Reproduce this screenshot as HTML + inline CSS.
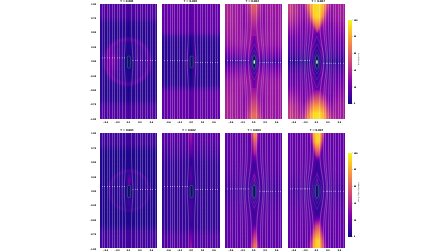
<!DOCTYPE html>
<html><head><meta charset="utf-8"><title>figure</title>
<style>
html,body{margin:0;padding:0;background:#fff}
body{width:448px;height:252px;position:relative;overflow:hidden}
.p{position:absolute;width:57.30px;height:115.30px;overflow:hidden}
.p>b{position:absolute;left:-2px;top:-2px;right:-2px;bottom:-2px;filter:blur(0.6px)}
.p i{position:absolute;left:0;width:100%;display:block}
svg{position:absolute;left:0;top:0}
.cb{position:absolute}
</style></head><body>

<div class="p" style="left:99.75px;top:4.20px"><b><i style="top:0.0px;height:7.05px;background:linear-gradient(90deg,#5002a2 0.0px,#5002a2 29.2px,#3c049b 30.8px,#4b03a1 31.5px,#5002a2 33.0px,#5002a2 60.8px)"></i><i style="top:7.0px;height:4.05px;background:linear-gradient(90deg,#5002a2 0.0px,#5002a2 29.2px,#48039f 30.0px,#3a049a 30.8px,#4b03a1 31.5px,#5002a2 33.0px,#5002a2 60.8px)"></i><i style="top:11.0px;height:1.05px;background:linear-gradient(90deg,#5002a2 0.0px,#4e02a2 29.2px,#3a049a 30.8px,#4b03a1 31.5px,#5002a2 33.0px,#5002a2 60.8px)"></i><i style="top:12.0px;height:1.05px;background:linear-gradient(90deg,#4e02a2 0.0px,#4e02a2 29.2px,#3a049a 30.8px,#4903a0 31.5px,#4e02a2 33.0px,#4e02a2 60.8px)"></i><i style="top:13.0px;height:1.05px;background:linear-gradient(90deg,#4e02a2 0.0px,#4c02a1 29.2px,#38049a 30.8px,#4903a0 31.5px,#4e02a2 33.0px,#4e02a2 60.8px)"></i><i style="top:14.0px;height:1.05px;background:linear-gradient(90deg,#4c02a1 0.0px,#4b03a1 29.2px,#370499 30.8px,#48039f 31.5px,#4c02a1 33.0px,#4c02a1 60.8px)"></i><i style="top:15.0px;height:1.05px;background:linear-gradient(90deg,#4903a0 0.0px,#4903a0 29.2px,#41049d 30.0px,#330597 30.8px,#44039e 31.5px,#4903a0 33.0px,#4903a0 60.8px)"></i><i style="top:16.0px;height:1.05px;background:linear-gradient(90deg,#46039f 0.0px,#44039e 29.2px,#2f0596 30.8px,#41049d 31.5px,#46039f 33.0px,#46039f 60.8px)"></i><i style="top:17.0px;height:1.05px;background:linear-gradient(90deg,#41049d 0.0px,#3f049c 29.2px,#2a0593 30.8px,#3c049b 31.5px,#41049d 32.2px,#41049d 60.8px)"></i><i style="top:18.0px;height:1.05px;background:linear-gradient(90deg,#3a049a 0.0px,#3a049a 29.2px,#240691 30.8px,#370499 31.5px,#3a049a 33.8px,#3a049a 60.8px)"></i><i style="top:19.0px;height:1.05px;background:linear-gradient(90deg,#350498 0.0px,#350498 29.2px,#2c0594 30.0px,#1d068e 30.8px,#2f0596 31.5px,#350498 32.2px,#350498 60.8px)"></i><i style="top:20.0px;height:1.05px;background:linear-gradient(90deg,#310597 0.0px,#310597 29.2px,#16078a 30.8px,#2c0594 31.5px,#310597 32.2px,#310597 60.8px)"></i><i style="top:21.0px;height:1.05px;background:linear-gradient(90deg,#2e0595 0.0px,#2e0595 29.2px,#240691 30.0px,#100788 30.8px,#280592 31.5px,#2e0595 32.2px,#2e0595 60.8px)"></i><i style="top:22.0px;height:1.05px;background:linear-gradient(90deg,#2c0594 0.0px,#2c0594 29.2px,#20068f 30.0px,#0d0887 30.8px,#260591 31.5px,#2c0594 32.2px,#2c0594 60.8px)"></i><i style="top:23.0px;height:1.05px;background:linear-gradient(90deg,#2a0593 0.0px,#2a0593 29.2px,#20068f 30.0px,#0d0887 30.8px,#240691 31.5px,#2a0593 32.2px,#2a0593 60.8px)"></i><i style="top:24.0px;height:1.05px;background:linear-gradient(90deg,#2a0593 0.0px,#280592 29.2px,#1d068e 30.0px,#0d0887 30.8px,#240691 31.5px,#2a0593 32.2px,#2a0593 60.8px)"></i><i style="top:25.0px;height:1.05px;background:linear-gradient(90deg,#280592 0.0px,#280592 29.2px,#1d068e 30.0px,#0d0887 30.8px,#240691 31.5px,#280592 33.0px,#280592 60.8px)"></i><i style="top:26.0px;height:6.05px;background:linear-gradient(90deg,#280592 0.0px,#280592 29.2px,#1d068e 30.0px,#0d0887 30.8px,#220690 31.5px,#280592 32.2px,#280592 60.8px)"></i><i style="top:32.0px;height:1.05px;background:linear-gradient(90deg,#280592 0.0px,#280592 29.2px,#1d068e 30.0px,#0d0887 30.8px,#240691 31.5px,#280592 33.0px,#280592 60.8px)"></i><i style="top:33.0px;height:1.05px;background:linear-gradient(90deg,#280592 0.0px,#2a0593 29.2px,#20068f 30.0px,#0d0887 30.8px,#240691 31.5px,#2a0593 32.2px,#280592 60.8px)"></i><i style="top:34.0px;height:1.05px;background:linear-gradient(90deg,#280592 0.0px,#2c0594 24.8px,#2f0596 29.2px,#260591 30.0px,#16078a 30.8px,#2a0593 31.5px,#2e0595 33.0px,#280592 43.5px,#280592 60.8px)"></i><i style="top:35.0px;height:1.05px;background:linear-gradient(90deg,#280592 0.0px,#2c0594 21.0px,#3c049b 28.5px,#3c049b 29.2px,#350498 30.0px,#280592 30.8px,#370499 31.5px,#3a049a 32.2px,#2a0593 39.0px,#280592 60.8px)"></i><i style="top:36.0px;height:1.05px;background:linear-gradient(90deg,#280592 0.0px,#2e0595 18.8px,#4b03a1 27.0px,#4e02a2 29.2px,#3e049c 30.8px,#4903a0 31.5px,#48039f 33.8px,#2c0594 40.5px,#280592 51.0px,#280592 60.8px)"></i><i style="top:37.0px;height:1.05px;background:linear-gradient(90deg,#280592 0.0px,#2c0594 14.2px,#2f0596 17.2px,#5302a3 24.0px,#5502a4 27.8px,#5002a2 29.2px,#3c049b 30.8px,#4903a0 31.5px,#5102a3 33.0px,#4e02a2 36.0px,#2f0596 41.2px,#280592 46.5px,#280592 60.8px)"></i><i style="top:38.0px;height:1.05px;background:linear-gradient(90deg,#280592 0.0px,#2c0594 12.0px,#350498 16.5px,#5302a3 21.0px,#5801a4 24.0px,#48039f 29.2px,#370499 30.8px,#44039e 31.5px,#5102a3 33.8px,#5601a4 36.8px,#48039f 39.8px,#310597 42.8px,#280592 46.5px,#280592 60.8px)"></i><i style="top:39.0px;height:1.05px;background:linear-gradient(90deg,#280592 0.0px,#2a0593 8.2px,#330597 14.2px,#4903a0 17.2px,#5801a4 19.5px,#5901a5 21.0px,#38049a 29.2px,#280592 30.8px,#350498 31.5px,#4903a0 34.5px,#5601a4 37.5px,#5801a4 39.0px,#4b03a1 41.2px,#310597 44.2px,#280592 48.0px,#280592 60.8px)"></i><i style="top:40.0px;height:1.05px;background:linear-gradient(90deg,#280592 0.0px,#2c0594 9.0px,#330597 12.8px,#5801a4 17.2px,#5b01a5 18.8px,#3f049c 24.8px,#2e0595 29.2px,#1d068e 30.8px,#2a0593 31.5px,#44039e 36.0px,#5801a4 39.8px,#5302a3 42.0px,#2f0596 45.8px,#280592 48.8px,#280592 60.8px)"></i><i style="top:41.0px;height:1.05px;background:linear-gradient(90deg,#280592 0.0px,#2c0594 8.2px,#330597 11.2px,#43039e 13.5px,#5b01a5 15.8px,#5e01a6 17.2px,#41049d 21.8px,#2f0596 27.8px,#220690 30.0px,#19068c 30.8px,#240691 31.5px,#3e049c 36.8px,#5801a4 41.2px,#5801a4 42.8px,#310597 46.5px,#2a0593 48.8px,#280592 60.8px)"></i><i style="top:42.0px;height:1.05px;background:linear-gradient(90deg,#280592 0.0px,#2c0594 7.5px,#330597 10.5px,#48039f 12.8px,#5b01a5 14.2px,#6100a7 15.8px,#5302a3 18.0px,#41049d 20.2px,#2e0595 27.8px,#1b068d 30.8px,#2c0594 33.0px,#38049a 36.8px,#44039e 39.8px,#5901a5 42.8px,#5601a4 44.2px,#330597 47.2px,#2a0593 49.5px,#280592 60.8px)"></i><i style="top:43.0px;height:1.05px;background:linear-gradient(90deg,#280592 0.0px,#2c0594 7.5px,#3a049a 10.5px,#6001a6 13.5px,#6400a7 14.2px,#5e01a6 15.8px,#44039e 18.8px,#3a049a 21.8px,#330597 26.2px,#1b068d 30.8px,#310597 34.5px,#44039e 41.2px,#5601a4 43.5px,#5801a4 45.0px,#350498 48.0px,#2a0593 50.2px,#280592 60.8px)"></i><i style="top:44.0px;height:1.05px;background:linear-gradient(90deg,#280592 0.0px,#2c0594 6.8px,#3a049a 9.8px,#6300a7 12.8px,#6700a8 13.5px,#6001a6 15.0px,#4b03a1 17.2px,#3e049c 20.2px,#2f0596 27.0px,#1d068e 30.8px,#350498 36.0px,#3f049c 41.2px,#5901a5 45.0px,#5901a5 45.8px,#3f049c 48.0px,#2f0596 49.5px,#280592 52.5px,#280592 60.8px)"></i><i style="top:45.0px;height:1.05px;background:linear-gradient(90deg,#280592 0.0px,#2c0594 6.0px,#330597 8.2px,#44039e 9.8px,#6600a7 12.0px,#6700a8 13.5px,#4c02a1 16.5px,#3c049b 21.0px,#2e0595 27.0px,#1d068e 30.8px,#370499 36.8px,#41049d 42.8px,#5801a4 45.8px,#5901a5 46.5px,#4b03a1 48.0px,#350498 49.5px,#2a0593 51.8px,#280592 60.8px)"></i><i style="top:46.0px;height:1.05px;background:linear-gradient(90deg,#280592 0.0px,#2c0594 6.0px,#38049a 8.2px,#6600a7 11.2px,#6a00a8 12.0px,#6300a7 13.5px,#4903a0 17.2px,#2f0596 26.2px,#20068f 30.0px,#20068f 31.5px,#370499 36.8px,#41049d 43.5px,#5801a4 46.5px,#5901a5 47.2px,#5502a4 48.0px,#350498 50.2px,#2a0593 51.8px,#280592 60.8px)"></i><i style="top:47.0px;height:1.05px;background:linear-gradient(90deg,#280592 0.0px,#2c0594 5.2px,#370499 7.5px,#4c02a1 9.0px,#6600a7 10.5px,#6c00a8 11.2px,#6600a7 12.8px,#5502a4 15.0px,#3a049a 22.5px,#2f0596 26.2px,#1d068e 30.0px,#280592 33.8px,#38049a 37.5px,#41049d 44.2px,#5801a4 47.2px,#5302a3 48.8px,#330597 51.0px,#280592 53.2px,#280592 60.8px)"></i><i style="top:48.0px;height:1.05px;background:linear-gradient(90deg,#280592 0.0px,#2c0594 5.2px,#330597 6.8px,#48039f 8.2px,#6400a7 9.8px,#6c00a8 10.5px,#6700a8 12.0px,#5901a5 14.2px,#4903a0 18.8px,#2e0595 26.2px,#1d068e 30.0px,#20068f 32.2px,#38049a 37.5px,#3f049c 42.8px,#41049d 45.0px,#4b03a1 46.5px,#5801a4 48.0px,#5801a4 48.8px,#38049a 51.0px,#2c0594 52.5px,#280592 56.2px,#280592 60.8px)"></i><i style="top:49.0px;height:1.05px;background:linear-gradient(90deg,#280592 0.0px,#2e0595 5.2px,#38049a 6.8px,#5102a3 8.2px,#6a00a8 9.8px,#6e00a8 10.5px,#5c01a6 14.2px,#5302a3 17.2px,#3e049c 21.8px,#2e0595 26.2px,#1d068e 30.0px,#20068f 32.2px,#38049a 37.5px,#41049d 42.8px,#41049d 45.8px,#4b03a1 47.2px,#5801a4 48.8px,#5601a4 49.5px,#350498 51.8px,#2a0593 53.2px,#280592 60.8px)"></i><i style="top:50.0px;height:1.05px;background:linear-gradient(90deg,#280592 0.0px,#2c0594 4.5px,#330597 6.0px,#5901a5 8.2px,#6700a8 9.0px,#6e00a8 9.8px,#6100a7 13.5px,#5901a5 16.5px,#3e049c 21.8px,#280592 27.0px,#1d068e 30.8px,#260591 33.8px,#3e049c 39.0px,#41049d 43.5px,#41049d 46.5px,#5601a4 48.8px,#5801a4 49.5px,#5302a3 50.2px,#310597 52.5px,#280592 54.8px,#280592 60.8px)"></i><i style="top:51.0px;height:1.05px;background:linear-gradient(90deg,#280592 0.0px,#2c0594 4.5px,#370499 6.0px,#6100a7 8.2px,#6a00a8 9.0px,#6e00a8 9.8px,#6400a7 12.0px,#6100a7 15.8px,#3c049b 22.5px,#1d068e 29.2px,#1d068e 31.5px,#3e049c 39.0px,#43039e 42.8px,#3f049c 46.5px,#4903a0 48.0px,#5801a4 49.5px,#5801a4 50.2px,#2e0595 53.2px,#280592 56.2px,#280592 60.8px)"></i><i style="top:52.0px;height:1.05px;background:linear-gradient(90deg,#280592 0.0px,#2e0595 4.5px,#3c049b 6.0px,#6600a7 8.2px,#6e00a8 9.0px,#6600a7 12.0px,#6700a8 15.0px,#5601a4 18.0px,#3c049b 22.5px,#1d068e 29.2px,#1d068e 31.5px,#280592 34.5px,#41049d 39.8px,#44039e 42.8px,#3e049c 46.5px,#44039e 48.0px,#5502a4 49.5px,#5801a4 50.2px,#5302a3 51.0px,#310597 53.2px,#280592 55.5px,#280592 60.8px)"></i><i style="top:53.0px;height:1.05px;background:linear-gradient(90deg,#280592 0.0px,#2c0594 3.8px,#350498 5.2px,#4e02a2 6.8px,#5e01a6 7.5px,#6900a8 8.2px,#6e00a8 9.0px,#6600a7 11.2px,#6c00a8 14.2px,#6400a7 16.5px,#3c049b 22.5px,#260591 27.0px,#1b068d 30.8px,#240691 33.8px,#3f049c 39.0px,#46039f 42.0px,#3e049c 47.2px,#48039f 48.8px,#5801a4 50.2px,#5601a4 51.0px,#350498 53.2px,#2a0593 54.8px,#280592 60.8px)"></i><i style="top:54.0px;height:1.05px;background:linear-gradient(90deg,#280592 0.0px,#2c0594 3.8px,#370499 5.2px,#5302a3 6.8px,#6300a7 7.5px,#6c00a8 8.2px,#6700a8 11.2px,#7100a8 14.2px,#6700a8 16.5px,#44039e 21.0px,#20068f 28.5px,#1b068d 30.8px,#240691 33.8px,#43039e 39.8px,#46039f 43.5px,#3e049c 47.2px,#44039e 48.8px,#5601a4 50.2px,#5801a4 51.0px,#5102a3 51.8px,#370499 53.2px,#2a0593 54.8px,#280592 60.8px)"></i><i style="top:55.0px;height:1.05px;background:linear-gradient(90deg,#280592 0.0px,#2c0594 3.8px,#3a049a 5.2px,#6600a7 7.5px,#6c00a8 8.2px,#6700a8 10.5px,#7401a8 14.2px,#6a00a8 16.5px,#41049d 21.8px,#20068f 28.5px,#1b068d 30.8px,#240691 33.8px,#41049d 39.0px,#48039f 42.8px,#3e049c 48.0px,#4b03a1 49.5px,#5502a4 50.2px,#5801a4 51.0px,#5302a3 51.8px,#310597 54.0px,#280592 56.2px,#280592 60.8px)"></i><i style="top:56.0px;height:1.05px;background:linear-gradient(90deg,#280592 0.0px,#2a0593 3.0px,#310597 4.5px,#4903a0 6.0px,#5b01a5 6.8px,#6700a8 7.5px,#6c00a8 8.2px,#6700a8 10.5px,#7501a8 13.5px,#7100a8 15.8px,#41049d 21.8px,#20068f 28.5px,#1b068d 30.8px,#260591 34.5px,#41049d 39.0px,#48039f 42.0px,#43039e 45.0px,#3e049c 48.0px,#48039f 49.5px,#5801a4 51.0px,#5502a4 51.8px,#310597 54.0px,#280592 56.2px,#280592 60.8px)"></i><i style="top:57.0px;height:1.05px;background:linear-gradient(90deg,#280592 0.0px,#2a0593 3.0px,#330597 4.5px,#4c02a1 6.0px,#6900a8 7.5px,#6c00a8 8.2px,#6700a8 10.5px,#7701a8 13.5px,#7701a8 15.0px,#6100a7 18.0px,#43039e 21.8px,#20068f 28.5px,#1b068d 30.8px,#260591 34.5px,#41049d 39.0px,#4903a0 42.8px,#3e049c 48.0px,#46039f 49.5px,#5801a4 51.0px,#5601a4 51.8px,#330597 54.0px,#280592 56.2px,#280592 60.8px)"></i><i style="top:58.0px;height:1.05px;background:linear-gradient(90deg,#280592 0.0px,#2e0595 3.8px,#3e049c 5.2px,#5e01a6 6.8px,#6900a8 7.5px,#6c00a8 8.2px,#6700a8 9.8px,#7801a8 13.5px,#7701a8 15.0px,#6900a8 17.2px,#48039f 21.0px,#220690 27.8px,#1b068d 30.8px,#260591 34.5px,#41049d 39.0px,#4903a0 42.8px,#3e049c 48.0px,#46039f 49.5px,#5601a4 51.0px,#5601a4 51.8px,#4e02a2 52.5px,#350498 54.0px,#2a0593 55.5px,#280592 60.8px)"></i><i style="top:59.0px;height:1.05px;background:linear-gradient(90deg,#280592 0.0px,#2e0595 3.8px,#330597 4.5px,#5e01a6 6.8px,#6900a8 7.5px,#6c00a8 8.2px,#6700a8 9.8px,#7a02a8 13.5px,#7801a8 15.0px,#6100a7 18.0px,#43039e 21.8px,#220690 27.8px,#1b068d 30.8px,#260591 34.5px,#41049d 39.0px,#4903a0 42.0px,#3e049c 48.0px,#46039f 49.5px,#5601a4 51.0px,#5601a4 51.8px,#4e02a2 52.5px,#350498 54.0px,#2a0593 55.5px,#280592 60.8px)"></i><i style="top:60.0px;height:1.05px;background:linear-gradient(90deg,#280592 0.0px,#2e0595 3.8px,#3e049c 5.2px,#5e01a6 6.8px,#6900a8 7.5px,#6c00a8 8.2px,#6700a8 9.8px,#7801a8 13.5px,#7801a8 15.0px,#6100a7 18.0px,#43039e 21.8px,#220690 27.8px,#1b068d 30.8px,#260591 34.5px,#41049d 39.0px,#4903a0 42.0px,#3e049c 48.0px,#46039f 49.5px,#5601a4 51.0px,#5601a4 51.8px,#4e02a2 52.5px,#350498 54.0px,#2a0593 55.5px,#280592 60.8px)"></i><i style="top:61.0px;height:1.05px;background:linear-gradient(90deg,#280592 0.0px,#2e0595 3.8px,#3e049c 5.2px,#6900a8 7.5px,#6c00a8 8.2px,#6700a8 9.8px,#7801a8 13.5px,#7401a8 15.8px,#43039e 21.8px,#20068f 28.5px,#1b068d 30.8px,#260591 34.5px,#41049d 39.0px,#4903a0 42.8px,#3e049c 48.0px,#46039f 49.5px,#5801a4 51.0px,#5601a4 51.8px,#330597 54.0px,#280592 56.2px,#280592 60.8px)"></i><i style="top:62.0px;height:1.05px;background:linear-gradient(90deg,#280592 0.0px,#2a0593 3.0px,#330597 4.5px,#3c049b 5.2px,#6700a8 7.5px,#6c00a8 8.2px,#6700a8 10.5px,#7701a8 13.5px,#7201a8 15.8px,#46039f 21.0px,#20068f 28.5px,#1b068d 30.8px,#260591 34.5px,#41049d 39.0px,#48039f 42.0px,#43039e 45.0px,#3e049c 48.0px,#48039f 49.5px,#5801a4 51.0px,#5601a4 51.8px,#330597 54.0px,#2c0594 54.8px,#280592 58.5px,#280592 60.8px)"></i><i style="top:63.0px;height:1.05px;background:linear-gradient(90deg,#280592 0.0px,#2c0594 3.8px,#3a049a 5.2px,#6600a7 7.5px,#6c00a8 8.2px,#6700a8 10.5px,#7401a8 13.5px,#6f00a8 15.8px,#41049d 21.8px,#20068f 28.5px,#1b068d 30.8px,#240691 33.8px,#41049d 39.0px,#48039f 42.0px,#3e049c 48.0px,#4903a0 49.5px,#5801a4 51.0px,#5502a4 51.8px,#310597 54.0px,#280592 56.2px,#280592 60.8px)"></i><i style="top:64.0px;height:1.05px;background:linear-gradient(90deg,#280592 0.0px,#2c0594 3.8px,#2f0596 4.5px,#44039e 6.0px,#6400a7 7.5px,#6c00a8 8.2px,#6700a8 11.2px,#7100a8 13.5px,#6c00a8 15.8px,#41049d 21.8px,#20068f 28.5px,#1b068d 30.8px,#240691 33.8px,#43039e 39.8px,#46039f 43.5px,#3e049c 47.2px,#44039e 48.8px,#5502a4 50.2px,#5801a4 51.0px,#5102a3 51.8px,#2f0596 54.0px,#280592 57.0px,#280592 60.8px)"></i><i style="top:65.0px;height:1.05px;background:linear-gradient(90deg,#280592 0.0px,#2c0594 3.8px,#350498 5.2px,#6001a6 7.5px,#6a00a8 8.2px,#6a00a8 9.8px,#6600a7 11.2px,#6e00a8 14.2px,#6001a6 17.2px,#41049d 21.8px,#20068f 28.5px,#1b068d 30.8px,#240691 33.8px,#3f049c 39.0px,#46039f 42.8px,#3e049c 47.2px,#48039f 48.8px,#5801a4 50.2px,#5601a4 51.0px,#4e02a2 51.8px,#350498 53.2px,#2a0593 54.8px,#280592 60.8px)"></i><i style="top:66.0px;height:1.05px;background:linear-gradient(90deg,#280592 0.0px,#2e0595 4.5px,#3c049b 6.0px,#6700a8 8.2px,#6e00a8 9.0px,#6600a7 12.0px,#6900a8 15.0px,#3c049b 22.5px,#1d068e 29.2px,#1d068e 31.5px,#2c0594 35.2px,#41049d 39.8px,#44039e 42.8px,#3e049c 46.5px,#43039e 48.0px,#5801a4 50.2px,#5502a4 51.0px,#310597 53.2px,#280592 55.5px,#280592 60.8px)"></i><i style="top:67.0px;height:1.05px;background:linear-gradient(90deg,#280592 0.0px,#2a0593 3.8px,#38049a 6.0px,#6300a7 8.2px,#6c00a8 9.0px,#6e00a8 9.8px,#6400a7 12.0px,#6400a7 15.0px,#38049a 23.2px,#1d068e 29.2px,#1d068e 31.5px,#280592 34.5px,#3e049c 39.0px,#43039e 42.8px,#3f049c 46.5px,#48039f 48.0px,#5601a4 49.5px,#5801a4 50.2px,#2f0596 53.2px,#280592 56.2px,#280592 60.8px)"></i><i style="top:68.0px;height:1.05px;background:linear-gradient(90deg,#280592 0.0px,#2c0594 4.5px,#350498 6.0px,#4c02a1 7.5px,#6900a8 9.0px,#6e00a8 9.8px,#6300a7 12.0px,#5b01a5 16.5px,#3f049c 21.8px,#20068f 29.2px,#1b068d 30.8px,#2a0593 34.5px,#3e049c 39.0px,#41049d 42.8px,#41049d 46.5px,#4c02a1 48.0px,#5801a4 49.5px,#5502a4 50.2px,#330597 52.5px,#280592 54.8px,#280592 60.8px)"></i><i style="top:69.0px;height:1.05px;background:linear-gradient(90deg,#280592 0.0px,#2e0595 5.2px,#38049a 6.8px,#6300a7 9.0px,#6c00a8 9.8px,#6e00a8 10.5px,#5e01a6 13.5px,#5801a4 16.5px,#38049a 23.2px,#260591 27.8px,#1d068e 30.8px,#260591 33.8px,#38049a 37.5px,#41049d 42.8px,#3f049c 45.8px,#4903a0 47.2px,#5801a4 48.8px,#5801a4 49.5px,#5002a2 50.2px,#370499 51.8px,#2c0594 53.2px,#280592 57.0px,#280592 60.8px)"></i><i style="top:70.0px;height:1.05px;background:linear-gradient(90deg,#280592 0.0px,#2c0594 5.2px,#350498 6.8px,#4b03a1 8.2px,#6600a7 9.8px,#6c00a8 10.5px,#6700a8 12.0px,#5c01a6 13.5px,#370499 24.0px,#1d068e 30.0px,#20068f 32.2px,#38049a 37.5px,#3f049c 42.8px,#3f049c 45.0px,#5601a4 48.0px,#5801a4 48.8px,#5302a3 49.5px,#310597 51.8px,#280592 54.0px,#280592 60.8px)"></i><i style="top:71.0px;height:1.05px;background:linear-gradient(90deg,#280592 0.0px,#2c0594 5.2px,#310597 6.8px,#43039e 8.2px,#6900a8 10.5px,#6a00a8 12.0px,#5601a4 15.0px,#38049a 23.2px,#280592 27.8px,#1d068e 30.0px,#280592 33.8px,#38049a 37.5px,#43039e 45.0px,#5901a5 48.0px,#4b03a1 49.5px,#2e0595 51.8px,#280592 54.8px,#280592 60.8px)"></i><i style="top:72.0px;height:1.05px;background:linear-gradient(90deg,#280592 0.0px,#2c0594 6.0px,#3a049a 8.2px,#6900a8 11.2px,#6c00a8 12.0px,#5102a3 15.8px,#3c049b 21.8px,#2f0596 26.2px,#20068f 30.0px,#20068f 31.5px,#38049a 37.5px,#3f049c 43.5px,#48039f 45.0px,#5601a4 46.5px,#5901a5 47.2px,#5601a4 48.0px,#2f0596 51.0px,#280592 54.0px,#280592 60.8px)"></i><i style="top:73.0px;height:1.05px;background:linear-gradient(90deg,#280592 0.0px,#2c0594 6.0px,#350498 8.2px,#46039f 9.8px,#6001a6 11.2px,#6a00a8 12.8px,#4c02a1 16.5px,#3e049c 21.0px,#2e0595 27.0px,#1d068e 30.8px,#370499 36.8px,#3f049c 42.8px,#5901a5 46.5px,#4e02a2 48.0px,#2f0596 50.2px,#280592 53.2px,#280592 60.8px)"></i><i style="top:74.0px;height:1.05px;background:linear-gradient(90deg,#280592 0.0px,#2c0594 6.8px,#370499 9.0px,#48039f 10.5px,#6600a7 12.8px,#6400a7 14.2px,#4903a0 17.2px,#3a049a 21.8px,#310597 26.2px,#1d068e 30.8px,#350498 36.0px,#41049d 42.0px,#5801a4 45.0px,#5601a4 46.5px,#310597 49.5px,#280592 51.8px,#280592 60.8px)"></i><i style="top:75.0px;height:1.05px;background:linear-gradient(90deg,#280592 0.0px,#2c0594 6.8px,#310597 9.0px,#3c049b 10.5px,#6300a7 13.5px,#6600a7 14.2px,#5c01a6 15.8px,#43039e 18.8px,#38049a 23.2px,#2f0596 27.0px,#1b068d 30.8px,#310597 34.5px,#3f049c 40.5px,#5901a5 44.2px,#5502a4 45.8px,#310597 48.8px,#2a0593 50.2px,#280592 60.8px)"></i><i style="top:76.0px;height:1.05px;background:linear-gradient(90deg,#280592 0.0px,#2c0594 7.5px,#350498 10.5px,#4c02a1 12.8px,#5e01a6 14.2px,#6100a7 15.8px,#3f049c 20.2px,#2e0595 27.8px,#1b068d 30.8px,#2c0594 33.0px,#41049d 39.8px,#5801a4 42.8px,#5801a4 44.2px,#2f0596 48.0px,#280592 51.0px,#280592 60.8px)"></i><i style="top:77.0px;height:1.05px;background:linear-gradient(90deg,#280592 0.0px,#2c0594 8.2px,#38049a 12.0px,#5e01a6 15.8px,#5c01a6 17.2px,#3f049c 21.8px,#2f0596 27.8px,#220690 30.0px,#19068c 30.8px,#240691 31.5px,#370499 35.2px,#46039f 39.0px,#5901a5 42.0px,#5502a4 43.5px,#2f0596 47.2px,#280592 50.2px,#280592 60.8px)"></i><i style="top:78.0px;height:1.05px;background:linear-gradient(90deg,#280592 0.0px,#2c0594 9.0px,#330597 12.0px,#41049d 14.2px,#5b01a5 17.2px,#5b01a5 18.8px,#41049d 23.2px,#2f0596 28.5px,#240691 30.0px,#1b068d 30.8px,#280592 31.5px,#41049d 36.0px,#5801a4 40.5px,#5601a4 42.0px,#310597 45.8px,#280592 49.5px,#280592 60.8px)"></i><i style="top:79.0px;height:1.05px;background:linear-gradient(90deg,#280592 0.0px,#2c0594 9.8px,#370499 14.2px,#5801a4 18.8px,#5801a4 21.0px,#350498 29.2px,#240691 30.8px,#310597 31.5px,#4903a0 35.2px,#5601a4 38.2px,#5801a4 39.8px,#4903a0 42.0px,#330597 44.2px,#2a0593 46.5px,#280592 60.8px)"></i><i style="top:80.0px;height:1.05px;background:linear-gradient(90deg,#280592 0.0px,#2c0594 11.2px,#350498 15.8px,#5302a3 20.2px,#5801a4 23.2px,#46039f 28.5px,#3c049b 30.0px,#310597 30.8px,#3f049c 31.5px,#4e02a2 33.8px,#5801a4 36.8px,#4c02a1 39.8px,#2f0596 43.5px,#2a0593 45.8px,#280592 60.8px)"></i><i style="top:81.0px;height:1.05px;background:linear-gradient(90deg,#280592 0.0px,#2c0594 13.5px,#2f0596 16.5px,#5102a3 22.5px,#5601a4 25.5px,#4e02a2 29.2px,#3c049b 30.8px,#4903a0 31.5px,#5302a3 33.0px,#5102a3 36.0px,#41049d 39.0px,#2c0594 42.8px,#280592 51.0px,#280592 60.8px)"></i><i style="top:82.0px;height:1.05px;background:linear-gradient(90deg,#280592 0.0px,#2e0595 18.0px,#3c049b 21.8px,#4c02a1 25.5px,#4c02a1 28.5px,#4b03a1 29.2px,#350498 30.8px,#44039e 31.5px,#4903a0 33.0px,#43039e 36.0px,#2e0595 40.5px,#280592 46.5px,#280592 60.8px)"></i><i style="top:83.0px;height:1.05px;background:linear-gradient(90deg,#280592 0.0px,#2c0594 19.5px,#41049d 28.5px,#41049d 29.2px,#2f0596 30.8px,#3c049b 31.5px,#3a049a 33.8px,#2a0593 40.5px,#280592 60.8px)"></i><i style="top:84.0px;height:1.05px;background:linear-gradient(90deg,#280592 0.0px,#2c0594 23.2px,#310597 29.2px,#2a0593 30.0px,#1b068d 30.8px,#2c0594 31.5px,#310597 32.2px,#280592 41.2px,#280592 60.8px)"></i><i style="top:85.0px;height:1.05px;background:linear-gradient(90deg,#280592 0.0px,#2a0593 27.8px,#2a0593 29.2px,#20068f 30.0px,#0d0887 30.8px,#260591 31.5px,#2a0593 33.0px,#280592 60.8px)"></i><i style="top:86.0px;height:1.05px;background:linear-gradient(90deg,#280592 0.0px,#280592 29.2px,#1d068e 30.0px,#0d0887 30.8px,#240691 31.5px,#280592 33.0px,#280592 60.8px)"></i><i style="top:87.0px;height:6.05px;background:linear-gradient(90deg,#280592 0.0px,#280592 29.2px,#1d068e 30.0px,#0d0887 30.8px,#220690 31.5px,#280592 32.2px,#280592 60.8px)"></i><i style="top:93.0px;height:1.05px;background:linear-gradient(90deg,#280592 0.0px,#280592 29.2px,#1d068e 30.0px,#0d0887 30.8px,#240691 31.5px,#280592 33.0px,#280592 60.8px)"></i><i style="top:94.0px;height:1.05px;background:linear-gradient(90deg,#2a0593 0.0px,#280592 29.2px,#1d068e 30.0px,#0d0887 30.8px,#240691 31.5px,#2a0593 33.8px,#2a0593 60.8px)"></i><i style="top:95.0px;height:1.05px;background:linear-gradient(90deg,#2a0593 0.0px,#2a0593 29.2px,#20068f 30.0px,#0d0887 30.8px,#240691 31.5px,#2a0593 32.2px,#2a0593 60.8px)"></i><i style="top:96.0px;height:1.05px;background:linear-gradient(90deg,#2a0593 0.0px,#2a0593 29.2px,#20068f 30.0px,#0d0887 30.8px,#260591 31.5px,#2a0593 33.0px,#2a0593 60.8px)"></i><i style="top:97.0px;height:1.05px;background:linear-gradient(90deg,#2e0595 0.0px,#2c0594 29.2px,#220690 30.0px,#100788 30.8px,#280592 31.5px,#2e0595 34.5px,#2e0595 60.8px)"></i><i style="top:98.0px;height:1.05px;background:linear-gradient(90deg,#2f0596 0.0px,#2f0596 29.2px,#260591 30.0px,#16078a 30.8px,#2a0593 31.5px,#2f0596 32.2px,#2f0596 60.8px)"></i><i style="top:99.0px;height:1.05px;background:linear-gradient(90deg,#330597 0.0px,#330597 29.2px,#2a0593 30.0px,#1b068d 30.8px,#2f0596 31.5px,#330597 33.8px,#330597 60.8px)"></i><i style="top:100.0px;height:1.05px;background:linear-gradient(90deg,#38049a 0.0px,#38049a 29.2px,#220690 30.8px,#350498 31.5px,#38049a 33.8px,#38049a 60.8px)"></i><i style="top:101.0px;height:1.05px;background:linear-gradient(90deg,#3f049c 0.0px,#3e049c 29.2px,#280592 30.8px,#3a049a 31.5px,#3f049c 32.2px,#3f049c 60.8px)"></i><i style="top:102.0px;height:1.05px;background:linear-gradient(90deg,#44039e 0.0px,#44039e 29.2px,#3c049b 30.0px,#2e0595 30.8px,#3f049c 31.5px,#44039e 32.2px,#44039e 60.8px)"></i><i style="top:103.0px;height:1.05px;background:linear-gradient(90deg,#48039f 0.0px,#48039f 29.2px,#330597 30.8px,#44039e 31.5px,#48039f 34.5px,#48039f 60.8px)"></i><i style="top:104.0px;height:1.05px;background:linear-gradient(90deg,#4b03a1 0.0px,#4b03a1 29.2px,#370499 30.8px,#46039f 31.5px,#4b03a1 33.0px,#4b03a1 60.8px)"></i><i style="top:105.0px;height:1.05px;background:linear-gradient(90deg,#4c02a1 0.0px,#4c02a1 29.2px,#38049a 30.8px,#4903a0 31.5px,#4c02a1 34.5px,#4c02a1 60.8px)"></i><i style="top:106.0px;height:1.05px;background:linear-gradient(90deg,#4e02a2 0.0px,#4e02a2 29.2px,#3a049a 30.8px,#4903a0 31.5px,#4e02a2 33.0px,#4e02a2 60.8px)"></i><i style="top:107.0px;height:1.05px;background:linear-gradient(90deg,#4e02a2 0.0px,#4e02a2 29.2px,#3a049a 30.8px,#4b03a1 31.5px,#4e02a2 34.5px,#4e02a2 60.8px)"></i><i style="top:108.0px;height:1.05px;background:linear-gradient(90deg,#5002a2 0.0px,#5002a2 29.2px,#3a049a 30.8px,#4b03a1 31.5px,#5002a2 33.0px,#5002a2 60.8px)"></i><i style="top:109.0px;height:4.05px;background:linear-gradient(90deg,#5002a2 0.0px,#5002a2 29.2px,#48039f 30.0px,#3a049a 30.8px,#4b03a1 31.5px,#5002a2 33.0px,#5002a2 60.8px)"></i><i style="top:113.0px;height:6.35px;background:linear-gradient(90deg,#5002a2 0.0px,#5002a2 29.2px,#3c049b 30.8px,#4b03a1 31.5px,#5002a2 33.0px,#5002a2 60.8px)"></i></b></div>
<div class="p" style="left:162.43px;top:4.20px"><b><i style="top:0.0px;height:21.05px;background:linear-gradient(90deg,#6400a7 0.0px,#6400a7 29.2px,#4c02a1 30.8px,#6001a6 31.5px,#6400a7 33.0px,#6400a7 60.8px)"></i><i style="top:21.0px;height:4.05px;background:linear-gradient(90deg,#6400a7 0.0px,#6400a7 29.2px,#4c02a1 30.8px,#5e01a6 31.5px,#6400a7 32.2px,#6400a7 60.8px)"></i><i style="top:25.0px;height:1.05px;background:linear-gradient(90deg,#6300a7 0.0px,#6300a7 29.2px,#5901a5 30.0px,#4b03a1 30.8px,#5e01a6 31.5px,#6400a7 33.0px,#6300a7 60.8px)"></i><i style="top:26.0px;height:1.05px;background:linear-gradient(90deg,#6300a7 0.0px,#6300a7 29.2px,#5901a5 30.0px,#4b03a1 30.8px,#5e01a6 31.5px,#6300a7 33.0px,#6300a7 60.8px)"></i><i style="top:27.0px;height:1.05px;background:linear-gradient(90deg,#6100a7 0.0px,#6100a7 29.2px,#5801a4 30.0px,#4903a0 30.8px,#5c01a6 31.5px,#6300a7 33.0px,#6100a7 60.8px)"></i><i style="top:28.0px;height:1.05px;background:linear-gradient(90deg,#6001a6 0.0px,#6001a6 29.2px,#5601a4 30.0px,#48039f 30.8px,#5b01a5 31.5px,#6100a7 33.0px,#6001a6 60.8px)"></i><i style="top:29.0px;height:1.05px;background:linear-gradient(90deg,#5c01a6 0.0px,#5e01a6 27.0px,#5e01a6 29.2px,#44039e 30.8px,#5801a4 31.5px,#5e01a6 33.0px,#5c01a6 60.8px)"></i><i style="top:30.0px;height:1.05px;background:linear-gradient(90deg,#5901a5 0.0px,#5901a5 29.2px,#5002a2 30.0px,#41049d 30.8px,#5302a3 31.5px,#5901a5 32.2px,#5901a5 60.8px)"></i><i style="top:31.0px;height:1.05px;background:linear-gradient(90deg,#5302a3 0.0px,#5502a4 27.0px,#5302a3 29.2px,#4903a0 30.0px,#3a049a 30.8px,#4c02a1 31.5px,#5502a4 33.0px,#5302a3 60.8px)"></i><i style="top:32.0px;height:1.05px;background:linear-gradient(90deg,#4b03a1 0.0px,#4c02a1 26.2px,#4c02a1 29.2px,#310597 30.8px,#46039f 31.5px,#4e02a2 33.8px,#4b03a1 46.5px,#4b03a1 60.8px)"></i><i style="top:33.0px;height:1.05px;background:linear-gradient(90deg,#43039e 0.0px,#44039e 26.2px,#46039f 28.5px,#44039e 29.2px,#280592 30.8px,#3e049c 31.5px,#46039f 33.8px,#43039e 48.8px,#43039e 60.8px)"></i><i style="top:34.0px;height:1.05px;background:linear-gradient(90deg,#3c049b 0.0px,#3e049c 26.2px,#3f049c 28.5px,#3e049c 29.2px,#310597 30.0px,#20068f 30.8px,#350498 31.5px,#3c049b 32.2px,#41049d 34.5px,#3c049b 38.2px,#3c049b 60.8px)"></i><i style="top:35.0px;height:1.05px;background:linear-gradient(90deg,#350498 0.0px,#370499 25.5px,#3c049b 27.8px,#38049a 29.2px,#2c0594 30.0px,#16078a 30.8px,#2f0596 31.5px,#370499 32.2px,#3c049b 34.5px,#350498 39.0px,#350498 60.8px)"></i><i style="top:36.0px;height:1.05px;background:linear-gradient(90deg,#310597 0.0px,#330597 25.5px,#38049a 27.8px,#350498 29.2px,#260591 30.0px,#100788 30.8px,#2c0594 31.5px,#330597 32.2px,#38049a 35.2px,#310597 38.2px,#310597 60.8px)"></i><i style="top:37.0px;height:1.05px;background:linear-gradient(90deg,#2e0595 0.0px,#2f0596 25.5px,#370499 27.8px,#310597 29.2px,#240691 30.0px,#0d0887 30.8px,#280592 31.5px,#330597 33.0px,#370499 35.2px,#2f0596 37.5px,#2e0595 60.8px)"></i><i style="top:38.0px;height:1.05px;background:linear-gradient(90deg,#2e0595 0.0px,#2f0596 25.5px,#370499 27.8px,#310597 29.2px,#220690 30.0px,#0d0887 30.8px,#260591 31.5px,#310597 33.0px,#370499 34.5px,#2e0595 38.2px,#2e0595 60.8px)"></i><i style="top:39.0px;height:1.05px;background:linear-gradient(90deg,#2c0594 0.0px,#2e0595 25.5px,#38049a 27.8px,#310597 29.2px,#220690 30.0px,#0d0887 30.8px,#260591 31.5px,#310597 33.0px,#38049a 34.5px,#2c0594 37.5px,#2c0594 60.8px)"></i><i style="top:40.0px;height:1.05px;background:linear-gradient(90deg,#2c0594 0.0px,#2e0595 25.5px,#38049a 27.8px,#310597 29.2px,#220690 30.0px,#0d0887 30.8px,#260591 31.5px,#370499 33.8px,#370499 35.2px,#2c0594 37.5px,#2c0594 60.8px)"></i><i style="top:41.0px;height:1.05px;background:linear-gradient(90deg,#2c0594 0.0px,#2e0595 25.5px,#3a049a 27.8px,#310597 29.2px,#220690 30.0px,#0d0887 30.8px,#260591 31.5px,#370499 33.8px,#3a049a 34.5px,#2c0594 37.5px,#2c0594 60.8px)"></i><i style="top:42.0px;height:1.05px;background:linear-gradient(90deg,#2a0593 0.0px,#2c0594 24.8px,#330597 26.2px,#3a049a 27.0px,#3c049b 27.8px,#38049a 28.5px,#2f0596 29.2px,#1b068d 30.0px,#0d0887 30.8px,#20068f 31.5px,#2c0594 32.2px,#3c049b 34.5px,#3a049a 35.2px,#2e0595 36.8px,#2a0593 42.8px,#2a0593 60.8px)"></i><i style="top:43.0px;height:1.05px;background:linear-gradient(90deg,#2a0593 0.0px,#2c0594 24.8px,#3e049c 27.8px,#2f0596 29.2px,#19068c 30.0px,#0d0887 30.8px,#2c0594 32.2px,#3a049a 33.8px,#3e049c 34.5px,#2e0595 36.8px,#2a0593 40.5px,#2a0593 60.8px)"></i><i style="top:44.0px;height:1.05px;background:linear-gradient(90deg,#2a0593 0.0px,#2c0594 24.8px,#3f049c 27.8px,#3a049a 28.5px,#2f0596 29.2px,#16078a 30.0px,#0d0887 30.8px,#2a0593 32.2px,#3c049b 33.8px,#3f049c 34.5px,#2c0594 37.5px,#2a0593 60.8px)"></i><i style="top:45.0px;height:1.05px;background:linear-gradient(90deg,#2a0593 0.0px,#2c0594 24.8px,#41049d 27.8px,#3c049b 28.5px,#2f0596 29.2px,#16078a 30.0px,#0d0887 30.8px,#2a0593 32.2px,#3e049c 33.8px,#41049d 34.5px,#2c0594 37.5px,#2a0593 60.8px)"></i><i style="top:46.0px;height:1.05px;background:linear-gradient(90deg,#2a0593 0.0px,#2c0594 24.8px,#370499 26.2px,#3f049c 27.0px,#43039e 27.8px,#3c049b 28.5px,#2f0596 29.2px,#130789 30.0px,#0d0887 30.8px,#19068c 31.5px,#2a0593 32.2px,#44039e 34.5px,#2c0594 37.5px,#2a0593 60.8px)"></i><i style="top:47.0px;height:1.05px;background:linear-gradient(90deg,#2a0593 0.0px,#2c0594 24.8px,#2f0596 25.5px,#41049d 27.0px,#44039e 27.8px,#3e049c 28.5px,#2f0596 29.2px,#130789 30.0px,#0d0887 30.8px,#16078a 31.5px,#350498 33.0px,#46039f 34.5px,#2f0596 36.8px,#2a0593 39.0px,#2a0593 60.8px)"></i><i style="top:48.0px;height:1.05px;background:linear-gradient(90deg,#2a0593 0.0px,#2c0594 24.8px,#43039e 27.0px,#46039f 27.8px,#3e049c 28.5px,#2e0595 29.2px,#100788 30.0px,#0d0887 30.8px,#16078a 31.5px,#350498 33.0px,#41049d 33.8px,#48039f 34.5px,#44039e 35.2px,#310597 36.8px,#2a0593 38.2px,#2a0593 60.8px)"></i><i style="top:49.0px;height:1.05px;background:linear-gradient(90deg,#2a0593 0.0px,#2c0594 24.8px,#3a049a 26.2px,#44039e 27.0px,#48039f 27.8px,#3f049c 28.5px,#2e0595 29.2px,#100788 30.0px,#0d0887 30.8px,#130789 31.5px,#280592 32.2px,#43039e 33.8px,#4903a0 34.5px,#46039f 35.2px,#310597 36.8px,#2a0593 38.2px,#2a0593 60.8px)"></i><i style="top:50.0px;height:1.05px;background:linear-gradient(90deg,#2a0593 0.0px,#2c0594 24.8px,#3c049b 26.2px,#46039f 27.0px,#4903a0 27.8px,#3f049c 28.5px,#2e0595 29.2px,#100788 30.0px,#0d0887 30.8px,#130789 31.5px,#44039e 33.8px,#4b03a1 34.5px,#48039f 35.2px,#310597 36.8px,#2a0593 38.2px,#2a0593 60.8px)"></i><i style="top:51.0px;height:1.05px;background:linear-gradient(90deg,#2a0593 0.0px,#2c0594 24.8px,#3c049b 26.2px,#48039f 27.0px,#4b03a1 27.8px,#41049d 28.5px,#2e0595 29.2px,#100788 30.0px,#0d0887 30.8px,#130789 31.5px,#46039f 33.8px,#4c02a1 34.5px,#48039f 35.2px,#310597 36.8px,#2a0593 38.2px,#2a0593 60.8px)"></i><i style="top:52.0px;height:1.05px;background:linear-gradient(90deg,#2a0593 0.0px,#2c0594 24.8px,#4903a0 27.0px,#4c02a1 27.8px,#41049d 28.5px,#2e0595 29.2px,#100788 30.0px,#0d0887 30.8px,#100788 31.5px,#260591 32.2px,#46039f 33.8px,#4e02a2 34.5px,#4903a0 35.2px,#310597 36.8px,#2c0594 37.5px,#2a0593 60.8px)"></i><i style="top:53.0px;height:1.05px;background:linear-gradient(90deg,#2a0593 0.0px,#2c0594 24.0px,#330597 25.5px,#4b03a1 27.0px,#4e02a2 27.8px,#43039e 28.5px,#2f0596 29.2px,#100788 30.0px,#0d0887 30.8px,#100788 31.5px,#48039f 33.8px,#5002a2 34.5px,#4b03a1 35.2px,#330597 36.8px,#2c0594 37.5px,#2a0593 60.8px)"></i><i style="top:54.0px;height:1.05px;background:linear-gradient(90deg,#2a0593 0.0px,#2c0594 24.0px,#330597 25.5px,#4b03a1 27.0px,#4e02a2 27.8px,#43039e 28.5px,#2f0596 29.2px,#100788 30.0px,#0d0887 30.8px,#100788 31.5px,#48039f 33.8px,#5102a3 34.5px,#4c02a1 35.2px,#330597 36.8px,#2a0593 39.0px,#2a0593 60.8px)"></i><i style="top:55.0px;height:1.05px;background:linear-gradient(90deg,#2a0593 0.0px,#2c0594 24.0px,#330597 25.5px,#4c02a1 27.0px,#5002a2 27.8px,#43039e 28.5px,#2f0596 29.2px,#100788 30.0px,#0d0887 30.8px,#100788 31.5px,#4903a0 33.8px,#5302a3 34.5px,#4c02a1 35.2px,#330597 36.8px,#2a0593 39.0px,#2a0593 60.8px)"></i><i style="top:56.0px;height:1.05px;background:linear-gradient(90deg,#2a0593 0.0px,#2c0594 24.0px,#330597 25.5px,#4c02a1 27.0px,#5002a2 27.8px,#44039e 28.5px,#2f0596 29.2px,#100788 30.0px,#0d0887 30.8px,#100788 31.5px,#4903a0 33.8px,#5302a3 34.5px,#4e02a2 35.2px,#330597 36.8px,#2a0593 39.0px,#2a0593 60.8px)"></i><i style="top:57.0px;height:1.05px;background:linear-gradient(90deg,#2a0593 0.0px,#2c0594 24.0px,#330597 25.5px,#4e02a2 27.0px,#5102a3 27.8px,#44039e 28.5px,#2f0596 29.2px,#100788 30.0px,#0d0887 30.8px,#100788 31.5px,#4903a0 33.8px,#5502a4 34.5px,#4e02a2 35.2px,#330597 36.8px,#2a0593 39.0px,#2a0593 60.8px)"></i><i style="top:58.0px;height:1.05px;background:linear-gradient(90deg,#2a0593 0.0px,#2c0594 24.0px,#330597 25.5px,#4e02a2 27.0px,#5102a3 27.8px,#44039e 28.5px,#2f0596 29.2px,#100788 30.0px,#0d0887 30.8px,#100788 31.5px,#4903a0 33.8px,#5502a4 34.5px,#5002a2 35.2px,#330597 36.8px,#2a0593 39.0px,#2a0593 60.8px)"></i><i style="top:59.0px;height:2.05px;background:linear-gradient(90deg,#2a0593 0.0px,#2c0594 24.0px,#330597 25.5px,#4e02a2 27.0px,#5102a3 27.8px,#44039e 28.5px,#2f0596 29.2px,#100788 30.0px,#0d0887 30.8px,#100788 31.5px,#4b03a1 33.8px,#5502a4 34.5px,#5002a2 35.2px,#330597 36.8px,#2a0593 39.0px,#2a0593 60.8px)"></i><i style="top:61.0px;height:1.05px;background:linear-gradient(90deg,#2a0593 0.0px,#2c0594 24.0px,#330597 25.5px,#4e02a2 27.0px,#5102a3 27.8px,#44039e 28.5px,#2f0596 29.2px,#100788 30.0px,#0d0887 30.8px,#100788 31.5px,#4903a0 33.8px,#5502a4 34.5px,#4e02a2 35.2px,#330597 36.8px,#2a0593 39.0px,#2a0593 60.8px)"></i><i style="top:62.0px;height:1.05px;background:linear-gradient(90deg,#2a0593 0.0px,#2c0594 24.0px,#330597 25.5px,#4e02a2 27.0px,#5002a2 27.8px,#44039e 28.5px,#2f0596 29.2px,#100788 30.0px,#0d0887 30.8px,#100788 31.5px,#4903a0 33.8px,#5302a3 34.5px,#4e02a2 35.2px,#330597 36.8px,#2a0593 39.0px,#2a0593 60.8px)"></i><i style="top:63.0px;height:1.05px;background:linear-gradient(90deg,#2a0593 0.0px,#2c0594 24.0px,#330597 25.5px,#4c02a1 27.0px,#5002a2 27.8px,#43039e 28.5px,#2f0596 29.2px,#100788 30.0px,#0d0887 30.8px,#100788 31.5px,#4903a0 33.8px,#5302a3 34.5px,#4e02a2 35.2px,#330597 36.8px,#2a0593 39.0px,#2a0593 60.8px)"></i><i style="top:64.0px;height:1.05px;background:linear-gradient(90deg,#2a0593 0.0px,#2c0594 24.0px,#330597 25.5px,#4c02a1 27.0px,#4e02a2 27.8px,#43039e 28.5px,#2f0596 29.2px,#100788 30.0px,#0d0887 30.8px,#100788 31.5px,#48039f 33.8px,#5102a3 34.5px,#4c02a1 35.2px,#330597 36.8px,#2a0593 39.0px,#2a0593 60.8px)"></i><i style="top:65.0px;height:1.05px;background:linear-gradient(90deg,#2a0593 0.0px,#2c0594 24.0px,#330597 25.5px,#4b03a1 27.0px,#4e02a2 27.8px,#43039e 28.5px,#2f0596 29.2px,#100788 30.0px,#0d0887 30.8px,#100788 31.5px,#48039f 33.8px,#5002a2 34.5px,#4b03a1 35.2px,#330597 36.8px,#2c0594 37.5px,#2a0593 60.8px)"></i><i style="top:66.0px;height:1.05px;background:linear-gradient(90deg,#2a0593 0.0px,#2c0594 24.8px,#4903a0 27.0px,#4c02a1 27.8px,#41049d 28.5px,#2e0595 29.2px,#100788 30.0px,#0d0887 30.8px,#100788 31.5px,#260591 32.2px,#46039f 33.8px,#5002a2 34.5px,#4b03a1 35.2px,#330597 36.8px,#2c0594 37.5px,#2a0593 60.8px)"></i><i style="top:67.0px;height:1.05px;background:linear-gradient(90deg,#2a0593 0.0px,#2c0594 24.8px,#310597 25.5px,#4903a0 27.0px,#4b03a1 27.8px,#41049d 28.5px,#2e0595 29.2px,#100788 30.0px,#0d0887 30.8px,#130789 31.5px,#46039f 33.8px,#4e02a2 34.5px,#4903a0 35.2px,#310597 36.8px,#2a0593 38.2px,#2a0593 60.8px)"></i><i style="top:68.0px;height:1.05px;background:linear-gradient(90deg,#2a0593 0.0px,#2c0594 24.8px,#3c049b 26.2px,#48039f 27.0px,#4903a0 27.8px,#3f049c 28.5px,#2e0595 29.2px,#100788 30.0px,#0d0887 30.8px,#130789 31.5px,#44039e 33.8px,#4c02a1 34.5px,#48039f 35.2px,#310597 36.8px,#2a0593 38.2px,#2a0593 60.8px)"></i><i style="top:69.0px;height:1.05px;background:linear-gradient(90deg,#2a0593 0.0px,#2c0594 24.8px,#3a049a 26.2px,#46039f 27.0px,#4903a0 27.8px,#3f049c 28.5px,#2e0595 29.2px,#100788 30.0px,#0d0887 30.8px,#130789 31.5px,#350498 33.0px,#43039e 33.8px,#4903a0 34.5px,#46039f 35.2px,#310597 36.8px,#2a0593 38.2px,#2a0593 60.8px)"></i><i style="top:70.0px;height:1.05px;background:linear-gradient(90deg,#2a0593 0.0px,#2c0594 24.8px,#3a049a 26.2px,#44039e 27.0px,#48039f 27.8px,#3e049c 28.5px,#2e0595 29.2px,#100788 30.0px,#0d0887 30.8px,#16078a 31.5px,#350498 33.0px,#41049d 33.8px,#48039f 34.5px,#44039e 35.2px,#310597 36.8px,#2a0593 38.2px,#2a0593 60.8px)"></i><i style="top:71.0px;height:1.05px;background:linear-gradient(90deg,#2a0593 0.0px,#2c0594 24.8px,#38049a 26.2px,#43039e 27.0px,#44039e 27.8px,#3e049c 28.5px,#2f0596 29.2px,#100788 30.0px,#0d0887 30.8px,#16078a 31.5px,#350498 33.0px,#41049d 33.8px,#46039f 34.5px,#43039e 35.2px,#2f0596 36.8px,#2a0593 39.0px,#2a0593 60.8px)"></i><i style="top:72.0px;height:1.05px;background:linear-gradient(90deg,#2a0593 0.0px,#2c0594 24.8px,#2f0596 25.5px,#41049d 27.0px,#43039e 27.8px,#3c049b 28.5px,#2f0596 29.2px,#130789 30.0px,#0d0887 30.8px,#19068c 31.5px,#2a0593 32.2px,#3f049c 33.8px,#44039e 34.5px,#41049d 35.2px,#2f0596 36.8px,#2a0593 39.0px,#2a0593 60.8px)"></i><i style="top:73.0px;height:1.05px;background:linear-gradient(90deg,#2a0593 0.0px,#2c0594 24.8px,#370499 26.2px,#3f049c 27.0px,#41049d 27.8px,#3c049b 28.5px,#2f0596 29.2px,#130789 30.0px,#0d0887 30.8px,#2a0593 32.2px,#3e049c 33.8px,#43039e 34.5px,#3f049c 35.2px,#2f0596 36.8px,#2a0593 39.0px,#2a0593 60.8px)"></i><i style="top:74.0px;height:1.05px;background:linear-gradient(90deg,#2a0593 0.0px,#2c0594 24.8px,#350498 26.2px,#3e049c 27.0px,#3f049c 27.8px,#3a049a 28.5px,#2f0596 29.2px,#16078a 30.0px,#0d0887 30.8px,#2a0593 32.2px,#3c049b 33.8px,#3f049c 34.5px,#3e049c 35.2px,#2f0596 36.8px,#2a0593 39.0px,#2a0593 60.8px)"></i><i style="top:75.0px;height:1.05px;background:linear-gradient(90deg,#2a0593 0.0px,#2c0594 24.8px,#3c049b 27.0px,#3e049c 27.8px,#2f0596 29.2px,#19068c 30.0px,#0d0887 30.8px,#2c0594 32.2px,#3a049a 33.8px,#3e049c 34.5px,#3c049b 35.2px,#2e0595 36.8px,#2a0593 40.5px,#2a0593 60.8px)"></i><i style="top:76.0px;height:1.05px;background:linear-gradient(90deg,#2a0593 0.0px,#2c0594 24.8px,#330597 26.2px,#3a049a 27.0px,#3c049b 27.8px,#38049a 28.5px,#2f0596 29.2px,#19068c 30.0px,#0d0887 30.8px,#20068f 31.5px,#2c0594 32.2px,#3c049b 34.5px,#3a049a 35.2px,#2e0595 36.8px,#2a0593 42.8px,#2a0593 60.8px)"></i><i style="top:77.0px;height:1.05px;background:linear-gradient(90deg,#2a0593 0.0px,#2c0594 24.8px,#3a049a 27.8px,#310597 29.2px,#220690 30.0px,#0d0887 30.8px,#260591 31.5px,#38049a 33.8px,#38049a 35.2px,#2c0594 37.5px,#2a0593 60.8px)"></i><i style="top:78.0px;height:1.05px;background:linear-gradient(90deg,#2c0594 0.0px,#2e0595 25.5px,#38049a 27.8px,#310597 29.2px,#220690 30.0px,#0d0887 30.8px,#260591 31.5px,#370499 33.8px,#370499 35.2px,#2c0594 37.5px,#2c0594 60.8px)"></i><i style="top:79.0px;height:1.05px;background:linear-gradient(90deg,#2c0594 0.0px,#2e0595 25.5px,#38049a 27.8px,#310597 29.2px,#220690 30.0px,#0d0887 30.8px,#260591 31.5px,#310597 33.0px,#38049a 34.5px,#2c0594 37.5px,#2c0594 60.8px)"></i><i style="top:80.0px;height:1.05px;background:linear-gradient(90deg,#2c0594 0.0px,#2e0595 24.8px,#370499 27.8px,#310597 29.2px,#220690 30.0px,#0d0887 30.8px,#260591 31.5px,#310597 33.0px,#370499 34.5px,#2c0594 38.2px,#2c0594 60.8px)"></i><i style="top:81.0px;height:1.05px;background:linear-gradient(90deg,#2e0595 0.0px,#2f0596 25.5px,#370499 27.8px,#310597 29.2px,#240691 30.0px,#0d0887 30.8px,#280592 31.5px,#2f0596 32.2px,#370499 34.5px,#2e0595 38.2px,#2e0595 60.8px)"></i><i style="top:82.0px;height:1.05px;background:linear-gradient(90deg,#2f0596 0.0px,#310597 25.5px,#38049a 27.8px,#330597 29.2px,#260591 30.0px,#100788 30.8px,#2a0593 31.5px,#310597 32.2px,#38049a 34.5px,#2f0596 38.2px,#2f0596 60.8px)"></i><i style="top:83.0px;height:1.05px;background:linear-gradient(90deg,#330597 0.0px,#350498 25.5px,#3a049a 27.8px,#370499 29.2px,#2a0593 30.0px,#16078a 30.8px,#2e0595 31.5px,#350498 32.2px,#3a049a 34.5px,#330597 39.8px,#330597 60.8px)"></i><i style="top:84.0px;height:1.05px;background:linear-gradient(90deg,#3a049a 0.0px,#3c049b 26.2px,#3e049c 28.5px,#3c049b 29.2px,#2f0596 30.0px,#1d068e 30.8px,#330597 31.5px,#3a049a 32.2px,#3f049c 34.5px,#3a049a 38.2px,#3a049a 60.8px)"></i><i style="top:85.0px;height:1.05px;background:linear-gradient(90deg,#41049d 0.0px,#43039e 26.2px,#43039e 29.2px,#260591 30.8px,#3a049a 31.5px,#41049d 32.2px,#44039e 35.2px,#41049d 40.5px,#41049d 60.8px)"></i><i style="top:86.0px;height:1.05px;background:linear-gradient(90deg,#4903a0 0.0px,#4b03a1 27.0px,#4903a0 29.2px,#3f049c 30.0px,#2f0596 30.8px,#43039e 31.5px,#4b03a1 33.0px,#4903a0 60.8px)"></i><i style="top:87.0px;height:1.05px;background:linear-gradient(90deg,#5002a2 0.0px,#5102a3 26.2px,#5102a3 29.2px,#370499 30.8px,#4b03a1 31.5px,#5102a3 32.2px,#5102a3 36.8px,#5002a2 60.8px)"></i><i style="top:88.0px;height:1.05px;background:linear-gradient(90deg,#5801a4 0.0px,#5801a4 29.2px,#4e02a2 30.0px,#3f049c 30.8px,#5102a3 31.5px,#5801a4 32.2px,#5801a4 60.8px)"></i><i style="top:89.0px;height:1.05px;background:linear-gradient(90deg,#5c01a6 0.0px,#5c01a6 29.2px,#5302a3 30.0px,#44039e 30.8px,#5601a4 31.5px,#5c01a6 32.2px,#5c01a6 60.8px)"></i><i style="top:90.0px;height:1.05px;background:linear-gradient(90deg,#6001a6 0.0px,#6001a6 29.2px,#5601a4 30.0px,#48039f 30.8px,#5901a5 31.5px,#6001a6 32.2px,#6001a6 60.8px)"></i><i style="top:91.0px;height:1.05px;background:linear-gradient(90deg,#6100a7 0.0px,#6100a7 29.2px,#5801a4 30.0px,#4903a0 30.8px,#5c01a6 31.5px,#6100a7 33.0px,#6100a7 60.8px)"></i><i style="top:92.0px;height:1.05px;background:linear-gradient(90deg,#6300a7 0.0px,#6300a7 29.2px,#5901a5 30.0px,#4b03a1 30.8px,#5e01a6 31.5px,#6300a7 33.0px,#6300a7 60.8px)"></i><i style="top:93.0px;height:1.05px;background:linear-gradient(90deg,#6300a7 0.0px,#6300a7 29.2px,#5901a5 30.0px,#4b03a1 30.8px,#5e01a6 31.5px,#6400a7 33.0px,#6300a7 60.8px)"></i><i style="top:94.0px;height:1.05px;background:linear-gradient(90deg,#6400a7 0.0px,#6300a7 29.2px,#4c02a1 30.8px,#5e01a6 31.5px,#6400a7 32.2px,#6400a7 60.8px)"></i><i style="top:95.0px;height:3.05px;background:linear-gradient(90deg,#6400a7 0.0px,#6400a7 29.2px,#4c02a1 30.8px,#5e01a6 31.5px,#6400a7 32.2px,#6400a7 60.8px)"></i><i style="top:98.0px;height:21.35px;background:linear-gradient(90deg,#6400a7 0.0px,#6400a7 29.2px,#4c02a1 30.8px,#6001a6 31.5px,#6400a7 33.0px,#6400a7 60.8px)"></i></b></div>
<div class="p" style="left:225.11px;top:4.20px"><b><i style="top:0.0px;height:2.05px;background:linear-gradient(90deg,#aa2395 0.0px,#a72197 6.0px,#9c179e 14.2px,#9814a0 18.8px,#8b0aa5 21.0px,#920fa3 22.5px,#c43e7f 27.0px,#da5a6a 29.2px,#e16462 30.8px,#de6164 32.2px,#ce4b75 34.5px,#9613a1 39.0px,#8f0da4 39.8px,#9c179e 44.2px,#9613a1 60.8px)"></i><i style="top:2.0px;height:1.05px;background:linear-gradient(90deg,#aa2395 0.0px,#a72197 6.0px,#9c179e 14.2px,#9814a0 18.8px,#8b0aa5 21.0px,#920fa3 22.5px,#bc3587 26.2px,#da5a6a 29.2px,#e16462 30.8px,#de6164 32.2px,#c6417d 35.2px,#9511a1 39.0px,#8e0ca4 40.5px,#9a169f 43.5px,#9613a1 60.8px)"></i><i style="top:3.0px;height:1.05px;background:linear-gradient(90deg,#aa2395 0.0px,#a72197 6.0px,#9a169f 15.0px,#9814a0 18.8px,#8b0aa5 21.0px,#920fa3 22.5px,#bb3488 26.2px,#d9586a 29.2px,#e06363 30.8px,#de6164 32.2px,#cc4977 34.5px,#9e199d 38.2px,#8e0ca4 39.8px,#9511a1 42.0px,#9a169f 44.2px,#9613a1 60.8px)"></i><i style="top:4.0px;height:1.05px;background:linear-gradient(90deg,#aa2395 0.0px,#a72197 6.0px,#9a169f 15.0px,#9613a1 18.8px,#8a09a5 21.0px,#910ea3 22.5px,#b83289 26.2px,#d7566c 29.2px,#df6263 30.8px,#dd5e66 32.2px,#cb4679 34.5px,#9d189d 38.2px,#8e0ca4 39.8px,#8d0ba5 40.5px,#9a169f 43.5px,#9613a1 60.8px)"></i><i style="top:5.0px;height:1.05px;background:linear-gradient(90deg,#aa2395 0.0px,#a72197 6.0px,#9a169f 15.0px,#9613a1 18.8px,#8a09a5 21.0px,#910ea3 22.5px,#b6308b 26.2px,#da5b69 30.0px,#de5f65 31.5px,#d7566c 33.0px,#ae2892 36.8px,#920fa3 39.0px,#8d0ba5 39.8px,#910ea3 41.2px,#9a169f 44.2px,#9613a1 60.8px)"></i><i style="top:6.0px;height:1.05px;background:linear-gradient(90deg,#aa2395 0.0px,#a72197 6.0px,#9a169f 15.0px,#9613a1 18.8px,#8a09a5 21.0px,#8a09a5 21.8px,#ad2793 25.5px,#d9586a 30.0px,#dc5d67 31.5px,#d5536f 33.0px,#ad2793 36.8px,#910ea3 39.0px,#8d0ba5 40.5px,#99159f 43.5px,#9613a1 60.8px)"></i><i style="top:7.0px;height:1.05px;background:linear-gradient(90deg,#aa2395 0.0px,#a72197 6.0px,#9a169f 14.2px,#9613a1 18.8px,#8a09a5 21.0px,#8a09a5 21.8px,#ac2694 25.5px,#d6556d 30.0px,#da5a6a 31.5px,#d35171 33.0px,#99159f 38.2px,#8b0aa5 39.8px,#8f0da4 41.2px,#99159f 43.5px,#9613a1 60.8px)"></i><i style="top:8.0px;height:1.05px;background:linear-gradient(90deg,#aa2395 0.0px,#a72197 6.0px,#9a169f 14.2px,#9613a1 18.8px,#8808a6 21.0px,#8e0ca4 22.5px,#b83289 27.0px,#d5536f 30.0px,#d8576b 31.5px,#d14e72 33.0px,#a11b9b 37.5px,#8f0da4 39.0px,#8b0aa5 40.5px,#99159f 43.5px,#9613a1 60.8px)"></i><i style="top:9.0px;height:1.05px;background:linear-gradient(90deg,#aa2395 0.0px,#a72197 6.0px,#9a169f 14.2px,#9511a1 18.8px,#8808a6 21.0px,#8808a6 21.8px,#ae2892 26.2px,#d35171 30.0px,#d6556d 31.5px,#ce4b75 33.0px,#a01a9c 37.5px,#8e0ca4 39.0px,#8a09a5 40.5px,#99159f 43.5px,#9613a1 60.8px)"></i><i style="top:10.0px;height:1.05px;background:linear-gradient(90deg,#aa2395 0.0px,#a72197 6.0px,#9a169f 14.2px,#9511a1 18.8px,#8808a6 21.0px,#8d0ba5 22.5px,#b42e8d 27.0px,#d04d73 30.0px,#d45270 31.5px,#cc4977 33.0px,#a62098 36.8px,#8e0ca4 39.0px,#8a09a5 40.5px,#9814a0 43.5px,#9613a1 60.8px)"></i><i style="top:11.0px;height:1.05px;background:linear-gradient(90deg,#aa2395 0.0px,#a72197 6.0px,#99159f 15.0px,#9511a1 18.8px,#8707a6 21.0px,#8707a6 21.8px,#b12a90 27.0px,#ce4b75 30.0px,#d24f71 31.5px,#ca457a 33.0px,#a51f99 36.8px,#8d0ba5 39.0px,#8808a6 39.8px,#9814a0 43.5px,#9613a1 60.8px)"></i><i style="top:12.0px;height:1.05px;background:linear-gradient(90deg,#aa2395 0.0px,#a72197 6.0px,#99159f 15.0px,#9511a1 18.8px,#8707a6 21.0px,#8b0aa5 22.5px,#a31e9a 25.5px,#b6308b 27.8px,#cc4778 30.0px,#cf4c74 31.5px,#c7427c 33.0px,#a21d9a 36.8px,#8b0aa5 39.0px,#8808a6 40.5px,#9814a0 43.5px,#9613a1 60.8px)"></i><i style="top:13.0px;height:1.05px;background:linear-gradient(90deg,#aa2395 0.0px,#a72197 6.0px,#99159f 15.0px,#9410a2 18.8px,#8606a6 21.0px,#8606a6 21.8px,#a21d9a 25.5px,#b32c8e 27.8px,#c9447a 30.0px,#cc4977 31.5px,#c43e7f 33.0px,#a72197 36.0px,#8707a6 39.8px,#9814a0 43.5px,#9613a1 60.8px)"></i><i style="top:14.0px;height:1.05px;background:linear-gradient(90deg,#aa2395 0.0px,#a72197 6.0px,#99159f 15.0px,#9410a2 18.8px,#8606a6 21.0px,#8a09a5 22.5px,#a11b9b 25.5px,#b12a90 27.8px,#ca457a 30.8px,#c7427c 32.2px,#a51f99 36.0px,#8a09a5 39.0px,#8707a6 40.5px,#9613a1 43.5px,#9613a1 60.8px)"></i><i style="top:15.0px;height:1.05px;background:linear-gradient(90deg,#aa2395 0.0px,#a72197 6.0px,#99159f 15.0px,#9410a2 18.8px,#8606a6 21.0px,#8a09a5 22.5px,#a01a9c 25.5px,#ad2793 27.8px,#c33d80 30.0px,#c7427c 31.5px,#be3885 33.0px,#a31e9a 36.0px,#8606a6 39.8px,#9613a1 43.5px,#9613a1 60.8px)"></i><i style="top:16.0px;height:1.05px;background:linear-gradient(90deg,#aa2395 0.0px,#a72197 6.0px,#99159f 15.0px,#9410a2 18.8px,#8405a7 21.0px,#8808a6 22.5px,#9a169f 24.8px,#ab2494 27.8px,#c43e7f 30.8px,#c5407e 31.5px,#a11b9b 36.0px,#8808a6 39.0px,#8606a6 40.5px,#9613a1 43.5px,#9613a1 60.8px)"></i><i style="top:17.0px;height:1.05px;background:linear-gradient(90deg,#aa2395 0.0px,#a72197 6.0px,#99159f 15.0px,#9613a1 18.0px,#8405a7 21.0px,#8808a6 22.5px,#9a169f 24.8px,#a82296 27.8px,#c13b82 30.8px,#c23c81 31.5px,#a01a9c 36.0px,#8405a7 39.8px,#9613a1 43.5px,#9613a1 60.8px)"></i><i style="top:18.0px;height:1.05px;background:linear-gradient(90deg,#aa2395 0.0px,#a72197 6.0px,#99159f 15.0px,#9613a1 18.0px,#8405a7 21.0px,#8808a6 22.5px,#99159f 24.8px,#a62098 27.8px,#be3885 30.8px,#bc3587 32.2px,#a21d9a 35.2px,#8e0ca4 38.2px,#8405a7 39.8px,#9613a1 43.5px,#9613a1 60.8px)"></i><i style="top:19.0px;height:1.05px;background:linear-gradient(90deg,#aa2395 0.0px,#a62098 6.8px,#99159f 15.0px,#9511a1 18.0px,#8305a7 21.8px,#9c179e 25.5px,#a82296 28.5px,#bc3587 30.8px,#b83289 32.2px,#a51f99 34.5px,#9410a2 37.5px,#8405a7 39.8px,#8405a7 40.5px,#9410a2 42.8px,#9613a1 60.8px)"></i><i style="top:20.0px;height:1.05px;background:linear-gradient(90deg,#a82296 0.0px,#a72197 5.2px,#9814a0 16.5px,#8e0ca4 19.5px,#8305a7 21.0px,#8707a6 22.5px,#9814a0 24.8px,#a62098 28.5px,#b83289 30.8px,#b52f8c 32.2px,#a21d9a 34.5px,#9410a2 37.5px,#8606a6 39.0px,#8405a7 40.5px,#9410a2 42.8px,#9613a1 60.8px)"></i><i style="top:21.0px;height:1.05px;background:linear-gradient(90deg,#a82296 0.0px,#a51f99 6.8px,#9814a0 16.5px,#920fa3 18.8px,#8305a7 21.0px,#8707a6 22.5px,#99159f 25.5px,#a21d9a 28.5px,#b52f8c 30.8px,#b22b8f 32.2px,#a01a9c 34.5px,#920fa3 37.5px,#8305a7 39.8px,#8e0ca4 42.0px,#9511a1 43.5px,#9613a1 60.8px)"></i><i style="top:22.0px;height:1.05px;background:linear-gradient(90deg,#a72197 0.0px,#a62098 5.2px,#9814a0 16.5px,#8e0ca4 19.5px,#8305a7 21.0px,#8707a6 22.5px,#99159f 25.5px,#a01a9c 28.5px,#b22b8f 30.8px,#b32c8e 31.5px,#a11b9b 33.8px,#920fa3 37.5px,#8305a7 39.8px,#8e0ca4 42.0px,#9511a1 43.5px,#9613a1 60.8px)"></i><i style="top:23.0px;height:1.05px;background:linear-gradient(90deg,#a72197 0.0px,#a31e9a 6.8px,#9511a1 18.0px,#8405a7 21.0px,#8707a6 22.5px,#99159f 25.5px,#9e199d 28.5px,#ae2892 30.8px,#b02991 31.5px,#9e199d 33.8px,#920fa3 37.5px,#8405a7 39.8px,#9511a1 43.5px,#9613a1 60.8px)"></i><i style="top:24.0px;height:1.05px;background:linear-gradient(90deg,#a62098 0.0px,#a31e9a 6.8px,#9814a0 16.5px,#8e0ca4 19.5px,#8405a7 21.8px,#9613a1 24.8px,#a01a9c 29.2px,#ab2494 30.8px,#ac2694 31.5px,#9d189d 33.8px,#920fa3 37.5px,#8405a7 39.8px,#9511a1 43.5px,#9613a1 60.8px)"></i><i style="top:25.0px;height:1.05px;background:linear-gradient(90deg,#a62098 0.0px,#a21d9a 6.8px,#9410a2 18.8px,#8707a6 21.0px,#8808a6 22.5px,#9814a0 25.5px,#a11b9b 30.0px,#a72197 30.8px,#a82296 31.5px,#9d189d 33.0px,#9613a1 36.8px,#8606a6 39.8px,#9511a1 43.5px,#9613a1 60.8px)"></i><i style="top:26.0px;height:1.05px;background:linear-gradient(90deg,#a51f99 0.0px,#a21d9a 6.8px,#9814a0 16.5px,#9410a2 18.8px,#8707a6 21.0px,#8e0ca4 23.2px,#99159f 26.2px,#9d189d 30.0px,#a31e9a 30.8px,#a51f99 31.5px,#9c179e 33.0px,#920fa3 37.5px,#8707a6 39.8px,#9613a1 43.5px,#9613a1 60.8px)"></i><i style="top:27.0px;height:1.05px;background:linear-gradient(90deg,#a51f99 0.0px,#a01a9c 8.2px,#9410a2 18.8px,#8808a6 21.0px,#920fa3 24.0px,#99159f 27.0px,#9d189d 30.8px,#a01a9c 31.5px,#99159f 34.5px,#920fa3 37.5px,#8808a6 39.8px,#9613a1 44.2px,#9613a1 60.8px)"></i><i style="top:28.0px;height:1.05px;background:linear-gradient(90deg,#a31e9a 0.0px,#a11b9b 6.8px,#9410a2 18.8px,#8a09a5 21.8px,#9814a0 25.5px,#99159f 35.2px,#8a09a5 39.8px,#9410a2 42.8px,#9613a1 51.8px,#9613a1 60.8px)"></i><i style="top:29.0px;height:1.05px;background:linear-gradient(90deg,#a31e9a 0.0px,#9e199d 8.2px,#9613a1 18.0px,#8b0aa5 21.8px,#9814a0 25.5px,#99159f 34.5px,#9410a2 37.5px,#8b0aa5 39.8px,#9613a1 44.2px,#9613a1 60.8px)"></i><i style="top:30.0px;height:1.05px;background:linear-gradient(90deg,#a21d9a 0.0px,#a01a9c 7.5px,#920fa3 19.5px,#8d0ba5 21.8px,#9814a0 26.2px,#9613a1 36.8px,#8b0aa5 39.8px,#9613a1 44.2px,#9613a1 60.8px)"></i><i style="top:31.0px;height:1.05px;background:linear-gradient(90deg,#a21d9a 0.0px,#9c179e 10.5px,#9511a1 18.8px,#8d0ba5 21.8px,#99159f 26.2px,#9613a1 36.8px,#8d0ba5 39.8px,#9613a1 44.2px,#9613a1 60.8px)"></i><i style="top:32.0px;height:1.05px;background:linear-gradient(90deg,#a11b9b 0.0px,#9c179e 9.8px,#9511a1 18.8px,#8e0ca4 21.8px,#99159f 27.0px,#9814a0 34.5px,#9613a1 36.8px,#8e0ca4 39.8px,#9613a1 45.0px,#9613a1 60.8px)"></i><i style="top:33.0px;height:1.05px;background:linear-gradient(90deg,#a11b9b 0.0px,#99159f 12.8px,#9410a2 19.5px,#8f0da4 21.8px,#99159f 27.0px,#9814a0 34.5px,#9814a0 36.8px,#8f0da4 40.5px,#9613a1 45.0px,#9613a1 60.8px)"></i><i style="top:34.0px;height:1.05px;background:linear-gradient(90deg,#a01a9c 0.0px,#9a169f 10.5px,#920fa3 20.2px,#9410a2 23.2px,#99159f 27.0px,#8d0ba5 29.2px,#8305a7 30.0px,#7201a8 30.8px,#7401a8 31.5px,#8d0ba5 33.0px,#99159f 35.2px,#910ea3 40.5px,#9613a1 45.8px,#9613a1 60.8px)"></i><i style="top:35.0px;height:1.05px;background:linear-gradient(90deg,#9e199d 0.0px,#9c179e 8.2px,#920fa3 22.5px,#99159f 27.0px,#8b0aa5 29.2px,#7100a8 30.8px,#7100a8 31.5px,#8104a7 32.2px,#920fa3 33.8px,#99159f 36.0px,#910ea3 39.8px,#9613a1 46.5px,#9613a1 60.8px)"></i><i style="top:36.0px;height:1.05px;background:linear-gradient(90deg,#9e199d 0.0px,#9410a2 23.2px,#99159f 27.0px,#8a09a5 29.2px,#6e00a8 30.8px,#6e00a8 31.5px,#8a09a5 33.0px,#99159f 35.2px,#920fa3 40.5px,#9613a1 49.5px,#9613a1 60.8px)"></i><i style="top:37.0px;height:1.05px;background:linear-gradient(90deg,#9d189d 0.0px,#9511a1 23.2px,#99159f 27.0px,#8808a6 29.2px,#7b02a8 30.0px,#6900a8 30.8px,#6a00a8 31.5px,#8808a6 33.0px,#9613a1 34.5px,#99159f 36.8px,#9410a2 40.5px,#9511a1 60.8px)"></i><i style="top:38.0px;height:1.05px;background:linear-gradient(90deg,#9c179e 0.0px,#9511a1 24.0px,#99159f 27.0px,#8f0da4 28.5px,#7801a8 30.0px,#6600a7 30.8px,#6700a8 31.5px,#8606a6 33.0px,#9511a1 34.5px,#9a169f 36.0px,#9410a2 40.5px,#9511a1 60.8px)"></i><i style="top:39.0px;height:1.05px;background:linear-gradient(90deg,#9a169f 0.0px,#9511a1 23.2px,#99159f 27.0px,#8d0ba5 28.5px,#7401a8 30.0px,#6300a7 30.8px,#6300a7 31.5px,#8405a7 33.0px,#9511a1 34.5px,#9a169f 36.0px,#9410a2 41.2px,#9410a2 60.8px)"></i><i style="top:40.0px;height:1.05px;background:linear-gradient(90deg,#99159f 0.0px,#9410a2 24.0px,#9a169f 26.2px,#9410a2 27.8px,#8004a8 29.2px,#5e01a6 30.8px,#5e01a6 31.5px,#8004a8 33.0px,#9410a2 34.5px,#9a169f 36.0px,#9410a2 39.0px,#9410a2 60.8px)"></i><i style="top:41.0px;height:1.05px;background:linear-gradient(90deg,#9613a1 0.0px,#9410a2 24.0px,#9a169f 26.2px,#920fa3 27.8px,#7b02a8 29.2px,#5901a5 30.8px,#5b01a5 31.5px,#7d03a8 33.0px,#920fa3 34.5px,#9a169f 36.0px,#920fa3 39.8px,#920fa3 60.8px)"></i><i style="top:42.0px;height:1.05px;background:linear-gradient(90deg,#9511a1 0.0px,#910ea3 23.2px,#99159f 26.2px,#9814a0 27.0px,#8606a6 28.5px,#6700a8 30.0px,#5601a4 30.8px,#5601a4 31.5px,#7801a8 33.0px,#910ea3 34.5px,#9814a0 35.2px,#9814a0 36.8px,#910ea3 39.8px,#910ea3 60.8px)"></i><i style="top:43.0px;height:1.05px;background:linear-gradient(90deg,#920fa3 0.0px,#910ea3 24.0px,#99159f 26.2px,#9613a1 27.0px,#8305a7 28.5px,#6100a7 30.0px,#5302a3 30.8px,#5302a3 31.5px,#7401a8 33.0px,#8e0ca4 34.5px,#9613a1 35.2px,#99159f 36.0px,#8f0da4 39.0px,#8f0da4 60.8px)"></i><i style="top:44.0px;height:1.05px;background:linear-gradient(90deg,#8f0da4 0.0px,#8e0ca4 24.0px,#9814a0 26.2px,#9511a1 27.0px,#7e03a8 28.5px,#5c01a6 30.0px,#4e02a2 30.8px,#5002a2 31.5px,#6f00a8 33.0px,#8d0ba5 34.5px,#9511a1 35.2px,#9814a0 36.0px,#8d0ba5 39.0px,#8d0ba5 60.8px)"></i><i style="top:45.0px;height:1.05px;background:linear-gradient(90deg,#8d0ba5 0.0px,#8b0aa5 24.0px,#9613a1 26.2px,#920fa3 27.0px,#7a02a8 28.5px,#5801a4 30.0px,#4b03a1 30.8px,#4b03a1 31.5px,#7b02a8 33.8px,#920fa3 35.2px,#9613a1 36.0px,#8b0aa5 38.2px,#8a09a5 60.8px)"></i><i style="top:46.0px;height:1.05px;background:linear-gradient(90deg,#8808a6 0.0px,#8808a6 24.0px,#9410a2 26.2px,#8f0da4 27.0px,#7501a8 28.5px,#5302a3 30.0px,#48039f 30.8px,#48039f 31.5px,#7501a8 33.8px,#910ea3 35.2px,#9410a2 36.0px,#8707a6 39.0px,#8707a6 60.8px)"></i><i style="top:47.0px;height:1.05px;background:linear-gradient(90deg,#8405a7 0.0px,#8606a6 24.0px,#920fa3 26.2px,#8d0ba5 27.0px,#6f00a8 28.5px,#5002a2 30.0px,#44039e 30.8px,#46039f 31.5px,#5e01a6 33.0px,#8104a7 34.5px,#8e0ca4 35.2px,#920fa3 36.0px,#8405a7 39.0px,#8405a7 60.8px)"></i><i style="top:48.0px;height:1.05px;background:linear-gradient(90deg,#8004a8 0.0px,#8104a7 23.2px,#8606a6 24.8px,#8f0da4 26.2px,#8a09a5 27.0px,#6900a8 28.5px,#4b03a1 30.0px,#43039e 30.8px,#43039e 31.5px,#4b03a1 32.2px,#7d03a8 34.5px,#8a09a5 35.2px,#8f0da4 36.0px,#8305a7 38.2px,#8004a8 48.0px,#8004a8 60.8px)"></i><i style="top:49.0px;height:1.05px;background:linear-gradient(90deg,#7d03a8 0.0px,#7e03a8 24.0px,#8b0aa5 26.2px,#8606a6 27.0px,#7701a8 27.8px,#5302a3 29.2px,#3f049c 30.8px,#3f049c 31.5px,#5302a3 33.0px,#7701a8 34.5px,#8606a6 35.2px,#8b0aa5 36.0px,#7d03a8 39.0px,#7d03a8 60.8px)"></i><i style="top:50.0px;height:1.05px;background:linear-gradient(90deg,#7801a8 0.0px,#7a02a8 24.0px,#8808a6 26.2px,#8104a7 27.0px,#5e01a6 28.5px,#43039e 30.0px,#3e049c 30.8px,#3e049c 31.5px,#4e02a2 33.0px,#7100a8 34.5px,#8104a7 35.2px,#8808a6 36.0px,#7a02a8 38.2px,#7801a8 60.8px)"></i><i style="top:51.0px;height:1.05px;background:linear-gradient(90deg,#7401a8 0.0px,#7501a8 24.0px,#8405a7 26.2px,#7d03a8 27.0px,#5801a4 28.5px,#3f049c 30.0px,#3c049b 31.5px,#4903a0 33.0px,#5801a4 33.8px,#7d03a8 35.2px,#8405a7 36.0px,#7501a8 38.2px,#7401a8 60.8px)"></i><i style="top:52.0px;height:1.05px;background:linear-gradient(90deg,#6f00a8 0.0px,#6f00a8 23.2px,#7701a8 24.8px,#8004a8 26.2px,#7701a8 27.0px,#5102a3 28.5px,#44039e 29.2px,#3a049a 30.8px,#3e049c 32.2px,#5302a3 33.8px,#7701a8 35.2px,#8004a8 36.0px,#7100a8 38.2px,#6f00a8 44.2px,#6f00a8 60.8px)"></i><i style="top:53.0px;height:1.05px;background:linear-gradient(90deg,#6900a8 0.0px,#6a00a8 23.2px,#7201a8 24.8px,#7b02a8 26.2px,#7100a8 27.0px,#4c02a1 28.5px,#3a049a 30.0px,#38049a 31.5px,#41049d 33.0px,#6001a6 34.5px,#7201a8 35.2px,#7b02a8 36.0px,#6c00a8 38.2px,#6900a8 45.8px,#6900a8 60.8px)"></i><i style="top:54.0px;height:1.05px;background:linear-gradient(90deg,#6400a7 0.0px,#6600a7 23.2px,#6e00a8 24.8px,#7701a8 26.2px,#6c00a8 27.0px,#48039f 28.5px,#38049a 30.0px,#38049a 32.2px,#3e049c 33.0px,#5901a5 34.5px,#6c00a8 35.2px,#7701a8 36.0px,#6700a8 38.2px,#6400a7 45.8px,#6400a7 60.8px)"></i><i style="top:55.0px;height:1.05px;background:linear-gradient(90deg,#6001a6 0.0px,#6001a6 23.2px,#6700a8 24.8px,#6f00a8 25.5px,#7100a8 26.2px,#6600a7 27.0px,#43039e 28.5px,#370499 30.0px,#370499 32.2px,#3a049a 33.0px,#5302a3 34.5px,#6600a7 35.2px,#7100a8 36.0px,#6f00a8 36.8px,#6100a7 38.2px,#6001a6 60.8px)"></i><i style="top:56.0px;height:1.05px;background:linear-gradient(90deg,#5901a5 0.0px,#5901a5 23.2px,#6100a7 24.8px,#6900a8 25.5px,#6900a8 26.2px,#5e01a6 27.0px,#3f049c 28.5px,#350498 30.0px,#350498 32.2px,#3f049c 33.8px,#5e01a6 35.2px,#6900a8 36.0px,#6100a7 37.5px,#5901a5 39.0px,#5901a5 60.8px)"></i><i style="top:57.0px;height:1.05px;background:linear-gradient(90deg,#5102a3 0.0px,#5102a3 23.2px,#5901a5 24.8px,#6100a7 25.5px,#6100a7 26.2px,#5601a4 27.0px,#3a049a 28.5px,#310597 30.8px,#350498 33.0px,#3a049a 33.8px,#6100a7 36.0px,#5901a5 37.5px,#5102a3 39.0px,#5102a3 60.8px)"></i><i style="top:58.0px;height:1.05px;background:linear-gradient(90deg,#4903a0 0.0px,#4903a0 23.2px,#5102a3 24.8px,#5901a5 25.5px,#5901a5 26.2px,#5002a2 27.0px,#370499 28.5px,#2f0596 31.5px,#370499 33.8px,#5901a5 36.0px,#5901a5 36.8px,#4c02a1 38.2px,#4903a0 41.2px,#4903a0 60.8px)"></i><i style="top:59.0px;height:1.05px;background:linear-gradient(90deg,#46039f 0.0px,#48039f 24.0px,#5502a4 25.5px,#5502a4 26.2px,#350498 28.5px,#2f0596 30.8px,#310597 33.0px,#350498 33.8px,#5502a4 36.0px,#5502a4 36.8px,#48039f 38.2px,#46039f 60.8px)"></i><i style="top:60.0px;height:1.05px;background:linear-gradient(90deg,#48039f 0.0px,#48039f 23.2px,#5002a2 24.8px,#5801a4 25.5px,#5801a4 26.2px,#4e02a2 27.0px,#3f049c 27.8px,#310597 29.2px,#310597 33.0px,#3f049c 34.5px,#4e02a2 35.2px,#5801a4 36.0px,#5801a4 36.8px,#4b03a1 38.2px,#48039f 41.2px,#48039f 60.8px)"></i><i style="top:61.0px;height:1.05px;background:linear-gradient(90deg,#4e02a2 0.0px,#4e02a2 23.2px,#5601a4 24.8px,#5e01a6 25.5px,#6001a6 26.2px,#5502a4 27.0px,#38049a 28.5px,#310597 30.0px,#310597 32.2px,#3a049a 33.8px,#44039e 34.5px,#5502a4 35.2px,#6001a6 36.0px,#5e01a6 36.8px,#5102a3 38.2px,#4e02a2 41.2px,#4e02a2 60.8px)"></i><i style="top:62.0px;height:1.05px;background:linear-gradient(90deg,#5601a4 0.0px,#5601a4 23.2px,#5e01a6 24.8px,#6600a7 25.5px,#6700a8 26.2px,#3e049c 28.5px,#330597 30.0px,#330597 32.2px,#3e049c 33.8px,#5c01a6 35.2px,#6700a8 36.0px,#6600a7 36.8px,#5901a5 38.2px,#5601a4 41.2px,#5601a4 60.8px)"></i><i style="top:63.0px;height:1.05px;background:linear-gradient(90deg,#5e01a6 0.0px,#6001a6 24.0px,#6e00a8 25.5px,#6f00a8 26.2px,#6300a7 27.0px,#43039e 28.5px,#370499 30.0px,#370499 32.2px,#43039e 33.8px,#6400a7 35.2px,#6f00a8 36.0px,#6e00a8 36.8px,#6001a6 38.2px,#5e01a6 60.8px)"></i><i style="top:64.0px;height:1.05px;background:linear-gradient(90deg,#6300a7 0.0px,#6400a7 23.2px,#6c00a8 24.8px,#7501a8 26.2px,#6a00a8 27.0px,#46039f 28.5px,#38049a 30.0px,#350498 30.8px,#3e049c 33.0px,#48039f 33.8px,#6a00a8 35.2px,#7501a8 36.0px,#6600a7 38.2px,#6300a7 45.8px,#6300a7 60.8px)"></i><i style="top:65.0px;height:1.05px;background:linear-gradient(90deg,#6900a8 0.0px,#6a00a8 24.0px,#7801a8 25.5px,#7a02a8 26.2px,#6f00a8 27.0px,#4b03a1 28.5px,#3a049a 30.0px,#370499 31.5px,#41049d 33.0px,#4c02a1 33.8px,#7100a8 35.2px,#7a02a8 36.0px,#6a00a8 38.2px,#6900a8 60.8px)"></i><i style="top:66.0px;height:1.05px;background:linear-gradient(90deg,#6e00a8 0.0px,#6f00a8 24.0px,#7e03a8 26.2px,#7501a8 27.0px,#5002a2 28.5px,#3c049b 30.0px,#38049a 31.5px,#44039e 33.0px,#5102a3 33.8px,#7501a8 35.2px,#7e03a8 36.0px,#6f00a8 38.2px,#6e00a8 60.8px)"></i><i style="top:67.0px;height:1.05px;background:linear-gradient(90deg,#7201a8 0.0px,#7401a8 24.0px,#8305a7 26.2px,#7b02a8 27.0px,#5601a4 28.5px,#48039f 29.2px,#3a049a 30.8px,#3a049a 31.5px,#48039f 33.0px,#6900a8 34.5px,#7b02a8 35.2px,#8305a7 36.0px,#7401a8 38.2px,#7201a8 60.8px)"></i><i style="top:68.0px;height:1.05px;background:linear-gradient(90deg,#7701a8 0.0px,#7801a8 24.0px,#8707a6 26.2px,#8004a8 27.0px,#5b01a5 28.5px,#43039e 30.0px,#3c049b 30.8px,#43039e 32.2px,#4c02a1 33.0px,#6f00a8 34.5px,#8004a8 35.2px,#8707a6 36.0px,#7801a8 38.2px,#7701a8 60.8px)"></i><i style="top:69.0px;height:1.05px;background:linear-gradient(90deg,#7b02a8 0.0px,#7d03a8 24.0px,#8b0aa5 26.2px,#8405a7 27.0px,#6100a7 28.5px,#46039f 30.0px,#3f049c 30.8px,#3f049c 31.5px,#5102a3 33.0px,#7501a8 34.5px,#8405a7 35.2px,#8b0aa5 36.0px,#7d03a8 38.2px,#7b02a8 60.8px)"></i><i style="top:70.0px;height:1.05px;background:linear-gradient(90deg,#8004a8 0.0px,#8104a7 24.0px,#8e0ca4 26.2px,#8808a6 27.0px,#6700a8 28.5px,#4903a0 30.0px,#41049d 30.8px,#41049d 31.5px,#4903a0 32.2px,#7b02a8 34.5px,#8808a6 35.2px,#8e0ca4 36.0px,#8004a8 39.0px,#8004a8 60.8px)"></i><i style="top:71.0px;height:1.05px;background:linear-gradient(90deg,#8305a7 0.0px,#8405a7 24.0px,#910ea3 26.2px,#8d0ba5 27.0px,#7e03a8 27.8px,#5c01a6 29.2px,#44039e 30.8px,#44039e 31.5px,#5c01a6 33.0px,#8004a8 34.5px,#8d0ba5 35.2px,#910ea3 36.0px,#8305a7 39.0px,#8305a7 60.8px)"></i><i style="top:72.0px;height:1.05px;background:linear-gradient(90deg,#8707a6 0.0px,#8808a6 24.0px,#9410a2 26.2px,#8f0da4 27.0px,#7401a8 28.5px,#5302a3 30.0px,#48039f 30.8px,#48039f 31.5px,#6300a7 33.0px,#8405a7 34.5px,#8f0da4 35.2px,#9410a2 36.0px,#8707a6 39.0px,#8707a6 60.8px)"></i><i style="top:73.0px;height:1.05px;background:linear-gradient(90deg,#8b0aa5 0.0px,#8b0aa5 24.0px,#9511a1 26.2px,#920fa3 27.0px,#7801a8 28.5px,#5601a4 30.0px,#4b03a1 30.8px,#4b03a1 31.5px,#6700a8 33.0px,#8808a6 34.5px,#920fa3 35.2px,#9511a1 36.0px,#8a09a5 39.0px,#8a09a5 60.8px)"></i><i style="top:74.0px;height:1.05px;background:linear-gradient(90deg,#8e0ca4 0.0px,#8e0ca4 24.0px,#9814a0 26.2px,#8b0aa5 27.8px,#6c00a8 29.2px,#4e02a2 30.8px,#4e02a2 31.5px,#6e00a8 33.0px,#8b0aa5 34.5px,#9814a0 36.0px,#8d0ba5 39.0px,#8d0ba5 60.8px)"></i><i style="top:75.0px;height:1.05px;background:linear-gradient(90deg,#910ea3 0.0px,#8f0da4 24.0px,#99159f 26.2px,#8e0ca4 27.8px,#7201a8 29.2px,#5102a3 30.8px,#5102a3 31.5px,#7201a8 33.0px,#8e0ca4 34.5px,#9613a1 35.2px,#9613a1 36.8px,#8e0ca4 39.0px,#8e0ca4 60.8px)"></i><i style="top:76.0px;height:1.05px;background:linear-gradient(90deg,#9410a2 0.0px,#910ea3 24.0px,#99159f 26.2px,#8f0da4 27.8px,#7701a8 29.2px,#5502a4 30.8px,#5601a4 31.5px,#7701a8 33.0px,#8f0da4 34.5px,#9814a0 35.2px,#9814a0 36.8px,#910ea3 39.0px,#910ea3 60.8px)"></i><i style="top:77.0px;height:1.05px;background:linear-gradient(90deg,#9613a1 0.0px,#920fa3 24.0px,#9a169f 26.2px,#910ea3 27.8px,#7b02a8 29.2px,#5901a5 30.8px,#5901a5 31.5px,#7b02a8 33.0px,#920fa3 34.5px,#9a169f 36.0px,#920fa3 39.0px,#920fa3 60.8px)"></i><i style="top:78.0px;height:1.05px;background:linear-gradient(90deg,#9814a0 0.0px,#9410a2 24.0px,#9a169f 26.2px,#9410a2 27.8px,#7e03a8 29.2px,#5c01a6 30.8px,#5e01a6 31.5px,#8004a8 33.0px,#9410a2 34.5px,#9a169f 36.0px,#9410a2 39.0px,#9410a2 60.8px)"></i><i style="top:79.0px;height:1.05px;background:linear-gradient(90deg,#9a169f 0.0px,#9410a2 23.2px,#99159f 27.0px,#8d0ba5 28.5px,#8305a7 29.2px,#6100a7 30.8px,#6100a7 31.5px,#8305a7 33.0px,#9511a1 34.5px,#9a169f 36.0px,#9410a2 40.5px,#9410a2 60.8px)"></i><i style="top:80.0px;height:1.05px;background:linear-gradient(90deg,#9c179e 0.0px,#9511a1 23.2px,#99159f 27.0px,#8e0ca4 28.5px,#7701a8 30.0px,#6400a7 30.8px,#6600a7 31.5px,#8606a6 33.0px,#99159f 35.2px,#9410a2 41.2px,#9511a1 60.8px)"></i><i style="top:81.0px;height:1.05px;background:linear-gradient(90deg,#9d189d 0.0px,#9511a1 23.2px,#99159f 27.0px,#8707a6 29.2px,#6900a8 30.8px,#6900a8 31.5px,#7b02a8 32.2px,#8f0da4 33.8px,#9a169f 36.0px,#9410a2 40.5px,#9511a1 60.8px)"></i><i style="top:82.0px;height:1.05px;background:linear-gradient(90deg,#9d189d 0.0px,#9a169f 9.0px,#9410a2 23.2px,#99159f 27.0px,#8a09a5 29.2px,#6c00a8 30.8px,#6c00a8 31.5px,#7e03a8 32.2px,#910ea3 33.8px,#9a169f 36.0px,#920fa3 39.8px,#9613a1 51.0px,#9613a1 60.8px)"></i><i style="top:83.0px;height:1.05px;background:linear-gradient(90deg,#9e199d 0.0px,#9a169f 9.8px,#920fa3 22.5px,#99159f 27.0px,#8b0aa5 29.2px,#6f00a8 30.8px,#7100a8 31.5px,#8b0aa5 33.0px,#99159f 35.2px,#920fa3 40.5px,#9613a1 48.0px,#9613a1 60.8px)"></i><i style="top:84.0px;height:1.05px;background:linear-gradient(90deg,#a01a9c 0.0px,#9a169f 10.5px,#920fa3 20.2px,#9511a1 24.0px,#99159f 27.0px,#8d0ba5 29.2px,#8305a7 30.0px,#7201a8 30.8px,#7201a8 31.5px,#8305a7 32.2px,#920fa3 33.8px,#99159f 36.0px,#910ea3 39.8px,#9613a1 46.5px,#9613a1 60.8px)"></i><i style="top:85.0px;height:1.05px;background:linear-gradient(90deg,#a01a9c 0.0px,#9d189d 8.2px,#9410a2 19.5px,#8f0da4 21.8px,#99159f 26.2px,#920fa3 28.5px,#8405a7 30.0px,#7401a8 30.8px,#7501a8 31.5px,#8e0ca4 33.0px,#9814a0 35.2px,#9511a1 37.5px,#910ea3 40.5px,#9613a1 45.8px,#9613a1 60.8px)"></i><i style="top:86.0px;height:1.05px;background:linear-gradient(90deg,#a11b9b 0.0px,#9d189d 8.2px,#9410a2 19.5px,#8f0da4 22.5px,#99159f 27.0px,#9814a0 34.5px,#9814a0 36.8px,#8e0ca4 39.8px,#9613a1 45.0px,#9613a1 60.8px)"></i><i style="top:87.0px;height:1.05px;background:linear-gradient(90deg,#a21d9a 0.0px,#9c179e 10.5px,#9511a1 18.8px,#8e0ca4 21.8px,#99159f 27.0px,#9613a1 36.8px,#8d0ba5 39.8px,#9613a1 44.2px,#9613a1 60.8px)"></i><i style="top:88.0px;height:1.05px;background:linear-gradient(90deg,#a21d9a 0.0px,#9e199d 8.2px,#920fa3 19.5px,#8d0ba5 21.8px,#99159f 26.2px,#99159f 30.0px,#9e199d 31.5px,#9814a0 33.8px,#9613a1 36.8px,#8d0ba5 40.5px,#9613a1 43.5px,#9613a1 60.8px)"></i><i style="top:89.0px;height:1.05px;background:linear-gradient(90deg,#a31e9a 0.0px,#9e199d 8.2px,#9511a1 18.8px,#8b0aa5 21.8px,#99159f 26.2px,#99159f 29.2px,#a21d9a 30.8px,#9e199d 32.2px,#99159f 34.5px,#9410a2 37.5px,#8b0aa5 39.8px,#9613a1 44.2px,#9613a1 60.8px)"></i><i style="top:90.0px;height:1.05px;background:linear-gradient(90deg,#a31e9a 0.0px,#a11b9b 6.8px,#9410a2 18.8px,#8a09a5 21.8px,#99159f 26.2px,#9c179e 29.2px,#a62098 30.8px,#a72197 31.5px,#9a169f 33.8px,#920fa3 37.5px,#8a09a5 39.8px,#9613a1 43.5px,#9613a1 60.8px)"></i><i style="top:91.0px;height:1.05px;background:linear-gradient(90deg,#a51f99 0.0px,#a01a9c 8.2px,#9410a2 18.8px,#8808a6 21.8px,#9814a0 25.5px,#a01a9c 29.2px,#ab2494 30.8px,#a72197 32.2px,#9c179e 33.8px,#920fa3 37.5px,#8808a6 39.8px,#9613a1 44.2px,#9613a1 60.8px)"></i><i style="top:92.0px;height:1.05px;background:linear-gradient(90deg,#a51f99 0.0px,#a21d9a 6.8px,#9814a0 16.5px,#9410a2 18.8px,#8707a6 21.8px,#9613a1 24.8px,#9e199d 28.5px,#ae2892 30.8px,#b02991 31.5px,#9c179e 34.5px,#920fa3 37.5px,#8707a6 39.8px,#9613a1 43.5px,#9613a1 60.8px)"></i><i style="top:93.0px;height:1.05px;background:linear-gradient(90deg,#a62098 0.0px,#a21d9a 6.8px,#9814a0 16.5px,#9410a2 18.8px,#8707a6 21.0px,#8e0ca4 23.2px,#9a169f 26.2px,#a11b9b 28.5px,#b22b8f 30.8px,#b02991 32.2px,#9e199d 34.5px,#8e0ca4 38.2px,#8707a6 39.8px,#9613a1 43.5px,#9613a1 60.8px)"></i><i style="top:94.0px;height:1.05px;background:linear-gradient(90deg,#a62098 0.0px,#a31e9a 6.8px,#9814a0 16.5px,#9410a2 18.8px,#8606a6 21.0px,#8808a6 22.5px,#9613a1 24.8px,#a31e9a 28.5px,#b6308b 30.8px,#b32c8e 32.2px,#a01a9c 34.5px,#8d0ba5 38.2px,#8606a6 39.8px,#9511a1 43.5px,#9613a1 60.8px)"></i><i style="top:95.0px;height:1.05px;background:linear-gradient(90deg,#a72197 0.0px,#a21d9a 7.5px,#9511a1 18.0px,#8405a7 21.8px,#9613a1 24.8px,#a11b9b 27.8px,#ba3388 30.8px,#b6308b 32.2px,#9e199d 35.2px,#8d0ba5 38.2px,#8405a7 39.8px,#9511a1 43.5px,#9613a1 60.8px)"></i><i style="top:96.0px;height:1.05px;background:linear-gradient(90deg,#a72197 0.0px,#a51f99 6.0px,#9814a0 16.5px,#8e0ca4 19.5px,#8405a7 21.0px,#8707a6 22.5px,#9814a0 24.8px,#a51f99 27.8px,#bd3786 30.8px,#be3885 31.5px,#9c179e 36.0px,#8405a7 39.8px,#9511a1 43.5px,#9613a1 60.8px)"></i><i style="top:97.0px;height:1.05px;background:linear-gradient(90deg,#a82296 0.0px,#a31e9a 7.5px,#9814a0 16.5px,#8e0ca4 19.5px,#8305a7 21.8px,#9c179e 25.5px,#a72197 27.8px,#c03a83 30.8px,#be3885 32.2px,#a21d9a 35.2px,#8305a7 39.8px,#8a09a5 41.2px,#9613a1 43.5px,#9613a1 60.8px)"></i><i style="top:98.0px;height:1.05px;background:linear-gradient(90deg,#a82296 0.0px,#a62098 6.0px,#99159f 15.0px,#9613a1 18.0px,#8405a7 21.0px,#8707a6 22.5px,#9d189d 25.5px,#b12a90 28.5px,#c03a83 30.0px,#c43e7f 31.5px,#bb3488 33.0px,#a01a9c 36.0px,#8707a6 39.0px,#8606a6 40.5px,#9613a1 43.5px,#9613a1 60.8px)"></i><i style="top:99.0px;height:1.05px;background:linear-gradient(90deg,#aa2395 0.0px,#a62098 6.8px,#99159f 15.0px,#9410a2 18.8px,#8405a7 21.0px,#8808a6 22.5px,#9e199d 25.5px,#b42e8d 28.5px,#c7427c 30.8px,#c43e7f 32.2px,#a21d9a 36.0px,#8808a6 39.0px,#8405a7 39.8px,#9613a1 43.5px,#9613a1 60.8px)"></i><i style="top:100.0px;height:1.05px;background:linear-gradient(90deg,#aa2395 0.0px,#a72197 6.0px,#99159f 15.0px,#9410a2 18.8px,#8405a7 21.0px,#8808a6 22.5px,#a01a9c 25.5px,#b12a90 27.8px,#c6417d 30.0px,#ca457a 31.5px,#c13b82 33.0px,#a51f99 36.0px,#8808a6 39.0px,#8606a6 40.5px,#9613a1 43.5px,#9613a1 60.8px)"></i><i style="top:101.0px;height:1.05px;background:linear-gradient(90deg,#aa2395 0.0px,#a72197 6.0px,#99159f 15.0px,#9410a2 18.8px,#8606a6 21.0px,#8a09a5 22.5px,#ac2694 27.0px,#c9447a 30.0px,#cc4977 31.5px,#c5407e 33.0px,#a62098 36.0px,#8606a6 39.8px,#9613a1 43.5px,#9613a1 60.8px)"></i><i style="top:102.0px;height:1.05px;background:linear-gradient(90deg,#aa2395 0.0px,#a72197 6.0px,#99159f 15.0px,#9410a2 18.8px,#8606a6 21.0px,#8a09a5 22.5px,#ae2892 27.0px,#cc4778 30.0px,#cf4c74 31.5px,#c13b82 33.8px,#9a169f 37.5px,#8a09a5 39.0px,#8707a6 40.5px,#9613a1 43.5px,#9613a1 60.8px)"></i><i style="top:103.0px;height:1.05px;background:linear-gradient(90deg,#aa2395 0.0px,#a72197 6.0px,#99159f 15.0px,#9410a2 18.8px,#8606a6 21.0px,#8606a6 21.8px,#ab2494 26.2px,#ce4b75 30.0px,#d24f71 31.5px,#c43e7f 33.8px,#a31e9a 36.8px,#8b0aa5 39.0px,#8707a6 39.8px,#9814a0 43.5px,#9613a1 60.8px)"></i><i style="top:104.0px;height:1.05px;background:linear-gradient(90deg,#aa2395 0.0px,#a72197 6.0px,#99159f 15.0px,#9511a1 18.8px,#8707a6 21.0px,#8b0aa5 22.5px,#ad2793 26.2px,#d14e72 30.0px,#d5536f 31.5px,#c7427c 33.8px,#9d189d 37.5px,#8d0ba5 39.0px,#8808a6 40.5px,#9814a0 43.5px,#9613a1 60.8px)"></i><i style="top:105.0px;height:1.05px;background:linear-gradient(90deg,#aa2395 0.0px,#a72197 6.0px,#9a169f 14.2px,#9511a1 18.8px,#8707a6 21.0px,#8707a6 21.8px,#a31e9a 24.8px,#b7318a 27.0px,#d45270 30.0px,#d7566c 31.5px,#ca457a 33.8px,#a01a9c 37.5px,#8808a6 39.8px,#920fa3 42.0px,#99159f 45.0px,#9613a1 60.8px)"></i><i style="top:106.0px;height:1.05px;background:linear-gradient(90deg,#aa2395 0.0px,#a72197 6.0px,#9a169f 14.2px,#9511a1 18.8px,#8808a6 21.0px,#8808a6 21.8px,#a51f99 24.8px,#d14e72 29.2px,#da5a6a 30.8px,#d7566c 32.2px,#c5407e 34.5px,#9814a0 38.2px,#8a09a5 39.8px,#8e0ca4 41.2px,#9814a0 43.5px,#9613a1 60.8px)"></i><i style="top:107.0px;height:1.05px;background:linear-gradient(90deg,#aa2395 0.0px,#a72197 6.0px,#9a169f 14.2px,#9511a1 18.8px,#8808a6 21.0px,#8e0ca4 22.5px,#bd3786 27.0px,#d45270 29.2px,#dc5d67 30.8px,#da5a6a 32.2px,#c8437b 34.5px,#99159f 38.2px,#8b0aa5 39.8px,#8e0ca4 41.2px,#99159f 43.5px,#9613a1 60.8px)"></i><i style="top:108.0px;height:1.05px;background:linear-gradient(90deg,#aa2395 0.0px,#a72197 6.0px,#9a169f 15.0px,#9613a1 18.8px,#8a09a5 21.0px,#8a09a5 21.8px,#a82296 24.8px,#d6556d 29.2px,#de6164 30.8px,#dc5d67 32.2px,#cb4679 34.5px,#9c179e 38.2px,#8d0ba5 39.8px,#9410a2 42.0px,#99159f 44.2px,#9613a1 60.8px)"></i><i style="top:109.0px;height:1.05px;background:linear-gradient(90deg,#aa2395 0.0px,#a72197 6.0px,#9a169f 15.0px,#9613a1 18.8px,#8a09a5 21.0px,#910ea3 22.5px,#bb3488 26.2px,#d9586a 29.2px,#e16462 30.8px,#de6164 32.2px,#cd4a76 34.5px,#a82296 37.5px,#9410a2 39.0px,#8d0ba5 40.5px,#99159f 43.5px,#9613a1 60.8px)"></i><i style="top:110.0px;height:1.05px;background:linear-gradient(90deg,#aa2395 0.0px,#a72197 6.0px,#9a169f 15.0px,#9613a1 18.8px,#8b0aa5 21.0px,#920fa3 22.5px,#be3885 26.2px,#db5c68 29.2px,#e3685f 30.8px,#e16462 32.2px,#d04d73 34.5px,#a01a9c 38.2px,#9511a1 39.0px,#8e0ca4 40.5px,#9a169f 43.5px,#9613a1 60.8px)"></i><i style="top:111.0px;height:1.05px;background:linear-gradient(90deg,#aa2395 0.0px,#a72197 6.0px,#9c179e 14.2px,#9814a0 18.8px,#8b0aa5 21.0px,#8d0ba5 21.8px,#a72197 24.0px,#de5f65 29.2px,#e56a5d 30.8px,#e3685f 32.2px,#d35171 34.5px,#9814a0 39.0px,#910ea3 39.8px,#920fa3 41.2px,#9a169f 43.5px,#9613a1 60.8px)"></i><i style="top:112.0px;height:1.05px;background:linear-gradient(90deg,#aa2395 0.0px,#a72197 6.0px,#9c179e 14.2px,#9814a0 18.8px,#8d0ba5 21.0px,#8e0ca4 21.8px,#a82296 24.0px,#da5a6a 28.5px,#e56a5d 30.0px,#e76e5b 31.5px,#e26561 33.0px,#c43e7f 36.0px,#99159f 39.0px,#920fa3 39.8px,#920fa3 41.2px,#9c179e 43.5px,#9613a1 60.8px)"></i><i style="top:113.0px;height:1.05px;background:linear-gradient(90deg,#aa2395 0.0px,#a72197 6.0px,#9c179e 14.2px,#9a169f 18.0px,#8d0ba5 21.0px,#9613a1 22.5px,#c43e7f 26.2px,#e26561 29.2px,#e87059 30.8px,#e76e5b 32.2px,#d6556d 34.5px,#b12a90 37.5px,#9a169f 39.0px,#910ea3 40.5px,#9c179e 43.5px,#9613a1 60.8px)"></i><i style="top:114.0px;height:1.05px;background:linear-gradient(90deg,#aa2395 0.0px,#a72197 6.0px,#9c179e 14.2px,#99159f 18.8px,#8e0ca4 21.0px,#8f0da4 21.8px,#ab2494 24.0px,#dc5d67 28.5px,#e66c5c 30.0px,#e87059 31.5px,#e3685f 33.0px,#c7427c 36.0px,#9c179e 39.0px,#9410a2 39.8px,#9511a1 41.2px,#9c179e 44.2px,#9613a1 60.8px)"></i><i style="top:115.0px;height:1.05px;background:linear-gradient(90deg,#aa2395 0.0px,#a72197 6.0px,#9c179e 14.2px,#99159f 18.8px,#8e0ca4 21.0px,#9814a0 22.5px,#c7427c 26.2px,#e26660 29.2px,#e87059 30.8px,#e76e5b 32.2px,#d8576b 34.5px,#b42e8d 37.5px,#9d189d 39.0px,#9511a1 39.8px,#9511a1 41.2px,#9c179e 43.5px,#9613a1 60.8px)"></i><i style="top:116.0px;height:1.05px;background:linear-gradient(90deg,#aa2395 0.0px,#a72197 6.0px,#9c179e 15.0px,#99159f 18.8px,#8f0da4 21.0px,#99159f 22.5px,#c8437b 26.2px,#e26660 29.2px,#e87059 30.8px,#e4695e 33.0px,#d14e72 35.2px,#b52f8c 37.5px,#9e199d 39.0px,#9613a1 39.8px,#9410a2 40.5px,#9d189d 44.2px,#9814a0 57.0px,#9613a1 60.8px)"></i><i style="top:117.0px;height:2.35px;background:linear-gradient(90deg,#aa2395 0.0px,#a72197 6.0px,#9c179e 15.0px,#99159f 18.8px,#8f0da4 21.0px,#920fa3 21.8px,#ae2892 24.0px,#d7566c 27.8px,#e66c5c 30.0px,#e87059 31.5px,#df6263 33.8px,#c13b82 36.8px,#a01a9c 39.0px,#9814a0 39.8px,#9613a1 41.2px,#9d189d 44.2px,#9814a0 57.8px,#9613a1 60.8px)"></i></b></div>
<div class="p" style="left:287.79px;top:4.20px"><b><i style="top:0.0px;height:2.05px;background:linear-gradient(90deg,#c33d80 0.0px,#c33d80 4.5px,#a21d9a 14.2px,#99159f 16.5px,#a21d9a 18.0px,#bb3488 19.5px,#e16462 21.8px,#f89540 24.0px,#febe2a 26.2px,#fcd025 27.8px,#f9dc24 30.8px,#fbd724 33.8px,#fdcb26 35.2px,#fca835 37.5px,#f48849 39.0px,#d45270 41.2px,#b7318a 42.8px,#a11b9b 44.2px,#9c179e 45.8px,#a11b9b 56.2px,#a21d9a 60.8px)"></i><i style="top:2.0px;height:1.05px;background:linear-gradient(90deg,#c33d80 0.0px,#c33d80 4.5px,#9e199d 15.0px,#9814a0 16.5px,#99159f 17.2px,#ab2494 18.8px,#df6263 21.8px,#f79342 24.0px,#febe2a 26.2px,#fcd025 27.8px,#f9dc24 30.8px,#fbd724 33.8px,#fdca26 35.2px,#fdb52e 36.8px,#f3854b 39.0px,#d24f71 41.2px,#b52f8c 42.8px,#a01a9c 44.2px,#9a169f 45.8px,#9e199d 49.5px,#a11b9b 56.2px,#a21d9a 60.8px)"></i><i style="top:3.0px;height:1.05px;background:linear-gradient(90deg,#c33d80 0.0px,#c33d80 4.5px,#a11b9b 14.2px,#9613a1 16.5px,#9613a1 17.2px,#a72197 18.8px,#db5c68 21.8px,#f68f44 24.0px,#febb2b 26.2px,#fbd524 28.5px,#f9dc24 31.5px,#fbd724 33.8px,#fdca26 35.2px,#fca338 37.5px,#f1814d 39.0px,#ce4b75 41.2px,#b12a90 42.8px,#9c179e 44.2px,#9a169f 46.5px,#a21d9a 60.0px,#a11b9b 60.8px)"></i><i style="top:4.0px;height:1.05px;background:linear-gradient(90deg,#c23c81 0.0px,#c43e7f 3.8px,#a51f99 13.5px,#9410a2 16.5px,#9a169f 18.0px,#b12a90 19.5px,#e3685f 22.5px,#f58b47 24.0px,#feba2c 26.2px,#fbd524 28.5px,#f9dc24 31.5px,#fcd025 34.5px,#febd2a 36.0px,#f68f44 38.2px,#e56a5d 39.8px,#bb3488 42.0px,#a11b9b 43.5px,#99159f 44.2px,#9613a1 45.8px,#9d189d 49.5px,#a01a9c 55.5px,#a11b9b 60.8px)"></i><i style="top:5.0px;height:1.05px;background:linear-gradient(90deg,#c23c81 0.0px,#c43e7f 3.8px,#a31e9a 13.5px,#920fa3 16.5px,#9613a1 18.0px,#ac2694 19.5px,#e06363 22.5px,#f9973f 24.8px,#feb72d 26.2px,#fccd25 27.8px,#fad824 29.2px,#f9dc24 31.5px,#fbd524 33.8px,#fdc627 35.2px,#fdac33 36.8px,#ec7754 39.0px,#c6417d 41.2px,#a82296 42.8px,#9511a1 44.2px,#9814a0 46.5px,#9c179e 50.2px,#a21d9a 60.0px,#a11b9b 60.8px)"></i><i style="top:6.0px;height:1.05px;background:linear-gradient(90deg,#c23c81 0.0px,#c43e7f 3.0px,#b12a90 9.8px,#a01a9c 14.2px,#910ea3 16.5px,#8f0da4 17.2px,#9410a2 18.0px,#a82296 19.5px,#dc5d67 22.5px,#f79342 24.8px,#fdc229 27.0px,#fbd324 28.5px,#f9dc24 30.8px,#fbd524 33.8px,#fdc527 35.2px,#fca835 36.8px,#f2844b 38.2px,#d04d73 40.5px,#a31e9a 42.8px,#920fa3 44.2px,#9410a2 45.8px,#9c179e 49.5px,#a01a9c 56.2px,#a11b9b 60.8px)"></i><i style="top:7.0px;height:1.05px;background:linear-gradient(90deg,#c23c81 0.0px,#c23c81 4.5px,#a31e9a 13.5px,#8f0da4 16.5px,#8e0ca4 17.2px,#99159f 18.8px,#bf3984 21.0px,#e4695e 23.2px,#f68d45 24.8px,#fec029 27.0px,#fbd324 28.5px,#f9dc24 30.8px,#fad824 33.0px,#fccd25 34.5px,#fdb52e 36.0px,#f79342 37.5px,#da5a6a 39.8px,#ad2793 42.0px,#9511a1 43.5px,#8f0da4 44.2px,#9a169f 48.8px,#a11b9b 60.8px)"></i><i style="top:8.0px;height:1.05px;background:linear-gradient(90deg,#c13b82 0.0px,#c13b82 4.5px,#9e199d 14.2px,#8e0ca4 16.5px,#8f0da4 18.0px,#a11b9b 19.5px,#c7427c 21.8px,#eb7556 24.0px,#fa9b3d 25.5px,#febd2a 27.0px,#fcd225 28.5px,#f9dc24 30.8px,#fad824 33.0px,#fdcb26 34.5px,#fdb22f 36.0px,#f68d45 37.5px,#d5546e 39.8px,#a82296 42.0px,#920fa3 43.5px,#8e0ca4 45.0px,#9a169f 48.8px,#9e199d 55.5px,#a11b9b 60.8px)"></i><i style="top:9.0px;height:1.05px;background:linear-gradient(90deg,#c03a83 0.0px,#c13b82 3.8px,#a51f99 12.8px,#8d0ba5 16.5px,#8e0ca4 18.0px,#9410a2 18.8px,#b52f8c 21.0px,#db5c68 23.2px,#f1834c 24.8px,#fca934 26.2px,#fdc827 27.8px,#fbd724 29.2px,#f9dc24 31.5px,#fbd324 33.8px,#febe2a 35.2px,#fa9b3d 36.8px,#e97257 38.2px,#b32c8e 41.2px,#9814a0 42.8px,#8b0aa5 44.2px,#99159f 48.8px,#9e199d 55.5px,#a11b9b 60.8px)"></i><i style="top:10.0px;height:1.05px;background:linear-gradient(90deg,#be3885 0.0px,#be3885 4.5px,#a11b9b 13.5px,#8a09a5 17.2px,#920fa3 18.8px,#b12a90 21.0px,#d6556d 23.2px,#ef7c51 24.8px,#fca537 26.2px,#fdc527 27.8px,#fbd724 29.2px,#f9dc24 31.5px,#fad824 33.0px,#fdc827 34.5px,#febb2b 35.2px,#f89540 36.8px,#e66c5c 38.2px,#bd3786 40.5px,#a11b9b 42.0px,#8d0ba5 43.5px,#8b0aa5 45.0px,#9814a0 48.0px,#a11b9b 60.8px)"></i><i style="top:11.0px;height:1.05px;background:linear-gradient(90deg,#bd3786 0.0px,#be3885 3.8px,#a01a9c 13.5px,#8808a6 17.2px,#910ea3 18.8px,#ad2793 21.0px,#c43e7f 22.5px,#eb7556 24.8px,#fba139 26.2px,#fdc328 27.8px,#fbd724 29.2px,#f9dc24 31.5px,#fcd225 33.8px,#feb82c 35.2px,#f79044 36.8px,#e26561 38.2px,#b7318a 40.5px,#9d189d 42.0px,#8b0aa5 43.5px,#8a09a5 45.0px,#99159f 48.8px,#9d189d 55.5px,#a11b9b 60.8px)"></i><i style="top:12.0px;height:1.05px;background:linear-gradient(90deg,#bc3587 0.0px,#ba3388 5.2px,#9e199d 13.5px,#8a09a5 16.5px,#8a09a5 18.0px,#9613a1 19.5px,#b32c8e 21.8px,#cc4778 23.2px,#f2844b 25.5px,#fdaf31 27.0px,#fccd25 28.5px,#fada24 30.0px,#fada24 32.2px,#fcd025 33.8px,#fdc527 34.5px,#fba139 36.0px,#ea7457 37.5px,#c03a83 39.8px,#a51f99 41.2px,#8f0da4 42.8px,#8707a6 44.2px,#9814a0 48.0px,#9e199d 56.2px,#a11b9b 60.8px)"></i><i style="top:13.0px;height:1.05px;background:linear-gradient(90deg,#ba3388 0.0px,#ba3388 4.5px,#9d189d 13.5px,#8707a6 17.2px,#8e0ca4 18.8px,#ae2892 21.8px,#c6417d 23.2px,#ef7c51 25.5px,#fdab33 27.0px,#fdcb26 28.5px,#fada24 30.0px,#fada24 32.2px,#fcce25 33.8px,#fdc229 34.5px,#f99a3e 36.0px,#e66c5c 37.5px,#c9447a 39.0px,#a11b9b 41.2px,#8808a6 43.5px,#8808a6 45.0px,#9814a0 48.8px,#9d189d 55.5px,#a11b9b 60.8px)"></i><i style="top:14.0px;height:1.05px;background:linear-gradient(90deg,#b83289 0.0px,#b6308b 5.2px,#99159f 14.2px,#8606a6 17.2px,#8d0ba5 18.8px,#ab2494 21.8px,#c03a83 23.2px,#dd5e66 24.8px,#f68d45 26.2px,#feba2c 27.8px,#fdca26 28.5px,#fad824 30.0px,#fada24 32.2px,#fccd25 33.8px,#febe2a 34.5px,#f89441 36.0px,#e16462 37.5px,#c33d80 39.0px,#a82296 40.5px,#8d0ba5 42.8px,#8606a6 44.2px,#9613a1 48.0px,#9e199d 56.2px,#a11b9b 60.8px)"></i><i style="top:15.0px;height:1.05px;background:linear-gradient(90deg,#b6308b 0.0px,#b6308b 4.5px,#9814a0 14.2px,#8707a6 16.5px,#8707a6 18.0px,#a62098 21.8px,#ba3388 23.2px,#d5546e 24.8px,#f1834c 26.2px,#fdb130 27.8px,#fdc229 28.5px,#fccd25 29.2px,#fbd324 30.8px,#fbd324 32.2px,#fdc527 33.8px,#fdb52e 34.5px,#f48948 36.0px,#da5a6a 37.5px,#bc3587 39.0px,#9a169f 41.2px,#8606a6 43.5px,#8707a6 45.0px,#9613a1 48.8px,#9d189d 55.5px,#a11b9b 60.8px)"></i><i style="top:16.0px;height:1.05px;background:linear-gradient(90deg,#b52f8c 0.0px,#b32c8e 5.2px,#9613a1 14.2px,#8606a6 16.5px,#8606a6 18.0px,#a21d9a 21.8px,#b22b8f 23.2px,#cc4977 24.8px,#eb7556 26.2px,#fca338 27.8px,#fdb52e 28.5px,#fdc229 29.2px,#fdca26 30.8px,#fdc827 32.2px,#feba2c 33.8px,#f89441 35.2px,#e16462 36.8px,#c13b82 38.2px,#a82296 39.8px,#8808a6 42.8px,#8305a7 44.2px,#9410a2 48.0px,#a11b9b 60.0px,#a01a9c 60.8px)"></i><i style="top:17.0px;height:1.05px;background:linear-gradient(90deg,#b22b8f 0.0px,#b22b8f 4.5px,#9814a0 13.5px,#8305a7 16.5px,#8104a7 18.0px,#a31e9a 22.5px,#b52f8c 24.0px,#d35171 25.5px,#f07f4f 27.0px,#fca934 28.5px,#fdb52e 29.2px,#febe2a 30.8px,#febd2a 32.2px,#feb82c 33.0px,#fdac33 33.8px,#f3854b 35.2px,#d7566c 36.8px,#b7318a 38.2px,#9a169f 40.5px,#8104a7 43.5px,#8305a7 45.0px,#920fa3 48.0px,#9e199d 57.8px,#9e199d 60.8px)"></i><i style="top:18.0px;height:1.05px;background:linear-gradient(90deg,#b02991 0.0px,#ad2793 5.2px,#9511a1 13.5px,#8004a8 16.5px,#7e03a8 18.0px,#9a169f 21.8px,#a31e9a 23.2px,#b83289 24.8px,#d9586a 26.2px,#f48849 27.8px,#fca934 29.2px,#fdb130 30.0px,#fdb130 32.2px,#fdac33 33.0px,#f68d45 34.5px,#ec7754 35.2px,#cc4977 36.8px,#bc3587 37.5px,#a51f99 39.0px,#8305a7 42.8px,#7d03a8 44.2px,#8f0da4 48.0px,#9e199d 59.2px,#9d189d 60.8px)"></i><i style="top:19.0px;height:1.05px;background:linear-gradient(90deg,#ac2694 0.0px,#ab2494 5.2px,#920fa3 13.5px,#7d03a8 16.5px,#7b02a8 18.0px,#9a169f 22.5px,#a31e9a 24.0px,#bd3786 25.5px,#ed7a52 27.8px,#f68f44 28.5px,#fa9c3c 29.2px,#fca537 30.0px,#fca636 32.2px,#fb9f3a 33.0px,#f79342 33.8px,#f07f4f 34.5px,#d35171 36.0px,#b12a90 37.5px,#9e199d 39.0px,#8004a8 42.8px,#7a02a8 44.2px,#8d0ba5 48.0px,#9c179e 59.2px,#9c179e 60.8px)"></i><i style="top:20.0px;height:1.05px;background:linear-gradient(90deg,#aa2395 0.0px,#a72197 5.2px,#910ea3 13.5px,#7b02a8 16.5px,#7801a8 18.0px,#9410a2 21.8px,#9d189d 24.0px,#b12a90 25.5px,#d5536f 27.0px,#e56b5d 27.8px,#f79143 29.2px,#f99a3e 30.0px,#fa9b3d 32.2px,#f89441 33.0px,#f3854b 33.8px,#e97158 34.5px,#c7427c 36.0px,#b52f8c 36.8px,#a72197 37.5px,#99159f 39.0px,#7d03a8 42.8px,#7701a8 44.2px,#8b0aa5 48.0px,#9a169f 60.0px,#99159f 60.8px)"></i><i style="top:21.0px;height:1.05px;background:linear-gradient(90deg,#a62098 0.0px,#a51f99 5.2px,#8e0ca4 13.5px,#7801a8 16.5px,#7501a8 18.0px,#910ea3 21.8px,#9d189d 24.8px,#a62098 25.5px,#b52f8c 26.2px,#db5c68 27.8px,#e97257 28.5px,#f2844b 29.2px,#f68d45 30.0px,#f79143 31.5px,#f48849 33.0px,#ec7754 33.8px,#cd4a76 35.2px,#aa2395 36.8px,#9e199d 37.5px,#8707a6 41.2px,#7501a8 43.5px,#7701a8 45.0px,#8b0aa5 48.8px,#99159f 60.0px,#9814a0 60.8px)"></i><i style="top:22.0px;height:1.05px;background:linear-gradient(90deg,#a31e9a 0.0px,#a01a9c 6.0px,#8b0aa5 13.5px,#7201a8 17.2px,#7e03a8 19.5px,#8d0ba5 21.8px,#9613a1 24.8px,#a82296 26.2px,#bb3488 27.0px,#e16462 28.5px,#ec7754 29.2px,#f1834c 30.0px,#f3874a 31.5px,#f2844b 32.2px,#ee7b51 33.0px,#e56a5d 33.8px,#c03a83 35.2px,#ad2793 36.0px,#a01a9c 36.8px,#9410a2 38.2px,#8405a7 41.2px,#7201a8 43.5px,#7501a8 45.0px,#8707a6 48.0px,#9814a0 60.0px,#9613a1 60.8px)"></i><i style="top:23.0px;height:1.05px;background:linear-gradient(90deg,#a01a9c 0.0px,#9e199d 5.2px,#8a09a5 13.5px,#7201a8 17.2px,#7701a8 18.8px,#8a09a5 21.8px,#9613a1 25.5px,#9d189d 26.2px,#ac2694 27.0px,#d6556d 28.5px,#e56a5d 29.2px,#ec7754 30.0px,#ee7b51 31.5px,#ed7953 32.2px,#e76f5a 33.0px,#da5b69 33.8px,#b22b8f 35.2px,#a11b9b 36.0px,#920fa3 37.5px,#8707a6 40.5px,#7100a8 43.5px,#7401a8 45.0px,#8606a6 48.0px,#9511a1 59.2px,#9511a1 60.8px)"></i><i style="top:24.0px;height:1.05px;background:linear-gradient(90deg,#9c179e 0.0px,#9a169f 5.2px,#8707a6 13.5px,#7100a8 17.2px,#7a02a8 19.5px,#8a09a5 22.5px,#9511a1 26.2px,#9e199d 27.0px,#b22b8f 27.8px,#db5c68 29.2px,#e56b5d 30.0px,#e87059 31.5px,#e76e5b 32.2px,#de6164 33.0px,#ce4b75 33.8px,#b7318a 34.5px,#a21d9a 35.2px,#9613a1 36.0px,#8d0ba5 38.2px,#8004a8 41.2px,#7100a8 43.5px,#7201a8 45.0px,#8104a7 47.2px,#9410a2 59.2px,#9410a2 60.8px)"></i><i style="top:25.0px;height:1.05px;background:linear-gradient(90deg,#99159f 0.0px,#9511a1 6.8px,#8606a6 13.5px,#7201a8 16.5px,#7100a8 18.0px,#8707a6 22.5px,#8f0da4 26.2px,#9410a2 27.0px,#a11b9b 27.8px,#b7318a 28.5px,#cf4c74 29.2px,#dd5e66 30.0px,#e26561 30.8px,#df6263 32.2px,#d45270 33.0px,#a62098 34.5px,#9613a1 35.2px,#8f0da4 36.0px,#8104a7 40.5px,#6f00a8 43.5px,#7201a8 45.0px,#8305a7 48.8px,#920fa3 60.0px,#910ea3 60.8px)"></i><i style="top:26.0px;height:1.05px;background:linear-gradient(90deg,#9511a1 0.0px,#9410a2 5.2px,#8405a7 13.5px,#6f00a8 17.2px,#7201a8 18.8px,#8305a7 21.8px,#8d0ba5 27.0px,#920fa3 27.8px,#a51f99 28.5px,#bf3984 29.2px,#d35171 30.0px,#da5a6a 30.8px,#da5b69 31.5px,#d6556d 32.2px,#c6417d 33.0px,#ab2494 33.8px,#9613a1 34.5px,#8e0ca4 35.2px,#8004a8 40.5px,#7100a8 42.8px,#7100a8 45.0px,#8104a7 48.8px,#910ea3 60.0px,#8f0da4 60.8px)"></i><i style="top:27.0px;height:1.05px;background:linear-gradient(90deg,#920fa3 0.0px,#8e0ca4 6.8px,#8104a7 13.5px,#6f00a8 17.2px,#7501a8 19.5px,#8305a7 23.2px,#8b0aa5 27.8px,#910ea3 28.5px,#aa2395 29.2px,#c6417d 30.0px,#d14e72 30.8px,#d14e72 31.5px,#cb4679 32.2px,#9613a1 33.8px,#8b0aa5 34.5px,#7d03a8 40.5px,#6e00a8 43.5px,#7401a8 45.8px,#8104a7 49.5px,#8f0da4 59.2px,#8e0ca4 60.8px)"></i><i style="top:28.0px;height:1.05px;background:linear-gradient(90deg,#8e0ca4 0.0px,#8b0aa5 6.8px,#7d03a8 14.2px,#6e00a8 17.2px,#8004a8 23.2px,#8808a6 28.5px,#910ea3 29.2px,#b12a90 30.0px,#c6417d 30.8px,#c7427c 31.5px,#ba3388 32.2px,#9814a0 33.0px,#8808a6 33.8px,#7b02a8 40.5px,#6e00a8 43.5px,#6f00a8 45.0px,#7e03a8 48.8px,#8808a6 55.5px,#8d0ba5 60.8px)"></i><i style="top:29.0px;height:1.05px;background:linear-gradient(90deg,#8a09a5 0.0px,#8808a6 6.0px,#7b02a8 14.2px,#6e00a8 17.2px,#7d03a8 22.5px,#8606a6 29.2px,#8f0da4 30.0px,#b6308b 30.8px,#bb3488 31.5px,#99159f 32.2px,#8606a6 33.0px,#7801a8 40.5px,#6e00a8 43.5px,#7201a8 45.8px,#7d03a8 48.8px,#8808a6 57.0px,#8a09a5 60.8px)"></i><i style="top:30.0px;height:1.05px;background:linear-gradient(90deg,#8707a6 0.0px,#8305a7 8.2px,#7801a8 14.2px,#6e00a8 17.2px,#7501a8 20.2px,#8104a7 28.5px,#8707a6 30.8px,#9d189d 31.5px,#8305a7 32.2px,#7701a8 40.5px,#6c00a8 43.5px,#7b02a8 49.5px,#8a09a5 60.0px,#8808a6 60.8px)"></i><i style="top:31.0px;height:1.05px;background:linear-gradient(90deg,#8305a7 0.0px,#8004a8 8.2px,#7701a8 14.2px,#6c00a8 17.2px,#7801a8 22.5px,#7b02a8 27.8px,#7501a8 29.2px,#6e00a8 30.0px,#6001a6 30.8px,#6100a7 31.5px,#7501a8 33.0px,#7d03a8 35.2px,#7100a8 42.0px,#6c00a8 44.2px,#7a02a8 49.5px,#8707a6 59.2px,#8707a6 60.8px)"></i><i style="top:32.0px;height:1.05px;background:linear-gradient(90deg,#7e03a8 0.0px,#7d03a8 8.2px,#7501a8 14.2px,#6c00a8 18.0px,#7701a8 23.2px,#7801a8 27.8px,#7100a8 29.2px,#6900a8 30.0px,#5b01a5 30.8px,#5c01a6 31.5px,#7100a8 33.0px,#7a02a8 35.2px,#7201a8 41.2px,#6c00a8 44.2px,#7801a8 50.2px,#8606a6 59.2px,#8606a6 60.8px)"></i><i style="top:33.0px;height:1.05px;background:linear-gradient(90deg,#7b02a8 0.0px,#7401a8 14.2px,#6c00a8 17.2px,#7801a8 26.2px,#7201a8 28.5px,#6400a7 30.0px,#5801a4 30.8px,#5801a4 31.5px,#6e00a8 33.0px,#7801a8 36.0px,#6a00a8 43.5px,#7701a8 51.0px,#8405a7 60.0px,#8305a7 60.8px)"></i><i style="top:34.0px;height:1.05px;background:linear-gradient(90deg,#7701a8 0.0px,#7201a8 13.5px,#6a00a8 18.0px,#7701a8 26.2px,#6900a8 29.2px,#5302a3 30.8px,#5302a3 31.5px,#6900a8 33.0px,#7501a8 35.2px,#7401a8 38.2px,#6a00a8 44.2px,#7401a8 50.2px,#8104a7 59.2px,#8104a7 60.8px)"></i><i style="top:35.0px;height:1.05px;background:linear-gradient(90deg,#7201a8 0.0px,#6f00a8 14.2px,#6a00a8 18.8px,#7501a8 26.2px,#6c00a8 28.5px,#5b01a5 30.0px,#4e02a2 30.8px,#5002a2 31.5px,#6600a7 33.0px,#7401a8 35.2px,#7501a8 36.8px,#6a00a8 44.2px,#7a02a8 55.5px,#8004a8 60.0px,#7e03a8 60.8px)"></i><i style="top:36.0px;height:1.05px;background:linear-gradient(90deg,#6e00a8 0.0px,#6c00a8 15.0px,#6a00a8 19.5px,#7100a8 24.8px,#7401a8 26.2px,#6900a8 28.5px,#5801a4 30.0px,#4b03a1 30.8px,#4b03a1 31.5px,#6300a7 33.0px,#7201a8 35.2px,#7401a8 36.8px,#6a00a8 42.0px,#6c00a8 46.5px,#7701a8 54.8px,#7e03a8 59.2px,#7d03a8 60.8px)"></i><i style="top:37.0px;height:1.05px;background:linear-gradient(90deg,#6c00a8 0.0px,#6a00a8 21.0px,#7201a8 26.2px,#6c00a8 27.8px,#5502a4 30.0px,#48039f 30.8px,#48039f 31.5px,#6001a6 33.0px,#7100a8 35.2px,#7201a8 36.8px,#6900a8 42.0px,#7100a8 53.2px,#7b02a8 60.0px,#7a02a8 60.8px)"></i><i style="top:38.0px;height:1.05px;background:linear-gradient(90deg,#6900a8 0.0px,#6900a8 23.2px,#7100a8 26.2px,#6900a8 27.8px,#5b01a5 29.2px,#44039e 30.8px,#44039e 31.5px,#5b01a5 33.0px,#6f00a8 35.2px,#7100a8 36.8px,#6900a8 39.8px,#6a00a8 51.0px,#7801a8 59.2px,#7801a8 60.8px)"></i><i style="top:39.0px;height:1.05px;background:linear-gradient(90deg,#6600a7 0.0px,#6700a8 23.2px,#6f00a8 26.2px,#6700a8 27.8px,#4c02a1 30.0px,#41049d 30.8px,#41049d 31.5px,#6001a6 33.8px,#6e00a8 35.2px,#6f00a8 36.8px,#6600a7 39.8px,#6a00a8 52.5px,#7701a8 60.0px,#7501a8 60.8px)"></i><i style="top:40.0px;height:1.05px;background:linear-gradient(90deg,#6600a7 0.0px,#6700a8 24.0px,#7100a8 26.2px,#5e01a6 28.5px,#3f049c 30.8px,#3f049c 31.5px,#6600a7 34.5px,#7100a8 36.0px,#6600a7 39.0px,#6700a8 51.0px,#7501a8 59.2px,#7401a8 60.8px)"></i><i style="top:41.0px;height:1.05px;background:linear-gradient(90deg,#6400a7 0.0px,#6400a7 23.2px,#7100a8 26.2px,#5c01a6 28.5px,#3c049b 30.8px,#3e049c 31.5px,#6600a7 34.5px,#7100a8 36.0px,#6400a7 39.0px,#6700a8 51.8px,#7401a8 59.2px,#7401a8 60.8px)"></i><i style="top:42.0px;height:1.05px;background:linear-gradient(90deg,#6300a7 0.0px,#6400a7 23.2px,#7100a8 26.2px,#6400a7 27.8px,#3a049a 30.8px,#3a049a 31.5px,#6400a7 34.5px,#7100a8 36.0px,#6300a7 39.8px,#6600a7 51.8px,#7201a8 59.2px,#7201a8 60.8px)"></i><i style="top:43.0px;height:1.05px;background:linear-gradient(90deg,#6100a7 0.0px,#6300a7 23.2px,#6900a8 24.8px,#7100a8 26.2px,#5801a4 28.5px,#38049a 30.8px,#38049a 31.5px,#6c00a8 35.2px,#7100a8 36.0px,#6300a7 39.0px,#6300a7 51.0px,#7100a8 58.5px,#7100a8 60.8px)"></i><i style="top:44.0px;height:1.05px;background:linear-gradient(90deg,#6001a6 0.0px,#6001a6 23.2px,#6f00a8 26.2px,#6a00a8 27.0px,#3e049c 30.0px,#370499 30.8px,#370499 31.5px,#6a00a8 35.2px,#7100a8 36.0px,#6001a6 39.0px,#6100a7 51.0px,#6f00a8 59.2px,#6f00a8 60.8px)"></i><i style="top:45.0px;height:1.05px;background:linear-gradient(90deg,#5e01a6 0.0px,#5e01a6 23.2px,#6e00a8 25.5px,#6f00a8 26.2px,#5e01a6 27.8px,#3c049b 30.0px,#350498 30.8px,#350498 31.5px,#46039f 33.0px,#6900a8 35.2px,#6f00a8 36.0px,#6e00a8 36.8px,#6100a7 38.2px,#5e01a6 41.2px,#6001a6 51.8px,#6e00a8 59.2px,#6c00a8 60.8px)"></i><i style="top:46.0px;height:1.05px;background:linear-gradient(90deg,#5b01a5 0.0px,#5c01a6 23.2px,#6f00a8 26.2px,#5b01a5 27.8px,#38049a 30.0px,#330597 30.8px,#330597 31.5px,#43039e 33.0px,#6700a8 35.2px,#6f00a8 36.0px,#6400a7 37.5px,#5c01a6 39.0px,#5c01a6 51.0px,#6a00a8 58.5px,#6a00a8 60.8px)"></i><i style="top:47.0px;height:1.05px;background:linear-gradient(90deg,#5801a4 0.0px,#5901a5 23.2px,#6300a7 24.8px,#6c00a8 25.5px,#6e00a8 26.2px,#6600a7 27.0px,#3f049c 29.2px,#310597 30.8px,#310597 31.5px,#3f049c 33.0px,#6600a7 35.2px,#6e00a8 36.0px,#6300a7 37.5px,#5901a5 39.0px,#5b01a5 51.8px,#6900a8 60.0px,#6700a8 60.8px)"></i><i style="top:48.0px;height:1.05px;background:linear-gradient(90deg,#5601a4 0.0px,#5601a4 23.2px,#6100a7 24.8px,#6a00a8 25.5px,#6c00a8 26.2px,#6400a7 27.0px,#46039f 28.5px,#350498 30.0px,#2f0596 30.8px,#2f0596 31.5px,#3c049b 33.0px,#6400a7 35.2px,#6c00a8 36.0px,#6100a7 37.5px,#5601a4 39.0px,#5801a4 51.0px,#6600a7 60.0px,#6400a7 60.8px)"></i><i style="top:49.0px;height:1.05px;background:linear-gradient(90deg,#5302a3 0.0px,#5502a4 23.2px,#6001a6 24.8px,#6900a8 25.5px,#6a00a8 26.2px,#6100a7 27.0px,#43039e 28.5px,#310597 30.0px,#2e0595 31.5px,#38049a 33.0px,#6100a7 35.2px,#6a00a8 36.0px,#6001a6 37.5px,#5502a4 39.0px,#5502a4 51.0px,#6300a7 59.2px,#6100a7 60.8px)"></i><i style="top:50.0px;height:1.05px;background:linear-gradient(90deg,#5002a2 0.0px,#5102a3 23.2px,#5502a4 24.0px,#6700a8 25.5px,#6900a8 26.2px,#5e01a6 27.0px,#3f049c 28.5px,#2f0596 30.0px,#2e0595 31.5px,#370499 33.0px,#4e02a2 34.5px,#6001a6 35.2px,#6900a8 36.0px,#6600a7 36.8px,#5502a4 38.2px,#5002a2 41.2px,#5302a3 52.5px,#6001a6 58.5px,#6001a6 60.8px)"></i><i style="top:51.0px;height:1.05px;background:linear-gradient(90deg,#4c02a1 0.0px,#4e02a2 23.2px,#5b01a5 24.8px,#6400a7 25.5px,#6700a8 26.2px,#5c01a6 27.0px,#3c049b 28.5px,#330597 29.2px,#2c0594 31.5px,#330597 33.0px,#4b03a1 34.5px,#5c01a6 35.2px,#6700a8 36.0px,#6400a7 36.8px,#5102a3 38.2px,#4c02a1 41.2px,#5002a2 51.8px,#5c01a6 58.5px,#5c01a6 60.8px)"></i><i style="top:52.0px;height:1.05px;background:linear-gradient(90deg,#4903a0 0.0px,#4b03a1 23.2px,#5901a5 24.8px,#6300a7 25.5px,#6400a7 26.2px,#5901a5 27.0px,#38049a 28.5px,#2e0595 30.0px,#2e0595 32.2px,#310597 33.0px,#48039f 34.5px,#5901a5 35.2px,#6400a7 36.0px,#6300a7 36.8px,#5002a2 38.2px,#4903a0 39.8px,#4c02a1 51.8px,#5901a5 58.5px,#5901a5 60.8px)"></i><i style="top:53.0px;height:1.05px;background:linear-gradient(90deg,#46039f 0.0px,#48039f 23.2px,#5601a4 24.8px,#6100a7 25.5px,#6300a7 26.2px,#5601a4 27.0px,#370499 28.5px,#2c0594 30.0px,#2c0594 32.2px,#370499 33.8px,#6300a7 36.0px,#6100a7 36.8px,#4c02a1 38.2px,#46039f 39.8px,#4903a0 51.8px,#5801a4 59.2px,#5601a4 60.8px)"></i><i style="top:54.0px;height:1.05px;background:linear-gradient(90deg,#43039e 0.0px,#44039e 23.2px,#4903a0 24.0px,#5e01a6 25.5px,#6001a6 26.2px,#330597 28.5px,#2a0593 30.8px,#2e0595 33.0px,#41049d 34.5px,#5302a3 35.2px,#6001a6 36.0px,#5e01a6 36.8px,#4903a0 38.2px,#44039e 39.8px,#44039e 50.2px,#5502a4 59.2px,#5302a3 60.8px)"></i><i style="top:55.0px;height:1.05px;background:linear-gradient(90deg,#3f049c 0.0px,#41049d 23.2px,#5002a2 24.8px,#5b01a5 25.5px,#5b01a5 26.2px,#4e02a2 27.0px,#3c049b 27.8px,#2c0594 29.2px,#2c0594 33.0px,#310597 33.8px,#5c01a6 36.0px,#5b01a5 36.8px,#46039f 38.2px,#3f049c 39.8px,#41049d 51.0px,#5002a2 58.5px,#5002a2 60.8px)"></i><i style="top:56.0px;height:1.05px;background:linear-gradient(90deg,#3a049a 0.0px,#3c049b 23.2px,#41049d 24.0px,#5601a4 25.5px,#5601a4 26.2px,#38049a 27.8px,#2a0593 29.2px,#2a0593 33.0px,#2f0596 33.8px,#4903a0 35.2px,#5801a4 36.0px,#5601a4 36.8px,#41049d 38.2px,#3a049a 39.8px,#3c049b 51.0px,#4b03a1 58.5px,#4b03a1 60.8px)"></i><i style="top:57.0px;height:1.05px;background:linear-gradient(90deg,#330597 0.0px,#350498 22.5px,#3c049b 24.0px,#5102a3 25.5px,#5102a3 26.2px,#350498 27.8px,#2c0594 28.5px,#280592 30.0px,#280592 33.0px,#2c0594 33.8px,#350498 34.5px,#5102a3 36.0px,#5102a3 36.8px,#3c049b 38.2px,#330597 40.5px,#370499 51.8px,#46039f 59.2px,#44039e 60.8px)"></i><i style="top:58.0px;height:1.05px;background:linear-gradient(90deg,#2e0595 0.0px,#2f0596 23.2px,#350498 24.0px,#4c02a1 25.5px,#4b03a1 26.2px,#310597 27.8px,#2a0593 28.5px,#260591 32.2px,#2a0593 33.8px,#310597 34.5px,#4c02a1 36.0px,#4b03a1 36.8px,#350498 38.2px,#2e0595 39.8px,#2f0596 51.0px,#3f049c 58.5px,#3f049c 60.8px)"></i><i style="top:59.0px;height:1.05px;background:linear-gradient(90deg,#2a0593 0.0px,#2c0594 22.5px,#330597 24.0px,#4903a0 25.5px,#48039f 26.2px,#2f0596 27.8px,#280592 28.5px,#280592 33.8px,#3c049b 35.2px,#48039f 36.0px,#48039f 36.8px,#2c0594 39.0px,#2c0594 50.2px,#3e049c 59.2px,#3c049b 60.8px)"></i><i style="top:60.0px;height:1.05px;background:linear-gradient(90deg,#2c0594 0.0px,#2e0595 23.2px,#4b03a1 25.5px,#4b03a1 26.2px,#2f0596 27.8px,#260591 30.0px,#2a0593 33.8px,#3e049c 35.2px,#4b03a1 36.0px,#4b03a1 36.8px,#330597 38.2px,#2c0594 39.8px,#2e0595 50.2px,#3f049c 59.2px,#3e049c 60.8px)"></i><i style="top:61.0px;height:1.05px;background:linear-gradient(90deg,#310597 0.0px,#330597 23.2px,#44039e 24.8px,#5002a2 25.5px,#5002a2 26.2px,#330597 27.8px,#280592 29.2px,#280592 33.0px,#330597 34.5px,#5002a2 36.0px,#5002a2 36.8px,#38049a 38.2px,#330597 39.0px,#330597 50.2px,#44039e 59.2px,#43039e 60.8px)"></i><i style="top:62.0px;height:1.05px;background:linear-gradient(90deg,#38049a 0.0px,#3a049a 23.2px,#3f049c 24.0px,#5502a4 25.5px,#5502a4 26.2px,#370499 27.8px,#2e0595 28.5px,#280592 30.8px,#2a0593 33.0px,#2e0595 33.8px,#38049a 34.5px,#5601a4 36.0px,#5502a4 36.8px,#3f049c 38.2px,#38049a 39.8px,#3a049a 51.0px,#4903a0 58.5px,#4903a0 60.8px)"></i><i style="top:63.0px;height:1.05px;background:linear-gradient(90deg,#3e049c 0.0px,#3f049c 23.2px,#44039e 24.0px,#5901a5 25.5px,#5b01a5 26.2px,#3c049b 27.8px,#2c0594 29.2px,#280592 31.5px,#310597 33.8px,#3c049b 34.5px,#4e02a2 35.2px,#5b01a5 36.0px,#5901a5 36.8px,#44039e 38.2px,#3e049c 39.8px,#41049d 51.8px,#5002a2 59.2px,#4e02a2 60.8px)"></i><i style="top:64.0px;height:1.05px;background:linear-gradient(90deg,#43039e 0.0px,#44039e 23.2px,#5302a3 24.8px,#5e01a6 25.5px,#5e01a6 26.2px,#5102a3 27.0px,#3f049c 27.8px,#330597 28.5px,#2a0593 30.0px,#2a0593 32.2px,#330597 33.8px,#3f049c 34.5px,#5102a3 35.2px,#5e01a6 36.0px,#5c01a6 36.8px,#4903a0 38.2px,#43039e 39.8px,#44039e 51.0px,#5302a3 60.0px,#5102a3 60.8px)"></i><i style="top:65.0px;height:1.05px;background:linear-gradient(90deg,#46039f 0.0px,#48039f 23.2px,#5601a4 24.8px,#6001a6 25.5px,#6100a7 26.2px,#5502a4 27.0px,#350498 28.5px,#2a0593 30.8px,#2f0596 33.0px,#43039e 34.5px,#5601a4 35.2px,#6100a7 36.0px,#6001a6 36.8px,#4b03a1 38.2px,#46039f 41.2px,#48039f 51.0px,#5601a4 60.0px,#5502a4 60.8px)"></i><i style="top:66.0px;height:1.05px;background:linear-gradient(90deg,#4903a0 0.0px,#4b03a1 23.2px,#4e02a2 24.0px,#6300a7 25.5px,#6400a7 26.2px,#5801a4 27.0px,#38049a 28.5px,#2e0595 30.0px,#2e0595 32.2px,#38049a 33.8px,#5901a5 35.2px,#6400a7 36.0px,#6300a7 36.8px,#4e02a2 38.2px,#4903a0 41.2px,#4b03a1 51.8px,#5901a5 59.2px,#5801a4 60.8px)"></i><i style="top:67.0px;height:1.05px;background:linear-gradient(90deg,#4b03a1 0.0px,#4c02a1 23.2px,#5b01a5 24.8px,#6400a7 25.5px,#6600a7 26.2px,#5b01a5 27.0px,#3c049b 28.5px,#2e0595 30.0px,#2e0595 32.2px,#3c049b 33.8px,#5b01a5 35.2px,#6600a7 36.0px,#6400a7 36.8px,#5102a3 38.2px,#4c02a1 39.8px,#4e02a2 51.8px,#5c01a6 59.2px,#5b01a5 60.8px)"></i><i style="top:68.0px;height:1.05px;background:linear-gradient(90deg,#4e02a2 0.0px,#5002a2 23.2px,#5c01a6 24.8px,#6600a7 25.5px,#6700a8 26.2px,#5e01a6 27.0px,#3f049c 28.5px,#2f0596 30.0px,#2f0596 32.2px,#3f049c 33.8px,#5e01a6 35.2px,#6900a8 36.0px,#6600a7 36.8px,#5502a4 38.2px,#5002a2 39.8px,#5002a2 50.2px,#6001a6 59.2px,#5e01a6 60.8px)"></i><i style="top:69.0px;height:1.05px;background:linear-gradient(90deg,#5102a3 0.0px,#5302a3 23.2px,#6700a8 25.5px,#6a00a8 26.2px,#6100a7 27.0px,#43039e 28.5px,#310597 30.0px,#2e0595 31.5px,#38049a 33.0px,#5102a3 34.5px,#6100a7 35.2px,#6a00a8 36.0px,#6700a8 36.8px,#5601a4 38.2px,#5102a3 41.2px,#5502a4 51.8px,#6300a7 59.2px,#6100a7 60.8px)"></i><i style="top:70.0px;height:1.05px;background:linear-gradient(90deg,#5502a4 0.0px,#5601a4 23.2px,#6100a7 24.8px,#6c00a8 26.2px,#5502a4 27.8px,#3a049a 29.2px,#2f0596 30.8px,#330597 32.2px,#46039f 33.8px,#6400a7 35.2px,#6c00a8 36.0px,#6100a7 37.5px,#5601a4 39.0px,#5601a4 51.0px,#6400a7 58.5px,#6400a7 60.8px)"></i><i style="top:71.0px;height:1.05px;background:linear-gradient(90deg,#5801a4 0.0px,#5901a5 23.2px,#6300a7 24.8px,#6e00a8 26.2px,#6600a7 27.0px,#3e049c 29.2px,#350498 30.0px,#310597 31.5px,#3e049c 33.0px,#6600a7 35.2px,#6e00a8 36.0px,#6300a7 37.5px,#5901a5 39.0px,#5901a5 51.0px,#6700a8 59.2px,#6700a8 60.8px)"></i><i style="top:72.0px;height:1.05px;background:linear-gradient(90deg,#5b01a5 0.0px,#5b01a5 23.2px,#6400a7 24.8px,#6c00a8 25.5px,#6e00a8 26.2px,#6700a8 27.0px,#41049d 29.2px,#310597 30.8px,#38049a 32.2px,#4c02a1 33.8px,#6700a8 35.2px,#6e00a8 36.0px,#6c00a8 36.8px,#5e01a6 38.2px,#5b01a5 41.2px,#5c01a6 51.8px,#6a00a8 59.2px,#6900a8 60.8px)"></i><i style="top:73.0px;height:1.05px;background:linear-gradient(90deg,#5c01a6 0.0px,#5e01a6 23.2px,#6600a7 24.8px,#6e00a8 25.5px,#6f00a8 26.2px,#6900a8 27.0px,#3a049a 30.0px,#330597 30.8px,#330597 31.5px,#44039e 33.0px,#6900a8 35.2px,#6f00a8 36.0px,#6001a6 38.2px,#5c01a6 45.0px,#6100a7 52.5px,#6c00a8 59.2px,#6c00a8 60.8px)"></i><i style="top:74.0px;height:1.05px;background:linear-gradient(90deg,#6001a6 0.0px,#6001a6 23.2px,#6f00a8 26.2px,#6a00a8 27.0px,#3e049c 30.0px,#350498 30.8px,#370499 31.5px,#48039f 33.0px,#6a00a8 35.2px,#6f00a8 36.0px,#6700a8 37.5px,#6001a6 39.0px,#6100a7 51.8px,#6f00a8 59.2px,#6e00a8 60.8px)"></i><i style="top:75.0px;height:1.05px;background:linear-gradient(90deg,#6100a7 0.0px,#6100a7 23.2px,#7100a8 26.2px,#6100a7 27.8px,#370499 30.8px,#38049a 31.5px,#6c00a8 35.2px,#7100a8 36.0px,#6100a7 39.0px,#6300a7 51.0px,#7100a8 59.2px,#6f00a8 60.8px)"></i><i style="top:76.0px;height:1.05px;background:linear-gradient(90deg,#6300a7 0.0px,#6300a7 23.2px,#7100a8 26.2px,#6300a7 27.8px,#3a049a 30.8px,#3a049a 31.5px,#6c00a8 35.2px,#7100a8 36.0px,#6300a7 39.0px,#6400a7 51.0px,#7201a8 59.2px,#7100a8 60.8px)"></i><i style="top:77.0px;height:1.05px;background:linear-gradient(90deg,#6400a7 0.0px,#6600a7 24.0px,#7100a8 26.2px,#6400a7 27.8px,#3c049b 30.8px,#3c049b 31.5px,#6400a7 34.5px,#7100a8 36.0px,#6400a7 39.0px,#6600a7 51.0px,#7401a8 59.2px,#7201a8 60.8px)"></i><i style="top:78.0px;height:1.05px;background:linear-gradient(90deg,#6600a7 0.0px,#6700a8 24.0px,#7100a8 26.2px,#5e01a6 28.5px,#3e049c 30.8px,#3e049c 31.5px,#5e01a6 33.8px,#6e00a8 35.2px,#6f00a8 36.8px,#6600a7 39.0px,#6700a8 51.8px,#7501a8 59.2px,#7401a8 60.8px)"></i><i style="top:79.0px;height:1.05px;background:linear-gradient(90deg,#6600a7 0.0px,#6700a8 24.0px,#6f00a8 25.5px,#6e00a8 27.0px,#5601a4 29.2px,#41049d 30.8px,#41049d 31.5px,#6001a6 33.8px,#6e00a8 35.2px,#6f00a8 36.8px,#6700a8 38.2px,#6700a8 50.2px,#7701a8 59.2px,#7501a8 60.8px)"></i><i style="top:80.0px;height:1.05px;background:linear-gradient(90deg,#6900a8 0.0px,#6900a8 23.2px,#7100a8 26.2px,#6300a7 28.5px,#43039e 30.8px,#44039e 31.5px,#6300a7 33.8px,#7100a8 36.0px,#6700a8 41.2px,#6c00a8 52.5px,#7801a8 60.0px,#7701a8 60.8px)"></i><i style="top:81.0px;height:1.05px;background:linear-gradient(90deg,#6a00a8 0.0px,#6a00a8 22.5px,#7201a8 26.2px,#6600a7 28.5px,#5302a3 30.0px,#46039f 30.8px,#48039f 31.5px,#6600a7 33.8px,#7100a8 35.2px,#6f00a8 37.5px,#6a00a8 40.5px,#6a00a8 48.0px,#7701a8 56.2px,#7a02a8 60.8px)"></i><i style="top:82.0px;height:1.05px;background:linear-gradient(90deg,#6e00a8 0.0px,#6a00a8 15.8px,#6c00a8 21.0px,#7201a8 27.0px,#6100a7 29.2px,#4903a0 30.8px,#4b03a1 31.5px,#6100a7 33.0px,#7201a8 35.2px,#6900a8 44.2px,#7701a8 55.5px,#7d03a8 59.2px,#7b02a8 60.8px)"></i><i style="top:83.0px;height:1.05px;background:linear-gradient(90deg,#7100a8 0.0px,#6f00a8 13.5px,#6a00a8 18.8px,#7401a8 27.0px,#6400a7 29.2px,#4c02a1 30.8px,#4e02a2 31.5px,#6400a7 33.0px,#7401a8 35.2px,#6a00a8 45.0px,#7b02a8 56.2px,#7e03a8 60.8px)"></i><i style="top:84.0px;height:1.05px;background:linear-gradient(90deg,#7501a8 0.0px,#7100a8 14.2px,#6a00a8 18.0px,#7701a8 26.2px,#6e00a8 28.5px,#5e01a6 30.0px,#5102a3 30.8px,#5102a3 31.5px,#6700a8 33.0px,#7501a8 35.2px,#6a00a8 44.2px,#7b02a8 55.5px,#8104a7 60.0px,#8004a8 60.8px)"></i><i style="top:85.0px;height:1.05px;background:linear-gradient(90deg,#7a02a8 0.0px,#7401a8 13.5px,#6c00a8 17.2px,#7801a8 26.2px,#6c00a8 29.2px,#5601a4 30.8px,#5601a4 31.5px,#6c00a8 33.0px,#7701a8 35.2px,#7100a8 41.2px,#6a00a8 44.2px,#7501a8 50.2px,#8305a7 59.2px,#8305a7 60.8px)"></i><i style="top:86.0px;height:1.05px;background:linear-gradient(90deg,#7e03a8 0.0px,#7801a8 12.0px,#6c00a8 18.0px,#7a02a8 25.5px,#7501a8 28.5px,#6700a8 30.0px,#5901a5 30.8px,#5b01a5 31.5px,#7100a8 33.0px,#7a02a8 35.2px,#7100a8 41.2px,#6c00a8 44.2px,#7701a8 49.5px,#8606a6 60.0px,#8405a7 60.8px)"></i><i style="top:87.0px;height:1.05px;background:linear-gradient(90deg,#8104a7 0.0px,#8004a8 7.5px,#7701a8 14.2px,#6c00a8 17.2px,#7a02a8 24.0px,#7b02a8 27.8px,#7401a8 29.2px,#6400a7 30.8px,#6600a7 31.5px,#7801a8 33.8px,#7d03a8 36.0px,#7100a8 42.0px,#6c00a8 44.2px,#7801a8 49.5px,#8707a6 59.2px,#8606a6 60.8px)"></i><i style="top:88.0px;height:1.05px;background:linear-gradient(90deg,#8606a6 0.0px,#8104a7 9.0px,#7801a8 14.2px,#6e00a8 17.2px,#7701a8 21.0px,#8405a7 28.5px,#920fa3 30.8px,#910ea3 32.2px,#8104a7 34.5px,#7401a8 41.2px,#6c00a8 44.2px,#7b02a8 49.5px,#8305a7 54.8px,#8808a6 60.0px,#8808a6 60.8px)"></i><i style="top:89.0px;height:1.05px;background:linear-gradient(90deg,#8a09a5 0.0px,#8606a6 7.5px,#7a02a8 14.2px,#6e00a8 17.2px,#7d03a8 22.5px,#8606a6 27.0px,#9a169f 30.0px,#9d189d 31.5px,#8405a7 36.0px,#7201a8 42.0px,#6e00a8 44.2px,#7d03a8 49.5px,#8b0aa5 59.2px,#8a09a5 60.8px)"></i><i style="top:90.0px;height:1.05px;background:linear-gradient(90deg,#8d0ba5 0.0px,#8b0aa5 6.0px,#7e03a8 13.5px,#6e00a8 17.2px,#8004a8 22.5px,#8606a6 25.5px,#a31e9a 30.0px,#a51f99 32.2px,#8707a6 36.8px,#7401a8 42.0px,#6e00a8 43.5px,#6f00a8 45.0px,#7d03a8 48.0px,#8808a6 56.2px,#8d0ba5 60.0px,#8b0aa5 60.8px)"></i><i style="top:91.0px;height:1.05px;background:linear-gradient(90deg,#910ea3 0.0px,#8d0ba5 7.5px,#7e03a8 14.2px,#6f00a8 17.2px,#7201a8 18.8px,#8305a7 22.5px,#8b0aa5 25.5px,#aa2395 29.2px,#ae2892 31.5px,#a62098 33.8px,#8808a6 37.5px,#7501a8 42.0px,#6e00a8 44.2px,#8004a8 48.8px,#8808a6 55.5px,#8e0ca4 60.0px,#8e0ca4 60.8px)"></i><i style="top:92.0px;height:1.05px;background:linear-gradient(90deg,#9410a2 0.0px,#920fa3 6.0px,#8004a8 14.2px,#6f00a8 17.2px,#8a09a5 24.0px,#a11b9b 27.0px,#b32c8e 29.2px,#b6308b 32.2px,#aa2395 34.5px,#8a09a5 38.2px,#6f00a8 43.5px,#7501a8 45.8px,#8104a7 48.8px,#8e0ca4 57.0px,#8f0da4 60.8px)"></i><i style="top:93.0px;height:1.05px;background:linear-gradient(90deg,#9814a0 0.0px,#9613a1 5.2px,#8606a6 13.5px,#7100a8 17.2px,#7501a8 18.8px,#8f0da4 24.0px,#aa2395 27.0px,#bb3488 29.2px,#bf3984 31.5px,#b83289 33.8px,#9613a1 37.5px,#7e03a8 41.2px,#7100a8 43.5px,#7201a8 45.0px,#8305a7 48.8px,#920fa3 59.2px,#910ea3 60.8px)"></i><i style="top:94.0px;height:1.05px;background:linear-gradient(90deg,#9c179e 0.0px,#9814a0 6.0px,#8707a6 13.5px,#7401a8 16.5px,#7201a8 18.0px,#910ea3 23.2px,#ac2694 26.2px,#c33d80 29.2px,#c7427c 31.5px,#c03a83 33.8px,#a62098 36.8px,#8d0ba5 39.8px,#7501a8 42.8px,#7100a8 44.2px,#8305a7 48.0px,#9410a2 60.0px,#920fa3 60.8px)"></i><i style="top:95.0px;height:1.05px;background:linear-gradient(90deg,#9e199d 0.0px,#9d189d 5.2px,#8a09a5 13.5px,#7201a8 17.2px,#7d03a8 19.5px,#9d189d 24.0px,#c23c81 27.8px,#cc4977 30.0px,#cc4778 33.0px,#b6308b 36.0px,#9814a0 39.0px,#7d03a8 42.0px,#7201a8 43.5px,#7501a8 45.0px,#8606a6 48.0px,#8f0da4 55.5px,#9511a1 60.0px,#9410a2 60.8px)"></i><i style="top:96.0px;height:1.05px;background:linear-gradient(90deg,#a21d9a 0.0px,#a01a9c 5.2px,#8b0aa5 13.5px,#7401a8 17.2px,#8004a8 19.5px,#a51f99 24.0px,#ca457a 27.8px,#d45270 30.0px,#d24f71 33.0px,#bf3984 36.0px,#9e199d 39.0px,#8004a8 42.0px,#7401a8 43.5px,#7701a8 45.0px,#8707a6 48.0px,#9613a1 59.2px,#9613a1 60.8px)"></i><i style="top:97.0px;height:1.05px;background:linear-gradient(90deg,#a51f99 0.0px,#a31e9a 5.2px,#8e0ca4 13.5px,#7501a8 17.2px,#7b02a8 18.8px,#9e199d 22.5px,#d14e72 27.8px,#db5c68 30.8px,#d6556d 33.8px,#bf3984 36.8px,#9511a1 40.5px,#7b02a8 42.8px,#7501a8 44.2px,#8a09a5 48.0px,#99159f 59.2px,#9814a0 60.8px)"></i><i style="top:98.0px;height:1.05px;background:linear-gradient(90deg,#a82296 0.0px,#a72197 4.5px,#910ea3 13.5px,#7801a8 17.2px,#8004a8 18.8px,#a51f99 22.5px,#d35171 27.0px,#de6164 29.2px,#e16462 32.2px,#d9586a 34.5px,#bf3984 37.5px,#9c179e 40.5px,#8004a8 42.8px,#7801a8 44.2px,#8b0aa5 48.0px,#9a169f 60.0px,#99159f 60.8px)"></i><i style="top:99.0px;height:1.05px;background:linear-gradient(90deg,#ab2494 0.0px,#ab2494 4.5px,#9410a2 13.5px,#7e03a8 16.5px,#7e03a8 18.0px,#8b0aa5 19.5px,#ac2694 22.5px,#da5a6a 27.0px,#e56a5d 29.2px,#e76e5b 32.2px,#df6263 34.5px,#c6417d 37.5px,#9814a0 41.2px,#8405a7 42.8px,#7d03a8 44.2px,#8f0da4 48.8px,#9814a0 55.5px,#9a169f 60.8px)"></i><i style="top:100.0px;height:1.05px;background:linear-gradient(90deg,#ae2892 0.0px,#ae2892 4.5px,#9511a1 13.5px,#8104a7 16.5px,#8104a7 18.0px,#8f0da4 19.5px,#bb3488 23.2px,#e06363 27.0px,#ea7457 29.2px,#eb7655 32.2px,#e56b5d 34.5px,#cd4a76 37.5px,#9e199d 41.2px,#8a09a5 42.8px,#8004a8 44.2px,#8f0da4 48.0px,#9d189d 59.2px,#9d189d 60.8px)"></i><i style="top:101.0px;height:1.05px;background:linear-gradient(90deg,#b22b8f 0.0px,#b02991 5.2px,#9814a0 13.5px,#8405a7 16.5px,#8606a6 18.0px,#9511a1 19.5px,#c23c81 23.2px,#e66c5c 27.0px,#ef7e50 29.2px,#f1814d 31.5px,#ee7b51 33.8px,#db5c68 36.8px,#b02991 40.5px,#8e0ca4 42.8px,#8405a7 44.2px,#9410a2 48.8px,#9d189d 57.0px,#9e199d 60.8px)"></i><i style="top:102.0px;height:1.05px;background:linear-gradient(90deg,#b42e8d 0.0px,#b42e8d 4.5px,#9c179e 13.5px,#8808a6 16.5px,#8a09a5 18.0px,#a51f99 20.2px,#e06363 25.5px,#ef7e50 27.8px,#f58b47 30.0px,#f48948 33.0px,#ec7754 35.2px,#d35171 38.2px,#ab2494 41.2px,#9410a2 42.8px,#8808a6 44.2px,#8f0da4 46.5px,#9613a1 49.5px,#a11b9b 60.0px,#a01a9c 60.8px)"></i><i style="top:103.0px;height:1.05px;background:linear-gradient(90deg,#b6308b 0.0px,#b6308b 4.5px,#99159f 14.2px,#8a09a5 17.2px,#9511a1 18.8px,#c6417d 22.5px,#eb7655 26.2px,#f68d45 28.5px,#f89540 30.8px,#f79342 33.0px,#f1814d 35.2px,#d9586a 38.2px,#b12a90 41.2px,#99159f 42.8px,#8d0ba5 44.2px,#8e0ca4 45.8px,#9814a0 48.8px,#9d189d 55.5px,#a11b9b 60.8px)"></i><i style="top:104.0px;height:1.05px;background:linear-gradient(90deg,#b83289 0.0px,#b6308b 5.2px,#9a169f 14.2px,#8d0ba5 16.5px,#910ea3 18.0px,#ae2892 20.2px,#dc5d67 24.0px,#f48849 27.0px,#fa9b3d 29.2px,#fb9f3a 31.5px,#f9983e 33.8px,#f1814d 36.0px,#d5546e 39.0px,#aa2395 42.0px,#9511a1 43.5px,#8e0ca4 45.0px,#99159f 48.8px,#9d189d 55.5px,#a11b9b 60.8px)"></i><i style="top:105.0px;height:1.05px;background:linear-gradient(90deg,#ba3388 0.0px,#ba3388 4.5px,#9c179e 14.2px,#8f0da4 16.5px,#9410a2 18.0px,#b32c8e 20.2px,#e26561 24.0px,#f79143 27.0px,#fca537 29.2px,#fca934 31.5px,#fba238 33.8px,#f48948 36.0px,#db5c68 39.0px,#ae2892 42.0px,#99159f 43.5px,#920fa3 45.0px,#99159f 49.5px,#a11b9b 60.8px)"></i><i style="top:106.0px;height:1.05px;background:linear-gradient(90deg,#bb3488 0.0px,#bb3488 4.5px,#9d189d 14.2px,#920fa3 16.5px,#920fa3 17.2px,#a11b9b 18.8px,#d6556d 22.5px,#f3854b 25.5px,#fca338 27.8px,#fdb22f 30.0px,#fdb22f 32.2px,#fdac33 33.8px,#fa9e3b 35.2px,#e87059 38.2px,#cc4977 40.5px,#a72197 42.8px,#9613a1 44.2px,#9814a0 46.5px,#9e199d 55.5px,#a11b9b 60.8px)"></i><i style="top:107.0px;height:1.05px;background:linear-gradient(90deg,#bd3786 0.0px,#be3885 3.8px,#9e199d 14.2px,#9511a1 16.5px,#9c179e 18.0px,#b12a90 19.5px,#db5c68 22.5px,#f68d45 25.5px,#fdac33 27.8px,#febb2b 30.0px,#feba2c 33.0px,#fca636 35.2px,#f2844b 37.5px,#dc5d67 39.8px,#ac2694 42.8px,#9a169f 44.2px,#99159f 46.5px,#9e199d 55.5px,#a11b9b 60.8px)"></i><i style="top:108.0px;height:1.05px;background:linear-gradient(90deg,#be3885 0.0px,#be3885 4.5px,#9d189d 15.0px,#9814a0 16.5px,#99159f 17.2px,#aa2395 18.8px,#d6556d 21.8px,#f48948 24.8px,#fdac33 27.0px,#fdc229 29.2px,#fdc627 31.5px,#febe2a 33.8px,#fca537 36.0px,#f07f4f 38.2px,#d6556d 40.5px,#b12a90 42.8px,#9e199d 44.2px,#9c179e 46.5px,#9e199d 55.5px,#a21d9a 60.0px,#a11b9b 60.8px)"></i><i style="top:109.0px;height:1.05px;background:linear-gradient(90deg,#c03a83 0.0px,#c13b82 3.8px,#9a169f 16.5px,#a31e9a 18.0px,#c5407e 20.2px,#e4695e 22.5px,#f79143 24.8px,#fdb52e 27.0px,#fdc627 28.5px,#fcd025 30.8px,#fccd25 33.0px,#feb82c 35.2px,#f89441 37.5px,#e56a5d 39.8px,#b52f8c 42.8px,#a21d9a 44.2px,#9d189d 45.8px,#9e199d 54.8px,#a21d9a 60.0px,#a11b9b 60.8px)"></i><i style="top:110.0px;height:1.05px;background:linear-gradient(90deg,#c13b82 0.0px,#c13b82 4.5px,#9d189d 16.5px,#a72197 18.0px,#ca457a 20.2px,#e76f5a 22.5px,#f99a3e 24.8px,#fec029 27.0px,#fbd524 29.2px,#fad824 32.2px,#fcd225 33.8px,#feb72d 36.0px,#f68f44 38.2px,#de6164 40.5px,#ba3388 42.8px,#a62098 44.2px,#a11b9b 46.5px,#9d189d 54.0px,#a21d9a 60.0px,#a11b9b 60.8px)"></i><i style="top:111.0px;height:1.05px;background:linear-gradient(90deg,#c23c81 0.0px,#c43e7f 3.8px,#a11b9b 15.8px,#a31e9a 17.2px,#b52f8c 18.8px,#e3685f 21.8px,#f89441 24.0px,#febd2a 26.2px,#fcd225 27.8px,#f8df25 29.2px,#f7e225 31.5px,#f9dc24 33.8px,#fdcb26 35.2px,#fca636 37.5px,#ec7754 39.8px,#bf3984 42.8px,#ab2494 44.2px,#a31e9a 46.5px,#9d189d 53.2px,#a21d9a 60.0px,#a11b9b 60.8px)"></i><i style="top:112.0px;height:1.05px;background:linear-gradient(90deg,#c33d80 0.0px,#c33d80 4.5px,#a31e9a 15.8px,#a62098 17.2px,#b83289 18.8px,#e56b5d 21.8px,#f9973f 24.0px,#fec029 26.2px,#fbd324 27.8px,#f7e225 30.0px,#f7e225 32.2px,#f9dc24 33.8px,#fdc328 36.0px,#f99a3e 38.2px,#e56b5d 40.5px,#c13b82 42.8px,#ad2793 44.2px,#a51f99 46.5px,#9d189d 52.5px,#a21d9a 60.0px,#a11b9b 60.8px)"></i><i style="top:113.0px;height:1.05px;background:linear-gradient(90deg,#c33d80 0.0px,#c33d80 4.5px,#ac2694 12.8px,#a62098 16.5px,#b12a90 18.0px,#de5f65 21.0px,#f58c46 23.2px,#fdb52e 25.5px,#fbd524 27.8px,#f7e225 30.0px,#f7e225 32.2px,#fbd724 34.5px,#feb82c 36.8px,#f68d45 39.0px,#dc5d67 41.2px,#b83289 43.5px,#ab2494 45.0px,#9e199d 52.5px,#a21d9a 60.8px)"></i><i style="top:114.0px;height:1.05px;background:linear-gradient(90deg,#c33d80 0.0px,#c33d80 4.5px,#ad2793 12.8px,#a72197 16.5px,#b32c8e 18.0px,#e06363 21.0px,#f68f44 23.2px,#feb72d 25.5px,#fbd524 27.8px,#f7e225 30.0px,#f7e225 32.2px,#f9dd25 33.8px,#fdc527 36.0px,#fb9f3a 38.2px,#e97158 40.5px,#c7427c 42.8px,#b32c8e 44.2px,#aa2395 46.5px,#9e199d 52.5px,#a21d9a 60.0px,#a21d9a 60.8px)"></i><i style="top:115.0px;height:1.05px;background:linear-gradient(90deg,#c33d80 0.0px,#c33d80 4.5px,#ae2892 12.8px,#aa2395 16.5px,#b6308b 18.0px,#d8576b 20.2px,#f1834c 22.5px,#fdac33 24.8px,#fccd25 27.0px,#f8e125 29.2px,#f7e425 31.5px,#f9dd25 33.8px,#fdc627 36.0px,#fba238 38.2px,#ea7457 40.5px,#c9447a 42.8px,#b6308b 44.2px,#ac2694 46.5px,#a01a9c 52.5px,#a21d9a 60.8px)"></i><i style="top:116.0px;height:1.05px;background:linear-gradient(90deg,#c33d80 0.0px,#c5407e 3.8px,#b12a90 12.0px,#ac2694 16.5px,#b83289 18.0px,#da5a6a 20.2px,#f3854b 22.5px,#fdae32 24.8px,#fcce25 27.0px,#f8e125 29.2px,#f7e425 31.5px,#fad824 34.5px,#febd2a 36.8px,#f89540 39.0px,#e26660 41.2px,#c13b82 43.5px,#b32c8e 45.0px,#a11b9b 51.8px,#a21d9a 60.8px)"></i><i style="top:117.0px;height:2.35px;background:linear-gradient(90deg,#c33d80 0.0px,#c5407e 3.8px,#b12a90 12.0px,#ae2892 16.5px,#bb3488 18.0px,#db5c68 20.2px,#f48849 22.5px,#fdaf31 24.8px,#fcce25 27.0px,#f8e125 29.2px,#f7e425 31.5px,#fad824 34.5px,#febe2a 36.8px,#f9973f 39.0px,#e4695e 41.2px,#c33d80 43.5px,#b52f8c 45.0px,#a11b9b 51.8px,#a21d9a 60.8px)"></i></b></div>
<div class="p" style="left:99.75px;top:132.60px"><b><i style="top:0.0px;height:7.05px;background:#41049d"></i><i style="top:7.0px;height:5.05px;background:#3f049c"></i><i style="top:12.0px;height:1.05px;background:#3e049c"></i><i style="top:13.0px;height:1.05px;background:#3c049b"></i><i style="top:14.0px;height:1.05px;background:#38049a"></i><i style="top:15.0px;height:1.05px;background:#350498"></i><i style="top:16.0px;height:1.05px;background:#2f0596"></i><i style="top:17.0px;height:1.05px;background:#2c0594"></i><i style="top:18.0px;height:1.05px;background:#280592"></i><i style="top:19.0px;height:1.05px;background:#240691"></i><i style="top:20.0px;height:2.05px;background:#220690"></i><i style="top:22.0px;height:15.05px;background:#20068f"></i><i style="top:37.0px;height:1.05px;background:linear-gradient(90deg,#20068f 0.0px,#220690 27.0px,#260591 32.2px,#20068f 40.5px,#20068f 60.8px)"></i><i style="top:38.0px;height:1.05px;background:linear-gradient(90deg,#20068f 0.0px,#220690 23.2px,#370499 31.5px,#2a0593 36.8px,#20068f 40.5px,#20068f 60.8px)"></i><i style="top:39.0px;height:1.05px;background:linear-gradient(90deg,#20068f 0.0px,#220690 21.0px,#41049d 27.8px,#48039f 31.5px,#3a049a 36.8px,#220690 41.2px,#20068f 60.8px)"></i><i style="top:40.0px;height:1.05px;background:linear-gradient(90deg,#20068f 0.0px,#220690 19.5px,#44039e 24.8px,#44039e 37.5px,#38049a 39.8px,#240691 42.8px,#20068f 45.8px,#20068f 60.8px)"></i><i style="top:41.0px;height:1.05px;background:linear-gradient(90deg,#20068f 0.0px,#220690 18.0px,#44039e 22.5px,#43039e 24.8px,#370499 28.5px,#3c049b 31.5px,#370499 33.8px,#3c049b 36.0px,#46039f 39.0px,#3c049b 41.2px,#240691 44.2px,#20068f 47.2px,#20068f 60.8px)"></i><i style="top:42.0px;height:1.05px;background:linear-gradient(90deg,#20068f 0.0px,#220690 16.5px,#330597 18.8px,#46039f 21.0px,#43039e 22.5px,#310597 25.5px,#2c0594 27.8px,#350498 30.0px,#3a049a 30.8px,#370499 32.2px,#2c0594 34.5px,#330597 37.5px,#44039e 40.5px,#43039e 42.0px,#220690 45.8px,#20068f 60.8px)"></i><i style="top:43.0px;height:1.05px;background:linear-gradient(90deg,#20068f 0.0px,#20068f 15.0px,#2f0596 17.2px,#41049d 18.8px,#44039e 20.2px,#2e0595 24.0px,#2a0593 27.8px,#2f0596 29.2px,#3f049c 30.8px,#41049d 31.5px,#2c0594 33.8px,#2c0594 37.5px,#350498 39.8px,#44039e 42.0px,#43039e 43.5px,#240691 46.5px,#20068f 49.5px,#20068f 60.8px)"></i><i style="top:44.0px;height:1.05px;background:linear-gradient(90deg,#20068f 0.0px,#220690 14.2px,#240691 15.0px,#44039e 18.0px,#41049d 19.5px,#2c0594 22.5px,#2c0594 28.5px,#4903a0 30.8px,#4b03a1 31.5px,#2e0595 33.8px,#2a0593 35.2px,#2c0594 39.8px,#38049a 42.0px,#44039e 43.5px,#44039e 44.2px,#370499 45.8px,#260591 47.2px,#20068f 49.5px,#20068f 60.8px)"></i><i style="top:45.0px;height:1.05px;background:linear-gradient(90deg,#20068f 0.0px,#220690 13.5px,#2c0594 15.0px,#41049d 16.5px,#44039e 18.0px,#2c0594 21.0px,#2a0593 27.8px,#2e0595 28.5px,#44039e 30.0px,#5302a3 30.8px,#5502a4 31.5px,#2f0596 33.8px,#2a0593 34.5px,#2c0594 41.2px,#46039f 45.0px,#43039e 45.8px,#260591 48.0px,#20068f 50.2px,#20068f 60.8px)"></i><i style="top:46.0px;height:1.05px;background:linear-gradient(90deg,#20068f 0.0px,#220690 12.8px,#2e0595 14.2px,#41049d 15.8px,#44039e 16.5px,#2a0593 20.2px,#2a0593 27.8px,#2e0595 28.5px,#3a049a 29.2px,#5c01a6 30.8px,#6001a6 31.5px,#5102a3 32.2px,#3e049c 33.0px,#310597 33.8px,#2a0593 35.2px,#2c0594 42.8px,#44039e 45.8px,#43039e 46.5px,#280592 48.8px,#20068f 50.2px,#20068f 60.8px)"></i><i style="top:47.0px;height:1.05px;background:linear-gradient(90deg,#20068f 0.0px,#220690 12.0px,#240691 12.8px,#41049d 15.0px,#44039e 15.8px,#41049d 16.5px,#2c0594 18.8px,#2a0593 27.8px,#2f0596 28.5px,#3c049b 29.2px,#6600a7 30.8px,#6900a8 31.5px,#5801a4 32.2px,#41049d 33.0px,#310597 33.8px,#2a0593 35.2px,#2c0594 43.5px,#44039e 46.5px,#43039e 47.2px,#260591 49.5px,#20068f 51.8px,#20068f 60.8px)"></i><i style="top:48.0px;height:1.05px;background:linear-gradient(90deg,#20068f 0.0px,#20068f 11.2px,#2c0594 12.8px,#41049d 14.2px,#44039e 15.0px,#2c0594 18.0px,#2c0594 27.8px,#2f0596 28.5px,#3e049c 29.2px,#6c00a8 30.8px,#6f00a8 31.5px,#5c01a6 32.2px,#44039e 33.0px,#330597 33.8px,#2c0594 34.5px,#2a0593 44.2px,#350498 45.8px,#44039e 47.2px,#43039e 48.0px,#260591 50.2px,#20068f 52.5px,#20068f 60.8px)"></i><i style="top:49.0px;height:1.05px;background:linear-gradient(90deg,#20068f 0.0px,#220690 11.2px,#280592 12.0px,#3f049c 13.5px,#44039e 14.2px,#41049d 15.0px,#2f0596 16.5px,#2a0593 18.8px,#2c0594 27.8px,#310597 28.5px,#3f049c 29.2px,#6f00a8 30.8px,#7401a8 31.5px,#6001a6 32.2px,#46039f 33.0px,#330597 33.8px,#2c0594 34.5px,#2a0593 45.0px,#350498 46.5px,#3f049c 47.2px,#44039e 48.0px,#41049d 48.8px,#240691 51.0px,#20068f 52.5px,#20068f 60.8px)"></i><i style="top:50.0px;height:1.05px;background:linear-gradient(90deg,#20068f 0.0px,#220690 10.5px,#260591 11.2px,#3c049b 12.8px,#43039e 13.5px,#43039e 14.2px,#2c0594 16.5px,#2c0594 27.8px,#2f0596 28.5px,#3f049c 29.2px,#6f00a8 30.8px,#7201a8 31.5px,#6001a6 32.2px,#44039e 33.0px,#330597 33.8px,#2c0594 34.5px,#2a0593 45.8px,#370499 47.2px,#41049d 48.0px,#44039e 48.8px,#330597 50.2px,#280592 51.0px,#20068f 52.5px,#20068f 60.8px)"></i><i style="top:51.0px;height:1.05px;background:linear-gradient(90deg,#20068f 0.0px,#20068f 9.8px,#2c0594 11.2px,#41049d 12.8px,#43039e 13.5px,#2c0594 15.8px,#2c0594 27.8px,#2f0596 28.5px,#3e049c 29.2px,#6a00a8 30.8px,#6e00a8 31.5px,#5b01a5 32.2px,#43039e 33.0px,#330597 33.8px,#2c0594 34.5px,#2c0594 46.5px,#43039e 48.8px,#43039e 49.5px,#240691 51.8px,#20068f 53.2px,#20068f 60.8px)"></i><i style="top:52.0px;height:1.05px;background:linear-gradient(90deg,#20068f 0.0px,#220690 9.8px,#260591 10.5px,#3c049b 12.0px,#43039e 12.8px,#3f049c 13.5px,#2e0595 15.0px,#2a0593 16.5px,#2a0593 27.8px,#2f0596 28.5px,#3c049b 29.2px,#6300a7 30.8px,#6600a7 31.5px,#5601a4 32.2px,#41049d 33.0px,#310597 33.8px,#2a0593 35.2px,#2a0593 46.5px,#330597 48.0px,#3e049c 48.8px,#43039e 49.5px,#3f049c 50.2px,#280592 51.8px,#20068f 53.2px,#20068f 60.8px)"></i><i style="top:53.0px;height:1.05px;background:linear-gradient(90deg,#20068f 0.0px,#220690 9.8px,#41049d 12.0px,#43039e 12.8px,#2c0594 15.0px,#2a0593 27.8px,#2e0595 28.5px,#38049a 29.2px,#5901a5 30.8px,#5c01a6 31.5px,#3c049b 33.0px,#2f0596 33.8px,#2a0593 36.0px,#2a0593 47.2px,#41049d 49.5px,#43039e 50.2px,#240691 52.5px,#20068f 54.0px,#20068f 60.8px)"></i><i style="top:54.0px;height:1.05px;background:linear-gradient(90deg,#20068f 0.0px,#20068f 9.0px,#240691 9.8px,#43039e 12.0px,#3f049c 12.8px,#2e0595 14.2px,#2a0593 15.8px,#2a0593 27.8px,#350498 29.2px,#5002a2 30.8px,#5102a3 31.5px,#48039f 32.2px,#38049a 33.0px,#2a0593 34.5px,#2c0594 48.0px,#3e049c 49.5px,#43039e 50.2px,#3e049c 51.0px,#260591 52.5px,#20068f 54.8px,#20068f 60.8px)"></i><i style="top:55.0px;height:1.05px;background:linear-gradient(90deg,#20068f 0.0px,#220690 9.0px,#260591 9.8px,#3e049c 11.2px,#43039e 12.0px,#3e049c 12.8px,#2c0594 14.2px,#2c0594 28.5px,#46039f 30.8px,#48039f 31.5px,#2e0595 33.8px,#2a0593 35.2px,#2c0594 48.0px,#41049d 50.2px,#3f049c 51.0px,#280592 52.5px,#20068f 54.0px,#20068f 60.8px)"></i><i style="top:56.0px;height:1.05px;background:linear-gradient(90deg,#20068f 0.0px,#220690 9.0px,#280592 9.8px,#3f049c 11.2px,#41049d 12.0px,#2c0594 14.2px,#2c0594 28.5px,#3e049c 30.8px,#3f049c 31.5px,#2c0594 33.8px,#2a0593 48.0px,#2e0595 48.8px,#3f049c 50.2px,#41049d 51.0px,#2a0593 52.5px,#20068f 54.0px,#20068f 60.8px)"></i><i style="top:57.0px;height:1.05px;background:linear-gradient(90deg,#20068f 0.0px,#220690 9.0px,#3f049c 11.2px,#3f049c 12.0px,#2a0593 14.2px,#2a0593 28.5px,#38049a 31.5px,#2a0593 34.5px,#2a0593 48.0px,#350498 49.5px,#3e049c 50.2px,#41049d 51.0px,#240691 53.2px,#20068f 54.8px,#20068f 60.8px)"></i><i style="top:58.0px;height:1.05px;background:linear-gradient(90deg,#20068f 0.0px,#20068f 8.2px,#2a0593 9.8px,#3f049c 11.2px,#3f049c 12.0px,#2e0595 13.5px,#2a0593 15.0px,#2c0594 29.2px,#330597 31.5px,#2a0593 33.8px,#2c0594 48.8px,#3e049c 50.2px,#41049d 51.0px,#240691 53.2px,#20068f 54.8px,#20068f 60.8px)"></i><i style="top:59.0px;height:1.05px;background:linear-gradient(90deg,#20068f 0.0px,#20068f 8.2px,#2a0593 9.8px,#3f049c 11.2px,#3e049c 12.0px,#2e0595 13.5px,#2a0593 15.0px,#2c0594 29.2px,#2f0596 31.5px,#2a0593 35.2px,#2c0594 48.8px,#3c049b 50.2px,#3f049c 51.0px,#240691 53.2px,#20068f 54.8px,#20068f 60.8px)"></i><i style="top:60.0px;height:1.05px;background:linear-gradient(90deg,#20068f 0.0px,#220690 9.0px,#3e049c 11.2px,#3e049c 12.0px,#2e0595 13.5px,#2a0593 15.0px,#2c0594 30.0px,#2c0594 32.2px,#2c0594 48.8px,#3c049b 50.2px,#3f049c 51.0px,#240691 53.2px,#20068f 54.8px,#20068f 60.8px)"></i><i style="top:61.0px;height:1.05px;background:linear-gradient(90deg,#20068f 0.0px,#220690 9.0px,#3e049c 11.2px,#3e049c 12.0px,#2e0595 13.5px,#2a0593 15.0px,#2c0594 48.8px,#3c049b 50.2px,#3f049c 51.0px,#240691 53.2px,#20068f 54.8px,#20068f 60.8px)"></i><i style="top:62.0px;height:1.05px;background:linear-gradient(90deg,#20068f 0.0px,#220690 9.0px,#310597 10.5px,#3c049b 11.2px,#3e049c 12.0px,#2a0593 14.2px,#2a0593 48.0px,#3c049b 50.2px,#3e049c 51.0px,#2a0593 52.5px,#20068f 54.0px,#20068f 60.8px)"></i><i style="top:63.0px;height:1.05px;background:linear-gradient(90deg,#20068f 0.0px,#220690 9.0px,#260591 9.8px,#3a049a 11.2px,#3e049c 12.0px,#2c0594 14.2px,#2c0594 30.0px,#2c0594 33.0px,#2a0593 48.0px,#3e049c 50.2px,#3c049b 51.0px,#280592 52.5px,#20068f 54.0px,#20068f 60.8px)"></i><i style="top:64.0px;height:1.05px;background:linear-gradient(90deg,#20068f 0.0px,#20068f 9.0px,#2c0594 10.5px,#3e049c 12.0px,#330597 13.5px,#2c0594 14.2px,#2c0594 29.2px,#2f0596 31.5px,#2a0593 35.2px,#2c0594 48.0px,#3e049c 50.2px,#2f0596 51.8px,#260591 52.5px,#20068f 54.8px,#20068f 60.8px)"></i><i style="top:65.0px;height:1.05px;background:linear-gradient(90deg,#20068f 0.0px,#220690 9.8px,#3c049b 12.0px,#3c049b 12.8px,#2a0593 15.0px,#2c0594 28.5px,#330597 31.5px,#2a0593 35.2px,#2a0593 47.2px,#3a049a 49.5px,#3c049b 50.2px,#240691 52.5px,#20068f 54.0px,#20068f 60.8px)"></i><i style="top:66.0px;height:1.05px;background:linear-gradient(90deg,#20068f 0.0px,#220690 9.8px,#2e0595 11.2px,#38049a 12.0px,#3c049b 12.8px,#2c0594 15.0px,#2c0594 28.5px,#350498 31.5px,#2a0593 34.5px,#2c0594 47.2px,#3c049b 49.5px,#3a049a 50.2px,#220690 52.5px,#20068f 60.8px)"></i><i style="top:67.0px;height:1.05px;background:linear-gradient(90deg,#20068f 0.0px,#20068f 9.8px,#2a0593 11.2px,#3a049a 12.8px,#3c049b 13.5px,#2a0593 15.8px,#2c0594 28.5px,#38049a 30.8px,#310597 33.0px,#2a0593 35.2px,#2a0593 46.5px,#3a049a 48.8px,#3c049b 49.5px,#240691 51.8px,#20068f 53.2px,#20068f 60.8px)"></i><i style="top:68.0px;height:1.05px;background:linear-gradient(90deg,#20068f 0.0px,#220690 10.5px,#2e0595 12.0px,#3c049b 13.5px,#3a049a 14.2px,#2a0593 16.5px,#2c0594 28.5px,#3c049b 30.8px,#38049a 32.2px,#2e0595 33.8px,#2a0593 37.5px,#2c0594 46.5px,#3c049b 48.8px,#38049a 49.5px,#220690 51.8px,#20068f 60.8px)"></i><i style="top:69.0px;height:1.05px;background:linear-gradient(90deg,#20068f 0.0px,#220690 11.2px,#38049a 13.5px,#3c049b 14.2px,#2c0594 16.5px,#2a0593 27.8px,#3e049c 30.8px,#3a049a 32.2px,#2e0595 33.8px,#2a0593 37.5px,#2c0594 45.8px,#3a049a 48.0px,#3a049a 48.8px,#240691 51.0px,#20068f 52.5px,#20068f 60.8px)"></i><i style="top:70.0px;height:1.05px;background:linear-gradient(90deg,#20068f 0.0px,#20068f 11.2px,#2a0593 12.8px,#3a049a 14.2px,#370499 15.8px,#2a0593 18.0px,#2a0593 27.8px,#3f049c 30.8px,#3f049c 31.5px,#2e0595 33.8px,#2a0593 37.5px,#2c0594 45.0px,#3a049a 47.2px,#3a049a 48.0px,#240691 50.2px,#20068f 53.2px,#20068f 60.8px)"></i><i style="top:71.0px;height:1.05px;background:linear-gradient(90deg,#20068f 0.0px,#220690 12.0px,#240691 12.8px,#3a049a 15.0px,#370499 16.5px,#2a0593 18.8px,#2a0593 27.8px,#3f049c 30.8px,#3c049b 32.2px,#2e0595 33.8px,#2a0593 37.5px,#2c0594 44.2px,#3a049a 46.5px,#3a049a 47.2px,#220690 50.2px,#20068f 60.8px)"></i><i style="top:72.0px;height:1.05px;background:linear-gradient(90deg,#20068f 0.0px,#220690 12.8px,#38049a 15.8px,#3a049a 16.5px,#2a0593 19.5px,#2a0593 27.8px,#3e049c 30.8px,#3f049c 31.5px,#2e0595 33.8px,#2a0593 37.5px,#2c0594 43.5px,#3a049a 45.8px,#3a049a 46.5px,#220690 49.5px,#20068f 60.8px)"></i><i style="top:73.0px;height:1.05px;background:linear-gradient(90deg,#20068f 0.0px,#220690 13.5px,#240691 14.2px,#38049a 16.5px,#38049a 18.0px,#2a0593 21.0px,#2c0594 28.5px,#3c049b 30.8px,#38049a 32.2px,#2a0593 34.5px,#2c0594 42.0px,#3a049a 45.0px,#3a049a 45.8px,#220690 48.8px,#20068f 60.8px)"></i><i style="top:74.0px;height:1.05px;background:linear-gradient(90deg,#20068f 0.0px,#220690 14.2px,#2a0593 15.8px,#3a049a 18.0px,#370499 19.5px,#2c0594 21.8px,#2c0594 28.5px,#3a049a 31.5px,#2a0593 34.5px,#2c0594 40.5px,#3a049a 44.2px,#330597 45.8px,#220690 48.0px,#20068f 60.8px)"></i><i style="top:75.0px;height:1.05px;background:linear-gradient(90deg,#20068f 0.0px,#20068f 15.0px,#38049a 18.8px,#38049a 20.2px,#2a0593 24.0px,#2c0594 28.5px,#370499 30.8px,#2f0596 33.0px,#2a0593 35.2px,#2c0594 39.0px,#3a049a 42.8px,#2f0596 45.0px,#220690 47.2px,#20068f 60.8px)"></i><i style="top:76.0px;height:1.05px;background:linear-gradient(90deg,#20068f 0.0px,#220690 16.5px,#38049a 20.2px,#370499 22.5px,#2c0594 25.5px,#2c0594 28.5px,#330597 31.5px,#2a0593 35.2px,#350498 39.8px,#3a049a 42.0px,#220690 45.8px,#20068f 60.8px)"></i><i style="top:77.0px;height:1.05px;background:linear-gradient(90deg,#20068f 0.0px,#220690 18.0px,#38049a 21.8px,#38049a 24.0px,#2f0596 27.8px,#310597 32.2px,#310597 36.0px,#3a049a 39.8px,#310597 42.0px,#220690 45.0px,#20068f 60.8px)"></i><i style="top:78.0px;height:1.05px;background:linear-gradient(90deg,#20068f 0.0px,#220690 18.8px,#2e0595 21.8px,#38049a 24.0px,#38049a 36.0px,#38049a 38.2px,#20068f 44.2px,#20068f 60.8px)"></i><i style="top:79.0px;height:1.05px;background:linear-gradient(90deg,#20068f 0.0px,#220690 21.0px,#38049a 27.0px,#3c049b 32.2px,#350498 36.8px,#220690 41.2px,#20068f 60.8px)"></i><i style="top:80.0px;height:1.05px;background:linear-gradient(90deg,#20068f 0.0px,#220690 23.2px,#330597 30.8px,#2e0595 35.2px,#20068f 40.5px,#20068f 60.8px)"></i><i style="top:81.0px;height:1.05px;background:linear-gradient(90deg,#20068f 0.0px,#220690 27.0px,#260591 32.2px,#20068f 40.5px,#20068f 60.8px)"></i><i style="top:82.0px;height:10.05px;background:#20068f"></i><i style="top:92.0px;height:2.05px;background:#220690"></i><i style="top:94.0px;height:1.05px;background:#240691"></i><i style="top:95.0px;height:1.05px;background:#280592"></i><i style="top:96.0px;height:1.05px;background:#2c0594"></i><i style="top:97.0px;height:1.05px;background:#310597"></i><i style="top:98.0px;height:1.05px;background:#350498"></i><i style="top:99.0px;height:1.05px;background:#3a049a"></i><i style="top:100.0px;height:1.05px;background:#3e049c"></i><i style="top:101.0px;height:1.05px;background:#3f049c"></i><i style="top:102.0px;height:3.05px;background:#41049d"></i><i style="top:105.0px;height:14.35px;background:#43039e"></i></b></div>
<div class="p" style="left:162.43px;top:132.60px"><b><i style="top:0.0px;height:2.05px;background:linear-gradient(90deg,#5901a5 0.0px,#5b01a5 27.0px,#5c01a6 27.8px,#6400a7 28.5px,#7801a8 29.2px,#9410a2 30.0px,#a31e9a 30.8px,#9d189d 31.5px,#8606a6 32.2px,#6e00a8 33.0px,#6001a6 33.8px,#5b01a5 35.2px,#5901a5 60.8px)"></i><i style="top:2.0px;height:1.05px;background:linear-gradient(90deg,#5901a5 0.0px,#5b01a5 27.0px,#5c01a6 27.8px,#6400a7 28.5px,#7801a8 29.2px,#920fa3 30.0px,#a21d9a 30.8px,#9d189d 31.5px,#8606a6 32.2px,#6c00a8 33.0px,#6001a6 33.8px,#5b01a5 35.2px,#5901a5 60.8px)"></i><i style="top:3.0px;height:1.05px;background:linear-gradient(90deg,#5901a5 0.0px,#5b01a5 27.0px,#5c01a6 27.8px,#6400a7 28.5px,#7701a8 29.2px,#910ea3 30.0px,#a11b9b 30.8px,#9a169f 31.5px,#8405a7 32.2px,#6c00a8 33.0px,#6001a6 33.8px,#5b01a5 35.2px,#5901a5 60.8px)"></i><i style="top:4.0px;height:1.05px;background:linear-gradient(90deg,#5901a5 0.0px,#5b01a5 27.0px,#5c01a6 27.8px,#6400a7 28.5px,#7501a8 29.2px,#8f0da4 30.0px,#9e199d 30.8px,#99159f 31.5px,#8305a7 32.2px,#6c00a8 33.0px,#6001a6 33.8px,#5b01a5 35.2px,#5901a5 60.8px)"></i><i style="top:5.0px;height:1.05px;background:linear-gradient(90deg,#5901a5 0.0px,#5b01a5 27.0px,#5c01a6 27.8px,#6400a7 28.5px,#7501a8 29.2px,#8d0ba5 30.0px,#9d189d 30.8px,#9613a1 31.5px,#8104a7 32.2px,#6a00a8 33.0px,#6001a6 33.8px,#5b01a5 35.2px,#5901a5 60.8px)"></i><i style="top:6.0px;height:1.05px;background:linear-gradient(90deg,#5901a5 0.0px,#5b01a5 27.0px,#6300a7 28.5px,#7401a8 29.2px,#8b0aa5 30.0px,#9a169f 30.8px,#9511a1 31.5px,#8004a8 32.2px,#6a00a8 33.0px,#5e01a6 33.8px,#5901a5 38.2px,#5901a5 60.8px)"></i><i style="top:7.0px;height:1.05px;background:linear-gradient(90deg,#5901a5 0.0px,#5b01a5 27.0px,#6300a7 28.5px,#7401a8 29.2px,#8a09a5 30.0px,#9814a0 30.8px,#920fa3 31.5px,#7e03a8 32.2px,#6900a8 33.0px,#5e01a6 33.8px,#5901a5 38.2px,#5901a5 60.8px)"></i><i style="top:8.0px;height:1.05px;background:linear-gradient(90deg,#5901a5 0.0px,#5b01a5 27.8px,#6100a7 28.5px,#7100a8 29.2px,#8707a6 30.0px,#9511a1 30.8px,#8f0da4 31.5px,#7b02a8 32.2px,#6700a8 33.0px,#5901a5 34.5px,#5901a5 60.8px)"></i><i style="top:9.0px;height:1.05px;background:linear-gradient(90deg,#5801a4 0.0px,#5901a5 27.8px,#6001a6 28.5px,#6f00a8 29.2px,#8405a7 30.0px,#910ea3 30.8px,#8d0ba5 31.5px,#7a02a8 32.2px,#6600a7 33.0px,#5801a4 34.5px,#5801a4 60.8px)"></i><i style="top:10.0px;height:1.05px;background:linear-gradient(90deg,#5601a4 0.0px,#5801a4 27.8px,#5e01a6 28.5px,#6c00a8 29.2px,#8104a7 30.0px,#8e0ca4 30.8px,#8a09a5 31.5px,#7701a8 32.2px,#6400a7 33.0px,#5b01a5 33.8px,#5601a4 36.8px,#5601a4 60.8px)"></i><i style="top:11.0px;height:1.05px;background:linear-gradient(90deg,#5502a4 0.0px,#5601a4 27.8px,#5c01a6 28.5px,#6a00a8 29.2px,#7e03a8 30.0px,#8a09a5 30.8px,#8606a6 31.5px,#7401a8 32.2px,#6300a7 33.0px,#5901a5 33.8px,#5502a4 36.8px,#5502a4 60.8px)"></i><i style="top:12.0px;height:1.05px;background:linear-gradient(90deg,#5302a3 0.0px,#5502a4 27.8px,#5b01a5 28.5px,#6700a8 29.2px,#7a02a8 30.0px,#8707a6 30.8px,#8305a7 31.5px,#6001a6 33.0px,#5502a4 34.5px,#5302a3 60.8px)"></i><i style="top:13.0px;height:1.05px;background:linear-gradient(90deg,#5102a3 0.0px,#5302a3 27.8px,#5901a5 28.5px,#8305a7 30.8px,#7e03a8 31.5px,#5e01a6 33.0px,#5302a3 34.5px,#5102a3 60.8px)"></i><i style="top:14.0px;height:1.05px;background:linear-gradient(90deg,#5002a2 0.0px,#5102a3 27.8px,#6300a7 29.2px,#7401a8 30.0px,#7e03a8 30.8px,#7b02a8 31.5px,#5c01a6 33.0px,#5102a3 34.5px,#5002a2 60.8px)"></i><i style="top:15.0px;height:1.05px;background:linear-gradient(90deg,#5002a2 0.0px,#5102a3 27.8px,#5502a4 28.5px,#6001a6 29.2px,#7100a8 30.0px,#7b02a8 30.8px,#7701a8 31.5px,#5901a5 33.0px,#5002a2 34.5px,#5002a2 60.8px)"></i><i style="top:16.0px;height:1.05px;background:linear-gradient(90deg,#4e02a2 0.0px,#5002a2 27.8px,#5302a3 28.5px,#7701a8 30.8px,#7401a8 31.5px,#5801a4 33.0px,#4e02a2 34.5px,#4e02a2 60.8px)"></i><i style="top:17.0px;height:1.05px;background:linear-gradient(90deg,#4c02a1 0.0px,#4e02a2 27.8px,#5102a3 28.5px,#7201a8 30.8px,#6f00a8 31.5px,#5601a4 33.0px,#4c02a1 34.5px,#4c02a1 60.8px)"></i><i style="top:18.0px;height:1.05px;background:linear-gradient(90deg,#4b03a1 0.0px,#4c02a1 27.8px,#5002a2 28.5px,#6e00a8 30.8px,#6a00a8 31.5px,#5302a3 33.0px,#4b03a1 34.5px,#4b03a1 60.8px)"></i><i style="top:19.0px;height:1.05px;background:linear-gradient(90deg,#4903a0 0.0px,#4b03a1 27.8px,#5601a4 29.2px,#6900a8 30.8px,#6700a8 31.5px,#5102a3 33.0px,#4903a0 34.5px,#4903a0 60.8px)"></i><i style="top:20.0px;height:1.05px;background:linear-gradient(90deg,#48039f 0.0px,#4903a0 27.8px,#5302a3 29.2px,#6400a7 30.8px,#6300a7 31.5px,#4903a0 33.8px,#48039f 60.8px)"></i><i style="top:21.0px;height:1.05px;background:linear-gradient(90deg,#46039f 0.0px,#48039f 27.8px,#5102a3 29.2px,#6001a6 30.8px,#5e01a6 31.5px,#4c02a1 33.0px,#46039f 34.5px,#46039f 60.8px)"></i><i style="top:22.0px;height:1.05px;background:linear-gradient(90deg,#44039e 0.0px,#46039f 27.8px,#4e02a2 29.2px,#5b01a5 30.8px,#5901a5 31.5px,#46039f 33.8px,#44039e 60.8px)"></i><i style="top:23.0px;height:1.05px;background:linear-gradient(90deg,#43039e 0.0px,#44039e 27.8px,#4b03a1 29.2px,#5502a4 30.8px,#4e02a2 32.2px,#44039e 33.8px,#43039e 60.8px)"></i><i style="top:24.0px;height:1.05px;background:linear-gradient(90deg,#43039e 0.0px,#44039e 28.5px,#4e02a2 30.8px,#4b03a1 32.2px,#43039e 33.8px,#43039e 60.8px)"></i><i style="top:25.0px;height:1.05px;background:linear-gradient(90deg,#41049d 0.0px,#43039e 28.5px,#48039f 30.0px,#44039e 33.0px,#41049d 35.2px,#41049d 60.8px)"></i><i style="top:26.0px;height:1.05px;background:linear-gradient(90deg,#3f049c 0.0px,#41049d 28.5px,#43039e 30.0px,#3e049c 30.8px,#43039e 32.2px,#3f049c 37.5px,#3f049c 60.8px)"></i><i style="top:27.0px;height:1.05px;background:linear-gradient(90deg,#3e049c 0.0px,#3f049c 29.2px,#350498 30.8px,#3e049c 32.2px,#3e049c 60.8px)"></i><i style="top:28.0px;height:1.05px;background:linear-gradient(90deg,#3c049b 0.0px,#3c049b 29.2px,#38049a 30.0px,#2e0595 30.8px,#3a049a 32.2px,#3c049b 60.8px)"></i><i style="top:29.0px;height:1.05px;background:linear-gradient(90deg,#3a049a 0.0px,#3a049a 29.2px,#370499 30.0px,#2c0594 30.8px,#38049a 32.2px,#3a049a 60.8px)"></i><i style="top:30.0px;height:1.05px;background:linear-gradient(90deg,#38049a 0.0px,#38049a 29.2px,#350498 30.0px,#2a0593 30.8px,#38049a 32.2px,#38049a 60.8px)"></i><i style="top:31.0px;height:1.05px;background:linear-gradient(90deg,#370499 0.0px,#370499 29.2px,#330597 30.0px,#2a0593 30.8px,#2e0595 31.5px,#370499 32.2px,#370499 60.8px)"></i><i style="top:32.0px;height:1.05px;background:linear-gradient(90deg,#350498 0.0px,#370499 29.2px,#330597 30.0px,#2a0593 30.8px,#350498 32.2px,#350498 60.8px)"></i><i style="top:33.0px;height:1.05px;background:linear-gradient(90deg,#350498 0.0px,#330597 30.0px,#2e0595 30.8px,#350498 33.0px,#350498 60.8px)"></i><i style="top:34.0px;height:1.05px;background:linear-gradient(90deg,#330597 0.0px,#350498 30.0px,#310597 30.8px,#350498 33.0px,#330597 60.8px)"></i><i style="top:35.0px;height:1.05px;background:linear-gradient(90deg,#330597 0.0px,#350498 29.2px,#370499 32.2px,#330597 36.8px,#330597 60.8px)"></i><i style="top:36.0px;height:1.05px;background:linear-gradient(90deg,#330597 0.0px,#350498 29.2px,#3e049c 30.8px,#330597 34.5px,#330597 60.8px)"></i><i style="top:37.0px;height:1.05px;background:linear-gradient(90deg,#330597 0.0px,#350498 28.5px,#3c049b 30.0px,#43039e 30.8px,#41049d 31.5px,#38049a 32.2px,#330597 34.5px,#330597 60.8px)"></i><i style="top:38.0px;height:1.05px;background:linear-gradient(90deg,#330597 0.0px,#350498 28.5px,#370499 29.2px,#48039f 30.8px,#44039e 31.5px,#350498 33.0px,#330597 60.8px)"></i><i style="top:39.0px;height:1.05px;background:linear-gradient(90deg,#330597 0.0px,#350498 28.5px,#370499 29.2px,#4c02a1 30.8px,#4903a0 31.5px,#3c049b 32.2px,#350498 33.0px,#330597 60.8px)"></i><i style="top:40.0px;height:1.05px;background:linear-gradient(90deg,#330597 0.0px,#350498 28.5px,#38049a 29.2px,#5102a3 30.8px,#4c02a1 31.5px,#3c049b 32.2px,#350498 33.0px,#330597 60.8px)"></i><i style="top:41.0px;height:1.05px;background:linear-gradient(90deg,#330597 0.0px,#350498 28.5px,#38049a 29.2px,#5601a4 30.8px,#5002a2 31.5px,#3e049c 32.2px,#350498 33.0px,#330597 60.8px)"></i><i style="top:42.0px;height:1.05px;background:linear-gradient(90deg,#330597 0.0px,#350498 28.5px,#38049a 29.2px,#5901a5 30.8px,#5102a3 31.5px,#3f049c 32.2px,#350498 33.0px,#330597 60.8px)"></i><i style="top:43.0px;height:1.05px;background:linear-gradient(90deg,#330597 0.0px,#350498 28.5px,#38049a 29.2px,#5b01a5 30.8px,#5502a4 31.5px,#3f049c 32.2px,#350498 33.0px,#330597 60.8px)"></i><i style="top:44.0px;height:1.05px;background:linear-gradient(90deg,#330597 0.0px,#350498 28.5px,#38049a 29.2px,#5c01a6 30.8px,#5502a4 31.5px,#3f049c 32.2px,#350498 33.0px,#330597 60.8px)"></i><i style="top:45.0px;height:1.05px;background:linear-gradient(90deg,#330597 0.0px,#350498 28.5px,#38049a 29.2px,#5c01a6 30.8px,#5601a4 31.5px,#3f049c 32.2px,#350498 33.0px,#330597 60.8px)"></i><i style="top:46.0px;height:1.05px;background:linear-gradient(90deg,#330597 0.0px,#350498 28.5px,#38049a 29.2px,#5c01a6 30.8px,#5502a4 31.5px,#3f049c 32.2px,#350498 33.0px,#330597 60.8px)"></i><i style="top:47.0px;height:1.05px;background:linear-gradient(90deg,#330597 0.0px,#350498 28.5px,#38049a 29.2px,#5b01a5 30.8px,#5302a3 31.5px,#3f049c 32.2px,#350498 33.0px,#330597 60.8px)"></i><i style="top:48.0px;height:1.05px;background:linear-gradient(90deg,#330597 0.0px,#350498 28.5px,#38049a 29.2px,#5801a4 30.8px,#5102a3 31.5px,#3e049c 32.2px,#350498 33.0px,#330597 60.8px)"></i><i style="top:49.0px;height:1.05px;background:linear-gradient(90deg,#330597 0.0px,#350498 28.5px,#38049a 29.2px,#5502a4 30.8px,#4e02a2 31.5px,#3e049c 32.2px,#350498 33.0px,#330597 60.8px)"></i><i style="top:50.0px;height:1.05px;background:linear-gradient(90deg,#330597 0.0px,#350498 28.5px,#370499 29.2px,#5102a3 30.8px,#4b03a1 31.5px,#3c049b 32.2px,#350498 33.0px,#330597 60.8px)"></i><i style="top:51.0px;height:1.05px;background:linear-gradient(90deg,#330597 0.0px,#350498 28.5px,#370499 29.2px,#4c02a1 30.8px,#48039f 31.5px,#350498 33.0px,#330597 60.8px)"></i><i style="top:52.0px;height:1.05px;background:linear-gradient(90deg,#330597 0.0px,#350498 28.5px,#370499 29.2px,#4903a0 30.8px,#44039e 31.5px,#350498 33.0px,#330597 60.8px)"></i><i style="top:53.0px;height:1.05px;background:linear-gradient(90deg,#330597 0.0px,#350498 28.5px,#370499 29.2px,#46039f 30.8px,#43039e 31.5px,#38049a 32.2px,#330597 34.5px,#330597 60.8px)"></i><i style="top:54.0px;height:1.05px;background:linear-gradient(90deg,#330597 0.0px,#350498 29.2px,#43039e 30.8px,#330597 33.8px,#330597 60.8px)"></i><i style="top:55.0px;height:1.05px;background:linear-gradient(90deg,#330597 0.0px,#350498 29.2px,#3f049c 30.8px,#3e049c 31.5px,#370499 32.2px,#330597 36.8px,#330597 60.8px)"></i><i style="top:56.0px;height:1.05px;background:linear-gradient(90deg,#330597 0.0px,#350498 29.2px,#3e049c 30.8px,#330597 33.8px,#330597 60.8px)"></i><i style="top:57.0px;height:1.05px;background:linear-gradient(90deg,#330597 0.0px,#350498 29.2px,#3c049b 30.8px,#330597 34.5px,#330597 60.8px)"></i><i style="top:58.0px;height:2.05px;background:linear-gradient(90deg,#330597 0.0px,#350498 29.2px,#3a049a 30.8px,#330597 34.5px,#330597 60.8px)"></i><i style="top:60.0px;height:1.05px;background:linear-gradient(90deg,#330597 0.0px,#350498 29.2px,#38049a 31.5px,#330597 35.2px,#330597 60.8px)"></i><i style="top:61.0px;height:2.05px;background:linear-gradient(90deg,#330597 0.0px,#350498 29.2px,#3a049a 30.8px,#330597 34.5px,#330597 60.8px)"></i><i style="top:63.0px;height:2.05px;background:linear-gradient(90deg,#330597 0.0px,#350498 29.2px,#3c049b 30.8px,#330597 34.5px,#330597 60.8px)"></i><i style="top:65.0px;height:1.05px;background:linear-gradient(90deg,#330597 0.0px,#350498 29.2px,#3e049c 30.8px,#330597 33.8px,#330597 60.8px)"></i><i style="top:66.0px;height:1.05px;background:linear-gradient(90deg,#330597 0.0px,#350498 29.2px,#3f049c 30.8px,#3e049c 31.5px,#370499 32.2px,#330597 36.8px,#330597 60.8px)"></i><i style="top:67.0px;height:1.05px;background:linear-gradient(90deg,#330597 0.0px,#350498 29.2px,#41049d 30.8px,#3f049c 31.5px,#350498 33.0px,#330597 60.8px)"></i><i style="top:68.0px;height:1.05px;background:linear-gradient(90deg,#330597 0.0px,#350498 29.2px,#43039e 30.8px,#330597 33.8px,#330597 60.8px)"></i><i style="top:69.0px;height:1.05px;background:linear-gradient(90deg,#330597 0.0px,#350498 28.5px,#370499 29.2px,#44039e 30.8px,#41049d 31.5px,#38049a 32.2px,#330597 34.5px,#330597 60.8px)"></i><i style="top:70.0px;height:1.05px;background:linear-gradient(90deg,#330597 0.0px,#350498 28.5px,#370499 29.2px,#46039f 30.8px,#43039e 31.5px,#38049a 32.2px,#330597 34.5px,#330597 60.8px)"></i><i style="top:71.0px;height:1.05px;background:linear-gradient(90deg,#330597 0.0px,#350498 28.5px,#370499 29.2px,#48039f 30.8px,#44039e 31.5px,#350498 33.0px,#330597 60.8px)"></i><i style="top:72.0px;height:1.05px;background:linear-gradient(90deg,#330597 0.0px,#350498 28.5px,#370499 29.2px,#4903a0 30.8px,#46039f 31.5px,#3a049a 32.2px,#330597 33.8px,#330597 60.8px)"></i><i style="top:73.0px;height:1.05px;background:linear-gradient(90deg,#330597 0.0px,#350498 28.5px,#370499 29.2px,#4b03a1 30.8px,#46039f 31.5px,#3a049a 32.2px,#330597 33.8px,#330597 60.8px)"></i><i style="top:74.0px;height:2.05px;background:linear-gradient(90deg,#330597 0.0px,#350498 28.5px,#370499 29.2px,#4c02a1 30.8px,#48039f 31.5px,#3a049a 32.2px,#330597 33.8px,#330597 60.8px)"></i><i style="top:76.0px;height:2.05px;background:linear-gradient(90deg,#330597 0.0px,#350498 28.5px,#370499 29.2px,#4c02a1 30.8px,#48039f 31.5px,#350498 33.0px,#330597 60.8px)"></i><i style="top:78.0px;height:2.05px;background:linear-gradient(90deg,#330597 0.0px,#350498 28.5px,#370499 29.2px,#4c02a1 30.8px,#48039f 31.5px,#3a049a 32.2px,#330597 33.8px,#330597 60.8px)"></i><i style="top:80.0px;height:1.05px;background:linear-gradient(90deg,#330597 0.0px,#350498 28.5px,#370499 29.2px,#4b03a1 30.8px,#46039f 31.5px,#3a049a 32.2px,#330597 33.8px,#330597 60.8px)"></i><i style="top:81.0px;height:1.05px;background:linear-gradient(90deg,#330597 0.0px,#350498 28.5px,#370499 29.2px,#4903a0 30.8px,#46039f 31.5px,#3a049a 32.2px,#330597 33.8px,#330597 60.8px)"></i><i style="top:82.0px;height:1.05px;background:linear-gradient(90deg,#330597 0.0px,#350498 28.5px,#370499 29.2px,#48039f 30.8px,#44039e 31.5px,#350498 33.0px,#330597 60.8px)"></i><i style="top:83.0px;height:1.05px;background:linear-gradient(90deg,#330597 0.0px,#350498 28.5px,#370499 29.2px,#46039f 30.8px,#43039e 31.5px,#38049a 32.2px,#330597 34.5px,#330597 60.8px)"></i><i style="top:84.0px;height:1.05px;background:linear-gradient(90deg,#330597 0.0px,#350498 28.5px,#370499 29.2px,#44039e 30.8px,#41049d 31.5px,#38049a 32.2px,#330597 34.5px,#330597 60.8px)"></i><i style="top:85.0px;height:1.05px;background:linear-gradient(90deg,#330597 0.0px,#350498 29.2px,#43039e 30.8px,#330597 33.8px,#330597 60.8px)"></i><i style="top:86.0px;height:1.05px;background:linear-gradient(90deg,#330597 0.0px,#350498 29.2px,#41049d 30.8px,#330597 33.8px,#330597 60.8px)"></i><i style="top:87.0px;height:1.05px;background:linear-gradient(90deg,#330597 0.0px,#350498 29.2px,#3f049c 30.8px,#3e049c 31.5px,#370499 32.2px,#330597 36.8px,#330597 60.8px)"></i><i style="top:88.0px;height:1.05px;background:linear-gradient(90deg,#330597 0.0px,#350498 29.2px,#3e049c 30.8px,#330597 33.8px,#330597 60.8px)"></i><i style="top:89.0px;height:1.05px;background:linear-gradient(90deg,#330597 0.0px,#350498 29.2px,#3c049b 30.8px,#330597 34.5px,#330597 60.8px)"></i><i style="top:90.0px;height:2.05px;background:linear-gradient(90deg,#330597 0.0px,#350498 29.2px,#3a049a 30.8px,#330597 34.5px,#330597 60.8px)"></i><i style="top:92.0px;height:2.05px;background:linear-gradient(90deg,#350498 0.0px,#370499 30.0px,#350498 60.8px)"></i><i style="top:94.0px;height:1.05px;background:linear-gradient(90deg,#350498 0.0px,#370499 30.0px,#370499 32.2px,#350498 60.8px)"></i><i style="top:95.0px;height:1.05px;background:linear-gradient(90deg,#350498 0.0px,#370499 29.2px,#3e049c 31.5px,#350498 33.8px,#350498 60.8px)"></i><i style="top:96.0px;height:1.05px;background:linear-gradient(90deg,#370499 0.0px,#38049a 29.2px,#43039e 30.8px,#370499 33.0px,#370499 60.8px)"></i><i style="top:97.0px;height:1.05px;background:linear-gradient(90deg,#370499 0.0px,#38049a 28.5px,#48039f 30.8px,#46039f 31.5px,#3a049a 33.0px,#370499 38.2px,#370499 60.8px)"></i><i style="top:98.0px;height:1.05px;background:linear-gradient(90deg,#3a049a 0.0px,#3a049a 28.5px,#4e02a2 30.8px,#4c02a1 31.5px,#3c049b 33.0px,#3a049a 60.8px)"></i><i style="top:99.0px;height:1.05px;background:linear-gradient(90deg,#3c049b 0.0px,#3e049c 28.5px,#4c02a1 30.0px,#5502a4 30.8px,#5102a3 31.5px,#3f049c 33.0px,#3c049b 38.2px,#3c049b 60.8px)"></i><i style="top:100.0px;height:1.05px;background:linear-gradient(90deg,#41049d 0.0px,#43039e 28.5px,#48039f 29.2px,#5c01a6 30.8px,#5901a5 31.5px,#44039e 33.0px,#41049d 35.2px,#41049d 60.8px)"></i><i style="top:101.0px;height:1.05px;background:linear-gradient(90deg,#44039e 0.0px,#46039f 28.5px,#4c02a1 29.2px,#6400a7 30.8px,#6001a6 31.5px,#4903a0 33.0px,#44039e 36.0px,#44039e 60.8px)"></i><i style="top:102.0px;height:1.05px;background:linear-gradient(90deg,#4903a0 0.0px,#4b03a1 28.5px,#5102a3 29.2px,#6c00a8 30.8px,#6700a8 31.5px,#5801a4 32.2px,#4903a0 33.8px,#4903a0 60.8px)"></i><i style="top:103.0px;height:1.05px;background:linear-gradient(90deg,#4c02a1 0.0px,#4e02a2 28.5px,#5601a4 29.2px,#7201a8 30.8px,#6e00a8 31.5px,#5c01a6 32.2px,#5102a3 33.0px,#4c02a1 34.5px,#4c02a1 60.8px)"></i><i style="top:104.0px;height:1.05px;background:linear-gradient(90deg,#4e02a2 0.0px,#4e02a2 27.8px,#5901a5 29.2px,#7801a8 30.8px,#7201a8 31.5px,#5302a3 33.0px,#4e02a2 36.0px,#4e02a2 60.8px)"></i><i style="top:105.0px;height:1.05px;background:linear-gradient(90deg,#5002a2 0.0px,#5002a2 27.8px,#5b01a5 29.2px,#7d03a8 30.8px,#7701a8 31.5px,#5601a4 33.0px,#5002a2 34.5px,#5002a2 60.8px)"></i><i style="top:106.0px;height:1.05px;background:linear-gradient(90deg,#5102a3 0.0px,#5302a3 28.5px,#5e01a6 29.2px,#8104a7 30.8px,#7b02a8 31.5px,#6600a7 32.2px,#5801a4 33.0px,#5102a3 33.8px,#5102a3 60.8px)"></i><i style="top:107.0px;height:1.05px;background:linear-gradient(90deg,#5102a3 0.0px,#5102a3 27.8px,#5502a4 28.5px,#5e01a6 29.2px,#7401a8 30.0px,#8606a6 30.8px,#7e03a8 31.5px,#5801a4 33.0px,#5102a3 34.5px,#5102a3 60.8px)"></i><i style="top:108.0px;height:1.05px;background:linear-gradient(90deg,#5102a3 0.0px,#5102a3 27.8px,#5502a4 28.5px,#6001a6 29.2px,#7701a8 30.0px,#8808a6 30.8px,#8104a7 31.5px,#6a00a8 32.2px,#5901a5 33.0px,#5102a3 34.5px,#5102a3 60.8px)"></i><i style="top:109.0px;height:1.05px;background:linear-gradient(90deg,#5102a3 0.0px,#5102a3 27.8px,#5502a4 28.5px,#6100a7 29.2px,#7a02a8 30.0px,#8b0aa5 30.8px,#8405a7 31.5px,#6c00a8 32.2px,#5901a5 33.0px,#5102a3 34.5px,#5102a3 60.8px)"></i><i style="top:110.0px;height:1.05px;background:linear-gradient(90deg,#5102a3 0.0px,#5302a3 27.8px,#5601a4 28.5px,#6300a7 29.2px,#7b02a8 30.0px,#8f0da4 30.8px,#8707a6 31.5px,#6e00a8 32.2px,#5901a5 33.0px,#5102a3 34.5px,#5102a3 60.8px)"></i><i style="top:111.0px;height:1.05px;background:linear-gradient(90deg,#5102a3 0.0px,#5302a3 27.8px,#5601a4 28.5px,#6300a7 29.2px,#7e03a8 30.0px,#920fa3 30.8px,#8a09a5 31.5px,#6f00a8 32.2px,#5b01a5 33.0px,#5302a3 33.8px,#5102a3 60.8px)"></i><i style="top:112.0px;height:1.05px;background:linear-gradient(90deg,#5102a3 0.0px,#5302a3 27.8px,#5601a4 28.5px,#6400a7 29.2px,#8004a8 30.0px,#9511a1 30.8px,#8d0ba5 31.5px,#7100a8 32.2px,#5b01a5 33.0px,#5302a3 33.8px,#5102a3 60.8px)"></i><i style="top:113.0px;height:1.05px;background:linear-gradient(90deg,#5102a3 0.0px,#5302a3 27.8px,#5601a4 28.5px,#6400a7 29.2px,#8305a7 30.0px,#9814a0 30.8px,#8f0da4 31.5px,#7201a8 32.2px,#5b01a5 33.0px,#5302a3 33.8px,#5102a3 60.8px)"></i><i style="top:114.0px;height:1.05px;background:linear-gradient(90deg,#5102a3 0.0px,#5302a3 27.8px,#5601a4 28.5px,#6600a7 29.2px,#8405a7 30.0px,#9c179e 30.8px,#920fa3 31.5px,#7401a8 32.2px,#5c01a6 33.0px,#5302a3 33.8px,#5102a3 60.8px)"></i><i style="top:115.0px;height:1.05px;background:linear-gradient(90deg,#5102a3 0.0px,#5302a3 27.8px,#5601a4 28.5px,#6600a7 29.2px,#8606a6 30.0px,#9e199d 30.8px,#9511a1 31.5px,#7501a8 32.2px,#5c01a6 33.0px,#5302a3 33.8px,#5102a3 60.8px)"></i><i style="top:116.0px;height:1.05px;background:linear-gradient(90deg,#5102a3 0.0px,#5302a3 27.8px,#5601a4 28.5px,#6700a8 29.2px,#8808a6 30.0px,#a11b9b 30.8px,#9814a0 31.5px,#7701a8 32.2px,#5c01a6 33.0px,#5302a3 33.8px,#5102a3 60.8px)"></i><i style="top:117.0px;height:2.35px;background:linear-gradient(90deg,#5102a3 0.0px,#5302a3 27.8px,#5601a4 28.5px,#6700a8 29.2px,#8a09a5 30.0px,#a31e9a 30.8px,#9a169f 31.5px,#7801a8 32.2px,#5c01a6 33.0px,#5102a3 34.5px,#5102a3 60.8px)"></i></b></div>
<div class="p" style="left:225.11px;top:132.60px"><b><i style="top:0.0px;height:2.05px;background:linear-gradient(90deg,#5e01a6 0.0px,#6001a6 24.8px,#6700a8 26.2px,#7401a8 27.0px,#8808a6 27.8px,#a31e9a 28.5px,#dc5d67 30.0px,#ed7a52 30.8px,#f58c46 31.5px,#f48948 32.2px,#eb7556 33.0px,#d7566c 33.8px,#9d189d 35.2px,#8305a7 36.0px,#7100a8 36.8px,#6600a7 37.5px,#5e01a6 39.8px,#5e01a6 60.8px)"></i><i style="top:2.0px;height:1.05px;background:linear-gradient(90deg,#5e01a6 0.0px,#6001a6 24.8px,#6700a8 26.2px,#7401a8 27.0px,#8707a6 27.8px,#a21d9a 28.5px,#db5c68 30.0px,#ed7a52 30.8px,#f58c46 31.5px,#f48948 32.2px,#eb7556 33.0px,#d6556d 33.8px,#9c179e 35.2px,#8305a7 36.0px,#7100a8 36.8px,#6600a7 37.5px,#5e01a6 39.8px,#5e01a6 60.8px)"></i><i style="top:3.0px;height:1.05px;background:linear-gradient(90deg,#5e01a6 0.0px,#6001a6 24.8px,#6700a8 26.2px,#7201a8 27.0px,#8405a7 27.8px,#a01a9c 28.5px,#da5b69 30.0px,#ed7a52 30.8px,#f58c46 31.5px,#f48948 32.2px,#ea7457 33.0px,#d5546e 33.8px,#b83289 34.5px,#9a169f 35.2px,#8004a8 36.0px,#6f00a8 36.8px,#6100a7 38.2px,#5e01a6 45.0px,#5e01a6 60.8px)"></i><i style="top:4.0px;height:1.05px;background:linear-gradient(90deg,#5e01a6 0.0px,#6001a6 24.8px,#6600a7 26.2px,#6f00a8 27.0px,#8305a7 27.8px,#9d189d 28.5px,#d9586a 30.0px,#ec7754 30.8px,#f58b47 31.5px,#f48849 32.2px,#e97257 33.0px,#d45270 33.8px,#b6308b 34.5px,#9814a0 35.2px,#7e03a8 36.0px,#6e00a8 36.8px,#6400a7 37.5px,#5e01a6 40.5px,#5e01a6 60.8px)"></i><i style="top:5.0px;height:1.05px;background:linear-gradient(90deg,#5e01a6 0.0px,#6001a6 24.8px,#6400a7 26.2px,#6e00a8 27.0px,#7e03a8 27.8px,#99159f 28.5px,#d5536f 30.0px,#e97158 30.8px,#f2844b 31.5px,#f1814d 32.2px,#e66c5c 33.0px,#cf4c74 33.8px,#b22b8f 34.5px,#9410a2 35.2px,#7b02a8 36.0px,#6c00a8 36.8px,#6300a7 37.5px,#5e01a6 40.5px,#5e01a6 60.8px)"></i><i style="top:6.0px;height:1.05px;background:linear-gradient(90deg,#5e01a6 0.0px,#6001a6 25.5px,#6c00a8 27.0px,#7b02a8 27.8px,#9511a1 28.5px,#b42e8d 29.2px,#d14e72 30.0px,#e56b5d 30.8px,#ef7e50 31.5px,#ee7b51 32.2px,#e26660 33.0px,#cc4778 33.8px,#ad2793 34.5px,#8f0da4 35.2px,#7801a8 36.0px,#6900a8 36.8px,#6001a6 38.2px,#5e01a6 60.8px)"></i><i style="top:7.0px;height:1.05px;background:linear-gradient(90deg,#5e01a6 0.0px,#6001a6 25.5px,#6a00a8 27.0px,#7801a8 27.8px,#910ea3 28.5px,#b02991 29.2px,#cc4977 30.0px,#e26660 30.8px,#ec7754 31.5px,#eb7556 32.2px,#de6164 33.0px,#c7427c 33.8px,#a82296 34.5px,#8b0aa5 35.2px,#7501a8 36.0px,#6700a8 36.8px,#6001a6 38.2px,#5e01a6 60.8px)"></i><i style="top:8.0px;height:1.05px;background:linear-gradient(90deg,#5e01a6 0.0px,#6001a6 25.5px,#6100a7 26.2px,#7501a8 27.8px,#8d0ba5 28.5px,#ab2494 29.2px,#c8437b 30.0px,#de6164 30.8px,#e97158 31.5px,#e76f5a 32.2px,#da5b69 33.0px,#c23c81 33.8px,#a31e9a 34.5px,#8707a6 35.2px,#7201a8 36.0px,#6600a7 36.8px,#5e01a6 39.0px,#5e01a6 60.8px)"></i><i style="top:9.0px;height:1.05px;background:linear-gradient(90deg,#5e01a6 0.0px,#6001a6 25.5px,#6700a8 27.0px,#7201a8 27.8px,#8808a6 28.5px,#a62098 29.2px,#c43e7f 30.0px,#da5b69 30.8px,#e56b5d 31.5px,#e4695e 32.2px,#d6556d 33.0px,#be3885 33.8px,#a01a9c 34.5px,#8305a7 35.2px,#6f00a8 36.0px,#6100a7 37.5px,#5e01a6 40.5px,#5e01a6 60.8px)"></i><i style="top:10.0px;height:1.05px;background:linear-gradient(90deg,#5e01a6 0.0px,#5e01a6 25.5px,#6600a7 27.0px,#7100a8 27.8px,#8405a7 28.5px,#a11b9b 29.2px,#bf3984 30.0px,#d6556d 30.8px,#e26561 31.5px,#e06363 32.2px,#d24f71 33.0px,#9a169f 34.5px,#8004a8 35.2px,#6e00a8 36.0px,#6001a6 37.5px,#5e01a6 60.8px)"></i><i style="top:11.0px;height:1.05px;background:linear-gradient(90deg,#5e01a6 0.0px,#6001a6 26.2px,#6e00a8 27.8px,#8004a8 28.5px,#9c179e 29.2px,#ba3388 30.0px,#d24f71 30.8px,#de5f65 31.5px,#dc5d67 32.2px,#cd4a76 33.0px,#b42e8d 33.8px,#9511a1 34.5px,#7b02a8 35.2px,#6a00a8 36.0px,#6001a6 37.5px,#5e01a6 60.8px)"></i><i style="top:12.0px;height:1.05px;background:linear-gradient(90deg,#5e01a6 0.0px,#6001a6 26.2px,#6300a7 27.0px,#6c00a8 27.8px,#7d03a8 28.5px,#9613a1 29.2px,#b52f8c 30.0px,#cd4a76 30.8px,#da5a6a 31.5px,#d8576b 32.2px,#c9447a 33.0px,#ae2892 33.8px,#910ea3 34.5px,#7801a8 35.2px,#6900a8 36.0px,#6100a7 36.8px,#5e01a6 43.5px,#5e01a6 60.8px)"></i><i style="top:13.0px;height:1.05px;background:linear-gradient(90deg,#5e01a6 0.0px,#6001a6 26.2px,#6900a8 27.8px,#7801a8 28.5px,#920fa3 29.2px,#c9447a 30.8px,#d5546e 31.5px,#d45270 32.2px,#c43e7f 33.0px,#aa2395 33.8px,#8b0aa5 34.5px,#7501a8 35.2px,#6700a8 36.0px,#6001a6 37.5px,#5e01a6 60.8px)"></i><i style="top:14.0px;height:1.05px;background:linear-gradient(90deg,#5e01a6 0.0px,#6001a6 26.2px,#6700a8 27.8px,#7501a8 28.5px,#8d0ba5 29.2px,#ab2494 30.0px,#c43e7f 30.8px,#d14e72 31.5px,#d04d73 32.2px,#c03a83 33.0px,#a51f99 33.8px,#8707a6 34.5px,#7100a8 35.2px,#6600a7 36.0px,#5e01a6 37.5px,#5e01a6 60.8px)"></i><i style="top:15.0px;height:1.05px;background:linear-gradient(90deg,#5e01a6 0.0px,#6001a6 27.0px,#6600a7 27.8px,#7201a8 28.5px,#8808a6 29.2px,#a51f99 30.0px,#bf3984 30.8px,#cc4977 31.5px,#cc4778 32.2px,#bb3488 33.0px,#9e199d 33.8px,#8305a7 34.5px,#6f00a8 35.2px,#6400a7 36.0px,#5e01a6 37.5px,#5e01a6 60.8px)"></i><i style="top:16.0px;height:1.05px;background:linear-gradient(90deg,#5e01a6 0.0px,#6001a6 27.0px,#6400a7 27.8px,#6f00a8 28.5px,#8305a7 29.2px,#a01a9c 30.0px,#ba3388 30.8px,#c8437b 31.5px,#c7427c 32.2px,#b52f8c 33.0px,#99159f 33.8px,#7e03a8 34.5px,#6c00a8 35.2px,#6300a7 36.0px,#5e01a6 39.0px,#5e01a6 60.8px)"></i><i style="top:17.0px;height:1.05px;background:linear-gradient(90deg,#5e01a6 0.0px,#6001a6 27.0px,#6300a7 27.8px,#6c00a8 28.5px,#7e03a8 29.2px,#9a169f 30.0px,#b42e8d 30.8px,#c33d80 31.5px,#c23c81 32.2px,#b02991 33.0px,#9410a2 33.8px,#7a02a8 34.5px,#6900a8 35.2px,#6100a7 36.0px,#5e01a6 42.8px,#5e01a6 60.8px)"></i><i style="top:18.0px;height:1.05px;background:linear-gradient(90deg,#5e01a6 0.0px,#6001a6 27.0px,#6100a7 27.8px,#6900a8 28.5px,#7a02a8 29.2px,#9410a2 30.0px,#b02991 30.8px,#be3885 31.5px,#bd3786 32.2px,#aa2395 33.0px,#8e0ca4 33.8px,#7501a8 34.5px,#6700a8 35.2px,#5e01a6 36.8px,#5e01a6 60.8px)"></i><i style="top:19.0px;height:1.05px;background:linear-gradient(90deg,#5e01a6 0.0px,#5e01a6 27.0px,#6700a8 28.5px,#7501a8 29.2px,#8e0ca4 30.0px,#aa2395 30.8px,#b83289 31.5px,#b7318a 32.2px,#a51f99 33.0px,#8808a6 33.8px,#7201a8 34.5px,#6400a7 35.2px,#5e01a6 36.8px,#5e01a6 60.8px)"></i><i style="top:20.0px;height:1.05px;background:linear-gradient(90deg,#5e01a6 0.0px,#6001a6 27.8px,#6400a7 28.5px,#7201a8 29.2px,#8808a6 30.0px,#a31e9a 30.8px,#b32c8e 31.5px,#b22b8f 32.2px,#9e199d 33.0px,#8305a7 33.8px,#6e00a8 34.5px,#6300a7 35.2px,#5e01a6 38.2px,#5e01a6 60.8px)"></i><i style="top:21.0px;height:1.05px;background:linear-gradient(90deg,#5e01a6 0.0px,#6001a6 27.8px,#6300a7 28.5px,#6e00a8 29.2px,#8305a7 30.0px,#9d189d 30.8px,#ae2892 31.5px,#ac2694 32.2px,#9814a0 33.0px,#7e03a8 33.8px,#6a00a8 34.5px,#6100a7 35.2px,#5e01a6 42.0px,#5e01a6 60.8px)"></i><i style="top:22.0px;height:1.05px;background:linear-gradient(90deg,#5e01a6 0.0px,#5e01a6 27.8px,#6100a7 28.5px,#6a00a8 29.2px,#7d03a8 30.0px,#9613a1 30.8px,#a82296 31.5px,#a62098 32.2px,#910ea3 33.0px,#7801a8 33.8px,#6700a8 34.5px,#5e01a6 36.0px,#5e01a6 60.8px)"></i><i style="top:23.0px;height:1.05px;background:linear-gradient(90deg,#5e01a6 0.0px,#6001a6 28.5px,#6700a8 29.2px,#7801a8 30.0px,#910ea3 30.8px,#a21d9a 31.5px,#a01a9c 32.2px,#8b0aa5 33.0px,#7401a8 33.8px,#6400a7 34.5px,#5e01a6 36.0px,#5e01a6 60.8px)"></i><i style="top:24.0px;height:1.05px;background:linear-gradient(90deg,#5e01a6 0.0px,#6001a6 29.2px,#6a00a8 30.0px,#7b02a8 30.8px,#8b0aa5 31.5px,#8f0da4 32.2px,#8004a8 33.0px,#6c00a8 33.8px,#6100a7 34.5px,#5e01a6 37.5px,#5e01a6 60.8px)"></i><i style="top:25.0px;height:1.05px;background:linear-gradient(90deg,#5e01a6 0.0px,#5e01a6 29.2px,#6400a7 30.0px,#8305a7 31.5px,#8707a6 32.2px,#6700a8 33.8px,#6001a6 34.5px,#5e01a6 60.8px)"></i><i style="top:26.0px;height:1.05px;background:linear-gradient(90deg,#5e01a6 0.0px,#5c01a6 28.5px,#5e01a6 30.0px,#6900a8 30.8px,#7a02a8 31.5px,#7e03a8 32.2px,#6300a7 33.8px,#5e01a6 35.2px,#5e01a6 60.8px)"></i><i style="top:27.0px;height:1.05px;background:linear-gradient(90deg,#5e01a6 0.0px,#5c01a6 27.8px,#5801a4 30.0px,#6100a7 30.8px,#7100a8 31.5px,#7501a8 32.2px,#6001a6 33.8px,#5e01a6 35.2px,#5e01a6 60.8px)"></i><i style="top:28.0px;height:1.05px;background:linear-gradient(90deg,#5e01a6 0.0px,#5c01a6 27.8px,#5302a3 30.0px,#5801a4 30.8px,#6700a8 31.5px,#6c00a8 32.2px,#5c01a6 33.8px,#5e01a6 60.8px)"></i><i style="top:29.0px;height:1.05px;background:linear-gradient(90deg,#5e01a6 0.0px,#5c01a6 27.8px,#5002a2 30.0px,#5002a2 30.8px,#5e01a6 31.5px,#6300a7 32.2px,#5901a5 33.8px,#5e01a6 38.2px,#5e01a6 60.8px)"></i><i style="top:30.0px;height:1.05px;background:linear-gradient(90deg,#5e01a6 0.0px,#5c01a6 27.0px,#5502a4 29.2px,#4903a0 30.8px,#5b01a5 32.2px,#5601a4 33.0px,#5e01a6 36.8px,#5e01a6 60.8px)"></i><i style="top:31.0px;height:1.05px;background:linear-gradient(90deg,#5e01a6 0.0px,#5c01a6 27.0px,#5302a3 29.2px,#43039e 30.8px,#5102a3 32.2px,#5102a3 33.0px,#5b01a5 34.5px,#5e01a6 45.0px,#5e01a6 60.8px)"></i><i style="top:32.0px;height:1.05px;background:linear-gradient(90deg,#5e01a6 0.0px,#5c01a6 27.0px,#5801a4 28.5px,#41049d 30.8px,#41049d 31.5px,#5b01a5 34.5px,#5e01a6 48.8px,#5e01a6 60.8px)"></i><i style="top:33.0px;height:1.05px;background:linear-gradient(90deg,#5e01a6 0.0px,#5c01a6 27.0px,#5601a4 28.5px,#3f049c 30.8px,#3e049c 31.5px,#5502a4 33.8px,#5c01a6 36.0px,#5e01a6 60.8px)"></i><i style="top:34.0px;height:1.05px;background:linear-gradient(90deg,#5c01a6 0.0px,#5b01a5 27.0px,#5601a4 28.5px,#3e049c 30.8px,#3e049c 31.5px,#5901a5 34.5px,#5c01a6 41.2px,#5c01a6 60.8px)"></i><i style="top:35.0px;height:1.05px;background:linear-gradient(90deg,#5c01a6 0.0px,#5b01a5 27.0px,#5502a4 28.5px,#3e049c 30.8px,#3c049b 31.5px,#5801a4 34.5px,#5c01a6 37.5px,#5c01a6 60.8px)"></i><i style="top:36.0px;height:1.05px;background:linear-gradient(90deg,#5c01a6 0.0px,#5b01a5 27.0px,#4c02a1 29.2px,#3e049c 30.8px,#3e049c 31.5px,#5801a4 34.5px,#5c01a6 39.0px,#5c01a6 60.8px)"></i><i style="top:37.0px;height:1.05px;background:linear-gradient(90deg,#5c01a6 0.0px,#5b01a5 26.2px,#5302a3 28.5px,#3f049c 30.8px,#43039e 32.2px,#5601a4 34.5px,#5c01a6 37.5px,#5c01a6 60.8px)"></i><i style="top:38.0px;height:1.05px;background:linear-gradient(90deg,#5c01a6 0.0px,#5b01a5 26.2px,#5102a3 28.5px,#44039e 30.0px,#44039e 32.2px,#5901a5 35.2px,#5c01a6 52.5px,#5c01a6 60.8px)"></i><i style="top:39.0px;height:1.05px;background:linear-gradient(90deg,#5b01a5 0.0px,#5901a5 27.0px,#44039e 30.0px,#48039f 33.0px,#5801a4 35.2px,#5b01a5 42.0px,#5b01a5 60.8px)"></i><i style="top:40.0px;height:1.05px;background:linear-gradient(90deg,#5b01a5 0.0px,#5901a5 26.2px,#5502a4 27.8px,#48039f 29.2px,#46039f 30.0px,#5002a2 31.5px,#48039f 33.0px,#5801a4 35.2px,#5b01a5 45.8px,#5b01a5 60.8px)"></i><i style="top:41.0px;height:1.05px;background:linear-gradient(90deg,#5901a5 0.0px,#5901a5 26.2px,#48039f 29.2px,#48039f 30.0px,#5302a3 30.8px,#5801a4 31.5px,#4903a0 33.0px,#5801a4 36.0px,#5901a5 60.8px)"></i><i style="top:42.0px;height:1.05px;background:linear-gradient(90deg,#5901a5 0.0px,#5801a4 26.2px,#5302a3 27.8px,#46039f 29.2px,#4b03a1 30.0px,#5c01a6 30.8px,#6300a7 31.5px,#4903a0 33.0px,#5801a4 36.0px,#5901a5 60.8px)"></i><i style="top:43.0px;height:1.05px;background:linear-gradient(90deg,#5801a4 0.0px,#5601a4 26.2px,#5102a3 27.8px,#46039f 29.2px,#4e02a2 30.0px,#6600a7 30.8px,#6e00a8 31.5px,#4b03a1 33.0px,#4903a0 33.8px,#5502a4 35.2px,#5801a4 42.0px,#5801a4 60.8px)"></i><i style="top:44.0px;height:1.05px;background:linear-gradient(90deg,#5801a4 0.0px,#5601a4 26.2px,#46039f 29.2px,#5102a3 30.0px,#6e00a8 30.8px,#7801a8 31.5px,#4b03a1 33.0px,#4903a0 33.8px,#5601a4 36.0px,#5801a4 60.8px)"></i><i style="top:45.0px;height:1.05px;background:linear-gradient(90deg,#5601a4 0.0px,#5502a4 26.2px,#4e02a2 27.8px,#44039e 29.2px,#5302a3 30.0px,#7401a8 30.8px,#8004a8 31.5px,#6600a7 32.2px,#4c02a1 33.0px,#48039f 33.8px,#5601a4 36.8px,#5601a4 60.8px)"></i><i style="top:46.0px;height:1.05px;background:linear-gradient(90deg,#5502a4 0.0px,#5302a3 26.2px,#44039e 29.2px,#5502a4 30.0px,#7701a8 30.8px,#8405a7 31.5px,#6900a8 32.2px,#4c02a1 33.0px,#46039f 33.8px,#5502a4 36.8px,#5502a4 60.8px)"></i><i style="top:47.0px;height:1.05px;background:linear-gradient(90deg,#5502a4 0.0px,#5302a3 26.2px,#43039e 29.2px,#5302a3 30.0px,#7701a8 30.8px,#8305a7 31.5px,#6700a8 32.2px,#4b03a1 33.0px,#46039f 33.8px,#5102a3 36.0px,#5502a4 45.8px,#5502a4 60.8px)"></i><i style="top:48.0px;height:1.05px;background:linear-gradient(90deg,#5302a3 0.0px,#5102a3 26.2px,#43039e 29.2px,#5102a3 30.0px,#7201a8 30.8px,#7e03a8 31.5px,#6400a7 32.2px,#4903a0 33.0px,#44039e 33.8px,#5102a3 36.0px,#5302a3 60.8px)"></i><i style="top:49.0px;height:1.05px;background:linear-gradient(90deg,#5102a3 0.0px,#5002a2 26.2px,#4903a0 27.8px,#41049d 29.2px,#4e02a2 30.0px,#6a00a8 30.8px,#7501a8 31.5px,#46039f 33.0px,#43039e 33.8px,#5002a2 36.0px,#5102a3 60.8px)"></i><i style="top:50.0px;height:1.05px;background:linear-gradient(90deg,#5002a2 0.0px,#4e02a2 26.2px,#3f049c 29.2px,#4903a0 30.0px,#6100a7 30.8px,#6a00a8 31.5px,#44039e 33.0px,#41049d 33.8px,#4e02a2 36.0px,#5002a2 60.8px)"></i><i style="top:51.0px;height:1.05px;background:linear-gradient(90deg,#5002a2 0.0px,#4e02a2 25.5px,#46039f 27.8px,#3e049c 29.2px,#44039e 30.0px,#5801a4 30.8px,#6001a6 31.5px,#41049d 33.0px,#3f049c 33.8px,#4c02a1 36.0px,#5002a2 45.8px,#5002a2 60.8px)"></i><i style="top:52.0px;height:1.05px;background:linear-gradient(90deg,#4e02a2 0.0px,#4c02a1 26.2px,#3c049b 29.2px,#41049d 30.0px,#4e02a2 30.8px,#5302a3 31.5px,#3e049c 33.0px,#4b03a1 36.0px,#4e02a2 42.0px,#4e02a2 60.8px)"></i><i style="top:53.0px;height:1.05px;background:linear-gradient(90deg,#4c02a1 0.0px,#4b03a1 26.2px,#3f049c 28.5px,#3a049a 29.2px,#3c049b 30.0px,#46039f 30.8px,#4903a0 31.5px,#3c049b 33.0px,#4c02a1 36.8px,#4c02a1 60.8px)"></i><i style="top:54.0px;height:1.05px;background:linear-gradient(90deg,#4c02a1 0.0px,#4b03a1 26.2px,#3e049c 28.5px,#38049a 29.2px,#38049a 30.0px,#3f049c 30.8px,#41049d 31.5px,#3a049a 33.0px,#3c049b 33.8px,#48039f 35.2px,#4c02a1 41.2px,#4c02a1 60.8px)"></i><i style="top:55.0px;height:1.05px;background:linear-gradient(90deg,#4b03a1 0.0px,#4903a0 26.2px,#3e049c 28.5px,#370499 30.0px,#3c049b 31.5px,#38049a 33.0px,#4b03a1 36.8px,#4b03a1 60.8px)"></i><i style="top:56.0px;height:1.05px;background:linear-gradient(90deg,#4b03a1 0.0px,#4903a0 26.2px,#3c049b 28.5px,#350498 30.0px,#370499 33.0px,#46039f 35.2px,#4b03a1 39.8px,#4b03a1 60.8px)"></i><i style="top:57.0px;height:1.05px;background:linear-gradient(90deg,#4b03a1 0.0px,#4903a0 25.5px,#41049d 27.8px,#350498 30.0px,#370499 33.0px,#48039f 36.0px,#4b03a1 60.8px)"></i><i style="top:58.0px;height:1.05px;background:linear-gradient(90deg,#4903a0 0.0px,#48039f 26.2px,#3c049b 28.5px,#330597 30.0px,#330597 32.2px,#4903a0 36.8px,#4903a0 60.8px)"></i><i style="top:59.0px;height:2.05px;background:linear-gradient(90deg,#4903a0 0.0px,#48039f 26.2px,#3c049b 28.5px,#310597 30.8px,#350498 33.0px,#48039f 36.0px,#4903a0 60.8px)"></i><i style="top:61.0px;height:1.05px;background:linear-gradient(90deg,#4903a0 0.0px,#48039f 26.2px,#3c049b 28.5px,#310597 30.8px,#350498 33.0px,#44039e 35.2px,#4903a0 38.2px,#4903a0 60.8px)"></i><i style="top:62.0px;height:1.05px;background:linear-gradient(90deg,#4b03a1 0.0px,#4903a0 25.5px,#43039e 27.8px,#330597 30.0px,#330597 32.2px,#48039f 36.0px,#4b03a1 45.0px,#4b03a1 60.8px)"></i><i style="top:63.0px;height:1.05px;background:linear-gradient(90deg,#4b03a1 0.0px,#4903a0 26.2px,#3e049c 28.5px,#330597 30.0px,#330597 32.2px,#4903a0 36.0px,#4b03a1 60.8px)"></i><i style="top:64.0px;height:1.05px;background:linear-gradient(90deg,#4c02a1 0.0px,#4b03a1 25.5px,#43039e 27.8px,#330597 30.8px,#370499 33.0px,#46039f 35.2px,#4c02a1 39.0px,#4c02a1 60.8px)"></i><i style="top:65.0px;height:1.05px;background:linear-gradient(90deg,#4c02a1 0.0px,#4b03a1 26.2px,#3e049c 28.5px,#350498 30.0px,#38049a 33.0px,#4b03a1 36.0px,#4c02a1 60.8px)"></i><i style="top:66.0px;height:1.05px;background:linear-gradient(90deg,#4e02a2 0.0px,#4c02a1 26.2px,#3f049c 28.5px,#370499 30.0px,#38049a 33.0px,#4903a0 35.2px,#4e02a2 39.8px,#4e02a2 60.8px)"></i><i style="top:67.0px;height:1.05px;background:linear-gradient(90deg,#5002a2 0.0px,#4e02a2 25.5px,#46039f 27.8px,#3a049a 29.2px,#3a049a 33.0px,#4c02a1 36.0px,#5002a2 58.5px,#5002a2 60.8px)"></i><i style="top:68.0px;height:1.05px;background:linear-gradient(90deg,#5002a2 0.0px,#4e02a2 26.2px,#48039f 27.8px,#3c049b 29.2px,#3a049a 30.0px,#41049d 31.5px,#3c049b 33.0px,#4e02a2 36.0px,#5002a2 60.8px)"></i><i style="top:69.0px;height:1.05px;background:linear-gradient(90deg,#5102a3 0.0px,#5002a2 26.2px,#43039e 28.5px,#3c049b 29.2px,#3c049b 30.0px,#46039f 31.5px,#3e049c 33.0px,#5002a2 36.0px,#5102a3 60.8px)"></i><i style="top:70.0px;height:1.05px;background:linear-gradient(90deg,#5302a3 0.0px,#5102a3 26.2px,#3e049c 29.2px,#3f049c 30.0px,#48039f 30.8px,#4b03a1 31.5px,#3f049c 33.0px,#5002a2 36.0px,#5302a3 45.8px,#5302a3 60.8px)"></i><i style="top:71.0px;height:1.05px;background:linear-gradient(90deg,#5502a4 0.0px,#5302a3 25.5px,#4b03a1 27.8px,#3f049c 29.2px,#41049d 30.0px,#4b03a1 30.8px,#5002a2 31.5px,#41049d 33.0px,#5302a3 36.8px,#5502a4 60.8px)"></i><i style="top:72.0px;height:1.05px;background:linear-gradient(90deg,#5502a4 0.0px,#5302a3 26.2px,#4c02a1 27.8px,#41049d 29.2px,#43039e 30.0px,#4e02a2 30.8px,#5302a3 31.5px,#43039e 33.0px,#4b03a1 34.5px,#5502a4 36.8px,#5502a4 60.8px)"></i><i style="top:73.0px;height:1.05px;background:linear-gradient(90deg,#5601a4 0.0px,#5502a4 26.2px,#4e02a2 27.8px,#41049d 29.2px,#44039e 30.0px,#5002a2 30.8px,#5601a4 31.5px,#44039e 33.0px,#4c02a1 34.5px,#5502a4 36.0px,#5601a4 60.8px)"></i><i style="top:74.0px;height:1.05px;background:linear-gradient(90deg,#5801a4 0.0px,#5601a4 26.2px,#4903a0 28.5px,#43039e 29.2px,#46039f 30.0px,#5102a3 30.8px,#5601a4 31.5px,#44039e 33.0px,#5502a4 36.0px,#5801a4 49.5px,#5801a4 60.8px)"></i><i style="top:75.0px;height:1.05px;background:linear-gradient(90deg,#5801a4 0.0px,#5601a4 26.2px,#5102a3 27.8px,#44039e 29.2px,#46039f 30.0px,#5502a4 31.5px,#46039f 33.0px,#5601a4 36.0px,#5801a4 60.8px)"></i><i style="top:76.0px;height:1.05px;background:linear-gradient(90deg,#5901a5 0.0px,#5801a4 26.2px,#5102a3 27.8px,#44039e 29.2px,#46039f 30.0px,#5102a3 31.5px,#46039f 33.0px,#5801a4 36.0px,#5901a5 60.8px)"></i><i style="top:77.0px;height:1.05px;background:linear-gradient(90deg,#5901a5 0.0px,#5801a4 26.2px,#5302a3 27.8px,#46039f 29.2px,#44039e 30.0px,#4e02a2 31.5px,#46039f 33.0px,#5601a4 35.2px,#5901a5 42.0px,#5901a5 60.8px)"></i><i style="top:78.0px;height:1.05px;background:linear-gradient(90deg,#5b01a5 0.0px,#5901a5 26.2px,#5502a4 27.8px,#44039e 30.0px,#4903a0 31.5px,#48039f 33.0px,#5901a5 36.0px,#5b01a5 60.8px)"></i><i style="top:79.0px;height:1.05px;background:linear-gradient(90deg,#5b01a5 0.0px,#5901a5 26.2px,#5002a2 28.5px,#44039e 30.0px,#48039f 33.0px,#5801a4 35.2px,#5b01a5 42.0px,#5b01a5 60.8px)"></i><i style="top:80.0px;height:1.05px;background:linear-gradient(90deg,#5b01a5 0.0px,#5901a5 27.0px,#5102a3 28.5px,#43039e 30.0px,#44039e 32.2px,#5901a5 35.2px,#5b01a5 60.8px)"></i><i style="top:81.0px;height:1.05px;background:linear-gradient(90deg,#5c01a6 0.0px,#5b01a5 26.2px,#5801a4 27.8px,#43039e 30.0px,#3f049c 31.5px,#5901a5 35.2px,#5c01a6 45.8px,#5c01a6 60.8px)"></i><i style="top:82.0px;height:1.05px;background:linear-gradient(90deg,#5c01a6 0.0px,#5b01a5 27.0px,#4c02a1 29.2px,#3f049c 30.8px,#3e049c 31.5px,#5801a4 34.5px,#5c01a6 39.0px,#5c01a6 60.8px)"></i><i style="top:83.0px;height:1.05px;background:linear-gradient(90deg,#5c01a6 0.0px,#5b01a5 27.0px,#5502a4 28.5px,#3e049c 30.8px,#3e049c 31.5px,#5801a4 34.5px,#5c01a6 37.5px,#5c01a6 60.8px)"></i><i style="top:84.0px;height:1.05px;background:linear-gradient(90deg,#5c01a6 0.0px,#5b01a5 27.0px,#5502a4 28.5px,#3e049c 30.8px,#3e049c 31.5px,#5901a5 34.5px,#5c01a6 41.2px,#5c01a6 60.8px)"></i><i style="top:85.0px;height:1.05px;background:linear-gradient(90deg,#5e01a6 0.0px,#5c01a6 27.0px,#5002a2 29.2px,#3f049c 30.8px,#3e049c 31.5px,#5502a4 33.8px,#5c01a6 36.0px,#5e01a6 60.8px)"></i><i style="top:86.0px;height:1.05px;background:linear-gradient(90deg,#5e01a6 0.0px,#5c01a6 27.0px,#5801a4 28.5px,#3f049c 30.8px,#3e049c 31.5px,#5601a4 33.8px,#5c01a6 36.0px,#5e01a6 60.8px)"></i><i style="top:87.0px;height:1.05px;background:linear-gradient(90deg,#5e01a6 0.0px,#5c01a6 27.0px,#5302a3 29.2px,#41049d 30.8px,#3f049c 31.5px,#5601a4 33.8px,#5c01a6 35.2px,#5e01a6 60.8px)"></i><i style="top:88.0px;height:1.05px;background:linear-gradient(90deg,#5e01a6 0.0px,#5c01a6 27.0px,#5901a5 28.5px,#43039e 30.8px,#41049d 31.5px,#5801a4 33.8px,#5e01a6 37.5px,#5e01a6 60.8px)"></i><i style="top:89.0px;height:1.05px;background:linear-gradient(90deg,#5e01a6 0.0px,#5c01a6 27.8px,#4e02a2 30.0px,#44039e 30.8px,#43039e 31.5px,#5901a5 33.8px,#5e01a6 38.2px,#5e01a6 60.8px)"></i><i style="top:90.0px;height:1.05px;background:linear-gradient(90deg,#5e01a6 0.0px,#5c01a6 27.8px,#5601a4 29.2px,#46039f 30.8px,#44039e 31.5px,#5901a5 33.8px,#5e01a6 38.2px,#5e01a6 60.8px)"></i><i style="top:91.0px;height:1.05px;background:linear-gradient(90deg,#5e01a6 0.0px,#5c01a6 27.8px,#5801a4 29.2px,#48039f 30.8px,#46039f 31.5px,#5601a4 33.0px,#5e01a6 36.0px,#5e01a6 60.8px)"></i><i style="top:92.0px;height:1.05px;background:linear-gradient(90deg,#5e01a6 0.0px,#5c01a6 27.8px,#5801a4 29.2px,#4903a0 30.8px,#48039f 31.5px,#5b01a5 33.8px,#5e01a6 40.5px,#5e01a6 60.8px)"></i><i style="top:93.0px;height:1.05px;background:linear-gradient(90deg,#5e01a6 0.0px,#5c01a6 28.5px,#5302a3 30.0px,#4b03a1 30.8px,#5302a3 32.2px,#5e01a6 35.2px,#5e01a6 60.8px)"></i><i style="top:94.0px;height:1.05px;background:linear-gradient(90deg,#5e01a6 0.0px,#5c01a6 28.5px,#5102a3 30.8px,#6001a6 32.2px,#5b01a5 33.8px,#5e01a6 40.5px,#5e01a6 60.8px)"></i><i style="top:95.0px;height:1.05px;background:linear-gradient(90deg,#5e01a6 0.0px,#6001a6 30.0px,#7701a8 31.5px,#7501a8 32.2px,#6600a7 33.0px,#5e01a6 34.5px,#5e01a6 60.8px)"></i><i style="top:96.0px;height:1.05px;background:linear-gradient(90deg,#5e01a6 0.0px,#5e01a6 29.2px,#6300a7 30.0px,#8104a7 31.5px,#7e03a8 32.2px,#6100a7 33.8px,#5e01a6 36.8px,#5e01a6 60.8px)"></i><i style="top:97.0px;height:1.05px;background:linear-gradient(90deg,#5e01a6 0.0px,#5e01a6 28.5px,#6900a8 30.0px,#7a02a8 30.8px,#8a09a5 31.5px,#8808a6 32.2px,#7501a8 33.0px,#6600a7 33.8px,#5e01a6 35.2px,#5e01a6 60.8px)"></i><i style="top:98.0px;height:1.05px;background:linear-gradient(90deg,#5e01a6 0.0px,#6001a6 28.5px,#6300a7 29.2px,#6f00a8 30.0px,#8305a7 30.8px,#920fa3 31.5px,#910ea3 32.2px,#7e03a8 33.0px,#6c00a8 33.8px,#6100a7 34.5px,#5e01a6 37.5px,#5e01a6 60.8px)"></i><i style="top:99.0px;height:1.05px;background:linear-gradient(90deg,#5e01a6 0.0px,#6001a6 28.5px,#6600a7 29.2px,#7501a8 30.0px,#8b0aa5 30.8px,#9a169f 31.5px,#99159f 32.2px,#8707a6 33.0px,#7201a8 33.8px,#6400a7 34.5px,#5e01a6 36.0px,#5e01a6 60.8px)"></i><i style="top:100.0px;height:1.05px;background:linear-gradient(90deg,#5e01a6 0.0px,#6001a6 27.8px,#6100a7 28.5px,#6a00a8 29.2px,#7d03a8 30.0px,#9410a2 30.8px,#a21d9a 31.5px,#a11b9b 32.2px,#7801a8 33.8px,#6700a8 34.5px,#5e01a6 36.0px,#5e01a6 60.8px)"></i><i style="top:101.0px;height:1.05px;background:linear-gradient(90deg,#5e01a6 0.0px,#6001a6 27.8px,#6400a7 28.5px,#6f00a8 29.2px,#8405a7 30.0px,#9a169f 30.8px,#aa2395 31.5px,#a72197 32.2px,#9613a1 33.0px,#7e03a8 33.8px,#6c00a8 34.5px,#6300a7 35.2px,#5e01a6 38.2px,#5e01a6 60.8px)"></i><i style="top:102.0px;height:1.05px;background:linear-gradient(90deg,#5e01a6 0.0px,#5e01a6 27.0px,#6700a8 28.5px,#7501a8 29.2px,#8b0aa5 30.0px,#a21d9a 30.8px,#b12a90 31.5px,#ae2892 32.2px,#9e199d 33.0px,#8606a6 33.8px,#7100a8 34.5px,#6400a7 35.2px,#5e01a6 36.8px,#5e01a6 60.8px)"></i><i style="top:103.0px;height:1.05px;background:linear-gradient(90deg,#5e01a6 0.0px,#6001a6 27.0px,#6a00a8 28.5px,#7a02a8 29.2px,#920fa3 30.0px,#aa2395 30.8px,#b6308b 31.5px,#b52f8c 32.2px,#a51f99 33.0px,#8d0ba5 33.8px,#7701a8 34.5px,#6700a8 35.2px,#6001a6 36.8px,#5e01a6 60.8px)"></i><i style="top:104.0px;height:1.05px;background:linear-gradient(90deg,#5e01a6 0.0px,#6001a6 27.0px,#6e00a8 28.5px,#8004a8 29.2px,#99159f 30.0px,#b12a90 30.8px,#bd3786 31.5px,#bc3587 32.2px,#ac2694 33.0px,#9410a2 33.8px,#7b02a8 34.5px,#6a00a8 35.2px,#6001a6 36.8px,#5e01a6 60.8px)"></i><i style="top:105.0px;height:1.05px;background:linear-gradient(90deg,#5e01a6 0.0px,#5e01a6 26.2px,#6600a7 27.8px,#7201a8 28.5px,#8606a6 29.2px,#a01a9c 30.0px,#b6308b 30.8px,#c33d80 31.5px,#c13b82 32.2px,#b22b8f 33.0px,#9a169f 33.8px,#8104a7 34.5px,#6f00a8 35.2px,#6400a7 36.0px,#5e01a6 37.5px,#5e01a6 60.8px)"></i><i style="top:106.0px;height:1.05px;background:linear-gradient(90deg,#5e01a6 0.0px,#6001a6 26.2px,#6100a7 27.0px,#6900a8 27.8px,#7701a8 28.5px,#8d0ba5 29.2px,#a62098 30.0px,#bd3786 30.8px,#c8437b 31.5px,#c7427c 32.2px,#b83289 33.0px,#a11b9b 33.8px,#8707a6 34.5px,#7201a8 35.2px,#6100a7 36.8px,#5e01a6 43.5px,#5e01a6 60.8px)"></i><i style="top:107.0px;height:1.05px;background:linear-gradient(90deg,#5e01a6 0.0px,#6001a6 26.2px,#6300a7 27.0px,#6c00a8 27.8px,#7b02a8 28.5px,#920fa3 29.2px,#ad2793 30.0px,#c23c81 30.8px,#cd4a76 31.5px,#cc4778 32.2px,#be3885 33.0px,#8d0ba5 34.5px,#7701a8 35.2px,#6900a8 36.0px,#6001a6 37.5px,#5e01a6 60.8px)"></i><i style="top:108.0px;height:1.05px;background:linear-gradient(90deg,#5e01a6 0.0px,#6001a6 25.5px,#6400a7 27.0px,#6f00a8 27.8px,#8004a8 28.5px,#9814a0 29.2px,#b32c8e 30.0px,#c8437b 30.8px,#d24f71 31.5px,#d14e72 32.2px,#c43e7f 33.0px,#920fa3 34.5px,#7b02a8 35.2px,#6c00a8 36.0px,#6001a6 37.5px,#5e01a6 60.8px)"></i><i style="top:109.0px;height:1.05px;background:linear-gradient(90deg,#5e01a6 0.0px,#6001a6 25.5px,#6700a8 27.0px,#7201a8 27.8px,#8405a7 28.5px,#9e199d 29.2px,#b83289 30.0px,#cc4977 30.8px,#d7566c 31.5px,#d5546e 32.2px,#c9447a 33.0px,#99159f 34.5px,#8004a8 35.2px,#6f00a8 36.0px,#6100a7 37.5px,#5e01a6 44.2px,#5e01a6 60.8px)"></i><i style="top:110.0px;height:1.05px;background:linear-gradient(90deg,#5e01a6 0.0px,#6001a6 25.5px,#6900a8 27.0px,#7501a8 27.8px,#8a09a5 28.5px,#a51f99 29.2px,#d24f71 30.8px,#db5c68 31.5px,#da5b69 32.2px,#ce4b75 33.0px,#9e199d 34.5px,#8606a6 35.2px,#7201a8 36.0px,#6100a7 37.5px,#5e01a6 44.2px,#5e01a6 60.8px)"></i><i style="top:111.0px;height:1.05px;background:linear-gradient(90deg,#5e01a6 0.0px,#6001a6 25.5px,#6a00a8 27.0px,#7a02a8 27.8px,#8f0da4 28.5px,#aa2395 29.2px,#c33d80 30.0px,#d6556d 30.8px,#df6263 31.5px,#de6164 32.2px,#d35171 33.0px,#bf3984 33.8px,#a51f99 34.5px,#8a09a5 35.2px,#7501a8 36.0px,#6900a8 36.8px,#6001a6 38.2px,#5e01a6 60.8px)"></i><i style="top:112.0px;height:1.05px;background:linear-gradient(90deg,#5e01a6 0.0px,#6001a6 24.8px,#6400a7 26.2px,#6e00a8 27.0px,#7d03a8 27.8px,#9511a1 28.5px,#b02991 29.2px,#c9447a 30.0px,#da5b69 30.8px,#e4695e 31.5px,#e26660 32.2px,#d8576b 33.0px,#c43e7f 33.8px,#aa2395 34.5px,#8f0da4 35.2px,#7a02a8 36.0px,#6c00a8 36.8px,#6001a6 38.2px,#5e01a6 60.8px)"></i><i style="top:113.0px;height:1.05px;background:linear-gradient(90deg,#5e01a6 0.0px,#6001a6 24.8px,#6700a8 26.2px,#7100a8 27.0px,#8104a7 27.8px,#99159f 28.5px,#cd4a76 30.0px,#df6263 30.8px,#e76f5a 31.5px,#e76e5b 32.2px,#dc5d67 33.0px,#c9447a 33.8px,#b02991 34.5px,#9410a2 35.2px,#7d03a8 36.0px,#6e00a8 36.8px,#6100a7 38.2px,#5e01a6 45.0px,#5e01a6 60.8px)"></i><i style="top:114.0px;height:1.05px;background:linear-gradient(90deg,#5e01a6 0.0px,#6001a6 24.8px,#6900a8 26.2px,#7401a8 27.0px,#8606a6 27.8px,#9e199d 28.5px,#d24f71 30.0px,#e3685f 30.8px,#eb7556 31.5px,#ea7457 32.2px,#e06363 33.0px,#cd4a76 33.8px,#99159f 35.2px,#8104a7 36.0px,#7100a8 36.8px,#6100a7 38.2px,#5e01a6 45.0px,#5e01a6 60.8px)"></i><i style="top:115.0px;height:1.05px;background:linear-gradient(90deg,#5e01a6 0.0px,#6001a6 24.8px,#6a00a8 26.2px,#7701a8 27.0px,#8a09a5 27.8px,#a21d9a 28.5px,#d5536f 30.0px,#e56b5d 30.8px,#ed7953 31.5px,#ec7754 32.2px,#e26660 33.0px,#d04d73 33.8px,#9d189d 35.2px,#8405a7 36.0px,#7401a8 36.8px,#6300a7 38.2px,#5e01a6 41.2px,#5e01a6 60.8px)"></i><i style="top:116.0px;height:1.05px;background:linear-gradient(90deg,#5e01a6 0.0px,#6001a6 24.0px,#6400a7 25.5px,#7801a8 27.0px,#8d0ba5 27.8px,#a51f99 28.5px,#d6556d 30.0px,#e56b5d 30.8px,#ed7953 31.5px,#ec7754 32.2px,#e3685f 33.0px,#d24f71 33.8px,#a01a9c 35.2px,#8707a6 36.0px,#7501a8 36.8px,#6900a8 37.5px,#6001a6 39.0px,#5e01a6 60.8px)"></i><i style="top:117.0px;height:2.35px;background:linear-gradient(90deg,#5e01a6 0.0px,#6001a6 24.0px,#6400a7 25.5px,#7a02a8 27.0px,#8e0ca4 27.8px,#a72197 28.5px,#d6556d 30.0px,#e66c5c 30.8px,#ed7953 31.5px,#ec7754 32.2px,#e3685f 33.0px,#d35171 33.8px,#a21d9a 35.2px,#8a09a5 36.0px,#7701a8 36.8px,#6a00a8 37.5px,#6100a7 39.0px,#5e01a6 45.8px,#5e01a6 60.8px)"></i></b></div>
<div class="p" style="left:287.79px;top:132.60px"><b><i style="top:0.0px;height:2.05px;background:linear-gradient(90deg,#6300a7 0.0px,#6400a7 21.8px,#7201a8 23.2px,#8305a7 24.0px,#9a169f 24.8px,#b6308b 25.5px,#e97158 27.0px,#f79342 27.8px,#fdb130 28.5px,#fdc627 29.2px,#fcd225 30.0px,#fbd724 31.5px,#fbd724 32.2px,#fcd025 33.0px,#fdc328 33.8px,#fdae32 34.5px,#f68f44 35.2px,#e66c5c 36.0px,#cf4c74 36.8px,#b32c8e 37.5px,#9613a1 38.2px,#8004a8 39.0px,#7100a8 39.8px,#6700a8 40.5px,#6300a7 43.5px,#6300a7 60.8px)"></i><i style="top:2.0px;height:1.05px;background:linear-gradient(90deg,#6300a7 0.0px,#6400a7 21.8px,#6700a8 22.5px,#7100a8 23.2px,#8004a8 24.0px,#9814a0 24.8px,#b42e8d 25.5px,#e76f5a 27.0px,#f79143 27.8px,#fdaf31 28.5px,#fdc527 29.2px,#fcd225 30.0px,#fbd724 31.5px,#fcd025 33.0px,#fdc328 33.8px,#fdac33 34.5px,#f68d45 35.2px,#e56b5d 36.0px,#b12a90 37.5px,#9511a1 38.2px,#7e03a8 39.0px,#6f00a8 39.8px,#6400a7 41.2px,#6300a7 60.8px)"></i><i style="top:3.0px;height:1.05px;background:linear-gradient(90deg,#6300a7 0.0px,#6400a7 21.8px,#6e00a8 23.2px,#7d03a8 24.0px,#9410a2 24.8px,#b02991 25.5px,#e56b5d 27.0px,#f68f44 27.8px,#fdae32 28.5px,#fdc527 29.2px,#fcd225 30.0px,#fbd724 31.5px,#fcd025 33.0px,#fdc229 33.8px,#fca934 34.5px,#f48948 35.2px,#e26660 36.0px,#ac2694 37.5px,#8f0da4 38.2px,#7a02a8 39.0px,#6c00a8 39.8px,#6300a7 41.2px,#6300a7 60.8px)"></i><i style="top:4.0px;height:1.05px;background:linear-gradient(90deg,#6300a7 0.0px,#6300a7 21.8px,#6c00a8 23.2px,#7801a8 24.0px,#8e0ca4 24.8px,#ab2494 25.5px,#e26660 27.0px,#f58b47 27.8px,#fdab33 28.5px,#fdc328 29.2px,#fcd025 30.0px,#fbd724 30.8px,#fbd524 32.2px,#fcd025 33.0px,#fec029 33.8px,#fca835 34.5px,#f3874a 35.2px,#e06363 36.0px,#a72197 37.5px,#8b0aa5 38.2px,#7701a8 39.0px,#6a00a8 39.8px,#6300a7 41.2px,#6300a7 60.8px)"></i><i style="top:5.0px;height:1.05px;background:linear-gradient(90deg,#6300a7 0.0px,#6400a7 22.5px,#7501a8 24.0px,#8a09a5 24.8px,#a62098 25.5px,#e06363 27.0px,#f3874a 27.8px,#fca934 28.5px,#fdc229 29.2px,#fcd025 30.0px,#fbd724 30.8px,#fbd524 32.2px,#fcce25 33.0px,#febe2a 33.8px,#fca537 34.5px,#f1834c 35.2px,#dd5e66 36.0px,#a21d9a 37.5px,#8707a6 38.2px,#7401a8 39.0px,#6900a8 39.8px,#6300a7 41.2px,#6300a7 60.8px)"></i><i style="top:6.0px;height:1.05px;background:linear-gradient(90deg,#6300a7 0.0px,#6400a7 22.5px,#6700a8 23.2px,#7201a8 24.0px,#8405a7 24.8px,#a11b9b 25.5px,#dc5d67 27.0px,#f1834c 27.8px,#fca636 28.5px,#fec029 29.2px,#fcd025 30.0px,#fbd724 30.8px,#fbd524 32.2px,#fcce25 33.0px,#febe2a 33.8px,#fba238 34.5px,#ef7e50 35.2px,#d9586a 36.0px,#bc3587 36.8px,#9d189d 37.5px,#8104a7 38.2px,#7100a8 39.0px,#6700a8 39.8px,#6300a7 42.8px,#6300a7 60.8px)"></i><i style="top:7.0px;height:1.05px;background:linear-gradient(90deg,#6300a7 0.0px,#6300a7 22.5px,#6f00a8 24.0px,#8004a8 24.8px,#9a169f 25.5px,#bb3488 26.2px,#d9586a 27.0px,#f07f4f 27.8px,#fca338 28.5px,#febe2a 29.2px,#fcd025 30.0px,#fbd724 30.8px,#fbd524 32.2px,#fcce25 33.0px,#febb2b 33.8px,#fb9f3a 34.5px,#ed7a52 35.2px,#d5546e 36.0px,#b6308b 36.8px,#9613a1 37.5px,#7d03a8 38.2px,#6e00a8 39.0px,#6300a7 40.5px,#6300a7 60.8px)"></i><i style="top:8.0px;height:1.05px;background:linear-gradient(90deg,#6300a7 0.0px,#6300a7 22.5px,#6c00a8 24.0px,#7b02a8 24.8px,#9511a1 25.5px,#b52f8c 26.2px,#d5536f 27.0px,#ed7a52 27.8px,#fb9f3a 28.5px,#febd2a 29.2px,#fcce25 30.0px,#fbd724 31.5px,#fbd524 32.2px,#fccd25 33.0px,#feba2c 33.8px,#fa9b3d 34.5px,#eb7556 35.2px,#d14e72 36.0px,#b12a90 36.8px,#910ea3 37.5px,#7801a8 38.2px,#6a00a8 39.0px,#6300a7 40.5px,#6300a7 60.8px)"></i><i style="top:9.0px;height:1.05px;background:linear-gradient(90deg,#6300a7 0.0px,#6400a7 23.2px,#6a00a8 24.0px,#7701a8 24.8px,#8f0da4 25.5px,#b02991 26.2px,#d04d73 27.0px,#eb7556 27.8px,#fa9c3c 28.5px,#febb2b 29.2px,#fcce25 30.0px,#fbd724 31.5px,#fbd524 32.2px,#fccd25 33.0px,#feb82c 33.8px,#f9973f 34.5px,#e87059 35.2px,#cc4977 36.0px,#ab2494 36.8px,#8b0aa5 37.5px,#7501a8 38.2px,#6900a8 39.0px,#6300a7 40.5px,#6300a7 60.8px)"></i><i style="top:10.0px;height:1.05px;background:linear-gradient(90deg,#6300a7 0.0px,#6400a7 23.2px,#6700a8 24.0px,#7401a8 24.8px,#8808a6 25.5px,#aa2395 26.2px,#cc4778 27.0px,#e87059 27.8px,#f9983e 28.5px,#feba2c 29.2px,#fcce25 30.0px,#fbd724 31.5px,#fbd524 32.2px,#fdcb26 33.0px,#fdb52e 33.8px,#f89441 34.5px,#e56a5d 35.2px,#c7427c 36.0px,#a51f99 36.8px,#8606a6 37.5px,#7100a8 38.2px,#6300a7 39.8px,#6300a7 60.8px)"></i><i style="top:11.0px;height:1.05px;background:linear-gradient(90deg,#6300a7 0.0px,#6300a7 23.2px,#6600a7 24.0px,#6f00a8 24.8px,#8104a7 25.5px,#a01a9c 26.2px,#c33d80 27.0px,#e26561 27.8px,#f58c46 28.5px,#fdae32 29.2px,#fdc229 30.0px,#fdca26 30.8px,#fdca26 32.2px,#fec029 33.0px,#fca934 33.8px,#f48849 34.5px,#de5f65 35.2px,#9c179e 36.8px,#7e03a8 37.5px,#6e00a8 38.2px,#6300a7 39.8px,#6300a7 60.8px)"></i><i style="top:12.0px;height:1.05px;background:linear-gradient(90deg,#6300a7 0.0px,#6400a7 24.0px,#6c00a8 24.8px,#7b02a8 25.5px,#9613a1 26.2px,#ba3388 27.0px,#da5a6a 27.8px,#f0804e 28.5px,#fba139 29.2px,#fdb42f 30.0px,#febd2a 30.8px,#febb2b 32.2px,#fdb22f 33.0px,#fa9c3c 33.8px,#ee7b51 34.5px,#d6556d 35.2px,#b52f8c 36.0px,#920fa3 36.8px,#7801a8 37.5px,#6a00a8 38.2px,#6300a7 39.8px,#6300a7 60.8px)"></i><i style="top:13.0px;height:1.05px;background:linear-gradient(90deg,#6300a7 0.0px,#6400a7 24.0px,#6900a8 24.8px,#7501a8 25.5px,#8e0ca4 26.2px,#b02991 27.0px,#d14e72 27.8px,#ea7457 28.5px,#f79342 29.2px,#fca835 30.0px,#fdaf31 30.8px,#fdaf31 32.2px,#fca537 33.0px,#f79044 33.8px,#e76f5a 34.5px,#cd4a76 35.2px,#ab2494 36.0px,#8a09a5 36.8px,#7201a8 37.5px,#6700a8 38.2px,#6300a7 39.8px,#6300a7 60.8px)"></i><i style="top:14.0px;height:1.05px;background:linear-gradient(90deg,#6300a7 0.0px,#6300a7 24.0px,#6600a7 24.8px,#7100a8 25.5px,#8606a6 26.2px,#a62098 27.0px,#c8437b 27.8px,#e3685f 28.5px,#f3874a 29.2px,#fa9b3d 30.0px,#fba238 30.8px,#fba238 32.2px,#f9983e 33.0px,#f1834c 33.8px,#e06363 34.5px,#c43e7f 35.2px,#a11b9b 36.0px,#8104a7 36.8px,#6e00a8 37.5px,#6300a7 39.0px,#6300a7 60.8px)"></i><i style="top:15.0px;height:1.05px;background:linear-gradient(90deg,#6300a7 0.0px,#6400a7 24.8px,#6c00a8 25.5px,#7d03a8 26.2px,#9c179e 27.0px,#db5c68 28.5px,#ed7a52 29.2px,#f68f44 30.0px,#f9973f 30.8px,#f89540 32.2px,#f58c46 33.0px,#ec7754 33.8px,#d8576b 34.5px,#9613a1 36.0px,#7a02a8 36.8px,#6a00a8 37.5px,#6300a7 39.0px,#6300a7 60.8px)"></i><i style="top:16.0px;height:1.05px;background:linear-gradient(90deg,#6300a7 0.0px,#6300a7 24.8px,#6900a8 25.5px,#7701a8 26.2px,#910ea3 27.0px,#b42e8d 27.8px,#d35171 28.5px,#e76f5a 29.2px,#f1834c 30.0px,#f58b47 30.8px,#f58b47 32.2px,#f0804e 33.0px,#e56b5d 33.8px,#cf4c74 34.5px,#b02991 35.2px,#8d0ba5 36.0px,#7401a8 36.8px,#6700a8 37.5px,#6300a7 39.0px,#6300a7 60.8px)"></i><i style="top:17.0px;height:1.05px;background:linear-gradient(90deg,#6300a7 0.0px,#6300a7 24.8px,#6600a7 25.5px,#7100a8 26.2px,#8707a6 27.0px,#a82296 27.8px,#ca457a 28.5px,#e06363 29.2px,#ec7754 30.0px,#f07f4f 30.8px,#f07f4f 32.2px,#eb7556 33.0px,#de5f65 33.8px,#c6417d 34.5px,#a51f99 35.2px,#8305a7 36.0px,#6e00a8 36.8px,#6300a7 38.2px,#6300a7 60.8px)"></i><i style="top:18.0px;height:1.05px;background:linear-gradient(90deg,#6300a7 0.0px,#6400a7 25.5px,#6a00a8 26.2px,#7e03a8 27.0px,#9d189d 27.8px,#bf3984 28.5px,#d8576b 29.2px,#e56b5d 30.0px,#ea7457 30.8px,#ea7457 32.2px,#e56a5d 33.0px,#d5546e 33.8px,#bc3587 34.5px,#99159f 35.2px,#7b02a8 36.0px,#6900a8 36.8px,#6300a7 38.2px,#6300a7 60.8px)"></i><i style="top:19.0px;height:1.05px;background:linear-gradient(90deg,#6300a7 0.0px,#6300a7 25.5px,#6700a8 26.2px,#7501a8 27.0px,#920fa3 27.8px,#b42e8d 28.5px,#cf4c74 29.2px,#de6164 30.0px,#e4695e 30.8px,#e4695e 32.2px,#dd5e66 33.0px,#cc4977 33.8px,#b02991 34.5px,#8d0ba5 35.2px,#7201a8 36.0px,#6600a7 36.8px,#6300a7 40.5px,#6300a7 60.8px)"></i><i style="top:20.0px;height:1.05px;background:linear-gradient(90deg,#6300a7 0.0px,#6400a7 26.2px,#6f00a8 27.0px,#8606a6 27.8px,#a82296 28.5px,#c6417d 29.2px,#d6556d 30.0px,#dd5e66 30.8px,#dd5e66 32.2px,#d5546e 33.0px,#c33d80 33.8px,#a31e9a 34.5px,#8305a7 35.2px,#6c00a8 36.0px,#6400a7 36.8px,#6300a7 60.8px)"></i><i style="top:21.0px;height:1.05px;background:linear-gradient(90deg,#6300a7 0.0px,#6300a7 26.2px,#6900a8 27.0px,#7b02a8 27.8px,#9c179e 28.5px,#bb3488 29.2px,#ce4b75 30.0px,#d5546e 30.8px,#d5546e 32.2px,#cc4977 33.0px,#b7318a 33.8px,#9613a1 34.5px,#7801a8 35.2px,#6700a8 36.0px,#6300a7 37.5px,#6300a7 60.8px)"></i><i style="top:22.0px;height:1.05px;background:linear-gradient(90deg,#6300a7 0.0px,#6300a7 26.2px,#6600a7 27.0px,#7201a8 27.8px,#8e0ca4 28.5px,#b02991 29.2px,#c5407e 30.0px,#cd4a76 30.8px,#cc4977 32.2px,#c33d80 33.0px,#ab2494 33.8px,#8a09a5 34.5px,#6f00a8 35.2px,#6400a7 36.0px,#6300a7 60.8px)"></i><i style="top:23.0px;height:1.05px;background:linear-gradient(90deg,#6300a7 0.0px,#6300a7 27.0px,#6a00a8 27.8px,#8104a7 28.5px,#a21d9a 29.2px,#bb3488 30.0px,#c43e7f 30.8px,#c43e7f 32.2px,#b83289 33.0px,#9e199d 33.8px,#7e03a8 34.5px,#6900a8 35.2px,#6300a7 36.0px,#6300a7 60.8px)"></i><i style="top:24.0px;height:1.05px;background:linear-gradient(90deg,#6300a7 0.0px,#6300a7 27.0px,#6600a7 27.8px,#7501a8 28.5px,#9410a2 29.2px,#ae2892 30.0px,#bb3488 30.8px,#ba3388 32.2px,#ac2694 33.0px,#8f0da4 33.8px,#7201a8 34.5px,#6400a7 35.2px,#6300a7 60.8px)"></i><i style="top:25.0px;height:1.05px;background:linear-gradient(90deg,#6300a7 0.0px,#6300a7 27.8px,#6900a8 28.5px,#8004a8 29.2px,#99159f 30.0px,#a11b9b 30.8px,#a51f99 32.2px,#99159f 33.0px,#7e03a8 33.8px,#6900a8 34.5px,#6100a7 36.0px,#6300a7 60.8px)"></i><i style="top:26.0px;height:1.05px;background:linear-gradient(90deg,#6300a7 0.0px,#6300a7 28.5px,#6f00a8 29.2px,#8707a6 30.0px,#910ea3 30.8px,#9511a1 32.2px,#8808a6 33.0px,#6f00a8 33.8px,#6300a7 34.5px,#6300a7 60.8px)"></i><i style="top:27.0px;height:1.05px;background:linear-gradient(90deg,#6100a7 0.0px,#6001a6 27.8px,#6100a7 29.2px,#7e03a8 30.8px,#8405a7 32.2px,#6300a7 33.8px,#6100a7 35.2px,#6100a7 60.8px)"></i><i style="top:28.0px;height:1.05px;background:linear-gradient(90deg,#6100a7 0.0px,#6001a6 27.8px,#5801a4 29.2px,#5e01a6 30.0px,#6a00a8 30.8px,#6f00a8 32.2px,#6100a7 33.0px,#5c01a6 33.8px,#6100a7 36.8px,#6100a7 60.8px)"></i><i style="top:29.0px;height:1.05px;background:linear-gradient(90deg,#6100a7 0.0px,#6001a6 27.8px,#4c02a1 30.0px,#5901a5 31.5px,#5901a5 32.2px,#5302a3 33.0px,#5e01a6 34.5px,#6100a7 41.2px,#6100a7 60.8px)"></i><i style="top:30.0px;height:1.05px;background:linear-gradient(90deg,#6100a7 0.0px,#6001a6 27.0px,#5901a5 28.5px,#3e049c 30.8px,#44039e 31.5px,#44039e 32.2px,#5801a4 33.8px,#6100a7 36.0px,#6100a7 60.8px)"></i><i style="top:31.0px;height:1.05px;background:linear-gradient(90deg,#6100a7 0.0px,#6001a6 27.0px,#5801a4 28.5px,#3c049b 30.8px,#3a049a 31.5px,#5b01a5 34.5px,#6100a7 36.0px,#6100a7 60.8px)"></i><i style="top:32.0px;height:1.05px;background:linear-gradient(90deg,#6100a7 0.0px,#6001a6 26.2px,#5b01a5 27.8px,#3a049a 30.8px,#38049a 31.5px,#5901a5 34.5px,#6100a7 36.8px,#6100a7 60.8px)"></i><i style="top:33.0px;height:1.05px;background:linear-gradient(90deg,#6100a7 0.0px,#6001a6 26.2px,#5901a5 27.8px,#38049a 30.8px,#370499 31.5px,#46039f 33.0px,#5801a4 34.5px,#6100a7 36.8px,#6100a7 60.8px)"></i><i style="top:34.0px;height:1.05px;background:linear-gradient(90deg,#6100a7 0.0px,#6001a6 26.2px,#5801a4 27.8px,#3c049b 30.0px,#370499 30.8px,#3a049a 32.2px,#5c01a6 35.2px,#6100a7 39.8px,#6100a7 60.8px)"></i><i style="top:35.0px;height:1.05px;background:linear-gradient(90deg,#6100a7 0.0px,#6001a6 25.5px,#5601a4 27.8px,#3a049a 30.0px,#370499 31.5px,#41049d 33.0px,#5b01a5 35.2px,#6100a7 39.0px,#6100a7 60.8px)"></i><i style="top:36.0px;height:1.05px;background:linear-gradient(90deg,#6100a7 0.0px,#6001a6 25.5px,#5901a5 27.0px,#3f049c 29.2px,#370499 31.5px,#3e049c 33.0px,#5901a5 35.2px,#6001a6 37.5px,#6100a7 60.8px)"></i><i style="top:37.0px;height:1.05px;background:linear-gradient(90deg,#6001a6 0.0px,#5e01a6 25.5px,#5801a4 27.0px,#3e049c 29.2px,#38049a 30.0px,#38049a 32.2px,#44039e 33.8px,#5c01a6 36.0px,#6001a6 42.8px,#6001a6 60.8px)"></i><i style="top:38.0px;height:1.05px;background:linear-gradient(90deg,#6001a6 0.0px,#5e01a6 25.5px,#5601a4 27.0px,#3c049b 29.2px,#38049a 30.0px,#3c049b 31.5px,#38049a 32.2px,#3a049a 33.0px,#5b01a5 36.0px,#6001a6 40.5px,#6001a6 60.8px)"></i><i style="top:39.0px;height:1.05px;background:linear-gradient(90deg,#6001a6 0.0px,#5e01a6 24.8px,#5b01a5 26.2px,#3a049a 29.2px,#3f049c 31.5px,#3a049a 32.2px,#3a049a 33.0px,#4903a0 34.5px,#5901a5 36.0px,#6001a6 39.8px,#6001a6 60.8px)"></i><i style="top:40.0px;height:1.05px;background:linear-gradient(90deg,#5e01a6 0.0px,#5c01a6 25.5px,#5302a3 27.0px,#3f049c 28.5px,#3a049a 29.2px,#3a049a 30.0px,#43039e 30.8px,#44039e 31.5px,#38049a 33.0px,#48039f 34.5px,#5801a4 36.0px,#5e01a6 39.0px,#5e01a6 60.8px)"></i><i style="top:41.0px;height:1.05px;background:linear-gradient(90deg,#5e01a6 0.0px,#5c01a6 24.8px,#5801a4 26.2px,#3e049c 28.5px,#38049a 29.2px,#3c049b 30.0px,#48039f 30.8px,#4903a0 31.5px,#38049a 33.0px,#44039e 34.5px,#5601a4 36.0px,#5e01a6 39.0px,#5e01a6 60.8px)"></i><i style="top:42.0px;height:1.05px;background:linear-gradient(90deg,#5c01a6 0.0px,#5b01a5 24.8px,#5601a4 26.2px,#3c049b 28.5px,#38049a 29.2px,#3e049c 30.0px,#4e02a2 30.8px,#5102a3 31.5px,#41049d 32.2px,#38049a 33.0px,#3a049a 33.8px,#5502a4 36.0px,#5c01a6 38.2px,#5c01a6 60.8px)"></i><i style="top:43.0px;height:1.05px;background:linear-gradient(90deg,#5c01a6 0.0px,#5b01a5 24.8px,#4c02a1 27.0px,#3a049a 28.5px,#370499 29.2px,#3f049c 30.0px,#5502a4 30.8px,#5801a4 31.5px,#44039e 32.2px,#38049a 33.0px,#38049a 33.8px,#5801a4 36.8px,#5c01a6 41.2px,#5c01a6 60.8px)"></i><i style="top:44.0px;height:1.05px;background:linear-gradient(90deg,#5b01a5 0.0px,#5901a5 24.8px,#5102a3 26.2px,#38049a 28.5px,#370499 29.2px,#43039e 30.0px,#5901a5 30.8px,#5e01a6 31.5px,#48039f 32.2px,#38049a 33.0px,#38049a 33.8px,#5601a4 36.8px,#5b01a5 39.8px,#5b01a5 60.8px)"></i><i style="top:45.0px;height:1.05px;background:linear-gradient(90deg,#5b01a5 0.0px,#5901a5 24.0px,#5002a2 26.2px,#38049a 28.5px,#370499 29.2px,#44039e 30.0px,#6001a6 30.8px,#6400a7 31.5px,#4b03a1 32.2px,#38049a 33.0px,#370499 33.8px,#5502a4 36.8px,#5b01a5 40.5px,#5b01a5 60.8px)"></i><i style="top:46.0px;height:1.05px;background:linear-gradient(90deg,#5901a5 0.0px,#5801a4 24.0px,#5502a4 25.5px,#370499 28.5px,#370499 29.2px,#44039e 30.0px,#6300a7 30.8px,#6900a8 31.5px,#4c02a1 32.2px,#38049a 33.0px,#370499 33.8px,#5302a3 36.8px,#5901a5 39.8px,#5901a5 60.8px)"></i><i style="top:47.0px;height:1.05px;background:linear-gradient(90deg,#5801a4 0.0px,#5601a4 24.8px,#4c02a1 26.2px,#370499 28.5px,#370499 29.2px,#46039f 30.0px,#6400a7 30.8px,#6a00a8 31.5px,#4e02a2 32.2px,#38049a 33.0px,#350498 33.8px,#41049d 35.2px,#5102a3 36.8px,#5801a4 39.8px,#5801a4 60.8px)"></i><i style="top:48.0px;height:1.05px;background:linear-gradient(90deg,#5801a4 0.0px,#5601a4 24.0px,#5102a3 25.5px,#350498 28.5px,#350498 29.2px,#46039f 30.0px,#6400a7 30.8px,#6a00a8 31.5px,#370499 33.0px,#350498 33.8px,#3f049c 35.2px,#5002a2 36.8px,#5601a4 39.0px,#5801a4 60.8px)"></i><i style="top:49.0px;height:1.05px;background:linear-gradient(90deg,#5601a4 0.0px,#5502a4 24.0px,#5002a2 25.5px,#38049a 27.8px,#350498 29.2px,#44039e 30.0px,#6300a7 30.8px,#6900a8 31.5px,#4c02a1 32.2px,#370499 33.0px,#330597 33.8px,#4e02a2 36.8px,#5601a4 39.8px,#5601a4 60.8px)"></i><i style="top:50.0px;height:1.05px;background:linear-gradient(90deg,#5502a4 0.0px,#5302a3 24.0px,#4e02a2 25.5px,#330597 28.5px,#350498 29.2px,#43039e 30.0px,#6001a6 30.8px,#6400a7 31.5px,#4903a0 32.2px,#370499 33.0px,#330597 33.8px,#44039e 36.0px,#5002a2 37.5px,#5502a4 40.5px,#5502a4 60.8px)"></i><i style="top:51.0px;height:1.05px;background:linear-gradient(90deg,#5302a3 0.0px,#5102a3 24.0px,#4c02a1 25.5px,#370499 27.8px,#330597 29.2px,#41049d 30.0px,#5901a5 30.8px,#5e01a6 31.5px,#350498 33.0px,#330597 33.8px,#3c049b 35.2px,#5002a2 37.5px,#5302a3 43.5px,#5302a3 60.8px)"></i><i style="top:52.0px;height:1.05px;background:linear-gradient(90deg,#5302a3 0.0px,#5102a3 24.0px,#44039e 26.2px,#370499 27.8px,#330597 29.2px,#3e049c 30.0px,#5302a3 30.8px,#5801a4 31.5px,#43039e 32.2px,#350498 33.0px,#310597 33.8px,#3a049a 35.2px,#4e02a2 37.5px,#5302a3 45.0px,#5302a3 60.8px)"></i><i style="top:53.0px;height:1.05px;background:linear-gradient(90deg,#5102a3 0.0px,#5002a2 24.0px,#4903a0 25.5px,#310597 28.5px,#310597 29.2px,#3c049b 30.0px,#4c02a1 30.8px,#5002a2 31.5px,#330597 33.0px,#310597 33.8px,#5002a2 38.2px,#5102a3 60.8px)"></i><i style="top:54.0px;height:1.05px;background:linear-gradient(90deg,#5002a2 0.0px,#4e02a2 24.0px,#43039e 26.2px,#350498 27.8px,#310597 29.2px,#38049a 30.0px,#46039f 30.8px,#4903a0 31.5px,#330597 33.0px,#330597 34.5px,#48039f 36.8px,#5002a2 39.8px,#5002a2 60.8px)"></i><i style="top:55.0px;height:1.05px;background:linear-gradient(90deg,#5002a2 0.0px,#4e02a2 24.0px,#41049d 26.2px,#310597 28.5px,#310597 29.2px,#41049d 30.8px,#43039e 31.5px,#310597 33.0px,#330597 34.5px,#4b03a1 37.5px,#5002a2 42.0px,#5002a2 60.8px)"></i><i style="top:56.0px;height:1.05px;background:linear-gradient(90deg,#4e02a2 0.0px,#4c02a1 24.0px,#41049d 26.2px,#310597 28.5px,#350498 30.0px,#3c049b 30.8px,#3e049c 31.5px,#310597 33.0px,#330597 34.5px,#4903a0 37.5px,#4e02a2 40.5px,#4e02a2 60.8px)"></i><i style="top:57.0px;height:1.05px;background:linear-gradient(90deg,#4e02a2 0.0px,#4c02a1 24.0px,#46039f 25.5px,#350498 27.8px,#2f0596 29.2px,#38049a 30.8px,#38049a 31.5px,#2f0596 33.0px,#38049a 35.2px,#4c02a1 38.2px,#4e02a2 60.8px)"></i><i style="top:58.0px;height:1.05px;background:linear-gradient(90deg,#4e02a2 0.0px,#4c02a1 24.0px,#3f049c 26.2px,#330597 27.8px,#310597 30.0px,#350498 31.5px,#2f0596 33.0px,#370499 35.2px,#4903a0 37.5px,#4e02a2 42.0px,#4e02a2 60.8px)"></i><i style="top:59.0px;height:1.05px;background:linear-gradient(90deg,#4e02a2 0.0px,#4c02a1 24.0px,#3f049c 26.2px,#330597 27.8px,#2f0596 30.0px,#330597 31.5px,#310597 33.8px,#370499 35.2px,#4903a0 37.5px,#4e02a2 42.0px,#4e02a2 60.8px)"></i><i style="top:60.0px;height:1.05px;background:linear-gradient(90deg,#4e02a2 0.0px,#4c02a1 24.0px,#3f049c 26.2px,#330597 27.8px,#2f0596 30.0px,#330597 34.5px,#4903a0 37.5px,#4e02a2 42.0px,#4e02a2 60.8px)"></i><i style="top:61.0px;height:1.05px;background:linear-gradient(90deg,#4e02a2 0.0px,#4c02a1 24.0px,#46039f 25.5px,#330597 27.8px,#2f0596 32.2px,#330597 34.5px,#4c02a1 38.2px,#4e02a2 60.8px)"></i><i style="top:62.0px;height:1.05px;background:linear-gradient(90deg,#4e02a2 0.0px,#4c02a1 24.0px,#41049d 26.2px,#310597 28.5px,#310597 33.8px,#38049a 35.2px,#4c02a1 38.2px,#4e02a2 60.8px)"></i><i style="top:63.0px;height:1.05px;background:linear-gradient(90deg,#5002a2 0.0px,#4e02a2 24.0px,#41049d 26.2px,#310597 28.5px,#310597 33.8px,#38049a 35.2px,#4b03a1 37.5px,#5002a2 43.5px,#5002a2 60.8px)"></i><i style="top:64.0px;height:1.05px;background:linear-gradient(90deg,#5002a2 0.0px,#4e02a2 24.0px,#48039f 25.5px,#310597 28.5px,#310597 33.8px,#38049a 35.2px,#4b03a1 37.5px,#5002a2 40.5px,#5002a2 60.8px)"></i><i style="top:65.0px;height:1.05px;background:linear-gradient(90deg,#5102a3 0.0px,#5002a2 24.0px,#43039e 26.2px,#310597 28.5px,#310597 33.8px,#4c02a1 37.5px,#5102a3 43.5px,#5102a3 60.8px)"></i><i style="top:66.0px;height:1.05px;background:linear-gradient(90deg,#5102a3 0.0px,#5002a2 24.0px,#4b03a1 25.5px,#370499 27.8px,#2f0596 30.0px,#310597 33.8px,#3a049a 35.2px,#4e02a2 37.5px,#5102a3 43.5px,#5102a3 60.8px)"></i><i style="top:67.0px;height:1.05px;background:linear-gradient(90deg,#5302a3 0.0px,#5102a3 24.0px,#46039f 26.2px,#370499 27.8px,#2f0596 30.8px,#310597 33.8px,#43039e 36.0px,#4e02a2 37.5px,#5302a3 40.5px,#5302a3 60.8px)"></i><i style="top:68.0px;height:1.05px;background:linear-gradient(90deg,#5502a4 0.0px,#5302a3 24.0px,#4c02a1 25.5px,#330597 28.5px,#2f0596 32.2px,#370499 34.5px,#5002a2 37.5px,#5502a4 42.0px,#5502a4 60.8px)"></i><i style="top:69.0px;height:1.05px;background:linear-gradient(90deg,#5601a4 0.0px,#5502a4 24.0px,#4e02a2 25.5px,#330597 28.5px,#2f0596 32.2px,#370499 34.5px,#5102a3 37.5px,#5601a4 45.0px,#5601a4 60.8px)"></i><i style="top:70.0px;height:1.05px;background:linear-gradient(90deg,#5601a4 0.0px,#5502a4 24.0px,#5002a2 25.5px,#350498 28.5px,#2f0596 30.8px,#330597 33.8px,#5302a3 37.5px,#5601a4 44.2px,#5601a4 60.8px)"></i><i style="top:71.0px;height:1.05px;background:linear-gradient(90deg,#5801a4 0.0px,#5601a4 24.0px,#4c02a1 26.2px,#350498 28.5px,#2f0596 31.5px,#350498 33.8px,#5502a4 37.5px,#5801a4 44.2px,#5801a4 60.8px)"></i><i style="top:72.0px;height:1.05px;background:linear-gradient(90deg,#5901a5 0.0px,#5801a4 24.0px,#4e02a2 26.2px,#3c049b 27.8px,#310597 30.0px,#310597 33.0px,#3a049a 34.5px,#5102a3 36.8px,#5801a4 38.2px,#5901a5 60.8px)"></i><i style="top:73.0px;height:1.05px;background:linear-gradient(90deg,#5901a5 0.0px,#5801a4 24.8px,#5002a2 26.2px,#370499 28.5px,#2f0596 31.5px,#370499 33.8px,#44039e 35.2px,#5302a3 36.8px,#5901a5 38.2px,#5901a5 60.8px)"></i><i style="top:74.0px;height:1.05px;background:linear-gradient(90deg,#5b01a5 0.0px,#5901a5 24.8px,#5102a3 26.2px,#38049a 28.5px,#310597 30.0px,#330597 33.0px,#3e049c 34.5px,#5002a2 36.0px,#5b01a5 39.0px,#5b01a5 60.8px)"></i><i style="top:75.0px;height:1.05px;background:linear-gradient(90deg,#5c01a6 0.0px,#5b01a5 24.8px,#5302a3 26.2px,#350498 29.2px,#310597 31.5px,#330597 33.0px,#3f049c 34.5px,#5102a3 36.0px,#5b01a5 38.2px,#5c01a6 60.8px)"></i><i style="top:76.0px;height:1.05px;background:linear-gradient(90deg,#5c01a6 0.0px,#5b01a5 24.8px,#5502a4 26.2px,#350498 29.2px,#310597 32.2px,#41049d 34.5px,#5302a3 36.0px,#5c01a6 38.2px,#5c01a6 60.8px)"></i><i style="top:77.0px;height:1.05px;background:linear-gradient(90deg,#5e01a6 0.0px,#5c01a6 24.8px,#5601a4 26.2px,#370499 29.2px,#310597 31.5px,#350498 33.0px,#5502a4 36.0px,#5c01a6 37.5px,#5e01a6 60.8px)"></i><i style="top:78.0px;height:1.05px;background:linear-gradient(90deg,#5e01a6 0.0px,#5c01a6 24.8px,#5801a4 26.2px,#38049a 29.2px,#310597 30.8px,#370499 33.0px,#5601a4 36.0px,#5e01a6 38.2px,#5e01a6 60.8px)"></i><i style="top:79.0px;height:1.05px;background:linear-gradient(90deg,#6001a6 0.0px,#5e01a6 24.8px,#5502a4 27.0px,#3a049a 29.2px,#310597 30.8px,#330597 32.2px,#3f049c 33.8px,#5901a5 36.0px,#6001a6 39.8px,#6001a6 60.8px)"></i><i style="top:80.0px;height:1.05px;background:linear-gradient(90deg,#6001a6 0.0px,#5e01a6 25.5px,#5601a4 27.0px,#350498 30.0px,#310597 31.5px,#41049d 33.8px,#5502a4 35.2px,#6001a6 38.2px,#6001a6 60.8px)"></i><i style="top:81.0px;height:1.05px;background:linear-gradient(90deg,#6001a6 0.0px,#5e01a6 25.5px,#5801a4 27.0px,#370499 30.0px,#330597 31.5px,#3a049a 33.0px,#5601a4 35.2px,#6001a6 37.5px,#6001a6 60.8px)"></i><i style="top:82.0px;height:1.05px;background:linear-gradient(90deg,#6100a7 0.0px,#6001a6 25.5px,#5901a5 27.0px,#38049a 30.0px,#330597 30.8px,#370499 32.2px,#5801a4 35.2px,#6001a6 37.5px,#6100a7 60.8px)"></i><i style="top:83.0px;height:1.05px;background:linear-gradient(90deg,#6100a7 0.0px,#6001a6 25.5px,#5b01a5 27.0px,#4c02a1 28.5px,#3a049a 30.0px,#330597 31.5px,#3f049c 33.0px,#5901a5 35.2px,#6001a6 36.8px,#6100a7 60.8px)"></i><i style="top:84.0px;height:1.05px;background:linear-gradient(90deg,#6100a7 0.0px,#6001a6 26.2px,#5801a4 27.8px,#3c049b 30.0px,#3c049b 30.8px,#41049d 31.5px,#3f049c 32.2px,#43039e 33.0px,#5b01a5 35.2px,#6100a7 38.2px,#6100a7 60.8px)"></i><i style="top:85.0px;height:1.05px;background:linear-gradient(90deg,#6100a7 0.0px,#6001a6 26.2px,#5901a5 27.8px,#48039f 29.2px,#46039f 30.0px,#5002a2 31.5px,#4b03a1 33.0px,#6001a6 36.0px,#6100a7 60.8px)"></i><i style="top:86.0px;height:1.05px;background:linear-gradient(90deg,#6100a7 0.0px,#6001a6 26.2px,#5b01a5 27.8px,#5102a3 29.2px,#6001a6 31.5px,#5b01a5 33.0px,#5801a4 33.8px,#6100a7 36.8px,#6100a7 60.8px)"></i><i style="top:87.0px;height:1.05px;background:linear-gradient(90deg,#6100a7 0.0px,#6001a6 27.0px,#5b01a5 28.5px,#6600a7 30.0px,#6e00a8 31.5px,#6f00a8 32.2px,#6001a6 34.5px,#6100a7 60.8px)"></i><i style="top:88.0px;height:1.05px;background:linear-gradient(90deg,#6100a7 0.0px,#6001a6 27.8px,#6300a7 28.5px,#7501a8 30.0px,#7e03a8 32.2px,#7a02a8 33.0px,#6600a7 34.5px,#6100a7 36.0px,#6100a7 60.8px)"></i><i style="top:89.0px;height:1.05px;background:linear-gradient(90deg,#6100a7 0.0px,#6100a7 27.0px,#6400a7 27.8px,#8405a7 30.0px,#8d0ba5 32.2px,#8808a6 33.0px,#6e00a8 34.5px,#6300a7 36.0px,#6100a7 60.8px)"></i><i style="top:90.0px;height:1.05px;background:linear-gradient(90deg,#6100a7 0.0px,#6300a7 26.2px,#6a00a8 27.8px,#8707a6 29.2px,#920fa3 30.0px,#9511a1 31.5px,#9a169f 32.2px,#9613a1 33.0px,#7801a8 34.5px,#6a00a8 35.2px,#6300a7 36.8px,#6100a7 60.8px)"></i><i style="top:91.0px;height:1.05px;background:linear-gradient(90deg,#6100a7 0.0px,#6300a7 25.5px,#6700a8 27.0px,#7201a8 27.8px,#8305a7 28.5px,#9511a1 29.2px,#a01a9c 30.0px,#a72197 32.2px,#a31e9a 33.0px,#8305a7 34.5px,#7100a8 35.2px,#6300a7 36.8px,#6100a7 60.8px)"></i><i style="top:92.0px;height:1.05px;background:linear-gradient(90deg,#6300a7 0.0px,#6300a7 25.5px,#6c00a8 27.0px,#7a02a8 27.8px,#8e0ca4 28.5px,#a11b9b 29.2px,#ac2694 30.0px,#ad2793 31.5px,#b22b8f 32.2px,#ae2892 33.0px,#a11b9b 33.8px,#8d0ba5 34.5px,#7801a8 35.2px,#6c00a8 36.0px,#6300a7 37.5px,#6300a7 60.8px)"></i><i style="top:93.0px;height:1.05px;background:linear-gradient(90deg,#6300a7 0.0px,#6400a7 25.5px,#7201a8 27.0px,#8305a7 27.8px,#ab2494 29.2px,#b6308b 30.0px,#bd3786 32.2px,#b83289 33.0px,#ab2494 33.8px,#9613a1 34.5px,#8104a7 35.2px,#7100a8 36.0px,#6700a8 36.8px,#6300a7 39.8px,#6300a7 60.8px)"></i><i style="top:94.0px;height:1.05px;background:linear-gradient(90deg,#6300a7 0.0px,#6300a7 24.8px,#6c00a8 26.2px,#7801a8 27.0px,#8d0ba5 27.8px,#b7318a 29.2px,#c6417d 30.0px,#cc4977 30.8px,#cc4778 32.2px,#c43e7f 33.0px,#b52f8c 33.8px,#8a09a5 35.2px,#7701a8 36.0px,#6a00a8 36.8px,#6300a7 38.2px,#6300a7 60.8px)"></i><i style="top:95.0px;height:1.05px;background:linear-gradient(90deg,#6300a7 0.0px,#6400a7 24.8px,#6700a8 25.5px,#7100a8 26.2px,#8004a8 27.0px,#9511a1 27.8px,#c03a83 29.2px,#cc4977 30.0px,#d35171 30.8px,#d35171 32.2px,#cc4778 33.0px,#be3885 33.8px,#920fa3 35.2px,#7d03a8 36.0px,#6f00a8 36.8px,#6400a7 38.2px,#6300a7 60.8px)"></i><i style="top:96.0px;height:1.05px;background:linear-gradient(90deg,#6300a7 0.0px,#6300a7 24.0px,#6a00a8 25.5px,#7501a8 26.2px,#8707a6 27.0px,#9d189d 27.8px,#c7427c 29.2px,#d45270 30.0px,#da5b69 31.5px,#d9586a 32.2px,#d24f71 33.0px,#c5407e 33.8px,#9a169f 35.2px,#8405a7 36.0px,#7401a8 36.8px,#6900a8 37.5px,#6300a7 39.0px,#6300a7 60.8px)"></i><i style="top:97.0px;height:1.05px;background:linear-gradient(90deg,#6300a7 0.0px,#6400a7 24.0px,#6e00a8 25.5px,#7a02a8 26.2px,#8e0ca4 27.0px,#a62098 27.8px,#bd3786 28.5px,#ce4b75 29.2px,#da5a6a 30.0px,#e06363 31.5px,#de6164 32.2px,#d8576b 33.0px,#cc4977 33.8px,#a21d9a 35.2px,#8b0aa5 36.0px,#7801a8 36.8px,#6c00a8 37.5px,#6300a7 39.0px,#6300a7 60.8px)"></i><i style="top:98.0px;height:1.05px;background:linear-gradient(90deg,#6300a7 0.0px,#6400a7 24.0px,#7100a8 25.5px,#8004a8 26.2px,#9511a1 27.0px,#c43e7f 28.5px,#d5536f 29.2px,#df6263 30.0px,#e56b5d 31.5px,#e4695e 32.2px,#de6164 33.0px,#d35171 33.8px,#ab2494 35.2px,#920fa3 36.0px,#7e03a8 36.8px,#6700a8 38.2px,#6300a7 41.2px,#6300a7 60.8px)"></i><i style="top:99.0px;height:1.05px;background:linear-gradient(90deg,#6300a7 0.0px,#6300a7 23.2px,#6a00a8 24.8px,#7501a8 25.5px,#8707a6 26.2px,#9d189d 27.0px,#cb4679 28.5px,#da5b69 29.2px,#e56a5d 30.0px,#ea7457 31.5px,#e97158 32.2px,#e4695e 33.0px,#d9586a 33.8px,#b32c8e 35.2px,#9a169f 36.0px,#8405a7 36.8px,#7401a8 37.5px,#6600a7 39.0px,#6300a7 42.8px,#6300a7 60.8px)"></i><i style="top:100.0px;height:1.05px;background:linear-gradient(90deg,#6300a7 0.0px,#6400a7 23.2px,#6e00a8 24.8px,#7b02a8 25.5px,#8d0ba5 26.2px,#a51f99 27.0px,#d14e72 28.5px,#e06363 29.2px,#e97257 30.0px,#ef7c51 31.5px,#ed7a52 32.2px,#e97158 33.0px,#cf4c74 34.5px,#a21d9a 36.0px,#8b0aa5 36.8px,#7801a8 37.5px,#6700a8 39.0px,#6300a7 42.0px,#6300a7 60.8px)"></i><i style="top:101.0px;height:1.05px;background:linear-gradient(90deg,#6300a7 0.0px,#6400a7 23.2px,#7201a8 24.8px,#8004a8 25.5px,#9410a2 26.2px,#ac2694 27.0px,#d7566c 28.5px,#e66c5c 29.2px,#ee7b51 30.0px,#f1834c 30.8px,#f1834c 32.2px,#ed7a52 33.0px,#e56a5d 33.8px,#d5546e 34.5px,#aa2395 36.0px,#910ea3 36.8px,#7e03a8 37.5px,#7100a8 38.2px,#6400a7 39.8px,#6300a7 60.8px)"></i><i style="top:102.0px;height:1.05px;background:linear-gradient(90deg,#6300a7 0.0px,#6400a7 22.5px,#6c00a8 24.0px,#7501a8 24.8px,#8606a6 25.5px,#9a169f 26.2px,#cb4679 27.8px,#de5f65 28.5px,#eb7556 29.2px,#f2844b 30.0px,#f58c46 30.8px,#f58c46 32.2px,#f1834c 33.0px,#e97257 33.8px,#db5c68 34.5px,#b12a90 36.0px,#9814a0 36.8px,#8305a7 37.5px,#7401a8 38.2px,#6600a7 39.8px,#6300a7 43.5px,#6300a7 60.8px)"></i><i style="top:103.0px;height:1.05px;background:linear-gradient(90deg,#6300a7 0.0px,#6400a7 22.5px,#6e00a8 24.0px,#7a02a8 24.8px,#8b0aa5 25.5px,#a21d9a 26.2px,#d14e72 27.8px,#e3685f 28.5px,#ef7e50 29.2px,#f68d45 30.0px,#f89540 30.8px,#f89441 32.2px,#f58c46 33.0px,#ee7b51 33.8px,#e16462 34.5px,#b7318a 36.0px,#9e199d 36.8px,#8808a6 37.5px,#7801a8 38.2px,#6700a8 39.8px,#6300a7 42.8px,#6300a7 60.8px)"></i><i style="top:104.0px;height:1.05px;background:linear-gradient(90deg,#6300a7 0.0px,#6400a7 22.5px,#7100a8 24.0px,#7e03a8 24.8px,#910ea3 25.5px,#a82296 26.2px,#d7566c 27.8px,#e87059 28.5px,#f3874a 29.2px,#f9973f 30.0px,#fb9f3a 30.8px,#fa9e3b 32.2px,#f89540 33.0px,#f2844b 33.8px,#e66c5c 34.5px,#d5536f 35.2px,#a62098 36.8px,#8e0ca4 37.5px,#7d03a8 38.2px,#6f00a8 39.0px,#6400a7 40.5px,#6300a7 60.8px)"></i><i style="top:105.0px;height:1.05px;background:linear-gradient(90deg,#6300a7 0.0px,#6400a7 21.8px,#6a00a8 23.2px,#7401a8 24.0px,#8305a7 24.8px,#9814a0 25.5px,#b02991 26.2px,#dd5e66 27.8px,#ed7953 28.5px,#f79044 29.2px,#fba139 30.0px,#fca835 30.8px,#fca835 32.2px,#fa9e3b 33.0px,#f68d45 33.8px,#eb7556 34.5px,#da5b69 35.2px,#ac2694 36.8px,#9511a1 37.5px,#8104a7 38.2px,#7201a8 39.0px,#6600a7 40.5px,#6300a7 44.2px,#6300a7 60.8px)"></i><i style="top:106.0px;height:1.05px;background:linear-gradient(90deg,#6300a7 0.0px,#6400a7 21.8px,#6e00a8 23.2px,#7801a8 24.0px,#8808a6 24.8px,#9d189d 25.5px,#cd4a76 27.0px,#e26660 27.8px,#f1814d 28.5px,#f99a3e 29.2px,#fca934 30.0px,#fdb22f 30.8px,#fdb22f 32.2px,#fca835 33.0px,#f9973f 33.8px,#ef7e50 34.5px,#cb4679 36.0px,#9a169f 37.5px,#8606a6 38.2px,#6c00a8 39.8px,#6300a7 42.0px,#6300a7 60.8px)"></i><i style="top:107.0px;height:1.05px;background:linear-gradient(90deg,#6300a7 0.0px,#6400a7 21.8px,#6f00a8 23.2px,#7b02a8 24.0px,#8d0ba5 24.8px,#a31e9a 25.5px,#d45270 27.0px,#e76e5b 27.8px,#f58b47 28.5px,#fba238 29.2px,#fdb42f 30.0px,#febd2a 30.8px,#febb2b 32.2px,#fdb22f 33.0px,#fba139 33.8px,#f3874a 34.5px,#d14e72 36.0px,#a11b9b 37.5px,#8b0aa5 38.2px,#7a02a8 39.0px,#6700a8 40.5px,#6300a7 43.5px,#6300a7 60.8px)"></i><i style="top:108.0px;height:1.05px;background:linear-gradient(90deg,#6300a7 0.0px,#6400a7 21.0px,#6a00a8 22.5px,#7201a8 23.2px,#8004a8 24.0px,#920fa3 24.8px,#aa2395 25.5px,#d9586a 27.0px,#eb7655 27.8px,#f89441 28.5px,#fdac33 29.2px,#febe2a 30.0px,#fdc627 30.8px,#fdc627 32.2px,#febd2a 33.0px,#fca934 33.8px,#f79044 34.5px,#e97257 35.2px,#c03a83 36.8px,#a72197 37.5px,#8f0da4 38.2px,#7e03a8 39.0px,#7100a8 39.8px,#6600a7 41.2px,#6300a7 45.0px,#6300a7 60.8px)"></i><i style="top:109.0px;height:1.05px;background:linear-gradient(90deg,#6300a7 0.0px,#6400a7 21.0px,#6c00a8 22.5px,#7501a8 23.2px,#8405a7 24.0px,#9814a0 24.8px,#b12a90 25.5px,#de6164 27.0px,#f07f4f 27.8px,#fa9e3b 28.5px,#feb72d 29.2px,#fdc827 30.0px,#fcd225 30.8px,#fcd225 32.2px,#fdc627 33.0px,#fdb42f 33.8px,#f99a3e 34.5px,#ee7b51 35.2px,#c6417d 36.8px,#ad2793 37.5px,#9511a1 38.2px,#8305a7 39.0px,#7401a8 39.8px,#6600a7 41.2px,#6300a7 48.8px,#6300a7 60.8px)"></i><i style="top:110.0px;height:1.05px;background:linear-gradient(90deg,#6300a7 0.0px,#6400a7 21.0px,#6e00a8 22.5px,#7801a8 23.2px,#8808a6 24.0px,#9d189d 24.8px,#b42e8d 25.5px,#e26561 27.0px,#f2844b 27.8px,#fba238 28.5px,#febb2b 29.2px,#fccd25 30.0px,#fbd524 30.8px,#fbd524 32.2px,#fdcb26 33.0px,#feb82c 33.8px,#fa9e3b 34.5px,#f0804e 35.2px,#ca457a 36.8px,#b22b8f 37.5px,#9a169f 38.2px,#8606a6 39.0px,#7701a8 39.8px,#6700a8 41.2px,#6300a7 44.2px,#6300a7 60.8px)"></i><i style="top:111.0px;height:1.05px;background:linear-gradient(90deg,#6300a7 0.0px,#6300a7 20.2px,#6900a8 21.8px,#7b02a8 23.2px,#8b0aa5 24.0px,#a11b9b 24.8px,#cf4c74 26.2px,#e4695e 27.0px,#f3874a 27.8px,#fca338 28.5px,#febb2b 29.2px,#fccd25 30.0px,#fbd524 30.8px,#fbd524 32.2px,#fdcb26 33.0px,#feba2c 33.8px,#fba139 34.5px,#f1834c 35.2px,#e26561 36.0px,#b52f8c 37.5px,#9d189d 38.2px,#8808a6 39.0px,#6f00a8 40.5px,#6400a7 42.0px,#6300a7 60.8px)"></i><i style="top:112.0px;height:1.05px;background:linear-gradient(90deg,#6300a7 0.0px,#6400a7 20.2px,#6a00a8 21.8px,#7e03a8 23.2px,#8f0da4 24.0px,#a51f99 24.8px,#d24f71 26.2px,#f48948 27.8px,#fca537 28.5px,#febd2a 29.2px,#fccd25 30.0px,#fbd524 30.8px,#fbd524 32.2px,#fdcb26 33.0px,#feba2c 33.8px,#fba238 34.5px,#f3854b 35.2px,#cf4c74 36.8px,#a11b9b 38.2px,#8d0ba5 39.0px,#7d03a8 39.8px,#6900a8 41.2px,#6300a7 45.0px,#6300a7 60.8px)"></i><i style="top:113.0px;height:1.05px;background:linear-gradient(90deg,#6300a7 0.0px,#6400a7 20.2px,#6c00a8 21.8px,#7401a8 22.5px,#8104a7 23.2px,#920fa3 24.0px,#a72197 24.8px,#d5536f 26.2px,#e76f5a 27.0px,#f58c46 27.8px,#fca835 28.5px,#febe2a 29.2px,#fccd25 30.0px,#fbd524 30.8px,#fbd524 32.2px,#fccd25 33.0px,#febb2b 33.8px,#fca338 34.5px,#f48849 35.2px,#d24f71 36.8px,#a51f99 38.2px,#8f0da4 39.0px,#7e03a8 39.8px,#6a00a8 41.2px,#6300a7 43.5px,#6300a7 60.8px)"></i><i style="top:114.0px;height:1.05px;background:linear-gradient(90deg,#6300a7 0.0px,#6400a7 20.2px,#6e00a8 21.8px,#8405a7 23.2px,#9511a1 24.0px,#ab2494 24.8px,#d7566c 26.2px,#f68f44 27.8px,#fca934 28.5px,#febe2a 29.2px,#fcce25 30.0px,#fbd724 31.5px,#fbd524 32.2px,#fccd25 33.0px,#febd2a 33.8px,#fca636 34.5px,#f58b47 35.2px,#d5536f 36.8px,#a82296 38.2px,#920fa3 39.0px,#8104a7 39.8px,#6c00a8 41.2px,#6300a7 43.5px,#6300a7 60.8px)"></i><i style="top:115.0px;height:1.05px;background:linear-gradient(90deg,#6300a7 0.0px,#6400a7 19.5px,#6900a8 21.0px,#7801a8 22.5px,#8606a6 23.2px,#99159f 24.0px,#c43e7f 25.5px,#ea7457 27.0px,#f79044 27.8px,#fdab33 28.5px,#fec029 29.2px,#fcce25 30.0px,#fbd724 31.5px,#fbd524 32.2px,#fccd25 33.0px,#febd2a 33.8px,#fca835 34.5px,#f68d45 35.2px,#e97158 36.0px,#c23c81 37.5px,#ab2494 38.2px,#9613a1 39.0px,#8405a7 39.8px,#6e00a8 41.2px,#6400a7 42.8px,#6300a7 60.8px)"></i><i style="top:116.0px;height:1.05px;background:linear-gradient(90deg,#6300a7 0.0px,#6400a7 19.5px,#6a00a8 21.0px,#7a02a8 22.5px,#8808a6 23.2px,#9c179e 24.0px,#c7427c 25.5px,#ec7754 27.0px,#f79342 27.8px,#fdac33 28.5px,#fec029 29.2px,#fcce25 30.0px,#fbd724 31.5px,#fbd524 32.2px,#fccd25 33.0px,#febe2a 33.8px,#fca934 34.5px,#f68f44 35.2px,#ea7457 36.0px,#c43e7f 37.5px,#99159f 39.0px,#8707a6 39.8px,#7801a8 40.5px,#6900a8 42.0px,#6300a7 45.8px,#6300a7 60.8px)"></i><i style="top:117.0px;height:2.35px;background:linear-gradient(90deg,#6300a7 0.0px,#6400a7 19.5px,#6a00a8 21.0px,#7d03a8 22.5px,#8b0aa5 23.2px,#9e199d 24.0px,#c9447a 25.5px,#ed7953 27.0px,#f89441 27.8px,#fdae32 28.5px,#fdc229 29.2px,#fcce25 30.0px,#fbd724 31.5px,#fbd524 32.2px,#fccd25 33.0px,#febe2a 33.8px,#fdab33 34.5px,#f79044 35.2px,#da5b69 36.8px,#b12a90 38.2px,#9c179e 39.0px,#8a09a5 39.8px,#7100a8 41.2px,#6600a7 42.8px,#6300a7 50.2px,#6300a7 60.8px)"></i></b></div>
<div class="cb" style="left:347.8px;top:19.8px;width:4.4px;height:83.80px;background:linear-gradient(180deg,#f0f921,#f7e425,#fcce25,#feba2c,#fca636,#f89540,#f2844b,#ea7457,#e16462,#d6556d,#cc4778,#bf3984,#b12a90,#a11b9b,#8f0da4,#7e03a8,#6a00a8,#5601a4,#41049d,#2a0593,#0d0887)"></div>
<div class="cb" style="left:347.8px;top:152.9px;width:4.4px;height:83.70px;background:linear-gradient(180deg,#f0f921,#f7e425,#fcce25,#feba2c,#fca636,#f89540,#f2844b,#ea7457,#e16462,#d6556d,#cc4778,#bf3984,#b12a90,#a11b9b,#8f0da4,#7e03a8,#6a00a8,#5601a4,#41049d,#2a0593,#0d0887)"></div>
<svg width="448" height="252" viewBox="0 0 448 252"><g fill="none" stroke="#fff" stroke-opacity="0.25" stroke-width="1"><path d="M102.50,4.2 102.50,9.0 102.50,13.8 102.50,18.6 102.50,23.4 102.50,28.2 102.50,33.0 102.50,37.8 102.50,42.6 102.50,47.4 102.50,52.2 102.50,57.0 102.50,61.9 102.50,66.7 102.50,71.5 102.50,76.3 102.50,81.1 102.50,85.9 102.50,90.7 102.50,95.5 102.50,100.3 102.50,105.1 102.50,109.9 102.50,114.7 102.50,119.5"/><path d="M104.50,4.2 104.50,9.0 104.50,13.8 104.50,18.6 104.50,23.4 104.50,28.2 104.50,33.0 104.50,37.8 104.50,42.6 104.50,47.4 104.50,52.2 104.50,57.0 104.50,61.9 104.50,66.7 104.50,71.5 104.50,76.3 104.50,81.1 104.50,85.9 104.50,90.7 104.50,95.5 104.50,100.3 104.50,105.1 104.50,109.9 104.50,114.7 104.50,119.5"/><path d="M107.50,4.2 107.50,9.0 107.50,13.8 107.50,18.6 107.50,23.4 107.50,28.2 107.50,33.0 107.50,37.8 107.50,42.6 107.50,47.4 107.50,52.2 107.50,57.0 107.50,61.9 107.50,66.7 107.50,71.5 107.50,76.3 107.50,81.1 107.50,85.9 107.50,90.7 107.50,95.5 107.50,100.3 107.50,105.1 107.50,109.9 107.50,114.7 107.50,119.5"/><path d="M109.50,4.2 109.50,9.0 109.50,13.8 109.50,18.6 109.50,23.4 109.50,28.2 109.50,33.0 109.50,37.8 109.50,42.6 109.50,47.4 109.50,52.2 109.50,57.0 109.50,61.9 109.50,66.7 109.50,71.5 109.50,76.3 109.50,81.1 109.50,85.9 109.50,90.7 109.50,95.5 109.50,100.3 109.50,105.1 109.50,109.9 109.50,114.7 109.50,119.5"/><path d="M112.50,4.2 112.50,9.0 112.50,13.8 112.50,18.6 112.50,23.4 112.50,28.2 112.50,33.0 112.50,37.8 112.50,42.6 112.50,47.4 112.50,52.2 112.50,57.0 112.50,61.9 112.50,66.7 112.50,71.5 112.50,76.3 112.50,81.1 112.50,85.9 112.50,90.7 112.50,95.5 112.50,100.3 112.50,105.1 112.50,109.9 112.50,114.7 112.50,119.5"/><path d="M114.50,4.2 114.50,9.0 114.50,13.8 114.50,18.6 114.50,23.4 114.50,28.2 114.50,33.0 114.50,37.8 114.50,42.6 114.50,47.4 114.50,52.2 114.50,57.0 114.50,61.9 114.50,66.7 114.50,71.5 114.50,76.3 114.50,81.1 114.50,85.9 114.50,90.7 114.50,95.5 114.50,100.3 114.50,105.1 114.50,109.9 114.50,114.7 114.50,119.5"/><path d="M117.50,4.2 117.50,9.0 117.50,13.8 117.50,18.6 117.50,23.4 117.50,28.2 117.50,33.0 117.50,37.8 117.50,42.6 117.50,47.4 117.50,52.2 117.50,57.0 117.50,61.9 117.50,66.7 117.50,71.5 117.50,76.3 117.50,81.1 117.50,85.9 117.50,90.7 117.50,95.5 117.50,100.3 117.50,105.1 117.50,109.9 117.50,114.7 117.50,119.5"/><path d="M119.50,4.2 119.50,9.0 119.50,13.8 119.50,18.6 119.50,23.4 119.50,28.2 119.50,33.0 119.50,37.8 119.49,42.6 119.49,47.4 119.48,52.2 119.48,57.0 119.47,61.9 119.48,66.7 119.48,71.5 119.49,76.3 119.49,81.1 119.50,85.9 119.50,90.7 119.50,95.5 119.50,100.3 119.50,105.1 119.50,109.9 119.50,114.7 119.50,119.5"/><path d="M122.50,4.2 122.50,9.0 122.50,13.8 122.50,18.6 122.50,23.4 122.49,28.2 122.48,33.0 122.46,37.8 122.42,42.6 122.37,47.4 122.31,52.2 122.26,57.0 122.24,61.9 122.26,66.7 122.31,71.5 122.37,76.3 122.42,81.1 122.46,85.9 122.48,90.7 122.49,95.5 122.50,100.3 122.50,105.1 122.50,109.9 122.50,114.7 122.50,119.5"/><path d="M125.50,4.2 125.50,9.0 125.50,13.8 125.50,18.6 125.49,23.4 125.47,28.2 125.43,33.0 125.34,37.8 125.17,42.6 124.94,47.4 124.67,52.2 124.45,57.0 124.37,61.9 124.45,66.7 124.67,71.5 124.94,76.3 125.17,81.1 125.34,85.9 125.43,90.7 125.47,95.5 125.49,100.3 125.50,105.1 125.50,109.9 125.50,114.7 125.50,119.5"/><path d="M131.50,4.2 131.50,9.0 131.50,13.8 131.50,18.6 131.51,23.4 131.53,28.2 131.59,33.0 131.71,37.8 131.92,42.6 132.22,47.4 132.55,52.2 132.83,57.0 132.93,61.9 132.83,66.7 132.55,71.5 132.22,76.3 131.92,81.1 131.71,85.9 131.59,90.7 131.53,95.5 131.51,100.3 131.50,105.1 131.50,109.9 131.50,114.7 131.50,119.5"/><path d="M135.50,4.2 135.50,9.0 135.50,13.8 135.50,18.6 135.50,23.4 135.51,28.2 135.51,33.0 135.53,37.8 135.57,42.6 135.62,47.4 135.67,52.2 135.72,57.0 135.73,61.9 135.72,66.7 135.67,71.5 135.62,76.3 135.57,81.1 135.53,85.9 135.51,90.7 135.51,95.5 135.50,100.3 135.50,105.1 135.50,109.9 135.50,114.7 135.50,119.5"/><path d="M137.50,4.2 137.50,9.0 137.50,13.8 137.50,18.6 137.50,23.4 137.50,28.2 137.50,33.0 137.51,37.8 137.52,42.6 137.53,47.4 137.54,52.2 137.55,57.0 137.55,61.9 137.55,66.7 137.54,71.5 137.53,76.3 137.52,81.1 137.51,85.9 137.50,90.7 137.50,95.5 137.50,100.3 137.50,105.1 137.50,109.9 137.50,114.7 137.50,119.5"/><path d="M140.50,4.2 140.50,9.0 140.50,13.8 140.50,18.6 140.50,23.4 140.50,28.2 140.50,33.0 140.50,37.8 140.50,42.6 140.50,47.4 140.50,52.2 140.50,57.0 140.50,61.9 140.50,66.7 140.50,71.5 140.50,76.3 140.50,81.1 140.50,85.9 140.50,90.7 140.50,95.5 140.50,100.3 140.50,105.1 140.50,109.9 140.50,114.7 140.50,119.5"/><path d="M142.50,4.2 142.50,9.0 142.50,13.8 142.50,18.6 142.50,23.4 142.50,28.2 142.50,33.0 142.50,37.8 142.50,42.6 142.50,47.4 142.50,52.2 142.50,57.0 142.50,61.9 142.50,66.7 142.50,71.5 142.50,76.3 142.50,81.1 142.50,85.9 142.50,90.7 142.50,95.5 142.50,100.3 142.50,105.1 142.50,109.9 142.50,114.7 142.50,119.5"/><path d="M145.50,4.2 145.50,9.0 145.50,13.8 145.50,18.6 145.50,23.4 145.50,28.2 145.50,33.0 145.50,37.8 145.50,42.6 145.50,47.4 145.50,52.2 145.50,57.0 145.50,61.9 145.50,66.7 145.50,71.5 145.50,76.3 145.50,81.1 145.50,85.9 145.50,90.7 145.50,95.5 145.50,100.3 145.50,105.1 145.50,109.9 145.50,114.7 145.50,119.5"/><path d="M147.50,4.2 147.50,9.0 147.50,13.8 147.50,18.6 147.50,23.4 147.50,28.2 147.50,33.0 147.50,37.8 147.50,42.6 147.50,47.4 147.50,52.2 147.50,57.0 147.50,61.9 147.50,66.7 147.50,71.5 147.50,76.3 147.50,81.1 147.50,85.9 147.50,90.7 147.50,95.5 147.50,100.3 147.50,105.1 147.50,109.9 147.50,114.7 147.50,119.5"/><path d="M150.50,4.2 150.50,9.0 150.50,13.8 150.50,18.6 150.50,23.4 150.50,28.2 150.50,33.0 150.50,37.8 150.50,42.6 150.50,47.4 150.50,52.2 150.50,57.0 150.50,61.9 150.50,66.7 150.50,71.5 150.50,76.3 150.50,81.1 150.50,85.9 150.50,90.7 150.50,95.5 150.50,100.3 150.50,105.1 150.50,109.9 150.50,114.7 150.50,119.5"/><path d="M152.50,4.2 152.50,9.0 152.50,13.8 152.50,18.6 152.50,23.4 152.50,28.2 152.50,33.0 152.50,37.8 152.50,42.6 152.50,47.4 152.50,52.2 152.50,57.0 152.50,61.9 152.50,66.7 152.50,71.5 152.50,76.3 152.50,81.1 152.50,85.9 152.50,90.7 152.50,95.5 152.50,100.3 152.50,105.1 152.50,109.9 152.50,114.7 152.50,119.5"/><path d="M155.50,4.2 155.50,9.0 155.50,13.8 155.50,18.6 155.50,23.4 155.50,28.2 155.50,33.0 155.50,37.8 155.50,42.6 155.50,47.4 155.50,52.2 155.50,57.0 155.50,61.9 155.50,66.7 155.50,71.5 155.50,76.3 155.50,81.1 155.50,85.9 155.50,90.7 155.50,95.5 155.50,100.3 155.50,105.1 155.50,109.9 155.50,114.7 155.50,119.5"/><path d="M164.50,4.2 164.50,9.0 164.50,13.8 164.50,18.6 164.50,23.4 164.50,28.2 164.50,33.0 164.50,37.8 164.50,42.6 164.50,47.4 164.50,52.2 164.50,57.0 164.50,61.9 164.50,66.7 164.50,71.5 164.50,76.3 164.50,81.1 164.50,85.9 164.50,90.7 164.50,95.5 164.50,100.3 164.50,105.1 164.50,109.9 164.50,114.7 164.50,119.5"/><path d="M167.50,4.2 167.50,9.0 167.50,13.8 167.50,18.6 167.50,23.4 167.50,28.2 167.50,33.0 167.50,37.8 167.50,42.6 167.50,47.4 167.50,52.2 167.50,57.0 167.50,61.9 167.50,66.7 167.50,71.5 167.50,76.3 167.50,81.1 167.50,85.9 167.50,90.7 167.50,95.5 167.50,100.3 167.50,105.1 167.50,109.9 167.50,114.7 167.50,119.5"/><path d="M170.50,4.2 170.50,9.0 170.50,13.8 170.50,18.6 170.50,23.4 170.50,28.2 170.50,33.0 170.50,37.8 170.50,42.6 170.50,47.4 170.50,52.2 170.50,57.0 170.50,61.9 170.50,66.7 170.50,71.5 170.50,76.3 170.50,81.1 170.50,85.9 170.50,90.7 170.50,95.5 170.50,100.3 170.50,105.1 170.50,109.9 170.50,114.7 170.50,119.5"/><path d="M172.50,4.2 172.50,9.0 172.50,13.8 172.50,18.6 172.50,23.4 172.50,28.2 172.50,33.0 172.50,37.8 172.50,42.6 172.50,47.4 172.50,52.2 172.50,57.0 172.50,61.9 172.50,66.7 172.50,71.5 172.50,76.3 172.50,81.1 172.50,85.9 172.50,90.7 172.50,95.5 172.50,100.3 172.50,105.1 172.50,109.9 172.50,114.7 172.50,119.5"/><path d="M174.50,4.2 174.50,9.0 174.50,13.8 174.50,18.6 174.50,23.4 174.50,28.2 174.50,33.0 174.50,37.8 174.50,42.6 174.50,47.4 174.50,52.2 174.50,57.0 174.50,61.9 174.50,66.7 174.50,71.5 174.50,76.3 174.50,81.1 174.50,85.9 174.50,90.7 174.50,95.5 174.50,100.3 174.50,105.1 174.50,109.9 174.50,114.7 174.50,119.5"/><path d="M177.50,4.2 177.50,9.0 177.50,13.8 177.50,18.6 177.50,23.4 177.50,28.2 177.50,33.0 177.50,37.8 177.50,42.6 177.50,47.4 177.50,52.2 177.50,57.0 177.50,61.9 177.50,66.7 177.50,71.5 177.50,76.3 177.50,81.1 177.50,85.9 177.50,90.7 177.50,95.5 177.50,100.3 177.50,105.1 177.50,109.9 177.50,114.7 177.50,119.5"/><path d="M179.50,4.2 179.50,9.0 179.50,13.8 179.50,18.6 179.50,23.4 179.50,28.2 179.50,33.0 179.50,37.8 179.50,42.6 179.50,47.4 179.50,52.2 179.50,57.0 179.50,61.9 179.50,66.7 179.50,71.5 179.50,76.3 179.50,81.1 179.50,85.9 179.50,90.7 179.50,95.5 179.50,100.3 179.50,105.1 179.50,109.9 179.50,114.7 179.50,119.5"/><path d="M182.50,4.2 182.50,9.0 182.50,13.8 182.50,18.6 182.50,23.4 182.50,28.2 182.50,33.0 182.50,37.8 182.49,42.6 182.48,47.4 182.47,52.2 182.47,57.0 182.47,61.9 182.47,66.7 182.47,71.5 182.48,76.3 182.49,81.1 182.50,85.9 182.50,90.7 182.50,95.5 182.50,100.3 182.50,105.1 182.50,109.9 182.50,114.7 182.50,119.5"/><path d="M185.50,4.2 185.50,9.0 185.50,13.8 185.50,18.6 185.50,23.4 185.49,28.2 185.48,33.0 185.45,37.8 185.41,42.6 185.34,47.4 185.26,52.2 185.20,57.0 185.18,61.9 185.20,66.7 185.26,71.5 185.34,76.3 185.41,81.1 185.45,85.9 185.48,90.7 185.49,95.5 185.50,100.3 185.50,105.1 185.50,109.9 185.50,114.7 185.50,119.5"/><path d="M188.50,4.2 188.50,9.0 188.50,13.8 188.50,18.6 188.49,23.4 188.47,28.2 188.42,33.0 188.32,37.8 188.14,42.6 187.87,47.4 187.58,52.2 187.34,57.0 187.25,61.9 187.34,66.7 187.58,71.5 187.87,76.3 188.14,81.1 188.32,85.9 188.42,90.7 188.47,95.5 188.49,100.3 188.50,105.1 188.50,109.9 188.50,114.7 188.50,119.5"/><path d="M194.50,4.2 194.50,9.0 194.50,13.8 194.50,18.6 194.51,23.4 194.53,28.2 194.58,33.0 194.69,37.8 194.88,42.6 195.16,47.4 195.46,52.2 195.72,57.0 195.81,61.9 195.72,66.7 195.46,71.5 195.16,76.3 194.88,81.1 194.69,85.9 194.58,90.7 194.53,95.5 194.51,100.3 194.50,105.1 194.50,109.9 194.50,114.7 194.50,119.5"/><path d="M197.50,4.2 197.50,9.0 197.50,13.8 197.50,18.6 197.50,23.4 197.51,28.2 197.52,33.0 197.55,37.8 197.60,42.6 197.68,47.4 197.76,52.2 197.83,57.0 197.85,61.9 197.83,66.7 197.76,71.5 197.68,76.3 197.60,81.1 197.55,85.9 197.52,90.7 197.51,95.5 197.50,100.3 197.50,105.1 197.50,109.9 197.50,114.7 197.50,119.5"/><path d="M200.50,4.2 200.50,9.0 200.50,13.8 200.50,18.6 200.50,23.4 200.50,28.2 200.50,33.0 200.51,37.8 200.51,42.6 200.52,47.4 200.53,52.2 200.54,57.0 200.54,61.9 200.54,66.7 200.53,71.5 200.52,76.3 200.51,81.1 200.51,85.9 200.50,90.7 200.50,95.5 200.50,100.3 200.50,105.1 200.50,109.9 200.50,114.7 200.50,119.5"/><path d="M202.50,4.2 202.50,9.0 202.50,13.8 202.50,18.6 202.50,23.4 202.50,28.2 202.50,33.0 202.50,37.8 202.50,42.6 202.50,47.4 202.50,52.2 202.51,57.0 202.51,61.9 202.51,66.7 202.50,71.5 202.50,76.3 202.50,81.1 202.50,85.9 202.50,90.7 202.50,95.5 202.50,100.3 202.50,105.1 202.50,109.9 202.50,114.7 202.50,119.5"/><path d="M205.50,4.2 205.50,9.0 205.50,13.8 205.50,18.6 205.50,23.4 205.50,28.2 205.50,33.0 205.50,37.8 205.50,42.6 205.50,47.4 205.50,52.2 205.50,57.0 205.50,61.9 205.50,66.7 205.50,71.5 205.50,76.3 205.50,81.1 205.50,85.9 205.50,90.7 205.50,95.5 205.50,100.3 205.50,105.1 205.50,109.9 205.50,114.7 205.50,119.5"/><path d="M207.50,4.2 207.50,9.0 207.50,13.8 207.50,18.6 207.50,23.4 207.50,28.2 207.50,33.0 207.50,37.8 207.50,42.6 207.50,47.4 207.50,52.2 207.50,57.0 207.50,61.9 207.50,66.7 207.50,71.5 207.50,76.3 207.50,81.1 207.50,85.9 207.50,90.7 207.50,95.5 207.50,100.3 207.50,105.1 207.50,109.9 207.50,114.7 207.50,119.5"/><path d="M210.50,4.2 210.50,9.0 210.50,13.8 210.50,18.6 210.50,23.4 210.50,28.2 210.50,33.0 210.50,37.8 210.50,42.6 210.50,47.4 210.50,52.2 210.50,57.0 210.50,61.9 210.50,66.7 210.50,71.5 210.50,76.3 210.50,81.1 210.50,85.9 210.50,90.7 210.50,95.5 210.50,100.3 210.50,105.1 210.50,109.9 210.50,114.7 210.50,119.5"/><path d="M212.50,4.2 212.50,9.0 212.50,13.8 212.50,18.6 212.50,23.4 212.50,28.2 212.50,33.0 212.50,37.8 212.50,42.6 212.50,47.4 212.50,52.2 212.50,57.0 212.50,61.9 212.50,66.7 212.50,71.5 212.50,76.3 212.50,81.1 212.50,85.9 212.50,90.7 212.50,95.5 212.50,100.3 212.50,105.1 212.50,109.9 212.50,114.7 212.50,119.5"/><path d="M215.50,4.2 215.50,9.0 215.50,13.8 215.50,18.6 215.50,23.4 215.50,28.2 215.50,33.0 215.50,37.8 215.50,42.6 215.50,47.4 215.50,52.2 215.50,57.0 215.50,61.9 215.50,66.7 215.50,71.5 215.50,76.3 215.50,81.1 215.50,85.9 215.50,90.7 215.50,95.5 215.50,100.3 215.50,105.1 215.50,109.9 215.50,114.7 215.50,119.5"/><path d="M217.50,4.2 217.50,9.0 217.50,13.8 217.50,18.6 217.50,23.4 217.50,28.2 217.50,33.0 217.50,37.8 217.50,42.6 217.50,47.4 217.50,52.2 217.50,57.0 217.50,61.9 217.50,66.7 217.50,71.5 217.50,76.3 217.50,81.1 217.50,85.9 217.50,90.7 217.50,95.5 217.50,100.3 217.50,105.1 217.50,109.9 217.50,114.7 217.50,119.5"/><path d="M227.50,4.2 227.50,9.0 227.50,13.8 227.50,18.6 227.50,23.4 227.50,28.2 227.50,33.0 227.50,37.8 227.50,42.6 227.50,47.4 227.50,52.2 227.50,57.0 227.50,61.9 227.50,66.7 227.50,71.5 227.50,76.3 227.50,81.1 227.50,85.9 227.50,90.7 227.50,95.5 227.50,100.3 227.50,105.1 227.50,109.9 227.50,114.7 227.50,119.5"/><path d="M230.50,4.2 230.50,9.0 230.50,13.8 230.50,18.6 230.50,23.4 230.50,28.2 230.50,33.0 230.50,37.8 230.49,42.6 230.49,47.4 230.49,52.2 230.49,57.0 230.49,61.9 230.49,66.7 230.49,71.5 230.49,76.3 230.49,81.1 230.50,85.9 230.50,90.7 230.50,95.5 230.50,100.3 230.50,105.1 230.50,109.9 230.50,114.7 230.50,119.5"/><path d="M232.50,4.2 232.50,9.0 232.50,13.8 232.50,18.6 232.50,23.4 232.50,28.2 232.49,33.0 232.49,37.8 232.49,42.6 232.48,47.4 232.47,52.2 232.47,57.0 232.47,61.9 232.47,66.7 232.47,71.5 232.48,76.3 232.49,81.1 232.49,85.9 232.49,90.7 232.50,95.5 232.50,100.3 232.50,105.1 232.50,109.9 232.50,114.7 232.50,119.5"/><path d="M235.50,4.2 235.50,9.0 235.50,13.8 235.50,18.6 235.50,23.4 235.49,28.2 235.48,33.0 235.47,37.8 235.45,42.6 235.43,47.4 235.41,52.2 235.40,57.0 235.40,61.9 235.40,66.7 235.41,71.5 235.43,76.3 235.45,81.1 235.47,85.9 235.48,90.7 235.49,95.5 235.50,100.3 235.50,105.1 235.50,109.9 235.50,114.7 235.50,119.5"/><path d="M237.50,4.2 237.50,9.0 237.50,13.8 237.50,18.6 237.49,23.4 237.48,28.2 237.46,33.0 237.44,37.8 237.40,42.6 237.36,47.4 237.33,52.2 237.30,57.0 237.29,61.9 237.30,66.7 237.33,71.5 237.36,76.3 237.40,81.1 237.44,85.9 237.46,90.7 237.48,95.5 237.49,100.3 237.50,105.1 237.50,109.9 237.50,114.7 237.50,119.5"/><path d="M240.50,4.2 240.50,9.0 240.50,13.8 240.49,18.6 240.48,23.4 240.45,28.2 240.41,33.0 240.34,37.8 240.26,42.6 240.16,47.4 240.07,52.2 240.00,57.0 239.97,61.9 240.00,66.7 240.07,71.5 240.16,76.3 240.26,81.1 240.34,85.9 240.41,90.7 240.45,95.5 240.48,100.3 240.49,105.1 240.50,109.9 240.50,114.7 240.50,119.5"/><path d="M242.50,4.2 242.50,9.0 242.49,13.8 242.48,18.6 242.46,23.4 242.42,28.2 242.34,33.0 242.24,37.8 242.09,42.6 241.93,47.4 241.78,52.2 241.66,57.0 241.62,61.9 241.66,66.7 241.78,71.5 241.93,76.3 242.09,81.1 242.24,85.9 242.34,90.7 242.42,95.5 242.46,100.3 242.48,105.1 242.49,109.9 242.50,114.7 242.50,119.5"/><path d="M245.50,4.2 245.50,9.0 245.49,13.8 245.47,18.6 245.43,23.4 245.35,28.2 245.21,33.0 245.01,37.8 244.75,42.6 244.45,47.4 244.16,52.2 243.95,57.0 243.88,61.9 243.95,66.7 244.16,71.5 244.45,76.3 244.75,81.1 245.01,85.9 245.21,90.7 245.35,95.5 245.43,100.3 245.47,105.1 245.49,109.9 245.50,114.7 245.50,119.5"/><path d="M247.50,4.2 247.49,9.0 247.48,13.8 247.45,18.6 247.40,23.4 247.29,28.2 247.11,33.0 246.83,37.8 246.47,42.6 246.06,47.4 245.67,52.2 245.39,57.0 245.28,61.9 245.39,66.7 245.67,71.5 246.06,76.3 246.47,81.1 246.83,85.9 247.11,90.7 247.29,95.5 247.40,100.3 247.45,105.1 247.48,109.9 247.49,114.7 247.50,119.5"/><path d="M251.50,4.2 251.49,9.0 251.47,13.8 251.43,18.6 251.35,23.4 251.19,28.2 250.93,33.0 250.53,37.8 250.00,42.6 249.40,47.4 248.82,52.2 248.41,57.0 248.26,61.9 248.41,66.7 248.82,71.5 249.40,76.3 250.00,81.1 250.53,85.9 250.93,90.7 251.19,95.5 251.35,100.3 251.43,105.1 251.47,109.9 251.49,114.7 251.50,119.5"/><path d="M256.50,4.2 256.51,9.0 256.53,13.8 256.57,18.6 256.65,23.4 256.82,28.2 257.09,33.0 257.50,37.8 258.04,42.6 258.66,47.4 259.25,52.2 259.67,57.0 259.83,61.9 259.67,66.7 259.25,71.5 258.66,76.3 258.04,81.1 257.50,85.9 257.09,90.7 256.82,95.5 256.65,100.3 256.57,105.1 256.53,109.9 256.51,114.7 256.50,119.5"/><path d="M260.50,4.2 260.51,9.0 260.52,13.8 260.55,18.6 260.61,23.4 260.72,28.2 260.92,33.0 261.21,37.8 261.60,42.6 262.04,47.4 262.46,52.2 262.76,57.0 262.87,61.9 262.76,66.7 262.46,71.5 262.04,76.3 261.60,81.1 261.21,85.9 260.92,90.7 260.72,95.5 260.61,100.3 260.55,105.1 260.52,109.9 260.51,114.7 260.50,119.5"/><path d="M262.50,4.2 262.51,9.0 262.51,13.8 262.54,18.6 262.58,23.4 262.67,28.2 262.81,33.0 263.03,37.8 263.32,42.6 263.65,47.4 263.96,52.2 264.19,57.0 264.27,61.9 264.19,66.7 263.96,71.5 263.65,76.3 263.32,81.1 263.03,85.9 262.81,90.7 262.67,95.5 262.58,100.3 262.54,105.1 262.51,109.9 262.51,114.7 262.50,119.5"/><path d="M265.50,4.2 265.50,9.0 265.51,13.8 265.52,18.6 265.55,23.4 265.59,28.2 265.68,33.0 265.80,37.8 265.96,42.6 266.14,47.4 266.32,52.2 266.44,57.0 266.49,61.9 266.44,66.7 266.32,71.5 266.14,76.3 265.96,81.1 265.80,85.9 265.68,90.7 265.59,95.5 265.55,100.3 265.52,105.1 265.51,109.9 265.50,114.7 265.50,119.5"/><path d="M267.50,4.2 267.50,9.0 267.50,13.8 267.51,18.6 267.53,23.4 267.56,28.2 267.61,33.0 267.68,37.8 267.78,42.6 267.89,47.4 268.00,52.2 268.08,57.0 268.11,61.9 268.08,66.7 268.00,71.5 267.89,76.3 267.78,81.1 267.68,85.9 267.61,90.7 267.56,95.5 267.53,100.3 267.51,105.1 267.50,109.9 267.50,114.7 267.50,119.5"/><path d="M270.50,4.2 270.50,9.0 270.50,13.8 270.51,18.6 270.51,23.4 270.52,28.2 270.54,33.0 270.58,37.8 270.62,42.6 270.66,47.4 270.71,52.2 270.74,57.0 270.75,61.9 270.74,66.7 270.71,71.5 270.66,76.3 270.62,81.1 270.58,85.9 270.54,90.7 270.52,95.5 270.51,100.3 270.51,105.1 270.50,109.9 270.50,114.7 270.50,119.5"/><path d="M272.50,4.2 272.50,9.0 272.50,13.8 272.50,18.6 272.51,23.4 272.51,28.2 272.52,33.0 272.54,37.8 272.56,42.6 272.58,47.4 272.60,52.2 272.62,57.0 272.63,61.9 272.62,66.7 272.60,71.5 272.58,76.3 272.56,81.1 272.54,85.9 272.52,90.7 272.51,95.5 272.51,100.3 272.50,105.1 272.50,109.9 272.50,114.7 272.50,119.5"/><path d="M275.50,4.2 275.50,9.0 275.50,13.8 275.50,18.6 275.50,23.4 275.50,28.2 275.51,33.0 275.51,37.8 275.52,42.6 275.52,47.4 275.53,52.2 275.54,57.0 275.54,61.9 275.54,66.7 275.53,71.5 275.52,76.3 275.52,81.1 275.51,85.9 275.51,90.7 275.50,95.5 275.50,100.3 275.50,105.1 275.50,109.9 275.50,114.7 275.50,119.5"/><path d="M278.50,4.2 278.50,9.0 278.50,13.8 278.50,18.6 278.50,23.4 278.50,28.2 278.50,33.0 278.50,37.8 278.50,42.6 278.51,47.4 278.51,52.2 278.51,57.0 278.51,61.9 278.51,66.7 278.51,71.5 278.51,76.3 278.50,81.1 278.50,85.9 278.50,90.7 278.50,95.5 278.50,100.3 278.50,105.1 278.50,109.9 278.50,114.7 278.50,119.5"/><path d="M280.50,4.2 280.50,9.0 280.50,13.8 280.50,18.6 280.50,23.4 280.50,28.2 280.50,33.0 280.50,37.8 280.50,42.6 280.50,47.4 280.50,52.2 280.50,57.0 280.50,61.9 280.50,66.7 280.50,71.5 280.50,76.3 280.50,81.1 280.50,85.9 280.50,90.7 280.50,95.5 280.50,100.3 280.50,105.1 280.50,109.9 280.50,114.7 280.50,119.5"/><path d="M290.50,4.2 290.50,9.0 290.50,13.8 290.50,18.6 290.50,23.4 290.50,28.2 290.50,33.0 290.50,37.8 290.50,42.6 290.50,47.4 290.50,52.2 290.50,57.0 290.50,61.9 290.50,66.7 290.50,71.5 290.50,76.3 290.50,81.1 290.50,85.9 290.50,90.7 290.50,95.5 290.50,100.3 290.50,105.1 290.50,109.9 290.50,114.7 290.50,119.5"/><path d="M292.50,4.2 292.50,9.0 292.50,13.8 292.50,18.6 292.50,23.4 292.50,28.2 292.50,33.0 292.50,37.8 292.49,42.6 292.49,47.4 292.49,52.2 292.49,57.0 292.49,61.9 292.49,66.7 292.49,71.5 292.49,76.3 292.49,81.1 292.50,85.9 292.50,90.7 292.50,95.5 292.50,100.3 292.50,105.1 292.50,109.9 292.50,114.7 292.50,119.5"/><path d="M295.50,4.2 295.50,9.0 295.50,13.8 295.50,18.6 295.50,23.4 295.50,28.2 295.49,33.0 295.49,37.8 295.48,42.6 295.47,47.4 295.46,52.2 295.46,57.0 295.45,61.9 295.46,66.7 295.46,71.5 295.47,76.3 295.48,81.1 295.49,85.9 295.49,90.7 295.50,95.5 295.50,100.3 295.50,105.1 295.50,109.9 295.50,114.7 295.50,119.5"/><path d="M297.50,4.2 297.50,9.0 297.50,13.8 297.50,18.6 297.50,23.4 297.49,28.2 297.48,33.0 297.47,37.8 297.45,42.6 297.43,47.4 297.42,52.2 297.40,57.0 297.40,61.9 297.40,66.7 297.42,71.5 297.43,76.3 297.45,81.1 297.47,85.9 297.48,90.7 297.49,95.5 297.50,100.3 297.50,105.1 297.50,109.9 297.50,114.7 297.50,119.5"/><path d="M300.50,4.2 300.50,9.0 300.50,13.8 300.49,18.6 300.49,23.4 300.47,28.2 300.45,33.0 300.41,37.8 300.36,42.6 300.30,47.4 300.25,52.2 300.21,57.0 300.20,61.9 300.21,66.7 300.25,71.5 300.30,76.3 300.36,81.1 300.41,85.9 300.45,90.7 300.47,95.5 300.49,100.3 300.49,105.1 300.50,109.9 300.50,114.7 300.50,119.5"/><path d="M302.50,4.2 302.50,9.0 302.50,13.8 302.49,18.6 302.47,23.4 302.45,28.2 302.40,33.0 302.33,37.8 302.24,42.6 302.14,47.4 302.04,52.2 301.97,57.0 301.94,61.9 301.97,66.7 302.04,71.5 302.14,76.3 302.24,81.1 302.33,85.9 302.40,90.7 302.45,95.5 302.47,100.3 302.49,105.1 302.50,109.9 302.50,114.7 302.50,119.5"/><path d="M305.50,4.2 305.50,9.0 305.49,13.8 305.48,18.6 305.44,23.4 305.38,28.2 305.28,33.0 305.13,37.8 304.94,42.6 304.71,47.4 304.50,52.2 304.34,57.0 304.28,61.9 304.34,66.7 304.50,71.5 304.71,76.3 304.94,81.1 305.13,85.9 305.28,90.7 305.38,95.5 305.44,100.3 305.48,105.1 305.49,109.9 305.50,114.7 305.50,119.5"/><path d="M307.50,4.2 307.49,9.0 307.48,13.8 307.46,18.6 307.41,23.4 307.33,28.2 307.17,33.0 306.95,37.8 306.64,42.6 306.30,47.4 305.98,52.2 305.74,57.0 305.65,61.9 305.74,66.7 305.98,71.5 306.30,76.3 306.64,81.1 306.95,85.9 307.17,90.7 307.33,95.5 307.41,100.3 307.46,105.1 307.48,109.9 307.49,114.7 307.50,119.5"/><path d="M310.50,4.2 310.49,9.0 310.48,13.8 310.44,18.6 310.36,23.4 310.22,28.2 309.97,33.0 309.61,37.8 309.12,42.6 308.57,47.4 308.05,52.2 307.67,57.0 307.53,61.9 307.67,66.7 308.05,71.5 308.57,76.3 309.12,81.1 309.61,85.9 309.97,90.7 310.22,95.5 310.36,100.3 310.44,105.1 310.48,109.9 310.49,114.7 310.50,119.5"/><path d="M313.50,4.2 313.49,9.0 313.47,13.8 313.42,18.6 313.32,23.4 313.12,28.2 312.79,33.0 312.30,37.8 311.65,42.6 310.91,47.4 310.20,52.2 309.69,57.0 309.50,61.9 309.69,66.7 310.20,71.5 310.91,76.3 311.65,81.1 312.30,85.9 312.79,90.7 313.12,95.5 313.32,100.3 313.42,105.1 313.47,109.9 313.49,114.7 313.50,119.5"/><path d="M319.50,4.2 319.51,9.0 319.53,13.8 319.59,18.6 319.69,23.4 319.90,28.2 320.25,33.0 320.77,37.8 321.45,42.6 322.23,47.4 322.98,52.2 323.52,57.0 323.71,61.9 323.52,66.7 322.98,71.5 322.23,76.3 321.45,81.1 320.77,85.9 320.25,90.7 319.90,95.5 319.69,100.3 319.59,105.1 319.53,109.9 319.51,114.7 319.50,119.5"/><path d="M323.50,4.2 323.51,9.0 323.52,13.8 323.56,18.6 323.63,23.4 323.78,28.2 324.02,33.0 324.38,37.8 324.86,42.6 325.40,47.4 325.91,52.2 326.29,57.0 326.43,61.9 326.29,66.7 325.91,71.5 325.40,76.3 324.86,81.1 324.38,85.9 324.02,90.7 323.78,95.5 323.63,100.3 323.56,105.1 323.52,109.9 323.51,114.7 323.50,119.5"/><path d="M325.50,4.2 325.51,9.0 325.52,13.8 325.54,18.6 325.60,23.4 325.70,28.2 325.88,33.0 326.15,37.8 326.50,42.6 326.90,47.4 327.28,52.2 327.56,57.0 327.66,61.9 327.56,66.7 327.28,71.5 326.90,76.3 326.50,81.1 326.15,85.9 325.88,90.7 325.70,95.5 325.60,100.3 325.54,105.1 325.52,109.9 325.51,114.7 325.50,119.5"/><path d="M328.50,4.2 328.50,9.0 328.51,13.8 328.52,18.6 328.55,23.4 328.61,28.2 328.71,33.0 328.86,37.8 329.05,42.6 329.27,47.4 329.48,52.2 329.63,57.0 329.68,61.9 329.63,66.7 329.48,71.5 329.27,76.3 329.05,81.1 328.86,85.9 328.71,90.7 328.61,95.5 328.55,100.3 328.52,105.1 328.51,109.9 328.50,114.7 328.50,119.5"/><path d="M330.50,4.2 330.50,9.0 330.51,13.8 330.51,18.6 330.53,23.4 330.57,28.2 330.63,33.0 330.72,37.8 330.83,42.6 330.96,47.4 331.09,52.2 331.18,57.0 331.22,61.9 331.18,66.7 331.09,71.5 330.96,76.3 330.83,81.1 330.72,85.9 330.63,90.7 330.57,95.5 330.53,100.3 330.51,105.1 330.51,109.9 330.50,114.7 330.50,119.5"/><path d="M333.50,4.2 333.50,9.0 333.50,13.8 333.51,18.6 333.51,23.4 333.53,28.2 333.55,33.0 333.59,37.8 333.63,42.6 333.69,47.4 333.74,52.2 333.78,57.0 333.79,61.9 333.78,66.7 333.74,71.5 333.69,76.3 333.63,81.1 333.59,85.9 333.55,90.7 333.53,95.5 333.51,100.3 333.51,105.1 333.50,109.9 333.50,114.7 333.50,119.5"/><path d="M335.50,4.2 335.50,9.0 335.50,13.8 335.50,18.6 335.51,23.4 335.51,28.2 335.53,33.0 335.54,37.8 335.57,42.6 335.59,47.4 335.62,52.2 335.64,57.0 335.64,61.9 335.64,66.7 335.62,71.5 335.59,76.3 335.57,81.1 335.54,85.9 335.53,90.7 335.51,95.5 335.51,100.3 335.50,105.1 335.50,109.9 335.50,114.7 335.50,119.5"/><path d="M338.50,4.2 338.50,9.0 338.50,13.8 338.50,18.6 338.50,23.4 338.50,28.2 338.51,33.0 338.51,37.8 338.52,42.6 338.53,47.4 338.54,52.2 338.54,57.0 338.54,61.9 338.54,66.7 338.54,71.5 338.53,76.3 338.52,81.1 338.51,85.9 338.51,90.7 338.50,95.5 338.50,100.3 338.50,105.1 338.50,109.9 338.50,114.7 338.50,119.5"/><path d="M340.50,4.2 340.50,9.0 340.50,13.8 340.50,18.6 340.50,23.4 340.50,28.2 340.50,33.0 340.51,37.8 340.51,42.6 340.51,47.4 340.51,52.2 340.52,57.0 340.52,61.9 340.52,66.7 340.51,71.5 340.51,76.3 340.51,81.1 340.51,85.9 340.50,90.7 340.50,95.5 340.50,100.3 340.50,105.1 340.50,109.9 340.50,114.7 340.50,119.5"/><path d="M343.50,4.2 343.50,9.0 343.50,13.8 343.50,18.6 343.50,23.4 343.50,28.2 343.50,33.0 343.50,37.8 343.50,42.6 343.50,47.4 343.50,52.2 343.50,57.0 343.50,61.9 343.50,66.7 343.50,71.5 343.50,76.3 343.50,81.1 343.50,85.9 343.50,90.7 343.50,95.5 343.50,100.3 343.50,105.1 343.50,109.9 343.50,114.7 343.50,119.5"/><path d="M102.50,132.6 102.50,137.4 102.50,142.2 102.50,147.0 102.50,151.8 102.50,156.6 102.50,161.4 102.50,166.2 102.50,171.0 102.50,175.8 102.50,180.6 102.50,185.4 102.50,190.2 102.50,195.1 102.50,199.9 102.50,204.7 102.50,209.5 102.50,214.3 102.50,219.1 102.50,223.9 102.50,228.7 102.50,233.5 102.50,238.3 102.50,243.1 102.50,247.9"/><path d="M104.50,132.6 104.50,137.4 104.50,142.2 104.50,147.0 104.50,151.8 104.50,156.6 104.50,161.4 104.50,166.2 104.50,171.0 104.50,175.8 104.50,180.6 104.50,185.4 104.50,190.2 104.50,195.1 104.50,199.9 104.50,204.7 104.50,209.5 104.50,214.3 104.50,219.1 104.50,223.9 104.50,228.7 104.50,233.5 104.50,238.3 104.50,243.1 104.50,247.9"/><path d="M107.50,132.6 107.50,137.4 107.50,142.2 107.50,147.0 107.50,151.8 107.50,156.6 107.50,161.4 107.50,166.2 107.50,171.0 107.50,175.8 107.50,180.6 107.50,185.4 107.50,190.2 107.50,195.1 107.50,199.9 107.50,204.7 107.50,209.5 107.50,214.3 107.50,219.1 107.50,223.9 107.50,228.7 107.50,233.5 107.50,238.3 107.50,243.1 107.50,247.9"/><path d="M109.50,132.6 109.50,137.4 109.50,142.2 109.50,147.0 109.50,151.8 109.50,156.6 109.50,161.4 109.50,166.2 109.50,171.0 109.50,175.8 109.50,180.6 109.50,185.4 109.50,190.2 109.50,195.1 109.50,199.9 109.50,204.7 109.50,209.5 109.50,214.3 109.50,219.1 109.50,223.9 109.50,228.7 109.50,233.5 109.50,238.3 109.50,243.1 109.50,247.9"/><path d="M112.50,132.6 112.50,137.4 112.50,142.2 112.50,147.0 112.50,151.8 112.50,156.6 112.50,161.4 112.50,166.2 112.50,171.0 112.50,175.8 112.50,180.6 112.50,185.4 112.50,190.2 112.50,195.1 112.50,199.9 112.50,204.7 112.50,209.5 112.50,214.3 112.50,219.1 112.50,223.9 112.50,228.7 112.50,233.5 112.50,238.3 112.50,243.1 112.50,247.9"/><path d="M114.50,132.6 114.50,137.4 114.50,142.2 114.50,147.0 114.50,151.8 114.50,156.6 114.50,161.4 114.50,166.2 114.50,171.0 114.50,175.8 114.50,180.6 114.50,185.4 114.50,190.2 114.50,195.1 114.50,199.9 114.50,204.7 114.50,209.5 114.50,214.3 114.50,219.1 114.50,223.9 114.50,228.7 114.50,233.5 114.50,238.3 114.50,243.1 114.50,247.9"/><path d="M117.50,132.6 117.50,137.4 117.50,142.2 117.50,147.0 117.50,151.8 117.50,156.6 117.50,161.4 117.50,166.2 117.50,171.0 117.50,175.8 117.50,180.6 117.50,185.4 117.50,190.2 117.50,195.1 117.50,199.9 117.50,204.7 117.50,209.5 117.50,214.3 117.50,219.1 117.50,223.9 117.50,228.7 117.50,233.5 117.50,238.3 117.50,243.1 117.50,247.9"/><path d="M119.50,132.6 119.50,137.4 119.50,142.2 119.50,147.0 119.50,151.8 119.50,156.6 119.50,161.4 119.50,166.2 119.49,171.0 119.49,175.8 119.48,180.6 119.48,185.4 119.47,190.2 119.48,195.1 119.48,199.9 119.49,204.7 119.49,209.5 119.50,214.3 119.50,219.1 119.50,223.9 119.50,228.7 119.50,233.5 119.50,238.3 119.50,243.1 119.50,247.9"/><path d="M122.50,132.6 122.50,137.4 122.50,142.2 122.50,147.0 122.50,151.8 122.49,156.6 122.48,161.4 122.46,166.2 122.42,171.0 122.37,175.8 122.31,180.6 122.26,185.4 122.24,190.2 122.26,195.1 122.31,199.9 122.37,204.7 122.42,209.5 122.46,214.3 122.48,219.1 122.49,223.9 122.50,228.7 122.50,233.5 122.50,238.3 122.50,243.1 122.50,247.9"/><path d="M125.50,132.6 125.50,137.4 125.50,142.2 125.50,147.0 125.49,151.8 125.47,156.6 125.43,161.4 125.34,166.2 125.17,171.0 124.94,175.8 124.67,180.6 124.45,185.4 124.37,190.2 124.45,195.1 124.67,199.9 124.94,204.7 125.17,209.5 125.34,214.3 125.43,219.1 125.47,223.9 125.49,228.7 125.50,233.5 125.50,238.3 125.50,243.1 125.50,247.9"/><path d="M131.50,132.6 131.50,137.4 131.50,142.2 131.50,147.0 131.51,151.8 131.53,156.6 131.59,161.4 131.71,166.2 131.92,171.0 132.22,175.8 132.55,180.6 132.83,185.4 132.93,190.2 132.83,195.1 132.55,199.9 132.22,204.7 131.92,209.5 131.71,214.3 131.59,219.1 131.53,223.9 131.51,228.7 131.50,233.5 131.50,238.3 131.50,243.1 131.50,247.9"/><path d="M135.50,132.6 135.50,137.4 135.50,142.2 135.50,147.0 135.50,151.8 135.51,156.6 135.51,161.4 135.53,166.2 135.57,171.0 135.62,175.8 135.67,180.6 135.72,185.4 135.73,190.2 135.72,195.1 135.67,199.9 135.62,204.7 135.57,209.5 135.53,214.3 135.51,219.1 135.51,223.9 135.50,228.7 135.50,233.5 135.50,238.3 135.50,243.1 135.50,247.9"/><path d="M137.50,132.6 137.50,137.4 137.50,142.2 137.50,147.0 137.50,151.8 137.50,156.6 137.50,161.4 137.51,166.2 137.52,171.0 137.53,175.8 137.54,180.6 137.55,185.4 137.55,190.2 137.55,195.1 137.54,199.9 137.53,204.7 137.52,209.5 137.51,214.3 137.50,219.1 137.50,223.9 137.50,228.7 137.50,233.5 137.50,238.3 137.50,243.1 137.50,247.9"/><path d="M140.50,132.6 140.50,137.4 140.50,142.2 140.50,147.0 140.50,151.8 140.50,156.6 140.50,161.4 140.50,166.2 140.50,171.0 140.50,175.8 140.50,180.6 140.50,185.4 140.50,190.2 140.50,195.1 140.50,199.9 140.50,204.7 140.50,209.5 140.50,214.3 140.50,219.1 140.50,223.9 140.50,228.7 140.50,233.5 140.50,238.3 140.50,243.1 140.50,247.9"/><path d="M142.50,132.6 142.50,137.4 142.50,142.2 142.50,147.0 142.50,151.8 142.50,156.6 142.50,161.4 142.50,166.2 142.50,171.0 142.50,175.8 142.50,180.6 142.50,185.4 142.50,190.2 142.50,195.1 142.50,199.9 142.50,204.7 142.50,209.5 142.50,214.3 142.50,219.1 142.50,223.9 142.50,228.7 142.50,233.5 142.50,238.3 142.50,243.1 142.50,247.9"/><path d="M145.50,132.6 145.50,137.4 145.50,142.2 145.50,147.0 145.50,151.8 145.50,156.6 145.50,161.4 145.50,166.2 145.50,171.0 145.50,175.8 145.50,180.6 145.50,185.4 145.50,190.2 145.50,195.1 145.50,199.9 145.50,204.7 145.50,209.5 145.50,214.3 145.50,219.1 145.50,223.9 145.50,228.7 145.50,233.5 145.50,238.3 145.50,243.1 145.50,247.9"/><path d="M147.50,132.6 147.50,137.4 147.50,142.2 147.50,147.0 147.50,151.8 147.50,156.6 147.50,161.4 147.50,166.2 147.50,171.0 147.50,175.8 147.50,180.6 147.50,185.4 147.50,190.2 147.50,195.1 147.50,199.9 147.50,204.7 147.50,209.5 147.50,214.3 147.50,219.1 147.50,223.9 147.50,228.7 147.50,233.5 147.50,238.3 147.50,243.1 147.50,247.9"/><path d="M150.50,132.6 150.50,137.4 150.50,142.2 150.50,147.0 150.50,151.8 150.50,156.6 150.50,161.4 150.50,166.2 150.50,171.0 150.50,175.8 150.50,180.6 150.50,185.4 150.50,190.2 150.50,195.1 150.50,199.9 150.50,204.7 150.50,209.5 150.50,214.3 150.50,219.1 150.50,223.9 150.50,228.7 150.50,233.5 150.50,238.3 150.50,243.1 150.50,247.9"/><path d="M152.50,132.6 152.50,137.4 152.50,142.2 152.50,147.0 152.50,151.8 152.50,156.6 152.50,161.4 152.50,166.2 152.50,171.0 152.50,175.8 152.50,180.6 152.50,185.4 152.50,190.2 152.50,195.1 152.50,199.9 152.50,204.7 152.50,209.5 152.50,214.3 152.50,219.1 152.50,223.9 152.50,228.7 152.50,233.5 152.50,238.3 152.50,243.1 152.50,247.9"/><path d="M155.50,132.6 155.50,137.4 155.50,142.2 155.50,147.0 155.50,151.8 155.50,156.6 155.50,161.4 155.50,166.2 155.50,171.0 155.50,175.8 155.50,180.6 155.50,185.4 155.50,190.2 155.50,195.1 155.50,199.9 155.50,204.7 155.50,209.5 155.50,214.3 155.50,219.1 155.50,223.9 155.50,228.7 155.50,233.5 155.50,238.3 155.50,243.1 155.50,247.9"/><path d="M164.50,132.6 164.50,137.4 164.50,142.2 164.50,147.0 164.50,151.8 164.50,156.6 164.50,161.4 164.50,166.2 164.50,171.0 164.50,175.8 164.50,180.6 164.50,185.4 164.50,190.2 164.50,195.1 164.50,199.9 164.50,204.7 164.50,209.5 164.50,214.3 164.50,219.1 164.50,223.9 164.50,228.7 164.50,233.5 164.50,238.3 164.50,243.1 164.50,247.9"/><path d="M167.50,132.6 167.50,137.4 167.50,142.2 167.50,147.0 167.50,151.8 167.50,156.6 167.50,161.4 167.50,166.2 167.50,171.0 167.50,175.8 167.50,180.6 167.50,185.4 167.50,190.2 167.50,195.1 167.50,199.9 167.50,204.7 167.50,209.5 167.50,214.3 167.50,219.1 167.50,223.9 167.50,228.7 167.50,233.5 167.50,238.3 167.50,243.1 167.50,247.9"/><path d="M170.50,132.6 170.50,137.4 170.50,142.2 170.50,147.0 170.50,151.8 170.50,156.6 170.50,161.4 170.50,166.2 170.50,171.0 170.50,175.8 170.50,180.6 170.50,185.4 170.50,190.2 170.50,195.1 170.50,199.9 170.50,204.7 170.50,209.5 170.50,214.3 170.50,219.1 170.50,223.9 170.50,228.7 170.50,233.5 170.50,238.3 170.50,243.1 170.50,247.9"/><path d="M172.50,132.6 172.50,137.4 172.50,142.2 172.50,147.0 172.50,151.8 172.50,156.6 172.50,161.4 172.50,166.2 172.50,171.0 172.50,175.8 172.50,180.6 172.50,185.4 172.50,190.2 172.50,195.1 172.50,199.9 172.50,204.7 172.50,209.5 172.50,214.3 172.50,219.1 172.50,223.9 172.50,228.7 172.50,233.5 172.50,238.3 172.50,243.1 172.50,247.9"/><path d="M174.50,132.6 174.50,137.4 174.50,142.2 174.50,147.0 174.50,151.8 174.50,156.6 174.50,161.4 174.50,166.2 174.50,171.0 174.50,175.8 174.50,180.6 174.50,185.4 174.50,190.2 174.50,195.1 174.50,199.9 174.50,204.7 174.50,209.5 174.50,214.3 174.50,219.1 174.50,223.9 174.50,228.7 174.50,233.5 174.50,238.3 174.50,243.1 174.50,247.9"/><path d="M177.50,132.6 177.50,137.4 177.50,142.2 177.50,147.0 177.50,151.8 177.50,156.6 177.50,161.4 177.50,166.2 177.50,171.0 177.50,175.8 177.50,180.6 177.50,185.4 177.50,190.2 177.50,195.1 177.50,199.9 177.50,204.7 177.50,209.5 177.50,214.3 177.50,219.1 177.50,223.9 177.50,228.7 177.50,233.5 177.50,238.3 177.50,243.1 177.50,247.9"/><path d="M179.50,132.6 179.50,137.4 179.50,142.2 179.50,147.0 179.50,151.8 179.50,156.6 179.50,161.4 179.50,166.2 179.50,171.0 179.50,175.8 179.50,180.6 179.50,185.4 179.50,190.2 179.50,195.1 179.50,199.9 179.50,204.7 179.50,209.5 179.50,214.3 179.50,219.1 179.50,223.9 179.50,228.7 179.50,233.5 179.50,238.3 179.50,243.1 179.50,247.9"/><path d="M182.50,132.6 182.50,137.4 182.50,142.2 182.50,147.0 182.50,151.8 182.50,156.6 182.50,161.4 182.50,166.2 182.49,171.0 182.48,175.8 182.47,180.6 182.47,185.4 182.47,190.2 182.47,195.1 182.47,199.9 182.48,204.7 182.49,209.5 182.50,214.3 182.50,219.1 182.50,223.9 182.50,228.7 182.50,233.5 182.50,238.3 182.50,243.1 182.50,247.9"/><path d="M185.50,132.6 185.50,137.4 185.50,142.2 185.50,147.0 185.50,151.8 185.49,156.6 185.48,161.4 185.45,166.2 185.41,171.0 185.34,175.8 185.26,180.6 185.20,185.4 185.18,190.2 185.20,195.1 185.26,199.9 185.34,204.7 185.41,209.5 185.45,214.3 185.48,219.1 185.49,223.9 185.50,228.7 185.50,233.5 185.50,238.3 185.50,243.1 185.50,247.9"/><path d="M188.50,132.6 188.50,137.4 188.50,142.2 188.50,147.0 188.49,151.8 188.47,156.6 188.42,161.4 188.32,166.2 188.14,171.0 187.87,175.8 187.58,180.6 187.34,185.4 187.25,190.2 187.34,195.1 187.58,199.9 187.87,204.7 188.14,209.5 188.32,214.3 188.42,219.1 188.47,223.9 188.49,228.7 188.50,233.5 188.50,238.3 188.50,243.1 188.50,247.9"/><path d="M194.50,132.6 194.50,137.4 194.50,142.2 194.50,147.0 194.51,151.8 194.53,156.6 194.58,161.4 194.69,166.2 194.88,171.0 195.16,175.8 195.46,180.6 195.72,185.4 195.81,190.2 195.72,195.1 195.46,199.9 195.16,204.7 194.88,209.5 194.69,214.3 194.58,219.1 194.53,223.9 194.51,228.7 194.50,233.5 194.50,238.3 194.50,243.1 194.50,247.9"/><path d="M197.50,132.6 197.50,137.4 197.50,142.2 197.50,147.0 197.50,151.8 197.51,156.6 197.52,161.4 197.55,166.2 197.60,171.0 197.68,175.8 197.76,180.6 197.83,185.4 197.85,190.2 197.83,195.1 197.76,199.9 197.68,204.7 197.60,209.5 197.55,214.3 197.52,219.1 197.51,223.9 197.50,228.7 197.50,233.5 197.50,238.3 197.50,243.1 197.50,247.9"/><path d="M200.50,132.6 200.50,137.4 200.50,142.2 200.50,147.0 200.50,151.8 200.50,156.6 200.50,161.4 200.51,166.2 200.51,171.0 200.52,175.8 200.53,180.6 200.54,185.4 200.54,190.2 200.54,195.1 200.53,199.9 200.52,204.7 200.51,209.5 200.51,214.3 200.50,219.1 200.50,223.9 200.50,228.7 200.50,233.5 200.50,238.3 200.50,243.1 200.50,247.9"/><path d="M202.50,132.6 202.50,137.4 202.50,142.2 202.50,147.0 202.50,151.8 202.50,156.6 202.50,161.4 202.50,166.2 202.50,171.0 202.50,175.8 202.50,180.6 202.51,185.4 202.51,190.2 202.51,195.1 202.50,199.9 202.50,204.7 202.50,209.5 202.50,214.3 202.50,219.1 202.50,223.9 202.50,228.7 202.50,233.5 202.50,238.3 202.50,243.1 202.50,247.9"/><path d="M205.50,132.6 205.50,137.4 205.50,142.2 205.50,147.0 205.50,151.8 205.50,156.6 205.50,161.4 205.50,166.2 205.50,171.0 205.50,175.8 205.50,180.6 205.50,185.4 205.50,190.2 205.50,195.1 205.50,199.9 205.50,204.7 205.50,209.5 205.50,214.3 205.50,219.1 205.50,223.9 205.50,228.7 205.50,233.5 205.50,238.3 205.50,243.1 205.50,247.9"/><path d="M207.50,132.6 207.50,137.4 207.50,142.2 207.50,147.0 207.50,151.8 207.50,156.6 207.50,161.4 207.50,166.2 207.50,171.0 207.50,175.8 207.50,180.6 207.50,185.4 207.50,190.2 207.50,195.1 207.50,199.9 207.50,204.7 207.50,209.5 207.50,214.3 207.50,219.1 207.50,223.9 207.50,228.7 207.50,233.5 207.50,238.3 207.50,243.1 207.50,247.9"/><path d="M210.50,132.6 210.50,137.4 210.50,142.2 210.50,147.0 210.50,151.8 210.50,156.6 210.50,161.4 210.50,166.2 210.50,171.0 210.50,175.8 210.50,180.6 210.50,185.4 210.50,190.2 210.50,195.1 210.50,199.9 210.50,204.7 210.50,209.5 210.50,214.3 210.50,219.1 210.50,223.9 210.50,228.7 210.50,233.5 210.50,238.3 210.50,243.1 210.50,247.9"/><path d="M212.50,132.6 212.50,137.4 212.50,142.2 212.50,147.0 212.50,151.8 212.50,156.6 212.50,161.4 212.50,166.2 212.50,171.0 212.50,175.8 212.50,180.6 212.50,185.4 212.50,190.2 212.50,195.1 212.50,199.9 212.50,204.7 212.50,209.5 212.50,214.3 212.50,219.1 212.50,223.9 212.50,228.7 212.50,233.5 212.50,238.3 212.50,243.1 212.50,247.9"/><path d="M215.50,132.6 215.50,137.4 215.50,142.2 215.50,147.0 215.50,151.8 215.50,156.6 215.50,161.4 215.50,166.2 215.50,171.0 215.50,175.8 215.50,180.6 215.50,185.4 215.50,190.2 215.50,195.1 215.50,199.9 215.50,204.7 215.50,209.5 215.50,214.3 215.50,219.1 215.50,223.9 215.50,228.7 215.50,233.5 215.50,238.3 215.50,243.1 215.50,247.9"/><path d="M217.50,132.6 217.50,137.4 217.50,142.2 217.50,147.0 217.50,151.8 217.50,156.6 217.50,161.4 217.50,166.2 217.50,171.0 217.50,175.8 217.50,180.6 217.50,185.4 217.50,190.2 217.50,195.1 217.50,199.9 217.50,204.7 217.50,209.5 217.50,214.3 217.50,219.1 217.50,223.9 217.50,228.7 217.50,233.5 217.50,238.3 217.50,243.1 217.50,247.9"/><path d="M227.50,132.6 227.50,137.4 227.50,142.2 227.50,147.0 227.50,151.8 227.50,156.6 227.50,161.4 227.50,166.2 227.50,171.0 227.50,175.8 227.50,180.6 227.50,185.4 227.50,190.2 227.50,195.1 227.50,199.9 227.50,204.7 227.50,209.5 227.50,214.3 227.50,219.1 227.50,223.9 227.50,228.7 227.50,233.5 227.50,238.3 227.50,243.1 227.50,247.9"/><path d="M230.50,132.6 230.50,137.4 230.50,142.2 230.50,147.0 230.50,151.8 230.50,156.6 230.50,161.4 230.50,166.2 230.49,171.0 230.49,175.8 230.49,180.6 230.49,185.4 230.49,190.2 230.49,195.1 230.49,199.9 230.49,204.7 230.49,209.5 230.50,214.3 230.50,219.1 230.50,223.9 230.50,228.7 230.50,233.5 230.50,238.3 230.50,243.1 230.50,247.9"/><path d="M232.50,132.6 232.50,137.4 232.50,142.2 232.50,147.0 232.50,151.8 232.50,156.6 232.49,161.4 232.49,166.2 232.49,171.0 232.48,175.8 232.47,180.6 232.47,185.4 232.47,190.2 232.47,195.1 232.47,199.9 232.48,204.7 232.49,209.5 232.49,214.3 232.49,219.1 232.50,223.9 232.50,228.7 232.50,233.5 232.50,238.3 232.50,243.1 232.50,247.9"/><path d="M235.50,132.6 235.50,137.4 235.50,142.2 235.50,147.0 235.50,151.8 235.49,156.6 235.48,161.4 235.47,166.2 235.45,171.0 235.43,175.8 235.41,180.6 235.40,185.4 235.40,190.2 235.40,195.1 235.41,199.9 235.43,204.7 235.45,209.5 235.47,214.3 235.48,219.1 235.49,223.9 235.50,228.7 235.50,233.5 235.50,238.3 235.50,243.1 235.50,247.9"/><path d="M237.50,132.6 237.50,137.4 237.50,142.2 237.50,147.0 237.49,151.8 237.48,156.6 237.46,161.4 237.44,166.2 237.40,171.0 237.36,175.8 237.33,180.6 237.30,185.4 237.29,190.2 237.30,195.1 237.33,199.9 237.36,204.7 237.40,209.5 237.44,214.3 237.46,219.1 237.48,223.9 237.49,228.7 237.50,233.5 237.50,238.3 237.50,243.1 237.50,247.9"/><path d="M240.50,132.6 240.50,137.4 240.50,142.2 240.49,147.0 240.48,151.8 240.45,156.6 240.41,161.4 240.34,166.2 240.26,171.0 240.16,175.8 240.07,180.6 240.00,185.4 239.97,190.2 240.00,195.1 240.07,199.9 240.16,204.7 240.26,209.5 240.34,214.3 240.41,219.1 240.45,223.9 240.48,228.7 240.49,233.5 240.50,238.3 240.50,243.1 240.50,247.9"/><path d="M242.50,132.6 242.50,137.4 242.49,142.2 242.48,147.0 242.46,151.8 242.42,156.6 242.34,161.4 242.24,166.2 242.09,171.0 241.93,175.8 241.78,180.6 241.66,185.4 241.62,190.2 241.66,195.1 241.78,199.9 241.93,204.7 242.09,209.5 242.24,214.3 242.34,219.1 242.42,223.9 242.46,228.7 242.48,233.5 242.49,238.3 242.50,243.1 242.50,247.9"/><path d="M245.50,132.6 245.50,137.4 245.49,142.2 245.47,147.0 245.43,151.8 245.35,156.6 245.21,161.4 245.01,166.2 244.75,171.0 244.45,175.8 244.16,180.6 243.95,185.4 243.88,190.2 243.95,195.1 244.16,199.9 244.45,204.7 244.75,209.5 245.01,214.3 245.21,219.1 245.35,223.9 245.43,228.7 245.47,233.5 245.49,238.3 245.50,243.1 245.50,247.9"/><path d="M247.50,132.6 247.49,137.4 247.48,142.2 247.45,147.0 247.40,151.8 247.29,156.6 247.11,161.4 246.83,166.2 246.47,171.0 246.06,175.8 245.67,180.6 245.39,185.4 245.28,190.2 245.39,195.1 245.67,199.9 246.06,204.7 246.47,209.5 246.83,214.3 247.11,219.1 247.29,223.9 247.40,228.7 247.45,233.5 247.48,238.3 247.49,243.1 247.50,247.9"/><path d="M251.50,132.6 251.49,137.4 251.47,142.2 251.43,147.0 251.35,151.8 251.19,156.6 250.93,161.4 250.53,166.2 250.00,171.0 249.40,175.8 248.82,180.6 248.41,185.4 248.26,190.2 248.41,195.1 248.82,199.9 249.40,204.7 250.00,209.5 250.53,214.3 250.93,219.1 251.19,223.9 251.35,228.7 251.43,233.5 251.47,238.3 251.49,243.1 251.50,247.9"/><path d="M256.50,132.6 256.51,137.4 256.53,142.2 256.57,147.0 256.65,151.8 256.82,156.6 257.09,161.4 257.50,166.2 258.04,171.0 258.66,175.8 259.25,180.6 259.67,185.4 259.83,190.2 259.67,195.1 259.25,199.9 258.66,204.7 258.04,209.5 257.50,214.3 257.09,219.1 256.82,223.9 256.65,228.7 256.57,233.5 256.53,238.3 256.51,243.1 256.50,247.9"/><path d="M260.50,132.6 260.51,137.4 260.52,142.2 260.55,147.0 260.61,151.8 260.72,156.6 260.92,161.4 261.21,166.2 261.60,171.0 262.04,175.8 262.46,180.6 262.76,185.4 262.87,190.2 262.76,195.1 262.46,199.9 262.04,204.7 261.60,209.5 261.21,214.3 260.92,219.1 260.72,223.9 260.61,228.7 260.55,233.5 260.52,238.3 260.51,243.1 260.50,247.9"/><path d="M262.50,132.6 262.51,137.4 262.51,142.2 262.54,147.0 262.58,151.8 262.67,156.6 262.81,161.4 263.03,166.2 263.32,171.0 263.65,175.8 263.96,180.6 264.19,185.4 264.27,190.2 264.19,195.1 263.96,199.9 263.65,204.7 263.32,209.5 263.03,214.3 262.81,219.1 262.67,223.9 262.58,228.7 262.54,233.5 262.51,238.3 262.51,243.1 262.50,247.9"/><path d="M265.50,132.6 265.50,137.4 265.51,142.2 265.52,147.0 265.55,151.8 265.59,156.6 265.68,161.4 265.80,166.2 265.96,171.0 266.14,175.8 266.32,180.6 266.44,185.4 266.49,190.2 266.44,195.1 266.32,199.9 266.14,204.7 265.96,209.5 265.80,214.3 265.68,219.1 265.59,223.9 265.55,228.7 265.52,233.5 265.51,238.3 265.50,243.1 265.50,247.9"/><path d="M267.50,132.6 267.50,137.4 267.50,142.2 267.51,147.0 267.53,151.8 267.56,156.6 267.61,161.4 267.68,166.2 267.78,171.0 267.89,175.8 268.00,180.6 268.08,185.4 268.11,190.2 268.08,195.1 268.00,199.9 267.89,204.7 267.78,209.5 267.68,214.3 267.61,219.1 267.56,223.9 267.53,228.7 267.51,233.5 267.50,238.3 267.50,243.1 267.50,247.9"/><path d="M270.50,132.6 270.50,137.4 270.50,142.2 270.51,147.0 270.51,151.8 270.52,156.6 270.54,161.4 270.58,166.2 270.62,171.0 270.66,175.8 270.71,180.6 270.74,185.4 270.75,190.2 270.74,195.1 270.71,199.9 270.66,204.7 270.62,209.5 270.58,214.3 270.54,219.1 270.52,223.9 270.51,228.7 270.51,233.5 270.50,238.3 270.50,243.1 270.50,247.9"/><path d="M272.50,132.6 272.50,137.4 272.50,142.2 272.50,147.0 272.51,151.8 272.51,156.6 272.52,161.4 272.54,166.2 272.56,171.0 272.58,175.8 272.60,180.6 272.62,185.4 272.63,190.2 272.62,195.1 272.60,199.9 272.58,204.7 272.56,209.5 272.54,214.3 272.52,219.1 272.51,223.9 272.51,228.7 272.50,233.5 272.50,238.3 272.50,243.1 272.50,247.9"/><path d="M275.50,132.6 275.50,137.4 275.50,142.2 275.50,147.0 275.50,151.8 275.50,156.6 275.51,161.4 275.51,166.2 275.52,171.0 275.52,175.8 275.53,180.6 275.54,185.4 275.54,190.2 275.54,195.1 275.53,199.9 275.52,204.7 275.52,209.5 275.51,214.3 275.51,219.1 275.50,223.9 275.50,228.7 275.50,233.5 275.50,238.3 275.50,243.1 275.50,247.9"/><path d="M278.50,132.6 278.50,137.4 278.50,142.2 278.50,147.0 278.50,151.8 278.50,156.6 278.50,161.4 278.50,166.2 278.50,171.0 278.51,175.8 278.51,180.6 278.51,185.4 278.51,190.2 278.51,195.1 278.51,199.9 278.51,204.7 278.50,209.5 278.50,214.3 278.50,219.1 278.50,223.9 278.50,228.7 278.50,233.5 278.50,238.3 278.50,243.1 278.50,247.9"/><path d="M280.50,132.6 280.50,137.4 280.50,142.2 280.50,147.0 280.50,151.8 280.50,156.6 280.50,161.4 280.50,166.2 280.50,171.0 280.50,175.8 280.50,180.6 280.50,185.4 280.50,190.2 280.50,195.1 280.50,199.9 280.50,204.7 280.50,209.5 280.50,214.3 280.50,219.1 280.50,223.9 280.50,228.7 280.50,233.5 280.50,238.3 280.50,243.1 280.50,247.9"/><path d="M290.50,132.6 290.50,137.4 290.50,142.2 290.50,147.0 290.50,151.8 290.50,156.6 290.50,161.4 290.50,166.2 290.50,171.0 290.50,175.8 290.50,180.6 290.50,185.4 290.50,190.2 290.50,195.1 290.50,199.9 290.50,204.7 290.50,209.5 290.50,214.3 290.50,219.1 290.50,223.9 290.50,228.7 290.50,233.5 290.50,238.3 290.50,243.1 290.50,247.9"/><path d="M292.50,132.6 292.50,137.4 292.50,142.2 292.50,147.0 292.50,151.8 292.50,156.6 292.50,161.4 292.50,166.2 292.49,171.0 292.49,175.8 292.49,180.6 292.49,185.4 292.49,190.2 292.49,195.1 292.49,199.9 292.49,204.7 292.49,209.5 292.50,214.3 292.50,219.1 292.50,223.9 292.50,228.7 292.50,233.5 292.50,238.3 292.50,243.1 292.50,247.9"/><path d="M295.50,132.6 295.50,137.4 295.50,142.2 295.50,147.0 295.50,151.8 295.50,156.6 295.49,161.4 295.49,166.2 295.48,171.0 295.47,175.8 295.46,180.6 295.46,185.4 295.45,190.2 295.46,195.1 295.46,199.9 295.47,204.7 295.48,209.5 295.49,214.3 295.49,219.1 295.50,223.9 295.50,228.7 295.50,233.5 295.50,238.3 295.50,243.1 295.50,247.9"/><path d="M297.50,132.6 297.50,137.4 297.50,142.2 297.50,147.0 297.50,151.8 297.49,156.6 297.48,161.4 297.47,166.2 297.45,171.0 297.43,175.8 297.42,180.6 297.40,185.4 297.40,190.2 297.40,195.1 297.42,199.9 297.43,204.7 297.45,209.5 297.47,214.3 297.48,219.1 297.49,223.9 297.50,228.7 297.50,233.5 297.50,238.3 297.50,243.1 297.50,247.9"/><path d="M300.50,132.6 300.50,137.4 300.50,142.2 300.49,147.0 300.49,151.8 300.47,156.6 300.45,161.4 300.41,166.2 300.36,171.0 300.30,175.8 300.25,180.6 300.21,185.4 300.20,190.2 300.21,195.1 300.25,199.9 300.30,204.7 300.36,209.5 300.41,214.3 300.45,219.1 300.47,223.9 300.49,228.7 300.49,233.5 300.50,238.3 300.50,243.1 300.50,247.9"/><path d="M302.50,132.6 302.50,137.4 302.50,142.2 302.49,147.0 302.47,151.8 302.45,156.6 302.40,161.4 302.33,166.2 302.24,171.0 302.14,175.8 302.04,180.6 301.97,185.4 301.94,190.2 301.97,195.1 302.04,199.9 302.14,204.7 302.24,209.5 302.33,214.3 302.40,219.1 302.45,223.9 302.47,228.7 302.49,233.5 302.50,238.3 302.50,243.1 302.50,247.9"/><path d="M305.50,132.6 305.50,137.4 305.49,142.2 305.48,147.0 305.44,151.8 305.38,156.6 305.28,161.4 305.13,166.2 304.94,171.0 304.71,175.8 304.50,180.6 304.34,185.4 304.28,190.2 304.34,195.1 304.50,199.9 304.71,204.7 304.94,209.5 305.13,214.3 305.28,219.1 305.38,223.9 305.44,228.7 305.48,233.5 305.49,238.3 305.50,243.1 305.50,247.9"/><path d="M307.50,132.6 307.49,137.4 307.48,142.2 307.46,147.0 307.41,151.8 307.33,156.6 307.17,161.4 306.95,166.2 306.64,171.0 306.30,175.8 305.98,180.6 305.74,185.4 305.65,190.2 305.74,195.1 305.98,199.9 306.30,204.7 306.64,209.5 306.95,214.3 307.17,219.1 307.33,223.9 307.41,228.7 307.46,233.5 307.48,238.3 307.49,243.1 307.50,247.9"/><path d="M310.50,132.6 310.49,137.4 310.48,142.2 310.44,147.0 310.36,151.8 310.22,156.6 309.97,161.4 309.61,166.2 309.12,171.0 308.57,175.8 308.05,180.6 307.67,185.4 307.53,190.2 307.67,195.1 308.05,199.9 308.57,204.7 309.12,209.5 309.61,214.3 309.97,219.1 310.22,223.9 310.36,228.7 310.44,233.5 310.48,238.3 310.49,243.1 310.50,247.9"/><path d="M313.50,132.6 313.49,137.4 313.47,142.2 313.42,147.0 313.32,151.8 313.12,156.6 312.79,161.4 312.30,166.2 311.65,171.0 310.91,175.8 310.20,180.6 309.69,185.4 309.50,190.2 309.69,195.1 310.20,199.9 310.91,204.7 311.65,209.5 312.30,214.3 312.79,219.1 313.12,223.9 313.32,228.7 313.42,233.5 313.47,238.3 313.49,243.1 313.50,247.9"/><path d="M319.50,132.6 319.51,137.4 319.53,142.2 319.59,147.0 319.69,151.8 319.90,156.6 320.25,161.4 320.77,166.2 321.45,171.0 322.23,175.8 322.98,180.6 323.52,185.4 323.71,190.2 323.52,195.1 322.98,199.9 322.23,204.7 321.45,209.5 320.77,214.3 320.25,219.1 319.90,223.9 319.69,228.7 319.59,233.5 319.53,238.3 319.51,243.1 319.50,247.9"/><path d="M323.50,132.6 323.51,137.4 323.52,142.2 323.56,147.0 323.63,151.8 323.78,156.6 324.02,161.4 324.38,166.2 324.86,171.0 325.40,175.8 325.91,180.6 326.29,185.4 326.43,190.2 326.29,195.1 325.91,199.9 325.40,204.7 324.86,209.5 324.38,214.3 324.02,219.1 323.78,223.9 323.63,228.7 323.56,233.5 323.52,238.3 323.51,243.1 323.50,247.9"/><path d="M325.50,132.6 325.51,137.4 325.52,142.2 325.54,147.0 325.60,151.8 325.70,156.6 325.88,161.4 326.15,166.2 326.50,171.0 326.90,175.8 327.28,180.6 327.56,185.4 327.66,190.2 327.56,195.1 327.28,199.9 326.90,204.7 326.50,209.5 326.15,214.3 325.88,219.1 325.70,223.9 325.60,228.7 325.54,233.5 325.52,238.3 325.51,243.1 325.50,247.9"/><path d="M328.50,132.6 328.50,137.4 328.51,142.2 328.52,147.0 328.55,151.8 328.61,156.6 328.71,161.4 328.86,166.2 329.05,171.0 329.27,175.8 329.48,180.6 329.63,185.4 329.68,190.2 329.63,195.1 329.48,199.9 329.27,204.7 329.05,209.5 328.86,214.3 328.71,219.1 328.61,223.9 328.55,228.7 328.52,233.5 328.51,238.3 328.50,243.1 328.50,247.9"/><path d="M330.50,132.6 330.50,137.4 330.51,142.2 330.51,147.0 330.53,151.8 330.57,156.6 330.63,161.4 330.72,166.2 330.83,171.0 330.96,175.8 331.09,180.6 331.18,185.4 331.22,190.2 331.18,195.1 331.09,199.9 330.96,204.7 330.83,209.5 330.72,214.3 330.63,219.1 330.57,223.9 330.53,228.7 330.51,233.5 330.51,238.3 330.50,243.1 330.50,247.9"/><path d="M333.50,132.6 333.50,137.4 333.50,142.2 333.51,147.0 333.51,151.8 333.53,156.6 333.55,161.4 333.59,166.2 333.63,171.0 333.69,175.8 333.74,180.6 333.78,185.4 333.79,190.2 333.78,195.1 333.74,199.9 333.69,204.7 333.63,209.5 333.59,214.3 333.55,219.1 333.53,223.9 333.51,228.7 333.51,233.5 333.50,238.3 333.50,243.1 333.50,247.9"/><path d="M335.50,132.6 335.50,137.4 335.50,142.2 335.50,147.0 335.51,151.8 335.51,156.6 335.53,161.4 335.54,166.2 335.57,171.0 335.59,175.8 335.62,180.6 335.64,185.4 335.64,190.2 335.64,195.1 335.62,199.9 335.59,204.7 335.57,209.5 335.54,214.3 335.53,219.1 335.51,223.9 335.51,228.7 335.50,233.5 335.50,238.3 335.50,243.1 335.50,247.9"/><path d="M338.50,132.6 338.50,137.4 338.50,142.2 338.50,147.0 338.50,151.8 338.50,156.6 338.51,161.4 338.51,166.2 338.52,171.0 338.53,175.8 338.54,180.6 338.54,185.4 338.54,190.2 338.54,195.1 338.54,199.9 338.53,204.7 338.52,209.5 338.51,214.3 338.51,219.1 338.50,223.9 338.50,228.7 338.50,233.5 338.50,238.3 338.50,243.1 338.50,247.9"/><path d="M340.50,132.6 340.50,137.4 340.50,142.2 340.50,147.0 340.50,151.8 340.50,156.6 340.50,161.4 340.51,166.2 340.51,171.0 340.51,175.8 340.51,180.6 340.52,185.4 340.52,190.2 340.52,195.1 340.51,199.9 340.51,204.7 340.51,209.5 340.51,214.3 340.50,219.1 340.50,223.9 340.50,228.7 340.50,233.5 340.50,238.3 340.50,243.1 340.50,247.9"/><path d="M343.50,132.6 343.50,137.4 343.50,142.2 343.50,147.0 343.50,151.8 343.50,156.6 343.50,161.4 343.50,166.2 343.50,171.0 343.50,175.8 343.50,180.6 343.50,185.4 343.50,190.2 343.50,195.1 343.50,199.9 343.50,204.7 343.50,209.5 343.50,214.3 343.50,219.1 343.50,223.9 343.50,228.7 343.50,233.5 343.50,238.3 343.50,243.1 343.50,247.9"/></g><g fill="none" stroke="#fff" stroke-opacity="0.2" stroke-width="0.5"><path d="M254.26,54.00Q259.06,62.00 254.26,70.00Q249.46,62.00 254.26,54.00Z"/><path d="M254.26,50.00Q261.46,62.00 254.26,74.00Q247.06,62.00 254.26,50.00Z"/><path d="M254.26,44.00Q265.26,62.00 254.26,80.00Q243.26,62.00 254.26,44.00Z"/><path d="M316.94,54.00Q321.74,62.00 316.94,70.00Q312.14,62.00 316.94,54.00Z"/><path d="M316.94,50.00Q324.14,62.00 316.94,74.00Q309.74,62.00 316.94,50.00Z"/><path d="M316.94,44.00Q327.94,62.00 316.94,80.00Q305.94,62.00 316.94,44.00Z"/><path d="M316.94,36.00Q331.94,62.00 316.94,88.00Q301.94,62.00 316.94,36.00Z"/><path d="M254.26,183.45Q258.66,191.45 254.26,199.45Q249.86,191.45 254.26,183.45Z"/><path d="M254.26,179.45Q260.66,191.45 254.26,203.45Q247.86,191.45 254.26,179.45Z"/><path d="M254.26,174.45Q263.46,191.45 254.26,208.45Q245.06,191.45 254.26,174.45Z"/><path d="M316.94,183.45Q321.74,191.45 316.94,199.45Q312.14,191.45 316.94,183.45Z"/><path d="M316.94,179.45Q324.14,191.45 316.94,203.45Q309.74,191.45 316.94,179.45Z"/><path d="M316.94,173.45Q327.34,191.45 316.94,209.45Q306.54,191.45 316.94,173.45Z"/></g><g fill="#fff" fill-opacity="0.7"><rect x="102.05" y="57.50" width="0.9" height="0.8"/><rect x="104.05" y="57.50" width="0.9" height="0.8"/><rect x="107.05" y="57.50" width="0.9" height="0.8"/><rect x="109.05" y="57.50" width="0.9" height="0.8"/><rect x="112.05" y="57.50" width="0.9" height="0.8"/><rect x="114.05" y="57.50" width="0.9" height="0.8"/><rect x="117.05" y="57.50" width="0.9" height="0.8"/><rect x="119.03" y="57.50" width="0.9" height="0.8"/><rect x="121.80" y="57.50" width="0.9" height="0.8"/><rect x="123.98" y="57.50" width="0.9" height="0.8"/><rect x="132.47" y="60.00" width="0.9" height="0.8"/><rect x="135.28" y="60.00" width="0.9" height="0.8"/><rect x="137.10" y="60.00" width="0.9" height="0.8"/><rect x="140.05" y="60.00" width="0.9" height="0.8"/><rect x="142.05" y="60.00" width="0.9" height="0.8"/><rect x="145.05" y="60.00" width="0.9" height="0.8"/><rect x="147.05" y="60.00" width="0.9" height="0.8"/><rect x="150.05" y="60.00" width="0.9" height="0.8"/><rect x="152.05" y="60.00" width="0.9" height="0.8"/><rect x="155.05" y="60.00" width="0.9" height="0.8"/><rect x="164.05" y="60.30" width="0.9" height="0.8"/><rect x="167.05" y="60.30" width="0.9" height="0.8"/><rect x="170.05" y="60.30" width="0.9" height="0.8"/><rect x="172.05" y="60.30" width="0.9" height="0.8"/><rect x="174.05" y="60.30" width="0.9" height="0.8"/><rect x="177.05" y="60.30" width="0.9" height="0.8"/><rect x="179.05" y="60.30" width="0.9" height="0.8"/><rect x="182.02" y="60.30" width="0.9" height="0.8"/><rect x="184.73" y="60.30" width="0.9" height="0.8"/><rect x="186.80" y="60.30" width="0.9" height="0.8"/><rect x="195.36" y="62.20" width="0.9" height="0.8"/><rect x="197.40" y="62.20" width="0.9" height="0.8"/><rect x="200.09" y="62.20" width="0.9" height="0.8"/><rect x="202.06" y="62.20" width="0.9" height="0.8"/><rect x="205.05" y="62.20" width="0.9" height="0.8"/><rect x="207.05" y="62.20" width="0.9" height="0.8"/><rect x="210.05" y="62.20" width="0.9" height="0.8"/><rect x="212.05" y="62.20" width="0.9" height="0.8"/><rect x="215.05" y="62.20" width="0.9" height="0.8"/><rect x="217.05" y="62.20" width="0.9" height="0.8"/><rect x="227.05" y="60.00" width="0.9" height="0.8"/><rect x="230.04" y="60.00" width="0.9" height="0.8"/><rect x="232.02" y="60.00" width="0.9" height="0.8"/><rect x="234.95" y="60.00" width="0.9" height="0.8"/><rect x="236.84" y="60.00" width="0.9" height="0.8"/><rect x="239.53" y="60.00" width="0.9" height="0.8"/><rect x="241.18" y="60.00" width="0.9" height="0.8"/><rect x="243.43" y="60.00" width="0.9" height="0.8"/><rect x="244.84" y="60.00" width="0.9" height="0.8"/><rect x="247.82" y="60.00" width="0.9" height="0.8"/><rect x="259.37" y="62.25" width="0.9" height="0.8"/><rect x="262.42" y="62.25" width="0.9" height="0.8"/><rect x="263.82" y="62.25" width="0.9" height="0.8"/><rect x="266.04" y="62.25" width="0.9" height="0.8"/><rect x="267.66" y="62.25" width="0.9" height="0.8"/><rect x="270.30" y="62.25" width="0.9" height="0.8"/><rect x="272.18" y="62.25" width="0.9" height="0.8"/><rect x="275.09" y="62.25" width="0.9" height="0.8"/><rect x="278.06" y="62.25" width="0.9" height="0.8"/><rect x="280.05" y="62.25" width="0.9" height="0.8"/><rect x="290.05" y="59.95" width="0.9" height="0.8"/><rect x="292.04" y="59.95" width="0.9" height="0.8"/><rect x="295.00" y="59.95" width="0.9" height="0.8"/><rect x="296.95" y="59.95" width="0.9" height="0.8"/><rect x="299.75" y="59.95" width="0.9" height="0.8"/><rect x="301.49" y="59.95" width="0.9" height="0.8"/><rect x="303.84" y="59.95" width="0.9" height="0.8"/><rect x="305.21" y="59.95" width="0.9" height="0.8"/><rect x="307.09" y="59.95" width="0.9" height="0.8"/><rect x="309.07" y="59.95" width="0.9" height="0.8"/><rect x="323.25" y="62.85" width="0.9" height="0.8"/><rect x="325.96" y="62.85" width="0.9" height="0.8"/><rect x="327.20" y="62.85" width="0.9" height="0.8"/><rect x="329.23" y="62.85" width="0.9" height="0.8"/><rect x="330.76" y="62.85" width="0.9" height="0.8"/><rect x="333.34" y="62.85" width="0.9" height="0.8"/><rect x="335.19" y="62.85" width="0.9" height="0.8"/><rect x="338.09" y="62.85" width="0.9" height="0.8"/><rect x="340.07" y="62.85" width="0.9" height="0.8"/><rect x="343.05" y="62.85" width="0.9" height="0.8"/><rect x="102.05" y="186.00" width="0.9" height="0.8"/><rect x="104.05" y="186.00" width="0.9" height="0.8"/><rect x="107.05" y="186.00" width="0.9" height="0.8"/><rect x="109.05" y="186.00" width="0.9" height="0.8"/><rect x="112.05" y="186.00" width="0.9" height="0.8"/><rect x="114.05" y="186.00" width="0.9" height="0.8"/><rect x="117.05" y="186.00" width="0.9" height="0.8"/><rect x="119.03" y="186.00" width="0.9" height="0.8"/><rect x="121.80" y="186.00" width="0.9" height="0.8"/><rect x="123.97" y="186.00" width="0.9" height="0.8"/><rect x="132.48" y="189.10" width="0.9" height="0.8"/><rect x="135.28" y="189.10" width="0.9" height="0.8"/><rect x="137.10" y="189.10" width="0.9" height="0.8"/><rect x="140.05" y="189.10" width="0.9" height="0.8"/><rect x="142.05" y="189.10" width="0.9" height="0.8"/><rect x="145.05" y="189.10" width="0.9" height="0.8"/><rect x="147.05" y="189.10" width="0.9" height="0.8"/><rect x="150.05" y="189.10" width="0.9" height="0.8"/><rect x="152.05" y="189.10" width="0.9" height="0.8"/><rect x="155.05" y="189.10" width="0.9" height="0.8"/><rect x="164.05" y="186.05" width="0.9" height="0.8"/><rect x="167.05" y="186.05" width="0.9" height="0.8"/><rect x="170.05" y="186.05" width="0.9" height="0.8"/><rect x="172.05" y="186.05" width="0.9" height="0.8"/><rect x="174.05" y="186.05" width="0.9" height="0.8"/><rect x="177.05" y="186.05" width="0.9" height="0.8"/><rect x="179.05" y="186.05" width="0.9" height="0.8"/><rect x="182.02" y="186.05" width="0.9" height="0.8"/><rect x="184.74" y="186.05" width="0.9" height="0.8"/><rect x="186.86" y="186.05" width="0.9" height="0.8"/><rect x="195.36" y="189.05" width="0.9" height="0.8"/><rect x="197.40" y="189.05" width="0.9" height="0.8"/><rect x="200.09" y="189.05" width="0.9" height="0.8"/><rect x="202.06" y="189.05" width="0.9" height="0.8"/><rect x="205.05" y="189.05" width="0.9" height="0.8"/><rect x="207.05" y="189.05" width="0.9" height="0.8"/><rect x="210.05" y="189.05" width="0.9" height="0.8"/><rect x="212.05" y="189.05" width="0.9" height="0.8"/><rect x="215.05" y="189.05" width="0.9" height="0.8"/><rect x="217.05" y="189.05" width="0.9" height="0.8"/><rect x="227.05" y="188.50" width="0.9" height="0.8"/><rect x="230.04" y="188.50" width="0.9" height="0.8"/><rect x="232.02" y="188.50" width="0.9" height="0.8"/><rect x="234.95" y="188.50" width="0.9" height="0.8"/><rect x="236.84" y="188.50" width="0.9" height="0.8"/><rect x="239.53" y="188.50" width="0.9" height="0.8"/><rect x="241.18" y="188.50" width="0.9" height="0.8"/><rect x="243.43" y="188.50" width="0.9" height="0.8"/><rect x="244.84" y="188.50" width="0.9" height="0.8"/><rect x="247.82" y="188.50" width="0.9" height="0.8"/><rect x="259.37" y="190.90" width="0.9" height="0.8"/><rect x="262.42" y="190.90" width="0.9" height="0.8"/><rect x="263.82" y="190.90" width="0.9" height="0.8"/><rect x="266.04" y="190.90" width="0.9" height="0.8"/><rect x="267.66" y="190.90" width="0.9" height="0.8"/><rect x="270.30" y="190.90" width="0.9" height="0.8"/><rect x="272.18" y="190.90" width="0.9" height="0.8"/><rect x="275.09" y="190.90" width="0.9" height="0.8"/><rect x="278.06" y="190.90" width="0.9" height="0.8"/><rect x="280.05" y="190.90" width="0.9" height="0.8"/><rect x="290.05" y="188.45" width="0.9" height="0.8"/><rect x="292.04" y="188.45" width="0.9" height="0.8"/><rect x="295.00" y="188.45" width="0.9" height="0.8"/><rect x="296.95" y="188.45" width="0.9" height="0.8"/><rect x="299.75" y="188.45" width="0.9" height="0.8"/><rect x="301.49" y="188.45" width="0.9" height="0.8"/><rect x="303.84" y="188.45" width="0.9" height="0.8"/><rect x="305.21" y="188.45" width="0.9" height="0.8"/><rect x="307.09" y="188.45" width="0.9" height="0.8"/><rect x="309.07" y="188.45" width="0.9" height="0.8"/><rect x="323.26" y="190.85" width="0.9" height="0.8"/><rect x="325.97" y="190.85" width="0.9" height="0.8"/><rect x="327.21" y="190.85" width="0.9" height="0.8"/><rect x="329.23" y="190.85" width="0.9" height="0.8"/><rect x="330.76" y="190.85" width="0.9" height="0.8"/><rect x="333.34" y="190.85" width="0.9" height="0.8"/><rect x="335.19" y="190.85" width="0.9" height="0.8"/><rect x="338.09" y="190.85" width="0.9" height="0.8"/><rect x="340.07" y="190.85" width="0.9" height="0.8"/><rect x="343.05" y="190.85" width="0.9" height="0.8"/></g><rect x="127.45" y="56.10" width="2.9" height="11.8" rx="0.7" fill="#140c6a" stroke="#2c9470" stroke-width="0.5"/><rect x="190.13" y="56.10" width="2.9" height="11.8" rx="0.7" fill="#140c6a" stroke="#2c9470" stroke-width="0.5"/><rect x="252.81" y="56.10" width="2.9" height="11.8" rx="0.7" fill="#140c6a" stroke="#2c9470" stroke-width="0.5"/><ellipse cx="254.26" cy="62.00" rx="0.8" ry="2.0" fill="#d8f2c8"/><rect x="315.49" y="56.10" width="2.9" height="11.8" rx="0.7" fill="#140c6a" stroke="#2c9470" stroke-width="0.5"/><ellipse cx="316.94" cy="62.00" rx="0.8" ry="2.0" fill="#d8f2c8"/><rect x="127.45" y="185.55" width="2.9" height="11.8" rx="0.7" fill="#140c6a" stroke="#2c9470" stroke-width="0.5"/><rect x="190.13" y="185.55" width="2.9" height="11.8" rx="0.7" fill="#140c6a" stroke="#2c9470" stroke-width="0.5"/><rect x="252.81" y="185.55" width="2.9" height="11.8" rx="0.7" fill="#140c6a" stroke="#2c9470" stroke-width="0.5"/><rect x="315.49" y="185.55" width="2.9" height="11.8" rx="0.7" fill="#140c6a" stroke="#2c9470" stroke-width="0.5"/><g font-family="DejaVu Sans, Liberation Sans, sans-serif" font-size="2.7" fill="#000" stroke="#000" stroke-width="0.12"><text x="126.90" y="2.40" text-anchor="middle">T = 0.001</text><text x="105.48" y="122.75" text-anchor="middle" font-size="2.1">−0.4</text><text x="116.94" y="122.75" text-anchor="middle" font-size="2.1">−0.2</text><text x="128.40" y="122.75" text-anchor="middle" font-size="2.1">0.0</text><text x="139.86" y="122.75" text-anchor="middle" font-size="2.1">0.2</text><text x="151.32" y="122.75" text-anchor="middle" font-size="2.1">0.4</text><text x="190.50" y="2.40" text-anchor="middle">T = 0.002</text><text x="168.16" y="122.75" text-anchor="middle" font-size="2.1">−0.4</text><text x="179.62" y="122.75" text-anchor="middle" font-size="2.1">−0.2</text><text x="191.08" y="122.75" text-anchor="middle" font-size="2.1">0.0</text><text x="202.54" y="122.75" text-anchor="middle" font-size="2.1">0.2</text><text x="214.00" y="122.75" text-anchor="middle" font-size="2.1">0.4</text><text x="252.30" y="2.40" text-anchor="middle">T = 0.004</text><text x="230.84" y="122.75" text-anchor="middle" font-size="2.1">−0.4</text><text x="242.30" y="122.75" text-anchor="middle" font-size="2.1">−0.2</text><text x="253.76" y="122.75" text-anchor="middle" font-size="2.1">0.0</text><text x="265.22" y="122.75" text-anchor="middle" font-size="2.1">0.2</text><text x="276.68" y="122.75" text-anchor="middle" font-size="2.1">0.4</text><text x="318.20" y="2.40" text-anchor="middle">T = 0.007</text><text x="293.52" y="122.75" text-anchor="middle" font-size="2.1">−0.4</text><text x="304.98" y="122.75" text-anchor="middle" font-size="2.1">−0.2</text><text x="316.44" y="122.75" text-anchor="middle" font-size="2.1">0.0</text><text x="327.90" y="122.75" text-anchor="middle" font-size="2.1">0.2</text><text x="339.36" y="122.75" text-anchor="middle" font-size="2.1">0.4</text><text x="96.0" y="4.55" text-anchor="end" font-size="2.1">1.00</text><text x="96.0" y="18.96" text-anchor="end" font-size="2.1">0.75</text><text x="96.0" y="33.38" text-anchor="end" font-size="2.1">0.50</text><text x="96.0" y="47.79" text-anchor="end" font-size="2.1">0.25</text><text x="96.0" y="62.20" text-anchor="end" font-size="2.1">0.00</text><text x="96.0" y="76.61" text-anchor="end" font-size="2.1">−0.25</text><text x="96.0" y="91.02" text-anchor="end" font-size="2.1">−0.50</text><text x="96.0" y="105.44" text-anchor="end" font-size="2.1">−0.75</text><text x="96.0" y="119.85" text-anchor="end" font-size="2.1">−1.00</text><text x="127.00" y="131.00" text-anchor="middle">T = 0.001</text><text x="105.48" y="251.15" text-anchor="middle" font-size="2.1">−0.4</text><text x="116.94" y="251.15" text-anchor="middle" font-size="2.1">−0.2</text><text x="128.40" y="251.15" text-anchor="middle" font-size="2.1">0.0</text><text x="139.86" y="251.15" text-anchor="middle" font-size="2.1">0.2</text><text x="151.32" y="251.15" text-anchor="middle" font-size="2.1">0.4</text><text x="189.00" y="131.00" text-anchor="middle">T = 0.002</text><text x="168.16" y="251.15" text-anchor="middle" font-size="2.1">−0.4</text><text x="179.62" y="251.15" text-anchor="middle" font-size="2.1">−0.2</text><text x="191.08" y="251.15" text-anchor="middle" font-size="2.1">0.0</text><text x="202.54" y="251.15" text-anchor="middle" font-size="2.1">0.2</text><text x="214.00" y="251.15" text-anchor="middle" font-size="2.1">0.4</text><text x="254.10" y="131.00" text-anchor="middle">T = 0.004</text><text x="230.84" y="251.15" text-anchor="middle" font-size="2.1">−0.4</text><text x="242.30" y="251.15" text-anchor="middle" font-size="2.1">−0.2</text><text x="253.76" y="251.15" text-anchor="middle" font-size="2.1">0.0</text><text x="265.22" y="251.15" text-anchor="middle" font-size="2.1">0.2</text><text x="276.68" y="251.15" text-anchor="middle" font-size="2.1">0.4</text><text x="316.60" y="131.00" text-anchor="middle">T = 0.007</text><text x="293.52" y="251.15" text-anchor="middle" font-size="2.1">−0.4</text><text x="304.98" y="251.15" text-anchor="middle" font-size="2.1">−0.2</text><text x="316.44" y="251.15" text-anchor="middle" font-size="2.1">0.0</text><text x="327.90" y="251.15" text-anchor="middle" font-size="2.1">0.2</text><text x="339.36" y="251.15" text-anchor="middle" font-size="2.1">0.4</text><text x="96.0" y="134.35" text-anchor="end" font-size="2.1">1.00</text><text x="96.0" y="148.76" text-anchor="end" font-size="2.1">0.75</text><text x="96.0" y="163.17" text-anchor="end" font-size="2.1">0.50</text><text x="96.0" y="177.59" text-anchor="end" font-size="2.1">0.25</text><text x="96.0" y="192.00" text-anchor="end" font-size="2.1">0.00</text><text x="96.0" y="206.41" text-anchor="end" font-size="2.1">−0.25</text><text x="96.0" y="220.82" text-anchor="end" font-size="2.1">−0.50</text><text x="96.0" y="235.24" text-anchor="end" font-size="2.1">−0.75</text><text x="96.0" y="249.65" text-anchor="end" font-size="2.1">−1.00</text><text x="353.9" y="104.40" font-size="1.8">0</text><line x1="352.20" x2="353.00" y1="103.60" y2="103.60" stroke="#333" stroke-width="0.3"/><text x="353.9" y="87.64" font-size="1.8">20</text><line x1="352.20" x2="353.00" y1="86.84" y2="86.84" stroke="#333" stroke-width="0.3"/><text x="353.9" y="70.88" font-size="1.8">40</text><line x1="352.20" x2="353.00" y1="70.08" y2="70.08" stroke="#333" stroke-width="0.3"/><text x="353.9" y="54.12" font-size="1.8">60</text><line x1="352.20" x2="353.00" y1="53.32" y2="53.32" stroke="#333" stroke-width="0.3"/><text x="353.9" y="37.36" font-size="1.8">80</text><line x1="352.20" x2="353.00" y1="36.56" y2="36.56" stroke="#333" stroke-width="0.3"/><text x="353.9" y="20.60" font-size="1.8">100</text><line x1="352.20" x2="353.00" y1="19.80" y2="19.80" stroke="#333" stroke-width="0.3"/><text transform="translate(357.5,59.20) rotate(90)" text-anchor="middle" font-size="2.0" fill="#333" stroke="none">Vorticity |ω|</text><text x="353.9" y="237.40" font-size="1.8">0</text><line x1="352.20" x2="353.00" y1="236.60" y2="236.60" stroke="#333" stroke-width="0.3"/><text x="353.9" y="220.66" font-size="1.8">20</text><line x1="352.20" x2="353.00" y1="219.86" y2="219.86" stroke="#333" stroke-width="0.3"/><text x="353.9" y="203.92" font-size="1.8">40</text><line x1="352.20" x2="353.00" y1="203.12" y2="203.12" stroke="#333" stroke-width="0.3"/><text x="353.9" y="187.18" font-size="1.8">60</text><line x1="352.20" x2="353.00" y1="186.38" y2="186.38" stroke="#333" stroke-width="0.3"/><text x="353.9" y="170.44" font-size="1.8">80</text><line x1="352.20" x2="353.00" y1="169.64" y2="169.64" stroke="#333" stroke-width="0.3"/><text x="353.9" y="153.70" font-size="1.8">100</text><line x1="352.20" x2="353.00" y1="152.90" y2="152.90" stroke="#333" stroke-width="0.3"/><text transform="translate(357.5,192.20) rotate(90)" text-anchor="middle" font-size="2.0" fill="#333" stroke="none">Velocity magnitude</text></g></svg>
</body></html>
